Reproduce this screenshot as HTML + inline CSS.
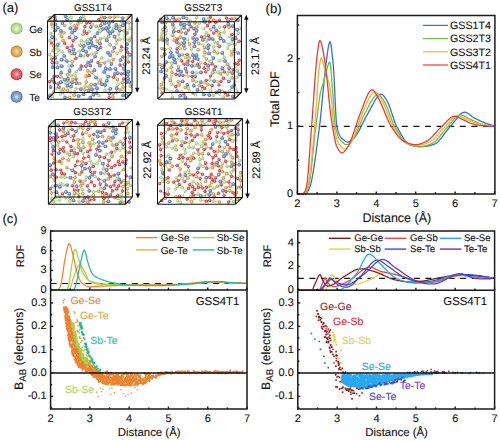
<!DOCTYPE html>
<html><head><meta charset="utf-8"><style>
html,body{margin:0;padding:0;background:#fff;width:500px;height:441px;overflow:hidden;}
svg{display:block;font-family:"Liberation Sans",sans-serif;text-rendering:geometricPrecision;}
text{stroke:currentColor;stroke-width:0.1px;}
</style></head><body><svg width="500" height="441" viewBox="0 0 500 441" font-family="Liberation Sans, sans-serif"><defs>
<radialGradient id="gge" cx="45%" cy="45%" r="55%"><stop offset="0" stop-color="#e0f4c8"/><stop offset="0.6" stop-color="#b0d888"/><stop offset="1" stop-color="#88b060"/></radialGradient>
<radialGradient id="gsb" cx="45%" cy="45%" r="55%"><stop offset="0" stop-color="#f8dca0"/><stop offset="0.6" stop-color="#dca450"/><stop offset="1" stop-color="#b07c30"/></radialGradient>
<radialGradient id="gse" cx="45%" cy="45%" r="55%"><stop offset="0" stop-color="#f8a0a0"/><stop offset="0.6" stop-color="#e04848"/><stop offset="1" stop-color="#b02828"/></radialGradient>
<radialGradient id="gte" cx="45%" cy="45%" r="55%"><stop offset="0" stop-color="#b8cce8"/><stop offset="0.6" stop-color="#6488c4"/><stop offset="1" stop-color="#4868a0"/></radialGradient>
<radialGradient id="Lge" cx="50%" cy="50%" r="50%"><stop offset="0" stop-color="#ffffff"/><stop offset="0.25" stop-color="#d8f0b8"/><stop offset="0.75" stop-color="#b0d888"/><stop offset="1" stop-color="#90b868"/></radialGradient>
<radialGradient id="Lsb" cx="50%" cy="50%" r="50%"><stop offset="0" stop-color="#fff8e0"/><stop offset="0.25" stop-color="#f0c878"/><stop offset="0.75" stop-color="#dca050"/><stop offset="1" stop-color="#b88038"/></radialGradient>
<radialGradient id="Lse" cx="50%" cy="50%" r="50%"><stop offset="0" stop-color="#ffffff"/><stop offset="0.25" stop-color="#f08890"/><stop offset="0.75" stop-color="#e05058"/><stop offset="1" stop-color="#b83840"/></radialGradient>
<radialGradient id="Lte" cx="50%" cy="50%" r="50%"><stop offset="0" stop-color="#ffffff"/><stop offset="0.25" stop-color="#a8c0e8"/><stop offset="0.75" stop-color="#7090c8"/><stop offset="1" stop-color="#5070a8"/></radialGradient>
</defs><rect width="500" height="441" fill="#fff"/><text x="2.50" y="12.30" font-size="13" text-anchor="start" fill="#111" color="#111" >(a)</text><circle cx="16.6" cy="28.6" r="6" fill="url(#Lge)"/><text x="29.20" y="32.70" font-size="10.2" text-anchor="start" fill="#111" color="#111" >Ge</text><circle cx="16.6" cy="51.5" r="6" fill="url(#Lsb)"/><text x="29.20" y="55.50" font-size="10.2" text-anchor="start" fill="#111" color="#111" >Sb</text><circle cx="16.6" cy="74.2" r="6" fill="url(#Lse)"/><text x="29.20" y="77.60" font-size="10.2" text-anchor="start" fill="#111" color="#111" >Se</text><circle cx="16.6" cy="96.8" r="6" fill="url(#Lte)"/><text x="29.20" y="100.50" font-size="10.2" text-anchor="start" fill="#111" color="#111" >Te</text><path d="M125.8 34.2L124.6 35.5M128.5 30.7L130.1 28.5M115.0 27.9L113.6 27.7M91.5 25.6L92.2 24.1M90.0 29.2L89.1 31.3M104.9 87.7L104.7 90.5M116.3 43.6L116.5 41.8M116.3 43.6L115.3 45.7M116.3 43.6L118.1 41.5M118.1 41.5L119.9 39.3M60.4 90.1L61.6 91.0M60.4 90.1L62.0 89.6M60.4 90.1L59.6 88.5M66.4 84.4L65.3 83.1M72.3 93.6L70.6 92.1M70.4 65.6L68.9 65.8M76.2 71.4L75.8 73.5M75.8 73.5L75.4 75.6M76.2 71.4L78.2 70.2M76.2 71.4L73.8 73.5M73.8 73.5L71.3 75.6M60.8 35.1L59.9 33.8M117.6 82.0L117.9 84.5M84.9 53.9L83.6 56.1M100.0 26.9L99.3 28.3M93.9 53.4L91.7 53.9M119.0 52.1L117.1 53.5M91.7 53.9L89.7 54.6M91.7 53.9L93.4 55.2M102.7 38.3L104.7 37.8M63.2 53.9L62.2 51.8M79.6 23.0L81.4 22.2M111.2 60.0L109.0 60.5M78.4 88.8L76.0 88.4M82.8 87.5L84.9 85.9M63.0 82.6L65.3 83.1M80.7 42.8L81.3 40.4M83.0 21.1L81.4 22.2M84.0 18.1L83.4 16.1M116.6 35.3L118.7 33.9M99.0 95.7L97.8 94.4M79.4 51.0L81.2 50.6M79.4 51.0L79.9 53.2M79.4 51.0L77.0 52.3M84.9 85.9L84.8 87.9M84.9 85.9L86.9 86.5M84.9 85.9L85.6 83.9M128.0 95.9L127.2 97.4M126.2 92.1L123.6 89.8M89.6 39.3L88.2 39.7M123.4 88.3L123.6 89.8M82.1 17.1L83.4 16.1M81.1 20.2L81.4 22.2M56.7 54.7L55.9 56.3M56.7 54.7L57.4 52.3M57.4 52.3L58.2 49.9M56.7 54.7L54.9 52.6M71.2 17.2L69.0 18.6M71.2 17.2L71.0 20.0M71.0 20.0L70.8 22.8M71.2 17.2L68.3 16.7M65.1 81.4L65.3 83.1M62.0 33.3L59.9 33.8M122.2 23.7L121.5 21.9M82.0 55.7L83.6 56.1M81.3 40.4L83.4 41.0M83.4 41.0L85.4 41.6M81.3 40.4L82.6 43.1M53.9 25.6L52.6 26.8M67.9 63.4L68.9 65.8M70.5 73.2L71.3 75.6M69.3 68.3L68.9 65.8M84.6 43.7L85.4 41.6M97.8 27.3L99.3 28.3M94.3 25.2L92.2 24.1M56.9 46.2L55.9 47.7M58.0 47.3L58.2 49.9M105.8 39.0L104.7 37.8M115.0 52.3L117.1 53.5M59.9 33.8L60.5 32.4M60.4 94.0L61.7 93.0M60.4 94.0L62.0 91.5M50.4 41.7L49.5 40.3M53.4 41.0L55.4 39.0M121.5 21.9L123.2 22.3M121.5 21.9L122.1 20.0M70.6 92.1L69.1 91.1M70.6 92.1L72.6 92.2M125.8 41.7L124.6 39.2M69.4 75.1L71.3 75.6M52.6 26.8L52.1 25.3M52.6 26.8L54.0 28.6M127.6 54.6L127.6 57.0M113.6 27.7L113.0 29.5M113.6 27.7L114.9 26.3M91.0 23.2L92.2 24.1M117.7 16.5L116.2 16.8M117.7 16.5L120.2 17.3M125.2 56.9L127.6 57.0M124.1 58.9L125.4 60.9M109.0 60.5L110.2 62.2M109.0 60.5L106.8 61.6M49.4 54.6L50.6 56.8M49.4 54.6L51.2 52.5M49.4 54.6L52.3 56.2M104.7 90.5L107.1 92.0M104.7 90.5L107.5 89.7M68.8 21.4L70.8 22.8M99.9 60.1L101.8 57.5M104.7 37.8L106.8 37.2M121.8 89.9L123.6 89.8M67.1 82.6L65.3 83.1M119.9 39.3L118.3 39.6M119.9 39.3L122.2 39.2M122.2 39.2L124.6 39.2M119.9 39.3L119.3 36.6M119.3 36.6L118.7 33.9M55.4 39.0L53.8 38.1M55.4 39.0L52.4 39.7M52.4 39.7L49.5 40.3M55.8 88.2L57.3 87.6M55.8 88.2L54.6 90.1M126.9 61.4L125.4 60.9M128.0 59.5L127.6 57.0M76.0 88.4L75.3 90.4M122.9 60.5L125.4 60.9M52.6 96.4L51.2 95.9M52.6 96.4L53.1 94.2M125.4 60.9L125.0 62.7M125.4 60.9L126.5 58.9M126.5 58.9L127.6 57.0M129.7 39.2L130.3 37.8M126.8 39.9L124.6 39.2M117.3 86.4L117.9 84.5M53.0 31.8L50.7 33.3M124.6 35.5L124.6 37.3M124.6 37.3L124.6 39.2M124.6 35.5L124.3 33.1M118.7 33.9L119.2 32.2M50.8 38.8L49.5 40.3M51.5 35.3L50.7 33.3M130.1 28.5L129.4 25.4M130.1 28.5L127.0 29.6M128.8 55.9L127.6 57.0M54.5 49.1L55.9 47.7M55.6 50.2L58.2 49.9M86.7 42.6L85.4 41.6M88.1 41.6L88.2 39.7M89.1 31.3L88.0 32.3M75.4 75.6L75.8 77.3M75.4 75.6L73.4 75.6M73.4 75.6L71.3 75.6M88.2 39.7L86.8 40.6M86.8 40.6L85.4 41.6M100.3 31.3L99.8 29.8M99.8 29.8L99.3 28.3M100.3 31.3L98.9 32.2M100.3 31.3L101.7 30.1M62.2 51.8L60.2 50.9M60.2 50.9L58.2 49.9M101.2 28.7L99.3 28.3M83.6 56.1L85.7 55.7M58.2 49.9L57.1 48.8M57.1 48.8L55.9 47.7M98.4 30.7L99.3 28.3M117.9 84.5L120.2 83.5M72.0 77.5L71.3 75.6M55.9 47.7L54.8 46.6M80.0 21.4L81.4 22.2M130.3 37.8L127.4 38.5M127.4 38.5L124.6 39.2M123.6 89.8L123.4 92.6M125.2 96.4L127.2 97.4" stroke="#b0d488" stroke-width="0.9" fill="none"/><path d="M125.4 31.9L124.0 30.8M118.1 27.2L119.7 26.2M84.2 92.0L84.7 89.8M116.5 41.8L116.7 40.0M98.3 78.8L100.6 80.0M97.6 80.2L99.3 82.8M94.0 75.0L92.0 72.5M116.4 92.3L114.8 92.7M114.8 92.7L113.1 93.2M116.4 92.3L116.6 90.3M116.4 92.3L118.2 91.2M118.2 91.2L119.9 90.0M60.8 76.9L59.1 76.6M60.8 76.9L61.0 74.8M60.8 76.9L62.8 78.3M61.6 91.0L62.9 92.0M62.0 89.6L63.5 89.1M68.2 83.9L68.9 82.1M74.0 95.2L74.3 93.8M74.3 93.8L74.6 92.3M74.0 95.2L72.3 93.6M74.0 95.2L76.3 95.6M72.1 63.6L72.2 61.8M61.6 36.4L60.8 35.1M61.6 36.4L62.8 34.6M62.8 34.6L64.0 32.8M61.6 36.4L62.3 38.4M62.3 38.4L63.1 40.5M72.4 27.0L74.4 25.8M117.3 79.4L115.4 78.3M117.3 79.4L117.6 82.0M117.3 79.4L116.0 76.8M75.5 27.0L74.4 25.8M77.2 26.0L77.8 23.9M101.3 23.3L101.9 21.3M68.4 80.4L68.9 82.1M67.7 76.7L67.4 74.7M129.9 84.2L130.3 86.3M86.2 76.3L87.7 76.0M86.2 76.3L86.3 79.1M86.3 79.1L86.3 81.9M86.2 76.3L87.0 73.6M87.0 73.6L87.7 70.8M96.1 52.8L95.6 54.7M96.1 52.8L97.1 51.1M96.1 52.8L93.9 53.4M69.3 88.4L67.5 90.2M120.9 50.6L121.1 48.6M120.9 50.6L119.0 52.1M120.9 50.6L123.8 49.6M63.9 41.8L63.1 40.5M71.6 53.4L73.1 53.4M71.6 53.4L70.5 52.1M71.6 53.4L72.5 51.4M63.1 40.5L60.4 42.6M101.9 21.3L103.3 22.2M101.9 21.3L100.3 20.4M100.6 38.8L98.9 39.9M98.9 39.9L97.1 40.9M100.6 38.8L102.7 38.3M100.6 38.8L100.3 41.2M77.8 23.9L78.2 22.2M77.8 23.9L76.1 24.8M76.1 24.8L74.4 25.8M77.8 23.9L79.6 23.0M54.7 64.8L56.7 62.4M113.4 59.4L111.2 60.0M113.4 59.4L112.4 61.6M113.4 59.4L111.7 57.3M50.1 17.6L52.4 17.0M50.1 17.6L52.7 18.7M50.1 17.6L50.9 20.8M50.9 20.8L51.6 23.9M82.7 89.5L84.7 89.8M80.1 45.2L82.0 45.5M80.1 45.2L80.7 42.8M80.1 45.2L81.6 47.7M84.6 20.1L85.6 21.5M84.6 20.1L83.0 21.1M84.6 20.1L84.0 18.1M115.6 38.3L116.7 40.0M84.8 87.9L84.7 89.8M86.9 86.5L88.9 87.1M85.6 83.9L86.3 81.9M83.8 32.6L83.2 34.3M113.1 93.2L111.3 93.3M113.1 93.2L113.0 95.2M113.0 95.2L112.9 97.1M123.1 86.8L123.4 88.3M123.1 86.8L122.7 84.6M122.7 84.6L122.4 82.4M123.1 86.8L121.5 88.4M121.5 88.4L119.9 90.0M88.9 87.1L90.1 85.8M90.1 85.8L91.3 84.5M88.9 87.1L88.7 88.9M88.9 87.1L90.4 88.2M54.9 52.6L53.1 50.5M66.9 80.8L68.9 82.1M64.0 32.8L62.5 31.9M64.0 32.8L62.0 33.3M121.3 25.8L119.7 26.2M103.1 17.3L101.6 16.9M107.3 17.4L110.0 17.2M53.5 24.1L51.6 23.9M76.7 94.1L74.6 92.3M69.5 61.4L72.2 61.8M68.5 72.8L67.4 74.7M96.4 26.2L97.8 27.3M96.4 26.2L94.3 25.2M55.7 45.1L53.6 45.4M107.8 38.4L108.8 36.6M108.5 42.5L110.2 44.8M112.8 51.2L113.6 49.5M112.8 51.2L115.0 52.3M112.8 51.2L111.4 53.1M74.0 60.0L72.2 61.8M59.2 61.0L56.7 62.4M57.1 64.9L56.7 62.4M61.7 93.0L62.9 92.0M62.0 91.5L63.5 89.1M52.5 44.2L53.6 45.4M69.1 91.1L67.5 90.2M72.6 92.2L74.6 92.3M128.1 42.4L129.1 40.6M67.4 74.7L69.4 75.1M59.3 64.3L56.7 62.4M52.1 25.3L51.6 23.9M63.6 24.3L64.7 25.5M116.2 16.8L114.6 17.0M105.2 65.5L104.7 62.7M100.2 18.2L101.6 16.9M106.8 61.6L104.7 62.7M54.4 62.4L56.7 62.4M95.9 38.7L97.1 40.9M56.7 62.4L55.9 60.2M124.4 82.3L122.4 82.4M51.2 52.5L53.1 50.5M83.2 34.3L85.0 33.9M87.7 70.8L89.9 71.6M89.9 71.6L92.0 72.5M87.7 70.8L88.5 73.3M87.7 70.8L86.8 68.4M114.6 17.0L112.3 17.1M112.3 17.1L110.0 17.2M114.6 17.0L113.6 19.3M93.2 84.6L91.3 84.5M97.2 83.7L99.3 82.8M101.3 62.7L104.7 62.7M100.6 80.0L100.0 81.4M100.0 81.4L99.3 82.8M100.6 80.0L101.4 82.2M106.8 37.2L108.8 36.6M91.3 84.5L91.7 86.9M119.9 90.0L121.8 89.9M119.9 90.0L118.3 89.1M118.0 25.6L119.7 26.2M68.9 82.1L70.5 82.3M68.9 82.1L67.1 82.6M129.2 16.5L129.0 19.5M129.0 19.5L128.7 22.4M129.2 16.5L125.9 17.3M118.3 39.6L116.7 40.0M54.6 90.1L53.5 91.9M75.3 90.4L74.6 92.3M53.1 94.2L53.5 91.9M129.1 40.6L129.7 39.2M129.1 40.6L126.8 39.9M79.6 83.6L78.0 83.4M84.7 89.8L86.6 90.2M124.3 33.1L124.0 30.8M129.4 25.4L128.7 22.4M127.0 29.6L124.0 30.8M53.1 50.5L54.5 49.1M53.1 50.5L55.6 50.2M53.1 50.5L53.4 48.0M53.4 48.0L53.6 45.4M100.7 83.6L99.3 82.8M93.2 71.4L92.0 72.5M92.0 72.5L90.6 74.1M97.1 40.9L98.6 42.2M112.3 46.3L110.2 44.8M112.9 97.1L111.0 97.3M53.5 91.9L51.6 93.7M126.8 22.6L128.7 22.4M53.4 21.8L51.6 23.9M108.8 36.6L109.4 34.9M69.6 97.5L67.4 97.5M124.0 30.8L121.9 30.6M123.0 80.7L122.4 82.4M67.5 90.2L65.5 89.6M65.5 89.6L63.5 89.1M120.2 83.5L122.4 82.4M72.8 79.4L72.4 80.9M72.8 79.4L74.4 79.2M72.8 79.4L72.0 77.5M64.0 94.8L62.9 92.0M54.8 46.6L53.6 45.4M62.9 92.0L63.2 90.6M63.2 90.6L63.5 89.1M104.7 62.7L102.2 64.2M74.5 28.1L74.4 25.8" stroke="#dcae68" stroke-width="0.9" fill="none"/><path d="M90.3 24.7L89.8 22.3M59.1 76.6L57.3 76.3M119.9 65.1L122.3 64.7M119.9 65.1L120.1 62.5M119.9 65.1L121.9 67.0M80.7 67.5L81.2 65.9M115.4 78.3L113.5 77.2M76.7 28.1L75.7 29.2M76.7 28.1L75.5 27.0M76.7 28.1L77.2 26.0M87.0 53.5L87.7 55.3M98.2 47.0L100.6 47.5M87.7 76.0L89.2 75.7M54.6 82.7L56.3 83.3M56.3 83.3L58.0 83.8M54.6 82.7L53.6 81.2M54.6 82.7L52.0 82.1M52.0 82.1L49.4 81.5M121.1 48.6L121.4 46.7M90.8 63.3L90.3 65.7M64.7 43.2L63.9 41.8M64.7 43.2L66.0 45.4M66.0 45.4L67.3 47.6M89.7 54.6L87.7 55.3M100.3 20.4L98.8 19.4M68.3 49.3L67.3 47.6M59.4 83.0L58.0 83.8M85.6 21.5L86.7 23.0M127.2 50.4L127.7 52.2M124.1 47.7L121.4 46.7M58.0 83.8L58.4 85.4M110.8 76.9L113.5 77.2M85.7 32.2L86.9 33.4M84.7 28.7L84.9 26.4M92.8 37.7L94.6 36.5M78.2 56.8L75.9 58.3M89.2 64.1L90.3 65.7M75.9 58.3L75.3 55.9M75.9 58.3L74.0 60.0M59.3 74.5L57.3 76.3M51.4 43.0L52.5 44.2M51.4 43.0L50.4 41.7M51.4 43.0L53.4 41.0M110.8 22.3L112.7 21.5M127.7 52.2L128.8 53.5M127.7 52.2L127.6 54.6M89.8 22.3L91.0 23.2M89.8 22.3L88.2 22.7M88.2 22.7L86.7 23.0M123.0 73.5L121.4 73.8M122.9 56.8L121.6 58.4M122.9 56.8L125.2 56.9M122.9 56.8L124.1 58.9M98.8 19.4L100.2 18.2M100.6 47.5L99.3 48.4M100.6 47.5L100.3 45.5M52.0 60.8L51.9 59.1M94.6 36.5L96.0 34.8M94.6 36.5L95.9 38.7M51.0 80.6L49.4 81.5M50.6 56.8L51.9 59.1M85.0 33.9L86.9 33.4M88.5 73.3L89.2 75.7M113.6 19.3L112.7 21.5M98.0 62.7L98.9 64.2M98.0 62.7L99.9 60.1M98.0 62.7L101.3 62.7M57.3 76.3L55.8 76.3M113.5 77.2L114.1 75.7M90.3 65.7L88.0 65.8M128.5 62.0L126.9 61.4M128.5 62.0L126.6 63.2M128.5 62.0L128.0 59.5M81.2 65.9L83.5 65.9M119.6 73.4L121.4 73.8M74.5 39.1L73.2 40.6M88.0 32.3L86.9 33.4M75.8 77.3L76.1 79.0M109.3 95.4L109.1 97.5M72.1 45.9L72.7 47.7M72.1 45.9L69.7 46.8M69.7 46.8L67.3 47.6M72.1 45.9L72.6 43.3M72.6 43.3L73.2 40.6M90.6 74.1L89.2 75.7M51.9 59.1L53.5 58.5M111.0 97.3L109.1 97.5M50.0 84.3L49.4 81.5M123.6 78.9L123.0 80.7M123.6 78.9L125.8 78.7M85.7 55.7L87.7 55.3M76.3 81.1L76.1 79.0M74.4 79.2L76.1 79.0M69.3 37.6L71.2 39.1M71.2 39.1L73.2 40.6M69.3 37.6L70.7 35.1M86.7 23.0L85.8 24.7M85.8 24.7L84.9 26.4" stroke="#e07a7a" stroke-width="0.9" fill="none"/><path d="M126.9 33.0L125.8 34.2M126.9 33.0L125.4 31.9M126.9 33.0L128.5 30.7M116.5 28.2L115.0 27.9M116.5 28.2L116.4 26.6M116.4 26.6L116.3 24.9M116.5 28.2L118.1 27.2M90.8 27.1L91.5 25.6M90.8 27.1L90.0 29.2M90.8 27.1L90.3 24.7M105.2 84.8L103.6 84.6M103.6 84.6L102.1 84.4M105.2 84.8L106.0 82.7M106.0 82.7L106.8 80.7M105.2 84.8L104.9 87.7M83.7 94.2L84.2 92.0M83.7 94.2L81.2 95.1M81.2 95.1L78.7 96.0M83.7 94.2L82.2 91.7M82.2 91.7L80.8 89.1M115.3 45.7L114.3 47.8M95.9 77.5L98.3 78.8M95.9 77.5L97.6 80.2M95.9 77.5L94.0 75.0M116.6 90.3L116.7 88.2M61.0 74.8L61.2 72.7M62.8 78.3L64.8 79.6M59.6 88.5L58.9 87.0M67.4 85.7L66.4 84.4M67.4 85.7L69.3 86.2M69.3 86.2L71.1 86.6M67.4 85.7L68.2 83.9M76.3 95.6L78.7 96.0M91.2 42.3L92.0 43.8M92.0 43.8L92.7 45.3M91.2 42.3L89.6 43.0M89.6 43.0L88.0 43.6M91.2 42.3L91.1 40.6M91.1 40.6L91.1 38.9M72.0 65.5L70.4 65.6M72.0 65.5L72.1 63.6M72.0 65.5L70.8 68.1M70.8 68.1L69.6 70.8M78.2 70.2L80.2 69.0M122.3 64.7L124.7 64.4M120.1 62.5L120.4 60.0M121.9 67.0L124.0 68.9M70.4 28.2L71.2 30.4M71.2 30.4L72.1 32.5M70.4 28.2L72.4 27.0M70.4 28.2L72.5 29.3M72.5 29.3L74.6 30.4M80.2 69.0L80.7 67.5M80.2 69.0L83.0 67.5M83.0 67.5L85.8 66.0M116.0 76.8L114.8 74.1M75.7 29.2L74.6 30.4M86.2 51.8L84.6 51.0M84.6 51.0L83.0 50.2M86.2 51.8L87.0 53.5M86.2 51.8L84.9 53.9M95.8 46.5L94.2 45.9M94.2 45.9L92.7 45.3M95.8 46.5L96.9 47.9M96.9 47.9L98.0 49.3M95.8 46.5L98.2 47.0M100.7 25.4L100.0 26.9M100.7 25.4L101.3 23.3M100.7 25.4L101.9 27.2M101.9 27.2L103.1 29.0M68.0 78.7L66.4 79.2M66.4 79.2L64.8 79.6M68.0 78.7L68.4 80.4M68.0 78.7L67.7 76.7M129.5 82.0L127.9 82.1M127.9 82.1L126.4 82.2M129.5 82.0L128.7 80.2M128.7 80.2L128.0 78.4M129.5 82.0L129.9 84.2M95.6 54.7L95.1 56.5M97.1 51.1L98.0 49.3M71.1 86.6L71.6 84.6M71.6 84.6L72.1 82.5M71.1 86.6L69.3 88.4M53.6 81.2L52.5 79.7M123.8 49.6L126.7 48.6M91.4 60.9L89.7 61.7M89.7 61.7L88.0 62.6M91.4 60.9L90.8 63.3M91.4 60.9L93.2 58.7M93.2 58.7L95.1 56.5M73.1 53.4L74.6 53.5M70.5 52.1L69.4 50.9M72.5 51.4L73.4 49.5M104.0 71.9L104.9 70.1M104.9 70.1L105.8 68.4M104.0 71.9L106.1 74.2M106.1 74.2L108.1 76.6M104.0 71.9L107.0 70.4M107.0 70.4L110.0 69.0M93.4 55.2L95.1 56.5M60.4 42.6L57.8 44.7M103.3 22.2L104.7 23.2M100.3 41.2L100.0 43.5M64.2 56.0L62.9 57.8M62.9 57.8L61.7 59.6M64.2 56.0L63.2 53.9M64.2 56.0L65.5 58.5M65.5 58.5L66.8 61.0M78.2 22.2L78.6 20.6M106.8 80.7L107.5 78.6M107.5 78.6L108.1 76.6M106.8 80.7L104.5 82.6M104.5 82.6L102.1 84.4M52.6 67.1L52.4 64.8M52.4 64.8L52.2 62.5M52.6 67.1L55.1 67.3M55.1 67.3L57.5 67.5M52.6 67.1L54.7 64.8M69.4 50.9L68.3 49.3M69.4 50.9L71.4 50.2M71.4 50.2L73.4 49.5M112.4 61.6L111.4 63.8M111.7 57.3L110.0 55.1M52.4 17.0L54.7 16.5M52.7 18.7L55.3 19.7M80.8 89.1L82.7 89.5M80.8 89.1L78.4 88.8M80.8 89.1L82.8 87.5M60.7 82.2L59.4 83.0M60.7 82.2L63.0 82.6M60.7 82.2L62.8 80.9M62.8 80.9L64.8 79.6M82.0 45.5L83.8 45.9M81.6 47.7L83.0 50.2M114.5 36.7L115.6 38.3M114.5 36.7L116.6 35.3M114.5 36.7L112.3 35.0M112.3 35.0L110.0 33.3M93.3 94.7L95.0 93.9M95.0 93.9L96.7 93.1M93.3 94.7L91.8 96.2M91.8 96.2L90.3 97.7M93.3 94.7L92.7 92.0M92.7 92.0L92.0 89.4M97.8 94.4L96.7 93.1M126.7 48.6L127.2 50.4M126.7 48.6L126.9 46.4M126.9 46.4L127.0 44.2M126.7 48.6L124.1 47.7M81.2 50.6L83.0 50.2M79.9 53.2L80.5 55.4M77.0 52.3L74.6 53.5M58.4 85.4L58.9 87.0M108.1 76.6L110.8 76.9M128.8 94.4L128.0 95.9M128.8 94.4L126.0 94.8M126.0 94.8L123.2 95.3M128.8 94.4L126.2 92.1M84.4 31.0L85.7 32.2M84.4 31.0L83.8 32.6M84.4 31.0L84.7 28.7M111.3 93.3L109.5 93.4M91.1 38.9L89.6 39.3M91.1 38.9L92.8 37.7M88.7 88.9L88.6 90.7M90.4 88.2L92.0 89.4M80.7 18.1L79.7 19.4M79.7 19.4L78.6 20.6M80.7 18.1L82.1 17.1M80.7 18.1L81.1 20.2M55.9 56.3L55.2 57.9M69.0 18.6L66.9 19.9M68.3 16.7L65.4 16.1M64.8 79.6L65.1 81.4M64.8 79.6L66.9 80.8M62.5 31.9L61.0 30.9M122.9 25.4L121.3 25.8M122.9 25.4L123.9 24.0M123.9 24.0L124.9 22.7M122.9 25.4L122.2 23.7M104.6 17.6L103.1 17.3M104.6 17.6L107.3 17.4M80.5 55.4L82.0 55.7M80.5 55.4L78.2 56.8M82.6 43.1L83.8 45.9M55.3 24.3L53.5 24.1M55.3 24.3L53.9 25.6M55.3 24.3L56.6 26.0M56.6 26.0L57.8 27.6M128.4 71.5L128.1 73.1M128.1 73.1L127.8 74.7M128.4 71.5L126.5 72.3M126.5 72.3L124.6 73.1M128.4 71.5L126.2 70.2M126.2 70.2L124.0 68.9M78.7 96.0L76.7 94.1M66.8 61.0L67.9 63.4M66.8 61.0L64.3 60.3M64.3 60.3L61.7 59.6M66.8 61.0L69.5 61.4M69.6 70.8L68.5 72.8M69.6 70.8L70.5 73.2M69.6 70.8L69.3 68.3M83.8 45.9L83.4 48.0M83.4 48.0L83.0 50.2M83.8 45.9L84.6 43.7M57.8 27.6L56.6 29.0M56.6 29.0L55.3 30.3M57.8 27.6L59.4 29.3M59.4 29.3L61.0 30.9M92.7 45.3L91.0 46.4M91.0 46.4L89.3 47.6M57.8 44.7L56.9 46.2M57.8 44.7L55.7 45.1M57.8 44.7L58.0 47.3M106.8 40.2L105.8 39.0M106.8 40.2L107.8 38.4M106.8 40.2L108.5 42.5M113.6 49.5L114.3 47.8M111.4 53.1L110.0 55.1M88.0 62.6L89.2 64.1M88.0 62.6L86.9 64.3M86.9 64.3L85.8 66.0M60.5 32.4L61.0 30.9M75.3 55.9L74.6 53.5M61.7 59.6L59.2 61.0M57.5 67.5L59.7 66.8M59.7 66.8L61.8 66.2M57.5 67.5L57.1 64.9M61.2 72.7L59.3 74.5M123.2 22.3L124.9 22.7M122.1 20.0L122.6 18.1M127.0 44.2L128.1 42.4M127.0 44.2L125.8 41.7M109.0 23.1L109.0 25.0M109.0 25.0L109.0 27.0M109.0 23.1L110.8 22.3M109.0 23.1L106.8 23.1M106.8 23.1L104.7 23.2M110.0 69.0L107.9 68.7M107.9 68.7L105.8 68.4M110.0 69.0L110.7 66.4M110.7 66.4L111.4 63.8M110.0 69.0L112.8 68.9M112.8 68.9L115.6 68.8M61.8 66.2L59.3 64.3M54.0 28.6L55.3 30.3M128.8 53.5L129.9 54.9M62.4 23.0L63.6 24.3M62.4 23.0L64.6 21.5M64.6 21.5L66.9 19.9M113.0 29.5L112.5 31.3M114.9 26.3L116.3 24.9M120.2 17.3L122.6 18.1M124.6 73.1L123.0 73.5M124.6 73.1L126.2 73.9M126.2 73.9L127.8 74.7M105.8 68.4L105.2 65.5M74.6 53.5L74.0 51.5M74.0 51.5L73.4 49.5M115.6 68.8L116.7 71.0M116.7 71.0L117.7 73.1M115.6 68.8L115.2 71.5M115.2 71.5L114.8 74.1M121.6 58.4L120.4 60.0M110.2 62.2L111.4 63.8M99.3 48.4L98.0 49.3M100.3 45.5L100.0 43.5M52.2 62.5L52.0 60.8M52.2 62.5L54.4 62.4M96.0 34.8L97.4 33.1M52.5 79.7L51.0 80.6M52.5 79.7L53.4 78.0M53.4 78.0L54.2 76.3M55.9 60.2L55.2 57.9M126.4 82.2L124.4 82.3M126.4 82.2L127.2 80.3M127.2 80.3L128.0 78.4M52.3 56.2L55.2 57.9M107.1 92.0L109.5 93.4M107.5 89.7L110.3 88.8M86.8 68.4L85.8 66.0M95.1 84.7L93.2 84.6M95.1 84.7L96.1 86.6M96.1 86.6L97.0 88.4M95.1 84.7L97.2 83.7M66.9 19.9L66.1 18.0M66.1 18.0L65.4 16.1M66.9 19.9L68.8 21.4M98.9 64.2L99.8 65.6M101.4 82.2L102.1 84.4M55.8 76.3L54.2 76.3M91.7 86.9L92.0 89.4M118.3 89.1L116.7 88.2M110.0 55.1L109.0 53.9M109.0 53.9L108.0 52.7M116.3 24.9L118.0 25.6M114.1 75.7L114.8 74.1M70.5 82.3L72.1 82.5M88.0 65.8L85.8 66.0M125.9 17.3L122.6 18.1M53.8 38.1L52.2 37.2M57.3 87.6L58.9 87.0M126.6 63.2L124.7 64.4M120.4 60.0L122.9 60.5M108.0 30.9L109.0 32.1M109.0 32.1L110.0 33.3M108.0 30.9L107.1 29.6M107.1 29.6L106.2 28.2M108.0 30.9L108.5 29.0M108.5 29.0L109.0 27.0M51.2 95.9L49.8 95.4M125.0 62.7L124.7 64.4M109.0 27.0L107.6 27.6M107.6 27.6L106.2 28.2M78.0 83.4L76.4 83.1M116.7 88.2L117.3 86.4M86.6 90.2L88.6 90.7M55.3 30.3L53.0 31.8M119.2 32.2L119.8 30.4M83.5 65.9L85.8 66.0M52.2 37.2L50.8 38.8M52.2 37.2L51.5 35.3M129.9 54.9L128.8 55.9M117.7 73.1L116.2 73.6M116.2 73.6L114.8 74.1M117.7 73.1L119.6 73.4M97.0 88.4L96.9 90.7M96.9 90.7L96.7 93.1M97.0 88.4L94.5 88.9M94.5 88.9L92.0 89.4M75.9 37.7L74.5 39.1M75.9 37.7L74.0 35.1M74.0 35.1L72.1 32.5M88.6 90.7L90.3 90.0M90.3 90.0L92.0 89.4M88.0 43.6L86.7 42.6M88.0 43.6L88.1 41.6M124.7 64.4L124.4 66.7M124.4 66.7L124.0 68.9M109.5 93.4L109.3 95.4M109.5 93.4L109.9 91.1M109.9 91.1L110.3 88.8M102.1 84.4L100.7 83.6M94.4 70.2L93.2 71.4M72.7 47.7L73.4 49.5M98.9 32.2L97.4 33.1M101.7 30.1L103.1 29.0M122.6 18.1L123.8 20.4M123.8 20.4L124.9 22.7M98.6 42.2L100.0 43.5M53.5 58.5L55.2 57.9M114.3 47.8L112.3 46.3M54.7 16.5L55.0 18.1M55.0 18.1L55.3 19.7M51.6 93.7L49.8 95.4M124.9 22.7L126.8 22.6M50.6 87.1L50.0 84.3M55.3 19.7L53.4 21.8M109.4 34.9L110.0 33.3M67.4 97.5L65.1 97.5M103.1 29.0L104.7 28.6M104.7 28.6L106.2 28.2M103.1 29.0L101.2 28.7M121.9 30.6L119.8 30.4M125.8 78.7L128.0 78.4M76.4 83.1L76.3 81.1M76.4 83.1L74.2 82.8M74.2 82.8L72.1 82.5M97.4 33.1L98.4 30.7M72.4 80.9L72.1 82.5M65.1 97.5L64.0 94.8M78.6 20.6L80.0 21.4M102.2 64.2L99.8 65.6M112.5 31.3L111.2 32.3M111.2 32.3L110.0 33.3M74.6 30.4L73.3 31.5M73.3 31.5L72.1 32.5M74.6 30.4L74.5 28.1M123.4 92.6L123.2 95.3M70.7 35.1L72.1 32.5M123.2 95.3L125.2 96.4M127.8 74.7L127.9 76.5M127.9 76.5L128.0 78.4" stroke="#8ca4d0" stroke-width="0.9" fill="none"/><circle cx="88.2" cy="39.7" r="1.6" fill="url(#gge)"/><circle cx="85.4" cy="41.6" r="1.6" fill="url(#gge)"/><circle cx="51.4" cy="43.0" r="1.6" fill="url(#gse)"/><circle cx="99.3" cy="82.8" r="1.75" fill="url(#gsb)"/><circle cx="96.1" cy="52.8" r="1.75" fill="url(#gsb)"/><circle cx="119.7" cy="26.2" r="1.75" fill="url(#gsb)"/><circle cx="118.7" cy="33.9" r="1.6" fill="url(#gge)"/><circle cx="100.6" cy="38.8" r="1.75" fill="url(#gsb)"/><circle cx="65.3" cy="83.1" r="1.6" fill="url(#gge)"/><circle cx="123.6" cy="78.9" r="1.6" fill="url(#gse)"/><circle cx="54.7" cy="16.5" r="1.85" fill="url(#gte)"/><circle cx="75.9" cy="37.7" r="1.85" fill="url(#gte)"/><circle cx="67.4" cy="85.7" r="1.85" fill="url(#gte)"/><circle cx="69.4" cy="50.9" r="1.85" fill="url(#gte)"/><circle cx="97.1" cy="40.9" r="1.75" fill="url(#gsb)"/><circle cx="62.4" cy="23.0" r="1.85" fill="url(#gte)"/><circle cx="122.6" cy="18.1" r="1.85" fill="url(#gte)"/><circle cx="129.9" cy="54.9" r="1.85" fill="url(#gte)"/><circle cx="108.0" cy="52.7" r="1.85" fill="url(#gte)"/><circle cx="74.6" cy="30.4" r="1.85" fill="url(#gte)"/><circle cx="56.7" cy="62.4" r="1.75" fill="url(#gsb)"/><circle cx="80.8" cy="89.1" r="1.85" fill="url(#gte)"/><circle cx="70.8" cy="22.8" r="1.6" fill="url(#gge)"/><circle cx="49.5" cy="40.3" r="1.6" fill="url(#gge)"/><circle cx="50.6" cy="87.1" r="1.85" fill="url(#gte)"/><circle cx="69.6" cy="70.8" r="1.85" fill="url(#gte)"/><circle cx="106.8" cy="40.2" r="1.85" fill="url(#gte)"/><circle cx="113.6" cy="27.7" r="1.6" fill="url(#gge)"/><circle cx="114.6" cy="17.0" r="1.75" fill="url(#gsb)"/><circle cx="88.6" cy="90.7" r="1.85" fill="url(#gte)"/><circle cx="52.6" cy="67.1" r="1.85" fill="url(#gte)"/><circle cx="58.0" cy="83.8" r="1.6" fill="url(#gse)"/><circle cx="104.6" cy="17.6" r="1.85" fill="url(#gte)"/><circle cx="84.7" cy="89.8" r="1.75" fill="url(#gsb)"/><circle cx="126.9" cy="33.0" r="1.85" fill="url(#gte)"/><circle cx="76.2" cy="71.4" r="1.6" fill="url(#gge)"/><circle cx="61.2" cy="72.7" r="1.85" fill="url(#gte)"/><circle cx="117.1" cy="53.5" r="1.6" fill="url(#gge)"/><circle cx="84.9" cy="85.9" r="1.6" fill="url(#gge)"/><circle cx="49.4" cy="81.5" r="1.6" fill="url(#gse)"/><circle cx="106.8" cy="80.7" r="1.85" fill="url(#gte)"/><circle cx="66.8" cy="61.0" r="1.85" fill="url(#gte)"/><circle cx="53.5" cy="91.9" r="1.75" fill="url(#gsb)"/><circle cx="71.6" cy="53.4" r="1.75" fill="url(#gsb)"/><circle cx="91.2" cy="42.3" r="1.85" fill="url(#gte)"/><circle cx="114.8" cy="74.1" r="1.85" fill="url(#gte)"/><circle cx="96.7" cy="93.1" r="1.85" fill="url(#gte)"/><circle cx="130.3" cy="86.3" r="1.75" fill="url(#gsb)"/><circle cx="122.9" cy="56.8" r="1.6" fill="url(#gse)"/><circle cx="100.3" cy="31.3" r="1.6" fill="url(#gge)"/><circle cx="77.8" cy="23.9" r="1.75" fill="url(#gsb)"/><circle cx="59.9" cy="33.8" r="1.6" fill="url(#gge)"/><circle cx="84.6" cy="20.1" r="1.75" fill="url(#gsb)"/><circle cx="64.7" cy="25.5" r="1.75" fill="url(#gsb)"/><circle cx="87.7" cy="70.8" r="1.75" fill="url(#gsb)"/><circle cx="124.0" cy="68.9" r="1.85" fill="url(#gte)"/><circle cx="89.8" cy="22.3" r="1.6" fill="url(#gse)"/><circle cx="58.9" cy="87.0" r="1.85" fill="url(#gte)"/><circle cx="62.2" cy="51.8" r="1.6" fill="url(#gge)"/><circle cx="100.6" cy="80.0" r="1.75" fill="url(#gsb)"/><circle cx="71.3" cy="75.6" r="1.6" fill="url(#gge)"/><circle cx="60.4" cy="94.0" r="1.6" fill="url(#gge)"/><circle cx="83.2" cy="34.3" r="1.75" fill="url(#gsb)"/><circle cx="110.0" cy="55.1" r="1.85" fill="url(#gte)"/><circle cx="69.3" cy="37.6" r="1.6" fill="url(#gse)"/><circle cx="91.3" cy="84.5" r="1.75" fill="url(#gsb)"/><circle cx="91.4" cy="60.9" r="1.85" fill="url(#gte)"/><circle cx="67.4" cy="74.7" r="1.75" fill="url(#gsb)"/><circle cx="129.5" cy="82.0" r="1.85" fill="url(#gte)"/><circle cx="99.3" cy="28.3" r="1.6" fill="url(#gge)"/><circle cx="128.0" cy="78.4" r="1.85" fill="url(#gte)"/><circle cx="75.4" cy="75.6" r="1.6" fill="url(#gge)"/><circle cx="92.7" cy="45.3" r="1.85" fill="url(#gte)"/><circle cx="72.1" cy="45.9" r="1.6" fill="url(#gse)"/><circle cx="78.6" cy="20.6" r="1.85" fill="url(#gte)"/><circle cx="49.8" cy="95.4" r="1.85" fill="url(#gte)"/><circle cx="57.5" cy="67.5" r="1.85" fill="url(#gte)"/><circle cx="52.6" cy="26.8" r="1.6" fill="url(#gge)"/><circle cx="50.7" cy="33.3" r="1.6" fill="url(#gge)"/><circle cx="86.7" cy="23.0" r="1.6" fill="url(#gse)"/><circle cx="98.0" cy="62.7" r="1.6" fill="url(#gse)"/><circle cx="70.4" cy="28.2" r="1.85" fill="url(#gte)"/><circle cx="64.0" cy="32.8" r="1.75" fill="url(#gsb)"/><circle cx="112.9" cy="97.1" r="1.75" fill="url(#gsb)"/><circle cx="57.8" cy="44.7" r="1.85" fill="url(#gte)"/><circle cx="53.6" cy="45.4" r="1.75" fill="url(#gsb)"/><circle cx="92.0" cy="89.4" r="1.85" fill="url(#gte)"/><circle cx="78.7" cy="96.0" r="1.85" fill="url(#gte)"/><circle cx="91.1" cy="38.9" r="1.85" fill="url(#gte)"/><circle cx="55.3" cy="19.7" r="1.85" fill="url(#gte)"/><circle cx="115.6" cy="68.8" r="1.85" fill="url(#gte)"/><circle cx="89.1" cy="31.3" r="1.6" fill="url(#gge)"/><circle cx="102.1" cy="84.4" r="1.85" fill="url(#gte)"/><circle cx="88.0" cy="62.6" r="1.85" fill="url(#gte)"/><circle cx="83.6" cy="56.1" r="1.6" fill="url(#gge)"/><circle cx="51.6" cy="23.9" r="1.75" fill="url(#gsb)"/><circle cx="83.7" cy="94.2" r="1.85" fill="url(#gte)"/><circle cx="68.9" cy="82.1" r="1.75" fill="url(#gsb)"/><circle cx="76.0" cy="88.4" r="1.6" fill="url(#gge)"/><circle cx="127.2" cy="97.4" r="1.6" fill="url(#gge)"/><circle cx="91.7" cy="53.9" r="1.6" fill="url(#gge)"/><circle cx="75.9" cy="58.3" r="1.6" fill="url(#gse)"/><circle cx="93.3" cy="94.7" r="1.85" fill="url(#gte)"/><circle cx="55.3" cy="30.3" r="1.85" fill="url(#gte)"/><circle cx="104.7" cy="37.8" r="1.6" fill="url(#gge)"/><circle cx="122.9" cy="25.4" r="1.85" fill="url(#gte)"/><circle cx="52.6" cy="96.4" r="1.6" fill="url(#gge)"/><circle cx="60.8" cy="76.9" r="1.75" fill="url(#gsb)"/><circle cx="60.7" cy="82.2" r="1.85" fill="url(#gte)"/><circle cx="53.1" cy="50.5" r="1.75" fill="url(#gsb)"/><circle cx="112.5" cy="31.3" r="1.85" fill="url(#gte)"/><circle cx="113.4" cy="59.4" r="1.75" fill="url(#gsb)"/><circle cx="55.8" cy="88.2" r="1.6" fill="url(#gge)"/><circle cx="67.5" cy="90.2" r="1.75" fill="url(#gsb)"/><circle cx="55.3" cy="24.3" r="1.85" fill="url(#gte)"/><circle cx="63.5" cy="89.1" r="1.75" fill="url(#gsb)"/><circle cx="71.1" cy="86.6" r="1.85" fill="url(#gte)"/><circle cx="109.5" cy="93.4" r="1.85" fill="url(#gte)"/><circle cx="116.7" cy="40.0" r="1.75" fill="url(#gsb)"/><circle cx="112.8" cy="51.2" r="1.75" fill="url(#gsb)"/><circle cx="119.9" cy="90.0" r="1.75" fill="url(#gsb)"/><circle cx="120.4" cy="60.0" r="1.85" fill="url(#gte)"/><circle cx="105.8" cy="68.4" r="1.85" fill="url(#gte)"/><circle cx="61.8" cy="66.2" r="1.85" fill="url(#gte)"/><circle cx="116.7" cy="88.2" r="1.85" fill="url(#gte)"/><circle cx="72.1" cy="82.5" r="1.85" fill="url(#gte)"/><circle cx="110.0" cy="33.3" r="1.85" fill="url(#gte)"/><circle cx="109.0" cy="27.0" r="1.85" fill="url(#gte)"/><circle cx="83.8" cy="45.9" r="1.85" fill="url(#gte)"/><circle cx="62.9" cy="92.0" r="1.75" fill="url(#gsb)"/><circle cx="126.7" cy="48.6" r="1.85" fill="url(#gte)"/><circle cx="81.4" cy="22.2" r="1.6" fill="url(#gge)"/><circle cx="98.0" cy="49.3" r="1.85" fill="url(#gte)"/><circle cx="80.7" cy="18.1" r="1.85" fill="url(#gte)"/><circle cx="124.6" cy="35.5" r="1.6" fill="url(#gge)"/><circle cx="86.2" cy="76.3" r="1.75" fill="url(#gsb)"/><circle cx="69.6" cy="97.5" r="1.75" fill="url(#gsb)"/><circle cx="124.9" cy="22.7" r="1.85" fill="url(#gte)"/><circle cx="54.2" cy="76.3" r="1.85" fill="url(#gte)"/><circle cx="97.0" cy="88.4" r="1.85" fill="url(#gte)"/><circle cx="129.1" cy="40.6" r="1.75" fill="url(#gsb)"/><circle cx="90.8" cy="27.1" r="1.85" fill="url(#gte)"/><circle cx="64.7" cy="43.2" r="1.6" fill="url(#gse)"/><circle cx="72.2" cy="61.8" r="1.75" fill="url(#gsb)"/><circle cx="128.7" cy="22.4" r="1.75" fill="url(#gsb)"/><circle cx="106.2" cy="28.2" r="1.85" fill="url(#gte)"/><circle cx="130.3" cy="37.8" r="1.6" fill="url(#gge)"/><circle cx="95.1" cy="56.5" r="1.85" fill="url(#gte)"/><circle cx="57.8" cy="27.6" r="1.85" fill="url(#gte)"/><circle cx="123.2" cy="95.3" r="1.85" fill="url(#gte)"/><circle cx="55.9" cy="47.7" r="1.6" fill="url(#gge)"/><circle cx="121.4" cy="73.8" r="1.6" fill="url(#gse)"/><circle cx="117.7" cy="73.1" r="1.85" fill="url(#gte)"/><circle cx="55.4" cy="39.0" r="1.6" fill="url(#gge)"/><circle cx="70.6" cy="92.1" r="1.6" fill="url(#gge)"/><circle cx="121.5" cy="21.9" r="1.6" fill="url(#gge)"/><circle cx="90.3" cy="65.7" r="1.6" fill="url(#gse)"/><circle cx="76.1" cy="79.0" r="1.6" fill="url(#gse)"/><circle cx="73.4" cy="49.5" r="1.85" fill="url(#gte)"/><circle cx="98.8" cy="19.4" r="1.6" fill="url(#gse)"/><circle cx="110.2" cy="44.8" r="1.75" fill="url(#gsb)"/><circle cx="49.4" cy="54.6" r="1.6" fill="url(#gge)"/><circle cx="100.6" cy="47.5" r="1.6" fill="url(#gse)"/><circle cx="94.6" cy="36.5" r="1.6" fill="url(#gse)"/><circle cx="68.0" cy="78.7" r="1.85" fill="url(#gte)"/><circle cx="120.9" cy="50.6" r="1.75" fill="url(#gsb)"/><circle cx="128.4" cy="71.5" r="1.85" fill="url(#gte)"/><circle cx="109.1" cy="97.5" r="1.6" fill="url(#gse)"/><circle cx="90.3" cy="97.7" r="1.85" fill="url(#gte)"/><circle cx="119.9" cy="65.1" r="1.6" fill="url(#gse)"/><circle cx="86.3" cy="81.9" r="1.75" fill="url(#gsb)"/><circle cx="86.9" cy="33.4" r="1.6" fill="url(#gse)"/><circle cx="123.6" cy="89.8" r="1.6" fill="url(#gge)"/><circle cx="111.4" cy="63.8" r="1.85" fill="url(#gte)"/><circle cx="64.8" cy="79.6" r="1.85" fill="url(#gte)"/><circle cx="101.8" cy="57.5" r="1.6" fill="url(#gge)"/><circle cx="60.4" cy="90.1" r="1.6" fill="url(#gge)"/><circle cx="50.1" cy="17.6" r="1.75" fill="url(#gsb)"/><circle cx="127.6" cy="57.0" r="1.6" fill="url(#gge)"/><circle cx="114.5" cy="36.7" r="1.85" fill="url(#gte)"/><circle cx="119.9" cy="39.3" r="1.6" fill="url(#gge)"/><circle cx="80.2" cy="69.0" r="1.85" fill="url(#gte)"/><circle cx="52.5" cy="79.7" r="1.85" fill="url(#gte)"/><circle cx="125.4" cy="60.9" r="1.6" fill="url(#gge)"/><circle cx="68.9" cy="65.8" r="1.6" fill="url(#gge)"/><circle cx="101.6" cy="16.9" r="1.75" fill="url(#gsb)"/><circle cx="72.1" cy="32.5" r="1.85" fill="url(#gte)"/><circle cx="89.2" cy="75.7" r="1.6" fill="url(#gse)"/><circle cx="83.4" cy="16.1" r="1.6" fill="url(#gge)"/><circle cx="101.9" cy="21.3" r="1.75" fill="url(#gsb)"/><circle cx="52.2" cy="37.2" r="1.85" fill="url(#gte)"/><circle cx="108.8" cy="36.6" r="1.75" fill="url(#gsb)"/><circle cx="95.1" cy="84.7" r="1.85" fill="url(#gte)"/><circle cx="84.9" cy="26.4" r="1.6" fill="url(#gse)"/><circle cx="113.1" cy="93.2" r="1.75" fill="url(#gsb)"/><circle cx="57.3" cy="76.3" r="1.6" fill="url(#gse)"/><circle cx="72.8" cy="79.4" r="1.75" fill="url(#gsb)"/><circle cx="124.6" cy="73.1" r="1.85" fill="url(#gte)"/><circle cx="74.4" cy="25.8" r="1.75" fill="url(#gsb)"/><circle cx="116.4" cy="92.3" r="1.75" fill="url(#gsb)"/><circle cx="89.3" cy="47.6" r="1.85" fill="url(#gte)"/><circle cx="124.6" cy="39.2" r="1.6" fill="url(#gge)"/><circle cx="65.1" cy="97.5" r="1.85" fill="url(#gte)"/><circle cx="110.3" cy="88.8" r="1.85" fill="url(#gte)"/><circle cx="76.7" cy="28.1" r="1.6" fill="url(#gse)"/><circle cx="72.0" cy="65.5" r="1.85" fill="url(#gte)"/><circle cx="116.3" cy="43.6" r="1.6" fill="url(#gge)"/><circle cx="92.2" cy="24.1" r="1.6" fill="url(#gge)"/><circle cx="127.0" cy="44.2" r="1.85" fill="url(#gte)"/><circle cx="88.9" cy="87.1" r="1.75" fill="url(#gsb)"/><circle cx="126.4" cy="82.2" r="1.85" fill="url(#gte)"/><circle cx="65.4" cy="16.1" r="1.85" fill="url(#gte)"/><circle cx="113.5" cy="77.2" r="1.6" fill="url(#gse)"/><circle cx="104.7" cy="23.2" r="1.85" fill="url(#gte)"/><circle cx="61.7" cy="59.6" r="1.85" fill="url(#gte)"/><circle cx="124.0" cy="30.8" r="1.75" fill="url(#gsb)"/><circle cx="81.2" cy="65.9" r="1.6" fill="url(#gse)"/><circle cx="56.7" cy="54.7" r="1.6" fill="url(#gge)"/><circle cx="109.0" cy="23.1" r="1.85" fill="url(#gte)"/><circle cx="74.0" cy="95.2" r="1.75" fill="url(#gsb)"/><circle cx="129.2" cy="16.5" r="1.75" fill="url(#gsb)"/><circle cx="110.0" cy="69.0" r="1.85" fill="url(#gte)"/><circle cx="80.5" cy="55.4" r="1.85" fill="url(#gte)"/><circle cx="104.0" cy="71.9" r="1.85" fill="url(#gte)"/><circle cx="87.7" cy="55.3" r="1.6" fill="url(#gse)"/><circle cx="117.7" cy="16.5" r="1.6" fill="url(#gge)"/><circle cx="117.9" cy="84.5" r="1.6" fill="url(#gge)"/><circle cx="100.7" cy="25.4" r="1.85" fill="url(#gte)"/><circle cx="112.7" cy="21.5" r="1.6" fill="url(#gse)"/><circle cx="100.0" cy="43.5" r="1.85" fill="url(#gte)"/><circle cx="116.3" cy="24.9" r="1.85" fill="url(#gte)"/><circle cx="92.0" cy="72.5" r="1.75" fill="url(#gsb)"/><circle cx="58.2" cy="49.9" r="1.6" fill="url(#gge)"/><circle cx="84.4" cy="31.0" r="1.85" fill="url(#gte)"/><circle cx="83.0" cy="50.2" r="1.85" fill="url(#gte)"/><circle cx="79.4" cy="51.0" r="1.6" fill="url(#gge)"/><circle cx="79.6" cy="83.6" r="1.75" fill="url(#gsb)"/><circle cx="55.2" cy="57.9" r="1.85" fill="url(#gte)"/><circle cx="66.9" cy="19.9" r="1.85" fill="url(#gte)"/><circle cx="109.0" cy="60.5" r="1.6" fill="url(#gge)"/><circle cx="104.7" cy="62.7" r="1.75" fill="url(#gsb)"/><circle cx="105.2" cy="84.8" r="1.85" fill="url(#gte)"/><circle cx="108.0" cy="30.9" r="1.85" fill="url(#gte)"/><circle cx="80.1" cy="45.2" r="1.75" fill="url(#gsb)"/><circle cx="54.6" cy="82.7" r="1.6" fill="url(#gse)"/><circle cx="119.8" cy="30.4" r="1.85" fill="url(#gte)"/><circle cx="110.0" cy="17.2" r="1.75" fill="url(#gsb)"/><circle cx="61.6" cy="36.4" r="1.75" fill="url(#gsb)"/><circle cx="81.3" cy="40.4" r="1.6" fill="url(#gge)"/><circle cx="108.1" cy="76.6" r="1.85" fill="url(#gte)"/><circle cx="85.8" cy="66.0" r="1.85" fill="url(#gte)"/><circle cx="71.2" cy="17.2" r="1.6" fill="url(#gge)"/><circle cx="88.0" cy="43.6" r="1.85" fill="url(#gte)"/><circle cx="95.9" cy="77.5" r="1.85" fill="url(#gte)"/><circle cx="86.2" cy="51.8" r="1.85" fill="url(#gte)"/><circle cx="94.4" cy="70.2" r="1.85" fill="url(#gte)"/><circle cx="74.6" cy="92.3" r="1.75" fill="url(#gsb)"/><circle cx="51.9" cy="59.1" r="1.6" fill="url(#gse)"/><circle cx="124.7" cy="64.4" r="1.85" fill="url(#gte)"/><circle cx="99.0" cy="95.7" r="1.6" fill="url(#gge)"/><circle cx="73.2" cy="40.6" r="1.6" fill="url(#gse)"/><circle cx="103.1" cy="29.0" r="1.85" fill="url(#gte)"/><circle cx="64.2" cy="56.0" r="1.85" fill="url(#gte)"/><circle cx="117.3" cy="79.4" r="1.75" fill="url(#gsb)"/><circle cx="128.8" cy="94.4" r="1.85" fill="url(#gte)"/><circle cx="123.1" cy="86.8" r="1.75" fill="url(#gsb)"/><circle cx="130.1" cy="28.5" r="1.6" fill="url(#gge)"/><circle cx="76.4" cy="83.1" r="1.85" fill="url(#gte)"/><circle cx="95.8" cy="46.5" r="1.85" fill="url(#gte)"/><circle cx="127.7" cy="52.2" r="1.6" fill="url(#gse)"/><circle cx="121.4" cy="46.7" r="1.6" fill="url(#gse)"/><circle cx="67.3" cy="47.6" r="1.6" fill="url(#gse)"/><circle cx="114.3" cy="47.8" r="1.85" fill="url(#gte)"/><circle cx="127.8" cy="74.7" r="1.85" fill="url(#gte)"/><circle cx="122.4" cy="82.4" r="1.75" fill="url(#gsb)"/><circle cx="116.5" cy="28.2" r="1.85" fill="url(#gte)"/><circle cx="104.7" cy="90.5" r="1.6" fill="url(#gge)"/><circle cx="61.0" cy="30.9" r="1.85" fill="url(#gte)"/><circle cx="74.6" cy="53.5" r="1.85" fill="url(#gte)"/><circle cx="128.5" cy="62.0" r="1.6" fill="url(#gse)"/><circle cx="97.4" cy="33.1" r="1.85" fill="url(#gte)"/><circle cx="63.1" cy="40.5" r="1.75" fill="url(#gsb)"/><circle cx="52.2" cy="62.5" r="1.85" fill="url(#gte)"/><circle cx="96.4" cy="26.2" r="1.75" fill="url(#gsb)"/><circle cx="99.8" cy="65.6" r="1.85" fill="url(#gte)"/><line x1="47.5" y1="21.1" x2="125.6" y2="21.1" stroke="#111" stroke-width="1.05"/><line x1="125.6" y1="21.1" x2="125.6" y2="99.2" stroke="#111" stroke-width="1.05"/><line x1="125.6" y1="99.2" x2="47.5" y2="99.2" stroke="#111" stroke-width="1.05"/><line x1="47.5" y1="99.2" x2="47.5" y2="21.1" stroke="#111" stroke-width="1.05"/><line x1="54.4" y1="14.5" x2="132" y2="14.5" stroke="#111" stroke-width="1.05"/><line x1="132" y1="14.5" x2="132" y2="92.4" stroke="#111" stroke-width="1.05"/><line x1="132" y1="92.4" x2="54.4" y2="92.4" stroke="#111" stroke-width="1.05"/><line x1="54.4" y1="92.4" x2="54.4" y2="14.5" stroke="#111" stroke-width="1.05"/><line x1="47.5" y1="21.1" x2="54.4" y2="14.5" stroke="#111" stroke-width="1.05"/><line x1="125.6" y1="21.1" x2="132" y2="14.5" stroke="#111" stroke-width="1.05"/><line x1="125.6" y1="99.2" x2="132" y2="92.4" stroke="#111" stroke-width="1.05"/><line x1="47.5" y1="99.2" x2="54.4" y2="92.4" stroke="#111" stroke-width="1.05"/><text x="93.00" y="10.80" font-size="9.9" text-anchor="middle" fill="#111" color="#111" >GSS1T4</text><line x1="137.2" y1="19.7" x2="137.2" y2="89.8" stroke="#111" stroke-width="1"/><path d="M134.89999999999998,21.7 L137.2,16.7 L139.5,21.7 Z" fill="#111"/><path d="M134.89999999999998,87.8 L137.2,92.8 L139.5,87.8 Z" fill="#111"/><text x="0" y="0" font-size="11" text-anchor="middle" fill="#111" color="#111" transform="translate(150.20,55.80) rotate(-90)">23.24 Å</text><path d="M207.8 19.1L208.7 20.5M207.8 19.1L209.0 18.0M207.8 19.1L206.3 20.5M171.2 91.7L171.7 94.5M171.7 94.5L172.2 97.2M171.2 91.7L174.0 91.4M171.2 91.7L168.6 90.4M168.6 90.4L166.0 89.1M165.7 29.0L166.5 30.7M235.7 67.0L235.4 65.3M235.7 67.0L236.9 65.6M235.7 67.0L234.5 68.3M187.3 57.8L185.5 57.5M213.7 40.4L214.6 41.8M171.0 82.2L171.5 84.1M170.9 78.1L171.3 75.9M211.6 59.7L209.9 61.2M224.8 59.2L224.4 57.3M222.1 61.0L219.1 60.8M238.4 33.3L237.7 31.5M238.4 33.3L239.1 30.9M239.1 30.9L239.8 28.4M238.4 33.3L236.9 35.8M203.9 55.8L204.2 54.2M203.9 55.8L205.1 57.2M203.9 55.8L206.6 54.7M166.0 89.1L164.5 88.8M166.0 89.1L164.0 91.2M230.8 35.4L229.7 36.5M162.0 33.0L162.4 31.4M162.0 33.0L163.7 33.4M163.7 33.4L165.4 33.7M162.0 33.0L161.7 35.0M186.3 56.1L185.5 57.5M188.6 19.5L190.5 20.9M196.4 72.6L194.4 72.4M196.4 72.6L195.8 74.6M196.4 72.6L198.7 72.5M163.7 19.5L162.2 19.3M163.7 19.5L162.9 20.9M163.7 19.5L164.7 20.9M166.5 30.7L166.0 32.2M166.0 32.2L165.4 33.7M166.5 30.7L164.7 30.2M160.6 86.2L159.9 87.8M162.3 83.0L163.3 81.5M198.2 25.1L199.5 23.1M221.5 32.4L224.2 32.1M224.2 32.1L224.4 29.4M224.2 32.1L221.6 33.9M185.5 75.8L188.1 76.1M180.9 93.7L181.7 91.6M235.1 44.3L233.6 43.9M233.6 43.9L232.0 43.6M235.1 44.3L237.1 42.8M235.1 44.3L234.7 47.0M167.6 48.9L170.4 48.3M219.1 60.8L221.8 59.1M221.8 59.1L224.4 57.3M215.2 72.4L217.9 72.2M221.0 92.9L219.7 94.1M171.5 65.3L171.7 63.2M170.6 50.4L170.4 48.3M239.8 28.4L238.4 29.0M179.6 47.1L180.2 48.6M199.5 23.1L197.1 23.0M199.5 23.1L202.2 22.5M207.4 34.1L206.2 32.7M182.4 48.7L180.2 48.6M169.0 62.7L171.7 63.2M236.9 90.0L237.6 91.6M236.9 90.0L234.5 88.5M236.9 90.0L235.6 87.4M225.9 73.1L227.5 74.2M163.3 81.5L163.8 79.8M163.3 81.5L164.6 78.6M217.2 81.7L215.7 81.4M217.2 81.7L218.1 83.4M217.2 81.7L219.1 81.5M170.4 48.3L168.7 45.7M188.1 76.1L190.0 76.2M188.1 76.1L187.4 74.0M220.2 70.2L217.9 72.2M233.4 79.6L234.8 81.3M234.3 77.6L236.6 77.5M223.4 55.1L224.4 57.3M204.0 82.5L205.1 81.4M204.0 82.5L202.5 82.3M204.0 82.5L205.9 83.5M189.9 22.5L190.5 20.9M195.0 83.6L196.2 81.6M204.6 40.6L206.2 41.1M229.8 90.6L230.9 88.8M229.8 90.6L227.5 91.7M229.8 90.6L228.7 92.9M188.7 88.4L189.0 90.0M189.0 90.0L189.3 91.6M188.7 88.4L186.9 88.0M188.7 88.4L188.0 86.6M216.5 46.6L213.6 46.9M217.0 44.0L214.6 41.8M171.7 63.2L173.4 62.8M171.7 63.2L173.0 61.2M213.6 46.9L213.8 49.1M213.6 46.9L214.1 44.4M214.1 44.4L214.6 41.8M213.6 46.9L211.1 46.0M216.0 42.4L214.6 41.8M195.5 94.9L194.2 93.9M195.5 94.9L196.5 92.4M195.5 94.9L192.4 93.2M192.4 93.2L189.3 91.6M200.8 44.2L203.0 44.8M208.1 60.0L209.9 61.2M234.8 81.3L234.5 83.1M234.8 81.3L235.7 79.4M235.7 79.4L236.6 77.5M199.1 61.0L200.4 62.9M191.3 49.0L192.9 47.6M191.3 49.0L190.4 46.5M191.3 49.0L192.1 52.1M201.7 88.7L201.3 90.8M194.5 80.9L196.2 81.6M188.6 41.8L187.7 39.6M203.0 89.6L201.3 90.8M190.5 20.9L192.6 21.9M219.7 94.1L219.6 92.3M219.7 94.1L218.1 93.2M222.1 26.9L219.6 27.1M231.2 38.0L229.7 36.5M232.3 41.5L232.0 43.6M219.1 73.0L217.9 72.2M214.9 93.9L213.3 95.5M227.6 48.1L228.4 46.3M228.4 46.3L229.1 44.4M227.6 48.1L229.7 50.0M227.6 48.1L229.8 45.8M229.8 45.8L232.0 43.6M189.3 91.6L191.1 92.3M189.3 91.6L187.2 89.6M198.6 81.9L196.2 81.6M171.5 84.1L173.6 85.4M202.6 92.6L201.3 90.8M176.6 58.9L178.9 58.7M185.5 57.5L184.0 56.2M199.4 90.4L201.3 90.8M166.3 36.8L165.4 33.7M179.3 91.3L181.7 91.6M178.9 58.7L179.1 57.0M178.9 58.7L180.3 59.8M211.8 80.6L209.5 80.1M161.2 40.0L159.3 40.0M207.8 80.2L209.5 80.1M232.0 43.6L230.6 44.0M230.6 44.0L229.1 44.4M210.8 91.2L210.0 93.2M210.8 91.2L212.1 93.3M212.1 93.3L213.3 95.5M210.8 91.2L211.5 88.4M213.3 95.5L211.3 95.3M227.5 74.2L228.3 72.8M207.7 40.0L206.2 41.1M181.7 91.6L182.8 92.7M161.4 88.1L159.9 87.8M179.6 30.2L180.7 29.0M236.6 77.5L238.1 75.9M203.9 28.5L205.6 27.1M203.9 28.5L205.0 30.6M205.0 30.6L206.2 32.7M224.3 95.0L223.3 97.2M210.0 78.1L209.5 80.1M196.7 17.4L195.7 20.1M195.0 65.8L196.3 64.9M195.0 65.8L193.5 65.8M195.0 65.8L197.2 66.4M165.4 33.7L164.2 31.7M203.0 44.8L203.8 46.2M225.4 96.2L223.3 97.2M178.7 50.3L180.2 48.6M202.8 63.2L200.4 62.9M209.9 61.2L211.0 62.6M160.9 90.5L159.9 87.8M199.0 63.5L200.4 62.9M180.8 26.6L180.7 29.0M185.9 39.1L187.7 39.6M171.3 75.9L171.6 74.1M217.9 72.2L216.0 70.8M206.2 32.7L205.5 34.9M229.7 36.5L232.6 37.4M180.7 29.0L181.1 30.5M180.7 29.0L182.3 28.4M180.2 48.6L178.6 48.6M159.3 40.0L160.4 38.5M226.4 42.7L229.1 44.4M206.2 41.1L205.5 39.1M199.8 65.0L200.4 62.9" stroke="#b0d488" stroke-width="0.9" fill="none"/><path d="M163.9 28.5L162.9 29.7M165.3 24.7L165.7 22.2M189.0 58.1L188.5 59.6M189.0 58.1L187.3 57.8M189.0 58.1L188.1 56.4M170.4 80.4L171.0 82.2M170.4 80.4L170.9 78.1M170.4 80.4L168.2 78.0M226.3 62.7L227.5 64.2M204.2 54.2L204.6 52.6M205.1 57.2L206.3 58.7M178.3 81.5L178.7 83.3M178.7 83.3L179.1 85.0M178.3 81.5L180.5 81.4M178.3 81.5L177.0 84.1M229.2 27.2L228.7 25.8M229.2 27.2L231.0 26.7M229.2 27.2L226.9 26.9M197.8 41.4L198.7 43.6M164.5 88.8L163.0 88.5M195.4 27.9L196.9 27.1M212.1 31.4L210.6 29.7M216.2 32.9L218.9 32.6M162.4 31.4L162.9 29.7M161.7 35.0L161.4 37.0M184.8 54.7L182.4 54.8M230.7 72.3L229.1 71.5M232.2 75.4L232.0 77.8M186.6 18.2L185.1 17.8M186.6 18.2L188.6 19.5M186.6 18.2L187.9 21.2M164.7 20.9L165.7 22.2M227.5 64.2L228.3 66.1M227.5 64.2L225.0 66.2M182.6 42.9L181.0 43.3M164.7 30.2L162.9 29.7M161.3 84.5L160.6 86.2M161.3 84.5L162.3 83.0M161.3 84.5L162.1 86.5M162.1 86.5L163.0 88.5M196.9 27.1L196.8 28.9M196.9 27.1L198.2 25.1M218.9 32.6L219.0 34.1M219.0 34.1L219.1 35.6M218.9 32.6L217.6 31.4M218.9 32.6L221.5 32.4M162.3 64.8L160.2 64.6M233.2 18.7L234.9 18.3M221.6 33.9L219.1 35.6M168.0 19.4L169.1 20.5M166.2 20.2L165.7 22.2M199.1 85.6L200.6 86.2M199.1 85.6L200.0 83.9M199.1 85.6L198.3 87.8M175.4 41.3L174.1 40.3M177.9 43.9L179.0 45.6M234.7 47.0L234.2 49.6M216.4 20.1L213.4 20.1M164.7 49.4L163.3 48.9M163.3 48.9L161.9 48.4M164.7 49.4L164.7 51.7M164.7 49.4L167.6 48.9M179.1 85.0L177.4 85.8M179.1 85.0L180.9 83.1M212.6 72.7L213.4 71.1M212.6 72.7L211.6 74.3M212.6 72.7L215.2 72.4M222.3 91.6L220.8 91.1M222.3 91.6L223.7 92.2M222.3 91.6L221.0 92.9M171.4 67.3L171.5 65.3M171.4 67.3L171.6 69.8M171.6 69.8L171.8 72.3M171.4 67.3L168.8 68.8M168.8 68.8L166.3 70.3M179.0 45.6L180.0 44.5M180.0 44.5L181.0 43.3M179.0 45.6L179.6 47.1M179.0 45.6L178.1 47.1M210.6 29.7L212.1 28.3M210.6 29.7L209.0 27.7M197.1 23.0L194.8 22.9M206.6 36.3L204.7 37.1M206.2 68.8L208.4 69.3M184.7 48.7L184.3 47.2M184.7 48.7L182.4 48.7M237.6 91.6L238.3 93.2M214.6 21.2L213.4 20.1M222.3 72.9L220.4 73.8M219.8 37.0L219.1 35.6M219.0 40.7L217.4 43.0M168.7 45.7L167.0 43.0M208.2 67.4L208.4 69.3M178.6 67.0L178.3 68.6M178.6 67.0L179.9 69.3M178.6 67.0L176.8 64.7M167.0 43.0L167.1 41.4M167.0 43.0L165.0 41.5M221.4 71.0L220.4 73.8M232.0 77.8L233.4 79.6M232.0 77.8L230.5 79.5M232.0 77.8L234.3 77.6M220.0 53.0L217.5 53.0M205.9 83.5L207.8 84.5M206.9 53.0L204.6 52.6M211.7 52.4L214.1 51.3M193.3 82.9L192.8 80.2M171.1 19.1L169.1 20.5M176.1 18.4L179.1 19.2M163.3 55.0L161.8 56.2M236.4 19.4L234.9 18.3M173.9 73.4L171.8 72.3M203.8 38.6L204.7 37.1M192.4 78.3L192.8 80.2M186.9 88.0L185.2 87.6M234.2 49.6L233.0 50.8M233.0 50.8L231.9 51.9M234.2 49.6L236.3 51.3M218.4 44.7L217.4 43.0M166.3 70.3L164.1 69.0M166.3 70.3L163.6 70.9M166.3 70.3L166.1 73.0M213.8 49.1L214.1 51.3M174.1 40.3L175.7 39.7M174.1 40.3L173.3 37.8M173.3 37.8L172.6 35.2M217.4 43.0L216.0 42.4M198.7 43.6L200.8 44.2M206.3 58.7L208.1 60.0M206.3 58.7L205.8 61.1M190.4 46.5L189.5 44.0M179.1 19.2L177.2 19.8M179.1 19.2L181.3 18.3M179.1 19.2L180.0 21.7M160.2 64.6L161.1 66.1M192.8 80.2L194.5 80.9M192.8 80.2L194.0 78.4M163.2 20.6L165.7 22.2M189.5 44.0L188.6 41.8M206.3 86.5L207.8 84.5M192.6 21.9L194.8 22.9M173.8 29.7L173.9 28.1M173.2 33.3L172.6 35.2M220.4 73.8L219.1 73.0M220.4 73.8L221.9 76.0M207.1 70.6L208.4 69.3M229.7 50.0L231.9 51.9M187.2 89.6L185.2 87.6M184.0 56.2L182.4 54.8M180.1 37.3L178.7 38.2M180.1 37.3L182.1 37.9M180.1 37.3L180.8 34.6M180.8 34.6L181.5 31.9M217.5 53.0L215.8 52.2M215.8 52.2L214.1 51.3M172.6 35.2L175.0 37.2M229.1 69.7L229.1 71.5M180.9 55.1L182.4 54.8M162.2 38.5L161.4 37.0M207.0 82.4L207.8 84.5M235.1 52.5L231.9 51.9M213.4 20.1L211.5 21.0M213.4 20.1L211.8 18.5M228.3 72.8L229.1 71.5M186.3 86.2L185.2 87.6M163.0 88.5L161.4 88.1M180.0 31.7L181.5 31.9M235.6 94.8L238.3 93.2M195.7 20.1L194.8 22.9M204.6 52.6L204.5 50.1M204.5 50.1L204.5 47.7M164.2 31.7L162.9 29.7M173.4 26.3L173.9 28.1M171.0 22.4L169.1 20.5M163.9 22.2L165.7 22.2M182.5 44.5L181.0 43.3M207.8 84.5L210.0 85.1M203.8 46.2L204.5 47.7M206.3 48.0L204.5 47.7M169.1 20.5L167.4 21.3M167.4 21.3L165.7 22.2M203.0 37.0L204.7 37.1M171.6 74.1L171.8 72.3M237.3 70.9L238.5 72.6M237.3 70.9L235.3 70.3M205.5 34.9L204.7 37.1M183.7 32.6L181.5 31.9M231.9 51.9L231.7 53.5M231.7 53.5L231.5 55.0M204.5 47.7L206.5 46.4M181.1 30.5L181.5 31.9M160.4 38.5L161.4 37.0M205.5 39.1L204.7 37.1" stroke="#dcae68" stroke-width="0.9" fill="none"/><path d="M208.7 20.5L209.5 21.9M209.0 18.0L210.3 16.9M235.4 65.3L235.0 63.6M236.9 65.6L238.1 64.2M234.5 68.3L233.2 69.6M188.5 59.6L187.9 61.1M188.1 56.4L187.2 54.6M210.6 37.3L208.5 35.5M212.7 61.0L212.1 63.9M187.9 62.8L187.9 61.1M185.9 64.3L184.0 64.0M177.0 84.1L175.7 86.6M226.9 26.9L224.6 26.7M164.0 91.2L162.0 93.2M192.5 27.8L191.0 26.8M213.6 33.1L214.9 31.7M213.6 33.1L212.1 31.4M213.6 33.1L216.2 32.9M232.0 34.3L230.8 35.4M232.0 34.3L232.3 36.9M232.0 34.3L233.7 36.3M187.2 54.6L186.3 56.1M187.2 54.6L184.8 54.7M232.8 71.4L233.2 69.6M162.2 19.3L160.7 19.0M164.3 65.1L163.1 66.3M164.3 65.1L165.3 63.6M164.3 65.1L162.3 64.8M231.5 19.0L233.2 18.7M231.5 19.0L229.9 20.0M231.5 19.0L228.9 18.4M228.9 18.4L226.3 17.8M224.4 29.4L224.6 26.7M182.9 75.5L181.1 75.3M182.9 75.5L182.0 73.5M182.9 75.5L185.5 75.8M200.6 86.2L202.1 86.7M177.1 40.7L177.3 39.1M182.0 94.8L184.0 93.9M237.1 42.8L239.1 41.2M219.5 20.0L217.6 21.1M217.6 21.1L215.7 22.2M219.5 20.0L216.4 20.1M177.4 85.8L175.7 86.6M211.6 74.3L210.6 76.0M223.7 92.2L225.2 92.7M188.3 30.0L187.1 31.6M188.3 30.0L189.7 28.4M189.7 28.4L191.0 26.8M188.3 30.0L186.1 28.8M178.1 47.1L177.1 48.6M209.0 27.7L207.4 25.7M208.5 35.5L208.9 37.2M208.5 35.5L207.4 34.1M208.5 35.5L206.6 36.3M204.1 68.2L204.9 70.0M204.9 70.0L205.8 71.8M204.1 68.2L206.2 68.8M204.1 68.2L204.6 65.8M204.6 65.8L205.2 63.5M186.1 70.3L186.8 71.9M184.7 66.4L184.0 64.0M215.7 22.2L214.6 21.2M215.7 22.2L214.7 24.6M224.3 71.9L225.9 73.1M224.3 71.9L223.4 70.1M224.3 71.9L222.3 72.9M163.8 79.8L164.3 78.1M218.1 83.4L219.0 85.0M219.1 81.5L221.0 81.3M206.7 64.4L205.2 63.5M210.1 64.7L212.1 63.9M190.0 76.2L192.0 76.3M187.4 74.0L186.8 71.9M192.8 61.4L193.7 59.8M192.8 61.4L192.3 63.6M192.8 61.4L190.4 61.3M190.4 61.3L187.9 61.1M206.1 23.8L207.4 25.7M205.1 81.4L206.2 80.3M190.1 25.5L191.0 26.8M174.2 19.1L175.2 20.5M239.2 60.1L238.6 62.1M238.6 62.1L238.1 64.2M239.2 60.1L237.1 61.8M237.1 61.8L235.0 63.6M176.0 74.4L177.7 74.8M176.0 74.4L177.0 72.3M176.0 74.4L173.9 73.4M202.1 38.4L201.3 36.8M192.0 76.3L193.6 76.4M192.0 76.3L192.4 78.3M227.5 91.7L225.2 92.7M228.7 92.9L227.6 95.2M175.7 39.7L177.3 39.1M194.2 93.9L192.9 93.0M205.8 61.1L205.2 63.5M177.2 19.8L175.2 20.5M202.1 86.7L203.4 87.6M203.4 87.6L204.7 88.4M202.1 86.7L201.7 88.7M160.7 19.0L161.5 20.6M160.7 19.0L163.2 20.6M204.7 88.4L203.0 89.6M204.7 88.4L206.3 86.5M194.9 34.2L195.8 32.5M194.9 34.2L194.0 36.1M224.6 26.7L226.4 25.5M224.6 26.7L222.1 26.9M184.0 64.0L182.8 62.5M182.8 62.5L181.7 60.9M184.0 64.0L186.0 62.6M186.0 62.6L187.9 61.1M176.1 31.4L178.4 31.4M221.9 76.0L223.5 78.2M205.8 71.8L207.1 70.6M205.8 71.8L203.4 72.1M191.1 92.3L192.9 93.0M173.6 85.4L175.7 86.6M178.7 38.2L177.3 39.1M175.0 37.2L177.3 39.1M226.3 17.8L227.3 19.4M226.3 17.8L227.3 21.1M231.1 68.8L233.2 69.6M176.3 88.8L175.7 86.6M180.3 59.8L181.7 60.9M213.2 83.4L212.1 85.6M206.2 80.3L207.8 80.2M206.2 80.3L207.0 82.4M211.5 21.0L209.5 21.9M211.8 18.5L210.3 16.9M211.5 88.4L212.1 85.6M182.8 92.7L184.0 93.9M178.4 31.4L180.0 31.7M178.4 31.4L179.6 30.2M230.3 95.8L227.6 95.2M205.6 27.1L207.4 25.7M225.2 92.7L226.4 94.0M226.4 94.0L227.6 95.2M225.2 92.7L224.3 95.0M210.6 76.0L210.0 78.1M164.3 78.1L165.2 76.9M196.3 64.9L197.5 64.1M174.0 22.5L175.2 20.5M238.1 64.2L236.5 63.9M236.5 63.9L235.0 63.6M210.0 85.1L212.1 85.6M227.6 95.2L225.4 96.2M184.0 93.9L184.7 95.6M221.0 81.3L222.2 79.8M222.2 79.8L223.5 78.2M221.0 81.3L220.0 83.2M220.0 83.2L219.0 85.0M177.1 50.3L177.1 48.6M205.2 63.5L202.8 63.2M211.0 62.6L212.1 63.9M162.0 93.2L160.9 90.5M197.5 64.1L199.0 63.5M197.5 64.1L198.4 65.6M207.4 25.7L208.5 23.8M208.5 23.8L209.5 21.9M226.2 79.7L223.5 78.2M201.3 36.8L203.0 37.0M235.3 70.3L233.2 69.6M239.1 41.2L237.3 39.7M210.3 16.9L209.9 19.4M209.9 19.4L209.5 21.9M178.6 48.6L177.1 48.6M212.1 63.9L213.7 65.2M213.7 65.2L215.4 66.5M214.7 68.0L215.4 66.5" stroke="#e07a7a" stroke-width="0.9" fill="none"/><path d="M169.7 57.1L171.2 56.6M171.2 56.6L172.7 56.1M169.7 57.1L170.3 54.8M170.3 54.8L170.9 52.6M169.7 57.1L172.0 58.1M172.0 58.1L174.3 59.2M206.3 20.5L204.9 21.8M174.0 91.4L176.9 91.0M165.0 27.3L163.9 28.5M165.0 27.3L165.7 29.0M165.0 27.3L165.3 24.7M212.7 39.0L213.7 40.4M212.7 39.0L211.0 38.9M211.0 38.9L209.2 38.8M212.7 39.0L210.6 37.3M168.2 78.0L166.0 75.7M213.3 58.1L211.6 59.7M213.3 58.1L212.7 61.0M213.3 58.1L211.3 55.8M211.3 55.8L209.2 53.5M225.1 61.1L224.8 59.2M225.1 61.1L226.3 62.7M225.1 61.1L222.1 61.0M237.7 31.5L237.0 29.6M236.9 35.8L235.5 38.2M206.6 54.7L209.2 53.5M187.8 64.5L187.9 62.8M187.8 64.5L185.9 64.3M187.8 64.5L189.8 65.2M189.8 65.2L191.9 65.8M180.5 81.4L182.7 81.3M228.7 25.8L228.2 24.3M231.0 26.7L232.9 26.1M196.9 39.2L195.7 40.7M195.7 40.7L194.4 42.2M196.9 39.2L195.0 38.6M195.0 38.6L193.1 38.0M196.9 39.2L197.8 41.4M194.0 28.7L195.4 27.9M194.0 28.7L195.3 29.8M195.3 29.8L196.6 30.8M194.0 28.7L192.5 27.8M214.9 31.7L216.3 30.3M232.3 36.9L232.6 39.5M233.7 36.3L235.5 38.2M232.3 73.1L232.8 71.4M232.3 73.1L230.7 72.3M232.3 73.1L232.2 75.4M185.1 17.8L183.5 17.5M187.9 21.2L189.2 24.1M194.4 72.4L192.5 72.3M195.8 74.6L195.2 76.6M198.7 72.5L201.0 72.4M162.9 20.9L162.2 22.3M228.3 66.1L229.1 67.9M225.0 66.2L222.5 68.2M184.2 42.4L182.6 42.9M184.2 42.4L184.1 44.1M184.1 44.1L183.9 45.8M184.2 42.4L184.1 40.5M184.1 40.5L184.0 38.5M196.8 28.9L196.6 30.8M217.6 31.4L216.3 30.3M163.1 66.3L162.0 67.6M165.3 63.6L166.2 62.1M229.9 20.0L228.3 21.0M166.8 18.2L168.0 19.4M166.8 18.2L166.2 20.2M181.1 75.3L179.3 75.1M182.0 73.5L181.1 71.6M200.0 83.9L200.9 82.1M198.3 87.8L197.5 89.9M176.8 42.2L177.1 40.7M176.8 42.2L175.4 41.3M176.8 42.2L177.9 43.9M180.1 95.7L182.0 94.8M180.1 95.7L180.9 93.7M180.1 95.7L182.8 96.6M182.8 96.6L185.5 97.4M194.4 42.2L194.4 44.2M194.4 44.2L194.4 46.2M194.4 42.2L193.8 40.1M193.8 40.1L193.1 38.0M164.7 51.7L164.7 53.9M180.9 83.1L182.7 81.3M213.4 71.1L214.1 69.5M220.8 91.1L219.4 90.6M170.9 52.6L171.8 54.3M171.8 54.3L172.7 56.1M170.9 52.6L170.6 50.4M187.1 31.6L185.9 33.2M186.1 28.8L183.9 27.7M238.4 29.0L237.0 29.6M212.1 28.3L213.7 26.9M202.2 22.5L204.9 21.8M208.9 37.2L209.2 38.8M185.5 68.7L186.1 70.3M185.5 68.7L184.7 66.4M184.3 47.2L183.9 45.8M232.9 26.1L230.5 25.2M230.5 25.2L228.2 24.3M232.9 26.1L234.9 27.9M234.9 27.9L237.0 29.6M166.2 62.1L169.0 62.7M234.5 88.5L232.0 87.0M235.6 87.4L234.3 84.8M214.7 24.6L213.7 26.9M223.4 70.1L222.5 68.2M164.6 78.6L166.0 75.7M215.7 81.4L214.2 81.1M220.6 38.4L219.8 37.0M220.6 38.4L222.1 39.6M222.1 39.6L223.7 40.9M220.6 38.4L219.0 40.7M208.1 65.4L206.7 64.4M208.1 65.4L208.2 67.4M208.1 65.4L210.1 64.7M178.3 68.6L178.0 70.2M179.9 69.3L181.1 71.6M176.8 64.7L175.1 62.4M193.7 59.8L194.6 58.2M192.3 63.6L191.9 65.8M167.1 41.4L167.2 39.8M165.0 41.5L163.0 40.0M203.6 19.1L204.2 20.5M204.2 20.5L204.9 21.8M222.5 68.2L221.4 71.0M222.5 68.2L220.2 70.2M230.5 79.5L228.9 81.3M222.4 52.9L223.4 55.1M222.4 52.9L220.0 53.0M204.9 21.8L206.1 23.8M202.5 82.3L200.9 82.1M189.2 24.1L190.1 25.5M189.2 24.1L189.9 22.5M189.2 24.1L186.8 24.4M186.8 24.4L184.4 24.7M209.2 53.5L206.9 53.0M209.2 53.5L208.7 50.9M208.7 50.9L208.1 48.3M209.2 53.5L211.7 52.4M193.8 85.6L195.0 83.6M193.8 85.6L193.3 82.9M173.1 17.7L174.2 19.1M173.1 17.7L171.1 19.1M173.1 17.7L176.1 18.4M164.7 53.9L163.3 55.0M237.8 20.4L236.4 19.4M177.7 74.8L179.3 75.1M177.0 72.3L178.0 70.2M202.9 40.0L203.8 38.6M202.9 40.0L204.6 40.6M202.9 40.0L202.1 38.4M193.6 76.4L195.2 76.6M230.9 88.8L232.0 87.0M188.0 86.6L187.4 84.8M236.3 51.3L238.3 53.0M219.4 46.3L218.4 44.7M219.4 46.3L216.5 46.6M219.4 46.3L217.0 44.0M173.4 62.8L175.1 62.4M173.0 61.2L174.3 59.2M164.1 69.0L162.0 67.6M163.6 70.9L161.0 71.4M166.1 73.0L166.0 75.7M232.0 87.0L233.2 85.9M233.2 85.9L234.3 84.8M211.1 46.0L208.5 45.1M196.5 92.4L197.5 89.9M172.7 56.1L173.5 57.6M173.5 57.6L174.3 59.2M234.5 83.1L234.3 84.8M197.8 59.1L196.2 58.6M196.2 58.6L194.6 58.2M197.8 59.1L197.1 57.1M197.1 57.1L196.5 55.2M197.8 59.1L199.1 61.0M192.9 47.6L194.4 46.2M192.1 52.1L192.9 55.2M181.3 18.3L183.5 17.5M180.0 21.7L180.9 24.2M161.1 66.1L162.0 67.6M194.0 78.4L195.2 76.6M161.5 20.6L162.2 22.3M219.6 92.3L219.4 90.6M218.1 93.2L216.4 92.3M195.8 32.5L196.6 30.8M194.0 36.1L193.1 38.0M192.5 72.3L193.8 74.4M193.8 74.4L195.2 76.6M194.6 58.2L193.8 56.7M193.8 56.7L192.9 55.2M194.6 58.2L195.6 56.7M195.6 56.7L196.5 55.2M179.3 75.1L180.2 73.4M180.2 73.4L181.1 71.6M226.4 25.5L228.2 24.3M232.6 39.5L234.0 38.8M234.0 38.8L235.5 38.2M232.6 39.5L231.2 38.0M232.6 39.5L232.3 41.5M181.1 71.6L179.6 70.9M179.6 70.9L178.0 70.2M173.7 31.4L173.8 29.7M173.7 31.4L173.2 33.3M173.7 31.4L176.1 31.4M203.4 72.1L201.0 72.4M216.4 92.3L217.9 91.5M217.9 91.5L219.4 90.6M216.4 92.3L214.9 93.9M200.9 82.1L198.6 81.9M203.9 94.4L202.6 92.6M203.9 94.4L206.6 94.8M206.6 94.8L209.3 95.1M174.3 59.2L174.7 60.8M174.7 60.8L175.1 62.4M174.3 59.2L176.6 58.9M196.5 55.2L194.7 55.2M194.7 55.2L192.9 55.2M182.1 37.9L184.0 38.5M161.0 71.4L161.5 69.5M161.5 69.5L162.0 67.6M161.0 71.4L163.5 73.5M163.5 73.5L166.0 75.7M197.5 89.9L199.4 90.4M167.2 39.8L165.1 39.9M165.1 39.9L163.0 40.0M167.2 39.8L166.3 36.8M227.3 19.4L228.3 21.0M227.3 21.1L228.2 24.3M229.1 67.9L229.1 69.7M229.1 67.9L231.1 68.8M176.9 91.0L176.3 88.8M176.9 91.0L179.3 91.3M179.1 57.0L179.3 55.3M214.2 81.1L211.8 80.6M214.2 81.1L213.2 83.4M179.3 55.3L180.9 55.1M179.3 55.3L178.2 53.7M178.2 53.7L177.1 52.0M163.0 40.0L162.2 38.5M163.0 40.0L161.2 40.0M238.3 53.0L235.1 52.5M210.0 93.2L209.3 95.1M211.3 95.3L209.3 95.1M209.2 38.8L207.7 40.0M187.4 84.8L186.3 86.2M238.1 75.9L239.6 74.4M233.0 96.5L230.3 95.8M233.0 96.5L235.6 94.8M165.2 76.9L166.0 75.7M216.3 30.3L215.0 28.6M215.0 28.6L213.7 26.9M193.5 65.8L191.9 65.8M197.2 66.4L199.3 67.1M172.9 24.4L173.4 26.3M172.9 24.4L174.0 22.5M172.9 24.4L171.0 22.4M162.2 22.3L163.9 22.2M183.9 45.8L182.5 44.5M184.7 95.6L185.5 97.4M208.1 48.3L208.3 46.7M208.3 46.7L208.5 45.1M208.1 48.3L206.3 48.0M177.1 52.0L177.1 50.3M177.1 52.0L178.7 50.3M198.4 65.6L199.3 67.1M180.9 24.2L182.7 24.5M182.7 24.5L184.4 24.7M180.9 24.2L182.4 26.0M182.4 26.0L183.9 27.7M180.9 24.2L180.8 26.6M184.4 24.7L184.1 26.2M184.1 26.2L183.9 27.7M228.9 81.3L226.2 79.7M184.0 38.5L185.9 39.1M238.5 72.6L239.6 74.4M216.0 70.8L214.1 69.5M185.9 33.2L183.7 32.6M232.6 37.4L235.5 38.2M237.3 39.7L235.5 38.2M206.5 46.4L208.5 45.1M182.3 28.4L183.9 27.7M214.1 69.5L214.7 68.0M223.7 40.9L226.4 42.7M228.2 24.3L228.3 22.7M228.3 22.7L228.3 21.0M199.3 67.1L199.8 65.0" stroke="#8ca4d0" stroke-width="0.9" fill="none"/><circle cx="216.4" cy="92.3" r="1.85" fill="url(#gte)"/><circle cx="236.6" cy="77.5" r="1.6" fill="url(#gge)"/><circle cx="234.2" cy="49.6" r="1.75" fill="url(#gsb)"/><circle cx="180.7" cy="29.0" r="1.6" fill="url(#gge)"/><circle cx="205.2" cy="63.5" r="1.6" fill="url(#gse)"/><circle cx="197.5" cy="89.9" r="1.85" fill="url(#gte)"/><circle cx="214.2" cy="81.1" r="1.85" fill="url(#gte)"/><circle cx="181.5" cy="31.9" r="1.75" fill="url(#gsb)"/><circle cx="210.8" cy="91.2" r="1.6" fill="url(#gge)"/><circle cx="201.0" cy="72.4" r="1.85" fill="url(#gte)"/><circle cx="220.4" cy="73.8" r="1.75" fill="url(#gsb)"/><circle cx="181.7" cy="91.6" r="1.6" fill="url(#gge)"/><circle cx="202.9" cy="40.0" r="1.85" fill="url(#gte)"/><circle cx="196.9" cy="27.1" r="1.75" fill="url(#gsb)"/><circle cx="182.7" cy="81.3" r="1.85" fill="url(#gte)"/><circle cx="189.2" cy="24.1" r="1.85" fill="url(#gte)"/><circle cx="181.0" cy="43.3" r="1.75" fill="url(#gsb)"/><circle cx="188.3" cy="30.0" r="1.6" fill="url(#gse)"/><circle cx="177.1" cy="48.6" r="1.6" fill="url(#gse)"/><circle cx="212.6" cy="72.7" r="1.75" fill="url(#gsb)"/><circle cx="170.9" cy="52.6" r="1.85" fill="url(#gte)"/><circle cx="209.5" cy="80.1" r="1.6" fill="url(#gge)"/><circle cx="203.9" cy="28.5" r="1.6" fill="url(#gge)"/><circle cx="203.9" cy="94.4" r="1.85" fill="url(#gte)"/><circle cx="192.8" cy="80.2" r="1.75" fill="url(#gsb)"/><circle cx="234.3" cy="84.8" r="1.85" fill="url(#gte)"/><circle cx="162.0" cy="93.2" r="1.6" fill="url(#gse)"/><circle cx="194.8" cy="22.9" r="1.75" fill="url(#gsb)"/><circle cx="235.0" cy="63.6" r="1.6" fill="url(#gse)"/><circle cx="224.3" cy="71.9" r="1.6" fill="url(#gse)"/><circle cx="162.0" cy="67.6" r="1.85" fill="url(#gte)"/><circle cx="200.9" cy="82.1" r="1.85" fill="url(#gte)"/><circle cx="199.3" cy="67.1" r="1.85" fill="url(#gte)"/><circle cx="212.1" cy="85.6" r="1.6" fill="url(#gse)"/><circle cx="185.5" cy="97.4" r="1.85" fill="url(#gte)"/><circle cx="163.7" cy="19.5" r="1.6" fill="url(#gge)"/><circle cx="219.4" cy="46.3" r="1.85" fill="url(#gte)"/><circle cx="178.9" cy="58.7" r="1.6" fill="url(#gge)"/><circle cx="209.2" cy="38.8" r="1.85" fill="url(#gte)"/><circle cx="199.1" cy="85.6" r="1.75" fill="url(#gsb)"/><circle cx="197.8" cy="59.1" r="1.85" fill="url(#gte)"/><circle cx="217.4" cy="43.0" r="1.75" fill="url(#gsb)"/><circle cx="223.3" cy="97.2" r="1.6" fill="url(#gge)"/><circle cx="160.7" cy="19.0" r="1.6" fill="url(#gse)"/><circle cx="184.2" cy="42.4" r="1.85" fill="url(#gte)"/><circle cx="166.3" cy="70.3" r="1.75" fill="url(#gsb)"/><circle cx="209.2" cy="53.5" r="1.85" fill="url(#gte)"/><circle cx="232.0" cy="43.6" r="1.6" fill="url(#gge)"/><circle cx="172.2" cy="97.2" r="1.6" fill="url(#gge)"/><circle cx="173.9" cy="28.1" r="1.75" fill="url(#gsb)"/><circle cx="204.5" cy="47.7" r="1.75" fill="url(#gsb)"/><circle cx="162.2" cy="22.3" r="1.85" fill="url(#gte)"/><circle cx="209.5" cy="21.9" r="1.6" fill="url(#gse)"/><circle cx="217.2" cy="81.7" r="1.6" fill="url(#gge)"/><circle cx="212.7" cy="39.0" r="1.85" fill="url(#gte)"/><circle cx="163.0" cy="40.0" r="1.85" fill="url(#gte)"/><circle cx="213.6" cy="46.9" r="1.6" fill="url(#gge)"/><circle cx="239.8" cy="28.4" r="1.6" fill="url(#gge)"/><circle cx="217.5" cy="53.0" r="1.75" fill="url(#gsb)"/><circle cx="183.9" cy="45.8" r="1.85" fill="url(#gte)"/><circle cx="166.0" cy="75.7" r="1.85" fill="url(#gte)"/><circle cx="201.3" cy="36.8" r="1.6" fill="url(#gse)"/><circle cx="213.3" cy="95.5" r="1.6" fill="url(#gge)"/><circle cx="195.0" cy="65.8" r="1.6" fill="url(#gge)"/><circle cx="171.2" cy="91.7" r="1.6" fill="url(#gge)"/><circle cx="163.3" cy="81.5" r="1.6" fill="url(#gge)"/><circle cx="181.1" cy="71.6" r="1.85" fill="url(#gte)"/><circle cx="165.4" cy="33.7" r="1.6" fill="url(#gge)"/><circle cx="178.6" cy="67.0" r="1.75" fill="url(#gsb)"/><circle cx="187.8" cy="64.5" r="1.85" fill="url(#gte)"/><circle cx="175.2" cy="20.5" r="1.6" fill="url(#gse)"/><circle cx="229.1" cy="67.9" r="1.85" fill="url(#gte)"/><circle cx="223.5" cy="78.2" r="1.6" fill="url(#gse)"/><circle cx="160.2" cy="64.6" r="1.75" fill="url(#gsb)"/><circle cx="216.3" cy="30.3" r="1.85" fill="url(#gte)"/><circle cx="202.1" cy="86.7" r="1.6" fill="url(#gse)"/><circle cx="191.9" cy="65.8" r="1.85" fill="url(#gte)"/><circle cx="232.0" cy="87.0" r="1.85" fill="url(#gte)"/><circle cx="231.9" cy="51.9" r="1.75" fill="url(#gsb)"/><circle cx="178.3" cy="81.5" r="1.75" fill="url(#gsb)"/><circle cx="183.9" cy="27.7" r="1.85" fill="url(#gte)"/><circle cx="179.0" cy="45.6" r="1.75" fill="url(#gsb)"/><circle cx="191.0" cy="26.8" r="1.6" fill="url(#gse)"/><circle cx="169.1" cy="20.5" r="1.75" fill="url(#gsb)"/><circle cx="223.7" cy="40.9" r="1.85" fill="url(#gte)"/><circle cx="162.0" cy="33.0" r="1.6" fill="url(#gge)"/><circle cx="237.3" cy="70.9" r="1.75" fill="url(#gsb)"/><circle cx="164.7" cy="53.9" r="1.85" fill="url(#gte)"/><circle cx="213.6" cy="33.1" r="1.6" fill="url(#gse)"/><circle cx="195.2" cy="76.6" r="1.85" fill="url(#gte)"/><circle cx="173.1" cy="17.7" r="1.85" fill="url(#gte)"/><circle cx="185.5" cy="57.5" r="1.6" fill="url(#gge)"/><circle cx="224.4" cy="57.3" r="1.6" fill="url(#gge)"/><circle cx="161.4" cy="37.0" r="1.75" fill="url(#gsb)"/><circle cx="198.7" cy="43.6" r="1.75" fill="url(#gsb)"/><circle cx="232.0" cy="77.8" r="1.75" fill="url(#gsb)"/><circle cx="166.5" cy="30.7" r="1.6" fill="url(#gge)"/><circle cx="204.6" cy="52.6" r="1.75" fill="url(#gsb)"/><circle cx="159.9" cy="87.8" r="1.6" fill="url(#gge)"/><circle cx="171.5" cy="84.1" r="1.6" fill="url(#gge)"/><circle cx="228.9" cy="81.3" r="1.85" fill="url(#gte)"/><circle cx="173.7" cy="31.4" r="1.85" fill="url(#gte)"/><circle cx="171.3" cy="75.9" r="1.6" fill="url(#gge)"/><circle cx="184.0" cy="64.0" r="1.6" fill="url(#gse)"/><circle cx="180.9" cy="24.2" r="1.85" fill="url(#gte)"/><circle cx="224.6" cy="26.7" r="1.6" fill="url(#gse)"/><circle cx="229.1" cy="71.5" r="1.75" fill="url(#gsb)"/><circle cx="186.8" cy="71.9" r="1.6" fill="url(#gse)"/><circle cx="209.9" cy="61.2" r="1.6" fill="url(#gge)"/><circle cx="196.6" cy="30.8" r="1.85" fill="url(#gte)"/><circle cx="215.4" cy="66.5" r="1.6" fill="url(#gse)"/><circle cx="221.0" cy="81.3" r="1.6" fill="url(#gse)"/><circle cx="238.3" cy="53.0" r="1.85" fill="url(#gte)"/><circle cx="232.6" cy="39.5" r="1.85" fill="url(#gte)"/><circle cx="208.5" cy="35.5" r="1.6" fill="url(#gse)"/><circle cx="194.0" cy="28.7" r="1.85" fill="url(#gte)"/><circle cx="209.3" cy="95.1" r="1.85" fill="url(#gte)"/><circle cx="178.4" cy="31.4" r="1.6" fill="url(#gse)"/><circle cx="234.9" cy="18.3" r="1.75" fill="url(#gsb)"/><circle cx="235.7" cy="67.0" r="1.6" fill="url(#gge)"/><circle cx="184.7" cy="48.7" r="1.75" fill="url(#gsb)"/><circle cx="213.7" cy="26.9" r="1.85" fill="url(#gte)"/><circle cx="196.2" cy="81.6" r="1.6" fill="url(#gge)"/><circle cx="184.0" cy="93.9" r="1.6" fill="url(#gse)"/><circle cx="210.3" cy="16.9" r="1.6" fill="url(#gse)"/><circle cx="214.6" cy="41.8" r="1.6" fill="url(#gge)"/><circle cx="172.6" cy="35.2" r="1.75" fill="url(#gsb)"/><circle cx="180.2" cy="48.6" r="1.6" fill="url(#gge)"/><circle cx="204.1" cy="68.2" r="1.6" fill="url(#gse)"/><circle cx="163.0" cy="88.5" r="1.75" fill="url(#gsb)"/><circle cx="188.1" cy="76.1" r="1.6" fill="url(#gge)"/><circle cx="204.7" cy="37.1" r="1.75" fill="url(#gsb)"/><circle cx="232.0" cy="34.3" r="1.6" fill="url(#gse)"/><circle cx="178.0" cy="70.2" r="1.85" fill="url(#gte)"/><circle cx="225.1" cy="61.1" r="1.85" fill="url(#gte)"/><circle cx="193.1" cy="38.0" r="1.85" fill="url(#gte)"/><circle cx="235.5" cy="38.2" r="1.85" fill="url(#gte)"/><circle cx="199.5" cy="23.1" r="1.6" fill="url(#gge)"/><circle cx="213.4" cy="20.1" r="1.75" fill="url(#gsb)"/><circle cx="222.5" cy="68.2" r="1.85" fill="url(#gte)"/><circle cx="191.3" cy="49.0" r="1.6" fill="url(#gge)"/><circle cx="192.5" cy="72.3" r="1.85" fill="url(#gte)"/><circle cx="182.4" cy="54.8" r="1.75" fill="url(#gsb)"/><circle cx="210.6" cy="29.7" r="1.75" fill="url(#gsb)"/><circle cx="206.2" cy="41.1" r="1.6" fill="url(#gge)"/><circle cx="195.5" cy="94.9" r="1.6" fill="url(#gge)"/><circle cx="228.2" cy="24.3" r="1.85" fill="url(#gte)"/><circle cx="219.1" cy="35.6" r="1.75" fill="url(#gsb)"/><circle cx="229.1" cy="44.4" r="1.6" fill="url(#gge)"/><circle cx="179.3" cy="75.1" r="1.85" fill="url(#gte)"/><circle cx="194.9" cy="34.2" r="1.6" fill="url(#gse)"/><circle cx="189.3" cy="91.6" r="1.6" fill="url(#gge)"/><circle cx="204.0" cy="82.5" r="1.6" fill="url(#gge)"/><circle cx="180.1" cy="95.7" r="1.85" fill="url(#gte)"/><circle cx="208.1" cy="48.3" r="1.85" fill="url(#gte)"/><circle cx="233.2" cy="69.6" r="1.6" fill="url(#gse)"/><circle cx="164.3" cy="65.1" r="1.6" fill="url(#gse)"/><circle cx="219.5" cy="20.0" r="1.6" fill="url(#gse)"/><circle cx="222.4" cy="52.9" r="1.85" fill="url(#gte)"/><circle cx="219.4" cy="90.6" r="1.85" fill="url(#gte)"/><circle cx="210.6" cy="76.0" r="1.6" fill="url(#gse)"/><circle cx="176.8" cy="42.2" r="1.85" fill="url(#gte)"/><circle cx="187.9" cy="61.1" r="1.6" fill="url(#gse)"/><circle cx="197.5" cy="64.1" r="1.6" fill="url(#gse)"/><circle cx="239.6" cy="74.4" r="1.85" fill="url(#gte)"/><circle cx="188.7" cy="88.4" r="1.6" fill="url(#gge)"/><circle cx="177.1" cy="52.0" r="1.85" fill="url(#gte)"/><circle cx="184.0" cy="38.5" r="1.85" fill="url(#gte)"/><circle cx="206.2" cy="32.7" r="1.6" fill="url(#gge)"/><circle cx="189.0" cy="58.1" r="1.75" fill="url(#gsb)"/><circle cx="214.1" cy="69.5" r="1.85" fill="url(#gte)"/><circle cx="233.0" cy="96.5" r="1.85" fill="url(#gte)"/><circle cx="198.1" cy="49.7" r="1.75" fill="url(#gsb)"/><circle cx="192.9" cy="55.2" r="1.85" fill="url(#gte)"/><circle cx="176.0" cy="74.4" r="1.6" fill="url(#gse)"/><circle cx="181.7" cy="60.9" r="1.6" fill="url(#gse)"/><circle cx="192.8" cy="61.4" r="1.6" fill="url(#gse)"/><circle cx="179.1" cy="85.0" r="1.75" fill="url(#gsb)"/><circle cx="161.0" cy="71.4" r="1.85" fill="url(#gte)"/><circle cx="203.6" cy="19.1" r="1.85" fill="url(#gte)"/><circle cx="196.7" cy="17.4" r="1.6" fill="url(#gge)"/><circle cx="213.3" cy="58.1" r="1.85" fill="url(#gte)"/><circle cx="164.3" cy="78.1" r="1.6" fill="url(#gse)"/><circle cx="227.6" cy="95.2" r="1.6" fill="url(#gse)"/><circle cx="174.1" cy="40.3" r="1.75" fill="url(#gsb)"/><circle cx="170.4" cy="48.3" r="1.6" fill="url(#gge)"/><circle cx="203.9" cy="55.8" r="1.6" fill="url(#gge)"/><circle cx="218.9" cy="32.6" r="1.75" fill="url(#gsb)"/><circle cx="167.2" cy="39.8" r="1.85" fill="url(#gte)"/><circle cx="177.3" cy="39.1" r="1.6" fill="url(#gse)"/><circle cx="228.3" cy="21.0" r="1.85" fill="url(#gte)"/><circle cx="182.9" cy="75.5" r="1.6" fill="url(#gse)"/><circle cx="176.9" cy="91.0" r="1.85" fill="url(#gte)"/><circle cx="170.4" cy="80.4" r="1.75" fill="url(#gsb)"/><circle cx="190.5" cy="20.9" r="1.6" fill="url(#gge)"/><circle cx="207.4" cy="25.7" r="1.6" fill="url(#gse)"/><circle cx="208.4" cy="69.3" r="1.75" fill="url(#gsb)"/><circle cx="189.5" cy="44.0" r="1.75" fill="url(#gsb)"/><circle cx="208.5" cy="45.1" r="1.85" fill="url(#gte)"/><circle cx="206.2" cy="80.3" r="1.6" fill="url(#gse)"/><circle cx="172.7" cy="56.1" r="1.85" fill="url(#gte)"/><circle cx="180.1" cy="37.3" r="1.75" fill="url(#gsb)"/><circle cx="207.8" cy="84.5" r="1.75" fill="url(#gsb)"/><circle cx="159.3" cy="40.0" r="1.6" fill="url(#gge)"/><circle cx="205.8" cy="71.8" r="1.6" fill="url(#gse)"/><circle cx="204.7" cy="88.4" r="1.6" fill="url(#gse)"/><circle cx="194.6" cy="58.2" r="1.85" fill="url(#gte)"/><circle cx="196.4" cy="72.6" r="1.6" fill="url(#gge)"/><circle cx="238.3" cy="93.2" r="1.75" fill="url(#gsb)"/><circle cx="204.9" cy="21.8" r="1.85" fill="url(#gte)"/><circle cx="184.4" cy="24.7" r="1.85" fill="url(#gte)"/><circle cx="208.1" cy="65.4" r="1.85" fill="url(#gte)"/><circle cx="239.2" cy="60.1" r="1.6" fill="url(#gse)"/><circle cx="187.2" cy="54.6" r="1.6" fill="url(#gse)"/><circle cx="229.8" cy="90.6" r="1.6" fill="url(#gge)"/><circle cx="220.6" cy="38.4" r="1.85" fill="url(#gte)"/><circle cx="187.4" cy="84.8" r="1.85" fill="url(#gte)"/><circle cx="196.9" cy="39.2" r="1.85" fill="url(#gte)"/><circle cx="206.3" cy="58.7" r="1.75" fill="url(#gsb)"/><circle cx="236.9" cy="90.0" r="1.6" fill="url(#gge)"/><circle cx="166.8" cy="18.2" r="1.85" fill="url(#gte)"/><circle cx="231.5" cy="19.0" r="1.6" fill="url(#gse)"/><circle cx="219.7" cy="94.1" r="1.6" fill="url(#gge)"/><circle cx="194.4" cy="42.2" r="1.85" fill="url(#gte)"/><circle cx="217.9" cy="72.2" r="1.6" fill="url(#gge)"/><circle cx="174.3" cy="59.2" r="1.85" fill="url(#gte)"/><circle cx="192.9" cy="93.0" r="1.6" fill="url(#gse)"/><circle cx="229.7" cy="36.5" r="1.6" fill="url(#gge)"/><circle cx="226.3" cy="17.8" r="1.6" fill="url(#gse)"/><circle cx="239.1" cy="41.2" r="1.6" fill="url(#gse)"/><circle cx="166.0" cy="89.1" r="1.6" fill="url(#gge)"/><circle cx="185.2" cy="87.6" r="1.75" fill="url(#gsb)"/><circle cx="224.2" cy="32.1" r="1.6" fill="url(#gge)"/><circle cx="227.5" cy="64.2" r="1.75" fill="url(#gsb)"/><circle cx="229.2" cy="27.2" r="1.75" fill="url(#gsb)"/><circle cx="219.1" cy="60.8" r="1.6" fill="url(#gge)"/><circle cx="219.6" cy="27.1" r="1.6" fill="url(#gge)"/><circle cx="214.1" cy="51.3" r="1.75" fill="url(#gsb)"/><circle cx="238.4" cy="33.3" r="1.6" fill="url(#gge)"/><circle cx="212.1" cy="63.9" r="1.6" fill="url(#gse)"/><circle cx="172.9" cy="24.4" r="1.85" fill="url(#gte)"/><circle cx="237.8" cy="20.4" r="1.85" fill="url(#gte)"/><circle cx="234.8" cy="81.3" r="1.6" fill="url(#gge)"/><circle cx="231.5" cy="55.0" r="1.75" fill="url(#gsb)"/><circle cx="171.4" cy="67.3" r="1.75" fill="url(#gsb)"/><circle cx="169.7" cy="57.1" r="1.85" fill="url(#gte)"/><circle cx="192.0" cy="76.3" r="1.6" fill="url(#gse)"/><circle cx="161.9" cy="48.4" r="1.75" fill="url(#gsb)"/><circle cx="187.7" cy="39.6" r="1.6" fill="url(#gge)"/><circle cx="238.1" cy="64.2" r="1.6" fill="url(#gse)"/><circle cx="232.3" cy="73.1" r="1.85" fill="url(#gte)"/><circle cx="161.8" cy="56.2" r="1.75" fill="url(#gsb)"/><circle cx="194.4" cy="46.2" r="1.85" fill="url(#gte)"/><circle cx="179.3" cy="55.3" r="1.85" fill="url(#gte)"/><circle cx="161.3" cy="84.5" r="1.75" fill="url(#gsb)"/><circle cx="215.7" cy="22.2" r="1.6" fill="url(#gse)"/><circle cx="196.5" cy="55.2" r="1.85" fill="url(#gte)"/><circle cx="227.5" cy="74.2" r="1.6" fill="url(#gge)"/><circle cx="186.6" cy="18.2" r="1.75" fill="url(#gsb)"/><circle cx="162.9" cy="29.7" r="1.75" fill="url(#gsb)"/><circle cx="203.0" cy="44.8" r="1.6" fill="url(#gge)"/><circle cx="235.1" cy="44.3" r="1.6" fill="url(#gge)"/><circle cx="193.8" cy="85.6" r="1.85" fill="url(#gte)"/><circle cx="185.5" cy="68.7" r="1.85" fill="url(#gte)"/><circle cx="175.7" cy="86.6" r="1.6" fill="url(#gse)"/><circle cx="232.9" cy="26.1" r="1.85" fill="url(#gte)"/><circle cx="164.7" cy="49.4" r="1.75" fill="url(#gsb)"/><circle cx="237.0" cy="29.6" r="1.85" fill="url(#gte)"/><circle cx="165.0" cy="27.3" r="1.85" fill="url(#gte)"/><circle cx="222.3" cy="91.6" r="1.75" fill="url(#gsb)"/><circle cx="167.0" cy="43.0" r="1.75" fill="url(#gsb)"/><circle cx="183.5" cy="17.5" r="1.85" fill="url(#gte)"/><circle cx="207.8" cy="19.1" r="1.6" fill="url(#gge)"/><circle cx="185.9" cy="33.2" r="1.85" fill="url(#gte)"/><circle cx="175.1" cy="62.4" r="1.85" fill="url(#gte)"/><circle cx="227.6" cy="48.1" r="1.6" fill="url(#gge)"/><circle cx="166.2" cy="62.1" r="1.85" fill="url(#gte)"/><circle cx="171.8" cy="72.3" r="1.75" fill="url(#gsb)"/><circle cx="200.4" cy="62.9" r="1.6" fill="url(#gge)"/><circle cx="165.7" cy="22.2" r="1.75" fill="url(#gsb)"/><circle cx="201.3" cy="90.8" r="1.6" fill="url(#gge)"/><circle cx="171.7" cy="63.2" r="1.6" fill="url(#gge)"/><circle cx="225.2" cy="92.7" r="1.6" fill="url(#gse)"/><circle cx="179.1" cy="19.2" r="1.75" fill="url(#gsb)"/><circle cx="219.0" cy="85.0" r="1.6" fill="url(#gse)"/><line x1="157.8" y1="21.8" x2="234.4" y2="21.8" stroke="#111" stroke-width="1.05"/><line x1="234.4" y1="21.8" x2="234.4" y2="99" stroke="#111" stroke-width="1.05"/><line x1="234.4" y1="99" x2="157.8" y2="99" stroke="#111" stroke-width="1.05"/><line x1="157.8" y1="99" x2="157.8" y2="21.8" stroke="#111" stroke-width="1.05"/><line x1="164.4" y1="15.3" x2="241.4" y2="15.3" stroke="#111" stroke-width="1.05"/><line x1="241.4" y1="15.3" x2="241.4" y2="92.4" stroke="#111" stroke-width="1.05"/><line x1="241.4" y1="92.4" x2="164.4" y2="92.4" stroke="#111" stroke-width="1.05"/><line x1="164.4" y1="92.4" x2="164.4" y2="15.3" stroke="#111" stroke-width="1.05"/><line x1="157.8" y1="21.8" x2="164.4" y2="15.3" stroke="#111" stroke-width="1.05"/><line x1="234.4" y1="21.8" x2="241.4" y2="15.3" stroke="#111" stroke-width="1.05"/><line x1="234.4" y1="99" x2="241.4" y2="92.4" stroke="#111" stroke-width="1.05"/><line x1="157.8" y1="99" x2="164.4" y2="92.4" stroke="#111" stroke-width="1.05"/><text x="203.20" y="10.80" font-size="9.9" text-anchor="middle" fill="#111" color="#111" >GSS2T3</text><line x1="246.3" y1="17.7" x2="246.3" y2="90.2" stroke="#111" stroke-width="1"/><path d="M244.0,19.7 L246.3,14.7 L248.60000000000002,19.7 Z" fill="#111"/><path d="M244.0,88.2 L246.3,93.2 L248.60000000000002,88.2 Z" fill="#111"/><text x="0" y="0" font-size="11" text-anchor="middle" fill="#111" color="#111" transform="translate(259.30,56.00) rotate(-90)">23.17 Å</text><path d="M70.0 200.0L69.7 201.6M71.8 197.2L73.5 196.1M80.6 139.4L83.0 138.9M121.9 192.9L121.4 194.6M125.0 189.9L127.5 188.7M58.2 143.6L57.9 145.1M60.8 141.2L62.9 140.4M83.3 155.6L83.0 153.1M70.9 136.4L72.3 136.0M70.9 136.4L69.4 134.8M70.9 136.4L72.1 138.4M55.1 197.5L53.3 197.9M53.3 197.9L51.5 198.3M55.1 197.5L54.4 199.7M54.4 199.7L53.7 201.9M55.1 197.5L57.5 196.9M57.5 196.9L59.9 196.3M83.0 138.9L83.0 140.6M83.0 138.9L82.7 136.4M115.8 175.9L117.5 176.8M60.8 183.4L62.2 184.1M62.2 184.1L63.7 184.8M60.8 183.4L60.3 185.1M60.8 183.4L58.3 184.5M51.5 198.3L52.6 200.1M52.6 200.1L53.7 201.9M51.5 198.3L51.5 195.6M63.7 184.8L65.5 184.9M63.7 184.8L61.7 185.8M96.8 177.9L95.1 176.6M92.5 165.1L91.7 163.6M95.1 164.9L96.9 163.2M125.5 158.4L124.8 156.9M116.1 179.3L117.5 176.8M127.5 129.9L128.3 132.0M126.0 130.2L125.3 132.7M127.3 124.6L127.8 121.6M86.3 177.1L87.9 177.3M86.3 177.1L85.7 178.8M85.7 178.8L85.0 180.4M86.3 177.1L89.3 175.9M99.6 158.4L99.3 160.1M73.5 196.1L74.0 194.6M73.5 196.1L73.6 198.3M83.8 181.9L85.0 180.4M121.1 199.6L120.7 201.1M121.1 199.6L119.4 199.2M119.4 199.2L117.6 198.7M121.1 199.6L122.7 201.0M58.6 177.1L61.0 176.9M58.2 194.2L59.9 196.3M65.5 198.0L64.0 195.9M65.5 198.0L67.6 199.8M67.6 199.8L69.7 201.6M61.7 163.6L60.7 162.4M61.7 163.6L62.2 160.9M61.7 163.6L59.1 162.5M59.1 162.5L56.5 161.5M62.5 138.4L62.9 140.4M52.0 126.0L53.5 125.1M52.5 124.3L54.4 121.8M90.3 160.7L91.0 162.2M91.0 162.2L91.7 163.6M90.3 160.7L89.5 158.6M90.3 160.7L88.2 162.1M54.4 121.8L54.0 123.5M54.0 123.5L53.5 125.1M54.4 121.8L56.3 123.6M59.9 196.3L61.2 195.0M59.9 196.3L59.9 198.2M59.9 198.2L59.8 200.0M106.2 154.1L105.3 155.9M106.2 154.1L108.8 153.2M106.2 154.1L109.2 155.2M51.5 187.4L52.5 186.2M91.3 191.2L93.5 191.6M90.7 127.4L89.4 128.3M90.7 127.4L89.8 126.0M90.7 127.4L93.2 126.0M54.2 185.9L52.5 186.2M68.3 131.6L68.7 129.9M57.9 145.1L59.0 147.2M57.9 145.1L55.4 146.0M123.0 156.8L124.8 156.9M113.6 153.7L115.0 151.0M82.6 191.6L82.4 189.7M80.3 193.4L77.8 193.4M82.4 189.7L81.5 187.9M82.4 189.7L80.1 189.9M69.7 201.6L71.7 201.0M99.3 160.1L98.1 161.7M98.1 161.7L96.9 163.2M99.3 160.1L101.2 161.9M127.1 154.7L124.8 156.9M96.4 142.7L94.1 143.3M117.6 198.7L116.2 198.2M117.6 198.7L117.6 197.0M125.2 122.2L127.8 121.6M121.4 194.6L119.5 195.0M100.4 186.0L100.7 187.9M55.8 125.3L53.5 125.1M128.3 132.0L126.8 132.4M126.8 132.4L125.3 132.7M128.3 132.0L129.0 134.9M95.1 176.6L93.8 175.7M95.1 176.6L95.0 174.3M117.5 176.8L118.4 178.2M117.5 176.8L118.0 175.1M130.5 185.6L129.4 184.0M130.5 185.6L129.0 187.2M129.0 187.2L127.5 188.7M130.5 185.6L128.1 185.0M53.7 201.9L56.7 200.9M56.7 200.9L59.8 200.0M92.2 144.5L94.1 143.3M96.9 163.2L94.3 163.4M94.3 163.4L91.7 163.6M121.5 148.7L119.8 150.0M78.3 195.0L77.8 193.4M78.9 199.0L79.0 201.6M81.0 201.3L79.0 201.6M77.8 193.4L76.2 193.3M77.8 193.4L77.8 191.8M74.0 154.8L73.5 156.7M119.8 150.0L118.3 149.2M119.8 150.0L117.4 150.5M117.4 150.5L115.0 151.0M106.7 173.6L104.6 173.2M70.4 129.7L68.7 129.9M125.2 135.6L125.3 132.7M58.1 161.4L56.5 161.5M61.3 175.1L61.0 176.9M67.8 177.5L65.0 177.2M83.0 153.1L81.9 151.6M83.0 153.1L85.3 152.3M91.5 143.2L94.1 143.3M77.2 129.9L78.4 128.2M116.0 149.7L115.0 151.0M76.3 148.1L74.0 148.9M56.5 161.5L55.0 162.2M56.5 161.5L55.4 159.9M105.7 171.5L104.6 173.2M71.0 158.5L73.5 156.7M93.4 193.4L93.5 191.6M65.3 152.2L66.8 153.1M64.8 175.6L65.0 177.2M62.8 175.4L61.0 176.9M93.5 191.6L96.0 191.4M64.9 141.1L62.9 140.4M84.2 133.2L86.0 132.6M78.4 128.2L79.4 126.5M78.4 128.2L80.6 128.1M125.5 154.5L124.8 156.9M82.5 180.7L85.0 180.4M115.0 151.0L113.2 151.6M104.6 173.2L102.7 173.1M99.6 189.5L100.7 187.9M66.8 153.1L68.1 154.0M66.8 153.1L69.0 151.8M87.6 134.1L86.0 132.6M71.5 155.8L73.5 156.7M127.6 191.1L127.5 188.7M72.6 149.7L74.0 148.9M74.0 148.9L72.5 147.6M100.7 187.9L102.5 188.1M73.5 156.7L75.5 155.2M87.0 130.9L86.0 132.6M61.0 176.9L63.0 177.1M63.0 177.1L65.0 177.2M94.1 143.3L93.5 141.3" stroke="#b0d488" stroke-width="0.9" fill="none"/><path d="M70.2 198.3L70.0 200.0M70.2 198.3L71.8 197.2M70.2 198.3L71.9 199.4M64.4 133.5L63.6 131.4M78.2 139.8L78.2 142.0M78.2 142.0L78.3 144.1M78.2 139.8L80.6 139.4M78.2 139.8L75.8 140.1M105.2 128.5L106.2 126.6M122.8 188.9L123.0 186.6M58.6 142.1L58.2 143.6M58.6 142.1L57.0 141.2M58.6 142.1L60.8 141.2M82.8 159.9L82.0 161.7M87.9 199.6L87.9 202.4M103.4 197.0L102.6 195.6M103.8 200.2L103.5 202.1M106.2 197.6L108.3 196.8M102.5 193.9L102.6 195.6M100.5 191.7L98.6 191.2M83.0 140.6L83.0 142.4M112.0 138.7L111.0 139.9M110.9 137.4L108.9 137.3M51.5 195.6L51.4 192.9M83.8 147.5L82.3 148.8M83.8 147.5L83.4 144.9M83.4 144.9L83.0 142.4M83.8 147.5L81.2 147.4M81.2 147.4L78.6 147.3M124.0 180.5L122.6 181.3M124.0 180.5L124.9 182.4M124.9 182.4L125.7 184.3M124.0 180.5L126.1 181.5M126.1 181.5L128.3 182.4M123.2 145.8L123.2 147.5M121.7 142.9L120.1 141.8M126.8 127.7L127.5 129.9M126.8 127.7L126.0 130.2M126.8 127.7L127.3 124.6M74.0 194.6L74.6 193.2M82.7 183.4L81.6 184.7M81.6 184.7L80.6 186.1M82.7 183.4L81.4 182.2M82.7 183.4L83.8 181.9M122.7 201.0L124.3 202.3M106.2 126.6L104.9 125.7M106.2 126.6L108.0 126.9M108.0 126.9L109.9 127.3M55.4 178.5L54.5 179.9M75.0 177.5L74.7 179.7M74.7 179.7L74.4 181.9M75.0 177.5L72.8 177.6M75.0 177.5L75.2 174.9M54.0 192.5L51.4 192.9M62.2 160.9L62.8 158.2M61.7 130.6L63.6 131.4M107.3 195.2L108.3 196.8M104.5 194.6L102.6 195.6M112.7 144.9L114.7 144.6M112.7 144.9L111.9 142.4M111.9 142.4L111.0 139.9M112.7 144.9L114.8 146.7M50.5 126.8L52.0 126.0M50.5 126.8L50.3 129.7M50.5 126.8L52.5 124.3M109.5 195.8L108.3 196.8M54.5 179.9L52.3 178.4M52.3 178.4L50.1 176.8M54.5 179.9L53.8 177.1M107.5 139.2L108.9 137.3M108.6 140.4L111.0 139.9M109.2 155.2L112.2 156.4M50.9 190.8L51.4 192.9M83.0 142.4L80.7 143.3M80.7 143.3L78.3 144.1M73.3 183.8L74.4 181.9M87.9 202.4L88.9 201.1M87.9 202.4L85.4 201.6M87.9 202.4L86.4 200.1M121.3 156.6L123.0 156.8M121.3 156.6L119.8 159.0M112.2 156.4L111.8 154.3M112.2 156.4L110.6 158.5M112.2 156.4L113.6 153.7M82.8 193.4L82.6 191.6M82.8 193.4L83.8 195.6M82.8 193.4L80.3 193.4M95.2 123.0L94.9 121.5M93.1 123.0L90.6 121.5M50.1 176.8L51.5 175.6M82.2 124.6L80.5 124.8M83.3 126.2L82.8 128.1M81.5 187.9L80.6 186.1M127.8 152.3L126.2 152.1M116.2 198.2L114.7 197.6M103.5 202.1L105.9 201.7M103.5 202.1L103.0 198.9M103.0 198.9L102.6 195.6M129.4 179.7L128.3 182.4M123.0 186.6L124.4 185.5M124.4 185.5L125.7 184.3M123.0 186.6L120.8 186.2M78.3 144.1L78.4 145.7M78.4 145.7L78.6 147.3M109.9 127.3L111.5 127.0M109.9 127.3L109.3 125.1M70.9 123.4L70.1 124.8M69.4 121.8L67.0 121.6M109.4 177.8L108.3 178.9M118.4 143.1L120.1 141.8M129.4 184.0L128.3 182.4M128.1 185.0L125.7 184.3M108.3 178.9L106.4 179.9M108.3 178.9L108.5 176.4M90.3 145.7L89.6 144.4M89.6 144.4L89.0 143.0M90.3 145.7L90.3 147.8M90.3 145.7L92.2 144.5M91.4 135.0L89.3 135.7M80.7 173.2L79.5 174.5M123.6 169.4L124.5 166.4M123.6 169.4L121.0 171.5M70.1 124.8L68.5 123.2M68.5 123.2L67.0 121.6M70.1 124.8L71.1 127.1M128.3 182.4L127.0 183.4M127.0 183.4L125.7 184.3M123.2 147.5L121.5 148.7M123.2 147.5L124.7 149.8M124.7 149.8L126.2 152.1M76.2 193.3L74.6 193.2M101.6 134.4L102.6 136.5M100.2 136.5L102.6 136.5M61.2 159.7L62.8 158.2M62.8 158.2L65.6 159.3M65.6 159.3L68.4 160.3M78.5 186.0L80.6 186.1M103.5 166.2L103.9 168.7M126.5 202.0L124.3 202.3M72.4 179.8L74.4 181.9M89.0 143.0L91.5 143.2M89.0 143.0L90.9 141.1M90.9 141.1L92.8 139.3M77.8 123.8L80.5 124.8M78.6 147.3L79.7 148.7M78.6 147.3L76.3 148.1M55.4 159.9L54.2 158.4M84.0 162.6L82.0 161.7M105.3 169.3L103.9 168.7M68.4 160.3L68.9 157.5M68.9 157.5L69.4 154.8M68.4 160.3L71.0 158.5M114.7 197.6L116.2 196.5M90.6 121.5L89.8 123.1M90.6 121.5L92.7 121.5M92.7 121.5L94.9 121.5M90.6 121.5L88.2 121.6M93.4 195.3L93.4 193.4M93.4 195.3L93.7 197.4M63.6 131.4L63.6 129.7M96.0 191.4L98.6 191.2M82.6 131.0L82.8 128.1M79.4 126.5L80.5 124.8M80.6 128.1L82.8 128.1M126.2 152.1L125.5 154.5M108.3 199.1L108.3 196.8M80.3 183.5L80.6 186.1M53.9 160.6L54.2 158.4M124.3 202.3L122.3 202.4M111.0 139.9L110.0 138.6M110.0 138.6L108.9 137.3M98.6 191.2L99.6 189.5M79.5 174.5L77.5 173.4M53.1 156.2L54.2 158.4M68.1 154.0L69.4 154.8M66.7 167.8L69.7 169.0M89.3 135.7L87.6 134.1M89.3 135.7L91.1 137.5M91.1 137.5L92.8 139.3M69.4 154.8L71.5 155.8M69.4 154.8L70.3 152.7M127.8 193.5L127.6 191.1M74.4 191.6L74.6 193.2M80.5 124.8L81.7 126.4M81.7 126.4L82.8 128.1M67.0 121.6L65.4 122.3M79.6 161.3L82.0 161.7M93.5 141.3L92.8 139.3M81.8 163.6L82.0 161.7" stroke="#dcae68" stroke-width="0.9" fill="none"/><path d="M65.2 135.6L63.6 136.0M63.6 136.0L62.1 136.4M65.2 135.6L66.6 134.5M65.2 135.6L64.4 133.5M75.8 140.1L73.4 140.4M104.2 130.4L102.4 131.3M104.2 130.4L105.2 128.5M104.2 130.4L103.9 127.6M103.9 127.6L103.6 124.8M122.5 191.1L121.9 192.9M122.5 191.1L122.8 188.9M122.5 191.1L125.0 189.9M51.9 164.1L53.6 162.9M50.6 167.7L51.1 170.2M57.0 141.2L55.5 140.3M83.7 158.1L82.8 159.9M83.7 158.1L83.3 155.6M83.7 158.1L86.2 157.3M86.2 157.3L88.7 156.5M86.3 197.3L84.8 197.8M88.9 198.3L89.9 199.8M72.3 136.0L73.8 135.7M72.1 138.4L73.4 140.4M104.2 198.3L103.4 197.0M104.2 198.3L103.8 200.2M104.2 198.3L106.2 197.6M102.5 192.2L102.5 193.9M102.5 192.2L100.5 191.7M102.5 192.2L104.4 192.9M104.4 192.9L106.3 193.6M82.7 136.4L82.4 133.9M114.1 175.1L115.8 175.9M114.1 175.1L112.3 175.8M112.3 175.8L110.5 176.6M114.1 175.1L116.3 174.3M60.8 170.0L61.2 171.6M61.2 171.6L61.6 173.3M60.8 170.0L58.5 169.9M58.5 169.9L56.1 169.7M60.8 170.0L62.7 172.0M62.7 172.0L64.6 174.0M122.6 181.3L121.1 182.1M98.5 179.1L96.8 177.9M98.5 179.1L99.3 181.6M99.3 181.6L100.1 184.1M98.5 179.1L101.5 180.0M93.3 166.6L92.5 165.1M93.3 166.6L91.4 167.3M93.3 166.6L95.1 164.9M124.2 141.3L125.0 138.4M126.3 159.9L125.5 158.4M126.3 159.9L125.8 161.7M126.3 159.9L124.5 160.9M124.5 160.9L122.7 161.9M114.8 181.7L114.3 183.4M114.3 183.4L113.9 185.0M114.8 181.7L117.0 180.6M114.8 181.7L116.1 179.3M122.7 161.9L124.0 162.7M122.7 161.9L121.1 163.3M121.1 163.3L119.5 164.7M99.8 156.7L99.6 158.4M99.8 156.7L97.8 155.7M99.8 156.7L102.1 157.1M102.1 157.1L104.4 157.6M114.7 128.1L113.1 126.8M81.4 182.2L80.0 181.0M104.9 125.7L103.6 124.8M56.2 177.2L55.4 178.5M56.2 177.2L54.6 175.8M56.2 177.2L58.6 177.1M75.2 174.9L75.4 172.4M106.2 184.9L105.3 186.6M106.2 184.9L105.4 182.9M106.2 184.9L108.3 185.8M108.3 185.8L110.4 186.7M64.0 195.9L62.4 193.8M60.7 162.4L59.7 161.2M59.7 129.9L61.7 130.6M59.7 129.9L61.7 128.9M59.7 129.9L58.9 127.6M106.3 193.6L107.3 195.2M106.3 193.6L104.5 194.6M87.3 185.9L88.2 188.3M87.3 185.9L89.3 183.9M89.3 183.9L91.4 181.9M119.5 164.7L118.9 163.1M118.9 163.1L118.3 161.4M119.5 164.7L117.2 165.0M117.2 165.0L114.8 165.3M114.8 146.7L116.9 148.4M62.1 136.4L62.5 138.4M62.1 136.4L59.6 136.8M59.6 136.8L57.2 137.1M110.7 194.8L109.5 195.8M110.7 194.8L111.6 192.8M111.6 192.8L112.4 190.9M89.5 158.6L88.7 156.5M88.2 162.1L86.0 163.6M106.2 141.0L104.4 142.0M106.2 141.0L107.5 139.2M106.2 141.0L108.6 140.4M57.2 137.1L56.7 135.6M57.2 137.1L56.4 138.7M56.4 138.7L55.5 140.3M57.2 137.1L55.4 137.5M61.2 195.0L62.4 193.8M105.3 155.9L104.4 157.6M108.8 153.2L111.4 152.2M50.4 188.7L51.5 187.4M50.4 188.7L50.9 190.8M50.4 188.7L53.2 187.1M89.4 128.3L88.0 129.2M93.2 126.0L95.6 124.5M72.3 185.8L74.4 185.9M72.3 185.8L73.3 183.8M72.3 185.8L73.2 187.9M73.2 187.9L74.2 190.0M88.9 201.1L89.9 199.8M86.4 200.1L84.8 197.8M59.0 147.2L60.1 149.3M119.8 159.0L118.3 161.4M111.8 154.3L111.4 152.2M110.6 158.5L109.0 160.6M83.8 195.6L84.8 197.8M75.3 165.6L76.3 163.3M76.3 163.3L77.3 161.0M75.3 165.6L74.0 168.0M75.3 165.6L78.5 165.6M95.6 124.5L95.2 123.0M95.6 124.5L93.1 123.0M96.8 148.9L97.8 147.5M97.8 147.5L98.8 146.1M96.8 148.9L98.4 149.8M96.8 148.9L96.3 151.9M83.8 124.3L84.8 123.0M84.8 123.0L85.7 121.7M83.8 124.3L82.2 124.6M83.8 124.3L83.3 126.2M80.1 189.9L77.9 190.1M52.0 172.3L51.1 170.2M73.8 135.7L74.9 133.6M73.8 135.7L73.6 138.0M73.6 138.0L73.4 140.4M90.0 169.8L90.4 171.5M129.4 152.4L127.8 152.3M129.4 152.4L129.8 149.8M129.8 149.8L130.3 147.2M129.4 152.4L127.1 154.7M50.5 137.5L52.0 137.7M50.5 137.5L50.4 139.1M50.4 139.1L50.2 140.7M50.5 137.5L50.3 135.1M98.8 144.1L98.8 146.1M117.6 197.0L117.7 195.3M88.7 156.5L88.1 154.0M88.1 154.0L87.6 151.5M122.5 122.8L121.1 123.7M121.1 123.7L119.6 124.5M122.5 122.8L125.2 122.2M128.4 176.4L126.2 175.8M120.8 186.2L118.6 185.9M119.5 195.0L117.7 195.3M100.1 184.1L100.4 186.0M100.1 184.1L102.3 182.4M60.1 149.3L61.7 148.4M61.7 148.4L63.4 147.5M60.1 149.3L61.9 150.2M61.9 150.2L63.8 151.2M60.1 149.3L59.4 151.3M111.5 127.0L113.1 126.8M71.8 122.0L70.9 123.4M71.8 122.0L73.4 122.4M73.4 122.4L75.1 122.8M71.8 122.0L69.4 121.8M95.0 174.3L94.8 172.0M110.5 176.6L109.4 177.8M110.5 176.6L109.6 175.3M109.6 175.3L108.8 174.0M116.8 146.4L116.9 148.4M110.4 186.7L112.1 185.9M112.1 185.9L113.9 185.0M110.4 186.7L111.4 188.8M111.4 188.8L112.4 190.9M116.9 188.9L117.8 187.4M117.8 187.4L118.6 185.9M116.9 188.9L114.7 189.9M114.7 189.9L112.4 190.9M116.9 188.9L115.4 186.9M115.4 186.9L113.9 185.0M108.5 176.4L108.8 174.0M90.3 147.8L90.3 150.0M93.6 134.3L91.4 135.0M93.6 134.3L95.5 132.9M93.6 134.3L95.7 135.4M81.8 171.9L80.7 173.2M81.8 171.9L83.3 170.3M81.8 171.9L81.7 168.8M107.8 165.4L109.7 166.5M109.7 166.5L111.6 167.5M107.8 165.4L107.3 167.6M107.8 165.4L108.4 163.0M108.4 163.0L109.0 160.6M71.1 127.1L72.1 129.5M78.9 196.5L78.3 195.0M78.9 196.5L78.9 199.0M83.9 199.4L84.8 197.8M77.8 191.8L77.9 190.1M76.0 153.3L77.5 153.7M72.9 151.7L71.3 150.5M118.3 149.2L116.9 148.4M109.0 160.6L106.7 159.1M106.7 159.1L104.4 157.6M108.8 174.0L106.7 173.6M108.8 174.0L107.7 171.9M89.9 199.8L92.0 199.6M92.0 199.6L94.0 199.4M72.1 129.5L70.4 129.7M72.1 129.5L74.0 130.5M125.0 138.4L127.4 138.1M125.0 138.4L125.2 135.6M59.7 161.2L58.1 161.4M59.7 161.2L61.2 159.7M102.2 146.3L98.8 146.1M61.6 173.3L63.1 173.6M63.1 173.6L64.6 174.0M61.6 173.3L61.3 175.1M77.2 188.0L77.9 190.1M114.8 165.3L113.2 166.4M113.2 166.4L111.6 167.5M114.8 165.3L116.6 163.4M116.6 163.4L118.3 161.4M51.1 170.2L53.6 169.9M53.6 169.9L56.1 169.7M111.6 167.5L109.1 168.7M61.3 152.2L63.8 151.2M56.0 151.8L53.3 150.4M85.3 152.3L87.6 151.5M90.4 179.7L91.4 181.9M75.1 122.8L77.8 123.8M116.9 148.4L116.0 149.7M113.1 126.8L113.0 128.9M55.0 162.2L53.6 162.9M86.0 163.6L84.0 162.6M86.0 163.6L83.8 164.6M129.7 139.9L129.7 142.1M116.2 196.5L117.7 195.3M88.2 121.6L85.7 121.7M93.7 197.4L94.0 199.4M63.8 151.2L65.3 152.2M63.8 151.2L63.6 149.3M63.6 149.3L63.4 147.5M64.6 174.0L64.8 175.6M64.6 174.0L62.8 175.4M53.3 150.4L53.1 148.7M53.3 150.4L52.6 152.2M52.6 152.2L52.0 154.0M66.8 141.9L64.9 141.1M66.8 141.9L68.9 144.1M68.9 144.1L70.9 146.3M82.4 133.9L84.2 133.2M82.4 133.9L82.6 131.0M93.6 173.4L94.8 172.0M91.4 173.1L90.4 171.5M129.7 142.1L130.0 144.6M130.0 144.6L130.3 147.2M54.5 139.1L55.5 140.3M77.9 190.1L76.0 190.1M76.0 190.1L74.2 190.0M51.6 143.8L50.2 140.7M118.6 185.9L119.9 184.0M119.9 184.0L121.1 182.1M80.0 181.0L82.5 180.7M80.0 181.0L80.3 183.5M106.1 123.9L103.6 124.8M53.6 162.9L53.9 160.6M62.4 193.8L64.2 192.8M113.2 151.6L111.4 152.2M77.5 173.4L75.4 172.4M98.8 146.1L99.4 148.3M91.4 181.9L92.9 183.8M92.9 183.8L94.5 185.7M52.0 154.0L53.1 156.2M69.0 151.8L71.3 150.5M87.3 123.2L85.7 121.7M50.2 140.7L52.9 140.5M52.9 140.5L55.5 140.3M87.6 151.5L88.9 150.7M88.9 150.7L90.3 150.0M70.3 152.7L71.3 150.5M90.4 171.5L92.6 171.7M92.6 171.7L94.8 172.0M74.2 190.0L74.4 191.6M71.3 150.5L72.6 149.7M71.3 150.5L71.1 148.4M71.1 148.4L70.9 146.3M72.5 147.6L70.9 146.3M75.5 155.2L77.5 153.7M65.4 122.3L63.7 123.0M88.0 129.2L87.0 130.9M74.0 171.3L75.4 172.4M77.5 153.7L79.2 151.9M120.2 180.8L121.1 182.1M77.3 161.0L79.6 161.3M63.7 125.4L63.7 123.0" stroke="#e07a7a" stroke-width="0.9" fill="none"/><path d="M71.9 199.4L73.6 200.5M66.6 134.5L67.9 133.3M102.4 131.3L100.6 132.2M50.1 165.2L51.9 164.1M50.1 165.2L50.6 167.7M87.8 196.8L86.3 197.3M87.8 196.8L88.9 198.3M87.8 196.8L87.9 199.6M69.4 134.8L67.9 133.3M116.3 174.3L118.4 173.5M113.0 137.4L112.0 138.7M113.0 137.4L110.9 137.4M113.0 137.4L114.4 135.4M114.4 135.4L115.8 133.4M60.3 185.1L59.8 186.9M58.3 184.5L55.9 185.5M82.3 148.8L80.8 150.1M65.5 184.9L67.2 185.0M61.7 185.8L59.8 186.9M101.5 180.0L104.5 180.8M91.4 167.3L89.5 168.1M123.3 144.1L123.2 145.8M123.3 144.1L121.7 142.9M123.3 144.1L124.2 141.3M125.8 161.7L125.4 163.5M117.0 180.6L119.3 179.5M124.0 162.7L125.4 163.5M87.9 177.3L89.5 177.6M89.3 175.9L92.4 174.7M97.8 155.7L95.8 154.8M73.6 198.3L73.6 200.5M116.2 129.4L114.6 130.2M114.6 130.2L112.9 131.0M116.2 129.4L116.0 131.4M116.0 131.4L115.8 133.4M116.2 129.4L114.7 128.1M120.7 201.1L120.3 202.6M69.4 193.9L67.7 192.9M67.7 192.9L66.0 191.9M54.6 175.8L53.0 174.4M72.8 177.6L70.5 177.7M56.5 192.2L54.0 192.5M56.5 192.2L58.2 194.2M105.3 186.6L104.3 188.3M105.4 182.9L104.5 180.8M61.7 128.9L63.6 127.9M58.9 127.6L58.2 125.4M88.2 188.3L89.2 190.8M114.7 144.6L116.7 144.3M50.3 129.7L50.0 132.6M53.8 177.1L53.0 174.4M104.4 142.0L102.7 143.0M56.7 135.6L56.1 134.1M55.4 137.5L53.5 137.9M56.3 123.6L58.2 125.4M53.2 187.1L55.9 185.5M89.2 190.8L91.3 191.2M89.8 126.0L88.9 124.6M55.9 185.5L54.2 185.9M55.9 185.5L57.8 186.2M57.8 186.2L59.8 186.9M67.9 133.3L68.3 131.6M74.4 185.9L76.5 186.0M85.4 201.6L82.9 200.9M55.4 146.0L53.0 146.9M74.0 168.0L72.6 170.3M78.5 165.6L81.6 165.6M51.5 175.6L53.0 174.4M98.4 149.8L99.9 150.6M96.3 151.9L95.8 154.8M53.0 174.4L52.0 172.3M74.9 133.6L76.0 131.6M71.7 201.0L73.6 200.5M101.2 161.9L103.0 163.7M89.5 168.1L90.0 169.8M89.5 168.1L87.2 168.4M87.2 168.4L84.9 168.7M52.0 137.7L53.5 137.9M50.3 135.1L50.0 132.6M98.7 142.0L100.7 142.5M100.7 142.5L102.7 143.0M98.7 142.0L98.8 144.1M98.7 142.0L96.4 142.7M105.9 201.7L108.3 201.3M130.5 177.1L128.4 176.4M130.5 177.1L129.4 179.7M102.3 182.4L104.5 180.8M59.4 151.3L58.8 153.2M109.3 125.1L108.7 123.0M58.2 125.4L55.8 125.3M129.0 134.9L129.8 137.7M93.8 175.7L92.4 174.7M116.7 144.3L116.8 146.4M116.7 144.3L118.4 143.1M118.4 178.2L119.3 179.5M118.0 175.1L118.4 173.5M106.4 179.9L104.5 180.8M95.5 132.9L97.5 131.5M95.7 135.4L97.8 136.6M83.3 170.3L84.9 168.7M81.7 168.8L81.6 165.6M107.3 167.6L106.7 169.9M124.5 166.4L125.4 163.5M121.0 171.5L118.4 173.5M50.0 132.6L53.1 133.4M53.1 133.4L56.1 134.1M84.9 168.7L83.3 167.2M83.3 167.2L81.6 165.6M82.9 200.9L83.9 199.4M82.9 200.9L81.0 201.3M74.5 152.9L76.0 153.3M74.5 152.9L74.0 154.8M74.5 152.9L72.9 151.7M107.7 171.9L106.7 169.9M100.6 132.2L99.0 131.9M99.0 131.9L97.5 131.5M100.6 132.2L101.6 134.4M74.0 130.5L76.0 131.6M127.4 138.1L129.8 137.7M97.8 136.6L100.2 136.5M97.8 136.6L97.6 134.1M97.6 134.1L97.5 131.5M105.5 146.5L104.1 144.8M104.1 144.8L102.7 143.0M105.5 146.5L102.2 146.3M76.5 186.0L78.5 186.0M76.5 186.0L77.2 188.0M103.0 163.7L103.5 166.2M128.8 201.8L126.5 202.0M70.5 177.7L67.8 177.5M70.5 177.7L72.4 179.8M109.1 168.7L106.7 169.9M58.8 153.2L61.3 152.2M58.8 153.2L56.0 151.8M81.9 151.6L80.8 150.1M89.5 177.6L91.0 176.2M91.0 176.2L92.4 174.7M89.5 177.6L90.4 179.7M76.0 131.6L77.2 129.9M113.0 128.9L112.9 131.0M79.7 148.7L80.8 150.1M83.8 164.6L81.6 165.6M106.7 169.9L105.3 169.3M106.7 169.9L105.7 171.5M129.8 137.7L129.7 139.9M89.8 123.1L88.9 124.6M118.4 173.5L118.9 176.5M118.9 176.5L119.3 179.5M63.6 129.7L63.6 127.9M53.1 148.7L53.0 146.9M92.4 174.7L93.6 173.4M92.4 174.7L91.4 173.1M115.8 133.4L114.3 132.2M114.3 132.2L112.9 131.0M53.5 137.9L54.5 139.1M53.0 146.9L51.6 143.8M108.3 201.3L108.3 199.1M108.7 123.0L106.1 123.9M122.3 202.4L120.3 202.6M64.2 192.8L66.0 191.9M102.7 173.1L100.8 173.1M99.4 148.3L99.9 150.6M88.9 124.6L87.3 123.2M69.7 169.0L72.6 170.3M102.5 188.1L104.3 188.3M99.9 150.6L97.9 152.7M97.9 152.7L95.8 154.8M72.6 170.3L74.0 171.3M79.2 151.9L80.8 150.1M119.3 179.5L120.2 180.8M81.6 165.6L81.8 163.6M63.6 127.9L63.7 125.4" stroke="#8ca4d0" stroke-width="0.9" fill="none"/><circle cx="112.9" cy="131.0" r="1.85" fill="url(#gte)"/><circle cx="117.5" cy="176.8" r="1.6" fill="url(#gge)"/><circle cx="73.5" cy="196.1" r="1.6" fill="url(#gge)"/><circle cx="51.4" cy="192.9" r="1.75" fill="url(#gsb)"/><circle cx="73.6" cy="200.5" r="1.85" fill="url(#gte)"/><circle cx="80.6" cy="186.1" r="1.75" fill="url(#gsb)"/><circle cx="98.5" cy="179.1" r="1.6" fill="url(#gse)"/><circle cx="66.8" cy="141.9" r="1.6" fill="url(#gse)"/><circle cx="61.0" cy="176.9" r="1.6" fill="url(#gge)"/><circle cx="92.4" cy="174.7" r="1.85" fill="url(#gte)"/><circle cx="59.9" cy="196.3" r="1.6" fill="url(#gge)"/><circle cx="103.6" cy="124.8" r="1.6" fill="url(#gse)"/><circle cx="75.1" cy="122.8" r="1.6" fill="url(#gse)"/><circle cx="106.2" cy="184.9" r="1.6" fill="url(#gse)"/><circle cx="94.1" cy="143.3" r="1.6" fill="url(#gge)"/><circle cx="53.6" cy="162.9" r="1.6" fill="url(#gse)"/><circle cx="104.2" cy="130.4" r="1.6" fill="url(#gse)"/><circle cx="104.3" cy="188.3" r="1.85" fill="url(#gte)"/><circle cx="70.1" cy="124.8" r="1.75" fill="url(#gsb)"/><circle cx="109.9" cy="127.3" r="1.75" fill="url(#gsb)"/><circle cx="99.9" cy="150.6" r="1.85" fill="url(#gte)"/><circle cx="52.0" cy="154.0" r="1.6" fill="url(#gse)"/><circle cx="56.5" cy="192.2" r="1.85" fill="url(#gte)"/><circle cx="104.5" cy="180.8" r="1.85" fill="url(#gte)"/><circle cx="61.7" cy="163.6" r="1.6" fill="url(#gge)"/><circle cx="87.6" cy="151.5" r="1.6" fill="url(#gse)"/><circle cx="114.1" cy="175.1" r="1.6" fill="url(#gse)"/><circle cx="97.8" cy="136.6" r="1.85" fill="url(#gte)"/><circle cx="106.2" cy="126.6" r="1.75" fill="url(#gsb)"/><circle cx="82.0" cy="161.7" r="1.75" fill="url(#gsb)"/><circle cx="74.2" cy="190.0" r="1.6" fill="url(#gse)"/><circle cx="108.8" cy="174.0" r="1.6" fill="url(#gse)"/><circle cx="104.6" cy="173.2" r="1.6" fill="url(#gge)"/><circle cx="84.8" cy="197.8" r="1.6" fill="url(#gse)"/><circle cx="62.4" cy="193.8" r="1.6" fill="url(#gse)"/><circle cx="79.5" cy="174.5" r="1.75" fill="url(#gsb)"/><circle cx="106.2" cy="141.0" r="1.6" fill="url(#gse)"/><circle cx="71.8" cy="122.0" r="1.6" fill="url(#gse)"/><circle cx="130.5" cy="177.1" r="1.85" fill="url(#gte)"/><circle cx="113.9" cy="185.0" r="1.6" fill="url(#gse)"/><circle cx="94.5" cy="185.7" r="1.6" fill="url(#gse)"/><circle cx="100.7" cy="187.9" r="1.6" fill="url(#gge)"/><circle cx="94.0" cy="199.4" r="1.6" fill="url(#gse)"/><circle cx="102.6" cy="195.6" r="1.75" fill="url(#gsb)"/><circle cx="111.6" cy="167.5" r="1.6" fill="url(#gse)"/><circle cx="82.4" cy="189.7" r="1.6" fill="url(#gge)"/><circle cx="119.5" cy="164.7" r="1.6" fill="url(#gse)"/><circle cx="90.3" cy="160.7" r="1.6" fill="url(#gge)"/><circle cx="90.7" cy="127.4" r="1.6" fill="url(#gge)"/><circle cx="67.2" cy="185.0" r="1.85" fill="url(#gte)"/><circle cx="106.2" cy="154.1" r="1.6" fill="url(#gge)"/><circle cx="82.8" cy="193.4" r="1.75" fill="url(#gsb)"/><circle cx="126.2" cy="175.8" r="1.6" fill="url(#gse)"/><circle cx="70.9" cy="146.3" r="1.6" fill="url(#gse)"/><circle cx="125.4" cy="163.5" r="1.85" fill="url(#gte)"/><circle cx="102.5" cy="192.2" r="1.6" fill="url(#gse)"/><circle cx="53.0" cy="174.4" r="1.85" fill="url(#gte)"/><circle cx="85.0" cy="180.4" r="1.6" fill="url(#gge)"/><circle cx="122.5" cy="191.1" r="1.6" fill="url(#gse)"/><circle cx="126.8" cy="127.7" r="1.75" fill="url(#gsb)"/><circle cx="66.0" cy="191.9" r="1.85" fill="url(#gte)"/><circle cx="78.4" cy="128.2" r="1.6" fill="url(#gge)"/><circle cx="79.0" cy="201.6" r="1.6" fill="url(#gge)"/><circle cx="63.6" cy="127.9" r="1.85" fill="url(#gte)"/><circle cx="109.0" cy="160.6" r="1.6" fill="url(#gse)"/><circle cx="112.7" cy="144.9" r="1.75" fill="url(#gsb)"/><circle cx="127.5" cy="188.7" r="1.6" fill="url(#gge)"/><circle cx="80.5" cy="124.8" r="1.75" fill="url(#gsb)"/><circle cx="128.8" cy="201.8" r="1.85" fill="url(#gte)"/><circle cx="89.3" cy="135.7" r="1.75" fill="url(#gsb)"/><circle cx="56.1" cy="169.7" r="1.6" fill="url(#gse)"/><circle cx="98.6" cy="191.2" r="1.75" fill="url(#gsb)"/><circle cx="116.9" cy="148.4" r="1.6" fill="url(#gse)"/><circle cx="58.2" cy="125.4" r="1.85" fill="url(#gte)"/><circle cx="55.1" cy="197.5" r="1.6" fill="url(#gge)"/><circle cx="51.5" cy="198.3" r="1.6" fill="url(#gge)"/><circle cx="112.2" cy="156.4" r="1.75" fill="url(#gsb)"/><circle cx="70.5" cy="177.7" r="1.85" fill="url(#gte)"/><circle cx="94.8" cy="172.0" r="1.6" fill="url(#gse)"/><circle cx="73.4" cy="140.4" r="1.6" fill="url(#gse)"/><circle cx="82.8" cy="128.1" r="1.75" fill="url(#gsb)"/><circle cx="60.1" cy="149.3" r="1.6" fill="url(#gse)"/><circle cx="86.3" cy="177.1" r="1.6" fill="url(#gge)"/><circle cx="110.5" cy="176.6" r="1.6" fill="url(#gse)"/><circle cx="96.9" cy="163.2" r="1.6" fill="url(#gge)"/><circle cx="90.4" cy="171.5" r="1.6" fill="url(#gse)"/><circle cx="74.0" cy="148.9" r="1.6" fill="url(#gge)"/><circle cx="62.9" cy="140.4" r="1.6" fill="url(#gge)"/><circle cx="73.5" cy="156.7" r="1.6" fill="url(#gge)"/><circle cx="53.7" cy="201.9" r="1.6" fill="url(#gge)"/><circle cx="64.6" cy="174.0" r="1.6" fill="url(#gse)"/><circle cx="118.6" cy="185.9" r="1.6" fill="url(#gse)"/><circle cx="75.0" cy="177.5" r="1.75" fill="url(#gsb)"/><circle cx="93.3" cy="166.6" r="1.6" fill="url(#gse)"/><circle cx="122.5" cy="122.8" r="1.6" fill="url(#gse)"/><circle cx="95.1" cy="176.6" r="1.6" fill="url(#gge)"/><circle cx="81.6" cy="165.6" r="1.85" fill="url(#gte)"/><circle cx="82.9" cy="200.9" r="1.85" fill="url(#gte)"/><circle cx="118.4" cy="173.5" r="1.85" fill="url(#gte)"/><circle cx="130.3" cy="147.2" r="1.6" fill="url(#gse)"/><circle cx="113.1" cy="126.8" r="1.6" fill="url(#gse)"/><circle cx="50.4" cy="188.7" r="1.6" fill="url(#gse)"/><circle cx="50.1" cy="176.8" r="1.75" fill="url(#gsb)"/><circle cx="88.0" cy="129.2" r="1.6" fill="url(#gse)"/><circle cx="123.3" cy="144.1" r="1.85" fill="url(#gte)"/><circle cx="62.8" cy="158.2" r="1.75" fill="url(#gsb)"/><circle cx="53.0" cy="146.9" r="1.85" fill="url(#gte)"/><circle cx="128.3" cy="132.0" r="1.6" fill="url(#gge)"/><circle cx="83.8" cy="124.3" r="1.6" fill="url(#gse)"/><circle cx="97.5" cy="131.5" r="1.85" fill="url(#gte)"/><circle cx="92.8" cy="139.3" r="1.75" fill="url(#gsb)"/><circle cx="122.7" cy="161.9" r="1.6" fill="url(#gse)"/><circle cx="124.8" cy="156.9" r="1.6" fill="url(#gge)"/><circle cx="75.3" cy="165.6" r="1.6" fill="url(#gse)"/><circle cx="59.7" cy="161.2" r="1.6" fill="url(#gse)"/><circle cx="53.5" cy="125.1" r="1.6" fill="url(#gge)"/><circle cx="76.0" cy="131.6" r="1.85" fill="url(#gte)"/><circle cx="82.7" cy="183.4" r="1.75" fill="url(#gsb)"/><circle cx="66.7" cy="167.8" r="1.75" fill="url(#gsb)"/><circle cx="89.2" cy="190.8" r="1.85" fill="url(#gte)"/><circle cx="99.3" cy="160.1" r="1.6" fill="url(#gge)"/><circle cx="74.5" cy="152.9" r="1.85" fill="url(#gte)"/><circle cx="83.0" cy="153.1" r="1.6" fill="url(#gge)"/><circle cx="65.2" cy="135.6" r="1.6" fill="url(#gse)"/><circle cx="63.6" cy="131.4" r="1.75" fill="url(#gsb)"/><circle cx="83.7" cy="158.1" r="1.6" fill="url(#gse)"/><circle cx="53.3" cy="150.4" r="1.6" fill="url(#gse)"/><circle cx="124.0" cy="180.5" r="1.75" fill="url(#gsb)"/><circle cx="121.1" cy="199.6" r="1.6" fill="url(#gge)"/><circle cx="75.4" cy="172.4" r="1.6" fill="url(#gse)"/><circle cx="100.1" cy="184.1" r="1.6" fill="url(#gse)"/><circle cx="116.7" cy="144.3" r="1.85" fill="url(#gte)"/><circle cx="98.8" cy="146.1" r="1.6" fill="url(#gse)"/><circle cx="114.8" cy="165.3" r="1.6" fill="url(#gse)"/><circle cx="57.9" cy="145.1" r="1.6" fill="url(#gge)"/><circle cx="107.8" cy="165.4" r="1.6" fill="url(#gse)"/><circle cx="63.7" cy="123.0" r="1.6" fill="url(#gse)"/><circle cx="89.5" cy="177.6" r="1.85" fill="url(#gte)"/><circle cx="54.5" cy="179.9" r="1.75" fill="url(#gsb)"/><circle cx="58.6" cy="142.1" r="1.75" fill="url(#gsb)"/><circle cx="118.3" cy="161.4" r="1.6" fill="url(#gse)"/><circle cx="93.4" cy="195.3" r="1.75" fill="url(#gsb)"/><circle cx="120.3" cy="202.6" r="1.85" fill="url(#gte)"/><circle cx="125.3" cy="132.7" r="1.6" fill="url(#gge)"/><circle cx="90.3" cy="145.7" r="1.75" fill="url(#gsb)"/><circle cx="127.8" cy="121.6" r="1.6" fill="url(#gge)"/><circle cx="119.3" cy="179.5" r="1.85" fill="url(#gte)"/><circle cx="78.2" cy="139.8" r="1.75" fill="url(#gsb)"/><circle cx="110.7" cy="194.8" r="1.6" fill="url(#gse)"/><circle cx="74.6" cy="193.2" r="1.75" fill="url(#gsb)"/><circle cx="126.3" cy="159.9" r="1.6" fill="url(#gse)"/><circle cx="117.6" cy="198.7" r="1.6" fill="url(#gge)"/><circle cx="50.5" cy="126.8" r="1.75" fill="url(#gsb)"/><circle cx="104.4" cy="157.6" r="1.6" fill="url(#gse)"/><circle cx="130.5" cy="185.6" r="1.6" fill="url(#gge)"/><circle cx="115.0" cy="151.0" r="1.6" fill="url(#gge)"/><circle cx="100.8" cy="173.1" r="1.85" fill="url(#gte)"/><circle cx="61.6" cy="173.3" r="1.6" fill="url(#gse)"/><circle cx="55.9" cy="185.5" r="1.85" fill="url(#gte)"/><circle cx="69.4" cy="193.9" r="1.85" fill="url(#gte)"/><circle cx="50.5" cy="137.5" r="1.6" fill="url(#gse)"/><circle cx="50.2" cy="140.7" r="1.6" fill="url(#gse)"/><circle cx="89.9" cy="199.8" r="1.6" fill="url(#gse)"/><circle cx="113.0" cy="137.4" r="1.85" fill="url(#gte)"/><circle cx="63.8" cy="151.2" r="1.6" fill="url(#gse)"/><circle cx="100.6" cy="132.2" r="1.85" fill="url(#gte)"/><circle cx="56.2" cy="177.2" r="1.6" fill="url(#gse)"/><circle cx="117.7" cy="195.3" r="1.6" fill="url(#gse)"/><circle cx="91.4" cy="181.9" r="1.6" fill="url(#gse)"/><circle cx="90.6" cy="121.5" r="1.75" fill="url(#gsb)"/><circle cx="80.8" cy="150.1" r="1.85" fill="url(#gte)"/><circle cx="55.5" cy="140.3" r="1.6" fill="url(#gse)"/><circle cx="71.3" cy="150.5" r="1.6" fill="url(#gse)"/><circle cx="88.7" cy="156.5" r="1.6" fill="url(#gse)"/><circle cx="67.9" cy="133.3" r="1.85" fill="url(#gte)"/><circle cx="68.7" cy="129.9" r="1.6" fill="url(#gge)"/><circle cx="77.5" cy="153.7" r="1.6" fill="url(#gse)"/><circle cx="111.0" cy="139.9" r="1.75" fill="url(#gsb)"/><circle cx="68.4" cy="160.3" r="1.75" fill="url(#gsb)"/><circle cx="76.5" cy="186.0" r="1.85" fill="url(#gte)"/><circle cx="59.8" cy="186.9" r="1.85" fill="url(#gte)"/><circle cx="77.3" cy="161.0" r="1.6" fill="url(#gse)"/><circle cx="129.8" cy="137.7" r="1.85" fill="url(#gte)"/><circle cx="114.7" cy="197.6" r="1.75" fill="url(#gsb)"/><circle cx="115.8" cy="133.4" r="1.85" fill="url(#gte)"/><circle cx="126.2" cy="152.1" r="1.75" fill="url(#gsb)"/><circle cx="74.4" cy="181.9" r="1.75" fill="url(#gsb)"/><circle cx="56.5" cy="161.5" r="1.6" fill="url(#gge)"/><circle cx="99.8" cy="156.7" r="1.6" fill="url(#gse)"/><circle cx="111.4" cy="152.2" r="1.6" fill="url(#gse)"/><circle cx="72.6" cy="170.3" r="1.85" fill="url(#gte)"/><circle cx="80.0" cy="181.0" r="1.6" fill="url(#gse)"/><circle cx="56.1" cy="134.1" r="1.85" fill="url(#gte)"/><circle cx="104.2" cy="198.3" r="1.6" fill="url(#gse)"/><circle cx="66.8" cy="153.1" r="1.6" fill="url(#gge)"/><circle cx="82.4" cy="133.9" r="1.6" fill="url(#gse)"/><circle cx="106.3" cy="193.6" r="1.6" fill="url(#gse)"/><circle cx="108.9" cy="137.3" r="1.75" fill="url(#gsb)"/><circle cx="98.7" cy="142.0" r="1.85" fill="url(#gte)"/><circle cx="103.9" cy="168.7" r="1.75" fill="url(#gsb)"/><circle cx="123.6" cy="169.4" r="1.75" fill="url(#gsb)"/><circle cx="65.5" cy="198.0" r="1.6" fill="url(#gge)"/><circle cx="50.1" cy="165.2" r="1.85" fill="url(#gte)"/><circle cx="69.4" cy="154.8" r="1.75" fill="url(#gsb)"/><circle cx="59.7" cy="129.9" r="1.6" fill="url(#gse)"/><circle cx="127.8" cy="193.5" r="1.75" fill="url(#gsb)"/><circle cx="96.8" cy="148.9" r="1.6" fill="url(#gse)"/><circle cx="87.3" cy="185.9" r="1.6" fill="url(#gse)"/><circle cx="63.7" cy="184.8" r="1.6" fill="url(#gge)"/><circle cx="78.3" cy="144.1" r="1.75" fill="url(#gsb)"/><circle cx="70.9" cy="136.4" r="1.6" fill="url(#gge)"/><circle cx="105.5" cy="146.5" r="1.85" fill="url(#gte)"/><circle cx="93.6" cy="134.3" r="1.6" fill="url(#gse)"/><circle cx="119.6" cy="124.5" r="1.6" fill="url(#gse)"/><circle cx="77.8" cy="193.4" r="1.6" fill="url(#gge)"/><circle cx="72.1" cy="129.5" r="1.6" fill="url(#gse)"/><circle cx="62.1" cy="136.4" r="1.6" fill="url(#gse)"/><circle cx="121.4" cy="194.6" r="1.6" fill="url(#gge)"/><circle cx="50.0" cy="132.6" r="1.85" fill="url(#gte)"/><circle cx="87.8" cy="196.8" r="1.85" fill="url(#gte)"/><circle cx="83.0" cy="142.4" r="1.75" fill="url(#gsb)"/><circle cx="121.3" cy="156.6" r="1.75" fill="url(#gsb)"/><circle cx="59.8" cy="200.0" r="1.6" fill="url(#gge)"/><circle cx="102.6" cy="136.5" r="1.75" fill="url(#gsb)"/><circle cx="123.2" cy="147.5" r="1.75" fill="url(#gsb)"/><circle cx="69.7" cy="201.6" r="1.6" fill="url(#gge)"/><circle cx="110.4" cy="186.7" r="1.6" fill="url(#gse)"/><circle cx="125.7" cy="184.3" r="1.75" fill="url(#gsb)"/><circle cx="106.7" cy="169.9" r="1.85" fill="url(#gte)"/><circle cx="57.2" cy="137.1" r="1.6" fill="url(#gse)"/><circle cx="70.2" cy="198.3" r="1.75" fill="url(#gsb)"/><circle cx="83.0" cy="138.9" r="1.6" fill="url(#gge)"/><circle cx="60.8" cy="183.4" r="1.6" fill="url(#gge)"/><circle cx="58.8" cy="153.2" r="1.85" fill="url(#gte)"/><circle cx="130.9" cy="167.8" r="1.6" fill="url(#gge)"/><circle cx="125.0" cy="138.4" r="1.6" fill="url(#gse)"/><circle cx="121.1" cy="182.1" r="1.6" fill="url(#gse)"/><circle cx="84.9" cy="168.7" r="1.85" fill="url(#gte)"/><circle cx="65.0" cy="177.2" r="1.6" fill="url(#gge)"/><circle cx="123.0" cy="186.6" r="1.75" fill="url(#gsb)"/><circle cx="114.8" cy="181.7" r="1.6" fill="url(#gse)"/><circle cx="81.8" cy="171.9" r="1.6" fill="url(#gse)"/><circle cx="108.3" cy="196.8" r="1.75" fill="url(#gsb)"/><circle cx="119.8" cy="150.0" r="1.6" fill="url(#gge)"/><circle cx="108.3" cy="201.3" r="1.85" fill="url(#gte)"/><circle cx="52.5" cy="186.2" r="1.6" fill="url(#gge)"/><circle cx="72.3" cy="185.8" r="1.6" fill="url(#gse)"/><circle cx="95.8" cy="154.8" r="1.85" fill="url(#gte)"/><circle cx="87.9" cy="202.4" r="1.75" fill="url(#gsb)"/><circle cx="116.9" cy="188.9" r="1.6" fill="url(#gse)"/><circle cx="112.4" cy="190.9" r="1.6" fill="url(#gse)"/><circle cx="129.4" cy="152.4" r="1.6" fill="url(#gse)"/><circle cx="108.3" cy="178.9" r="1.75" fill="url(#gsb)"/><circle cx="124.3" cy="202.3" r="1.75" fill="url(#gsb)"/><circle cx="60.8" cy="170.0" r="1.6" fill="url(#gse)"/><circle cx="129.7" cy="142.1" r="1.6" fill="url(#gse)"/><circle cx="89.0" cy="143.0" r="1.75" fill="url(#gsb)"/><circle cx="103.0" cy="163.7" r="1.85" fill="url(#gte)"/><circle cx="77.9" cy="190.1" r="1.6" fill="url(#gse)"/><circle cx="90.3" cy="150.0" r="1.6" fill="url(#gse)"/><circle cx="86.0" cy="132.6" r="1.6" fill="url(#gge)"/><circle cx="120.1" cy="141.8" r="1.75" fill="url(#gsb)"/><circle cx="102.7" cy="143.0" r="1.85" fill="url(#gte)"/><circle cx="89.5" cy="168.1" r="1.85" fill="url(#gte)"/><circle cx="116.2" cy="129.4" r="1.85" fill="url(#gte)"/><circle cx="83.8" cy="147.5" r="1.75" fill="url(#gsb)"/><circle cx="86.0" cy="163.6" r="1.6" fill="url(#gse)"/><circle cx="63.4" cy="147.5" r="1.6" fill="url(#gse)"/><circle cx="53.5" cy="137.9" r="1.85" fill="url(#gte)"/><circle cx="54.2" cy="158.4" r="1.75" fill="url(#gsb)"/><circle cx="51.1" cy="170.2" r="1.6" fill="url(#gse)"/><circle cx="85.7" cy="121.7" r="1.6" fill="url(#gse)"/><circle cx="73.8" cy="135.7" r="1.6" fill="url(#gse)"/><circle cx="128.3" cy="182.4" r="1.75" fill="url(#gsb)"/><circle cx="108.7" cy="123.0" r="1.85" fill="url(#gte)"/><circle cx="78.9" cy="196.5" r="1.6" fill="url(#gse)"/><circle cx="88.9" cy="124.6" r="1.85" fill="url(#gte)"/><circle cx="95.6" cy="124.5" r="1.6" fill="url(#gse)"/><circle cx="54.4" cy="121.8" r="1.6" fill="url(#gge)"/><circle cx="103.5" cy="202.1" r="1.75" fill="url(#gsb)"/><circle cx="78.6" cy="147.3" r="1.75" fill="url(#gsb)"/><circle cx="93.5" cy="191.6" r="1.6" fill="url(#gge)"/><circle cx="91.7" cy="163.6" r="1.6" fill="url(#gge)"/><circle cx="94.9" cy="121.5" r="1.75" fill="url(#gsb)"/><circle cx="67.0" cy="121.6" r="1.75" fill="url(#gsb)"/><line x1="48.4" y1="126.4" x2="125.6" y2="126.4" stroke="#111" stroke-width="1.05"/><line x1="125.6" y1="126.4" x2="125.6" y2="204.2" stroke="#111" stroke-width="1.05"/><line x1="125.6" y1="204.2" x2="48.4" y2="204.2" stroke="#111" stroke-width="1.05"/><line x1="48.4" y1="204.2" x2="48.4" y2="126.4" stroke="#111" stroke-width="1.05"/><line x1="55.3" y1="119.5" x2="132.4" y2="119.5" stroke="#111" stroke-width="1.05"/><line x1="132.4" y1="119.5" x2="132.4" y2="197" stroke="#111" stroke-width="1.05"/><line x1="132.4" y1="197" x2="55.3" y2="197" stroke="#111" stroke-width="1.05"/><line x1="55.3" y1="197" x2="55.3" y2="119.5" stroke="#111" stroke-width="1.05"/><line x1="48.4" y1="126.4" x2="55.3" y2="119.5" stroke="#111" stroke-width="1.05"/><line x1="125.6" y1="126.4" x2="132.4" y2="119.5" stroke="#111" stroke-width="1.05"/><line x1="125.6" y1="204.2" x2="132.4" y2="197" stroke="#111" stroke-width="1.05"/><line x1="48.4" y1="204.2" x2="55.3" y2="197" stroke="#111" stroke-width="1.05"/><text x="92.20" y="115.30" font-size="9.9" text-anchor="middle" fill="#111" color="#111" >GSS3T2</text><line x1="137.9" y1="123.2" x2="137.9" y2="195.5" stroke="#111" stroke-width="1"/><path d="M135.6,125.2 L137.9,120.2 L140.20000000000002,125.2 Z" fill="#111"/><path d="M135.6,193.5 L137.9,198.5 L140.20000000000002,193.5 Z" fill="#111"/><text x="0" y="0" font-size="11" text-anchor="middle" fill="#111" color="#111" transform="translate(151.20,159.90) rotate(-90)">22.92 Å</text><path d="M206.6 122.3L203.9 124.4M233.6 201.4L235.3 200.5M233.6 201.4L232.1 199.8M232.1 199.8L230.7 198.1M233.6 201.4L231.0 201.8M182.4 187.3L180.9 185.8M182.4 187.3L183.7 189.2M183.7 189.2L185.1 191.0M182.4 187.3L179.8 186.9M179.8 186.9L177.1 186.4M165.7 156.3L167.2 155.5M167.2 155.5L168.7 154.8M165.7 156.3L163.4 155.9M165.7 156.3L168.1 157.4M202.6 127.1L203.9 124.4M224.0 162.5L222.3 163.8M226.4 163.7L227.1 166.3M178.2 185.3L177.1 186.4M239.4 162.5L239.6 160.4M216.2 201.6L213.1 201.1M161.5 169.6L162.1 171.3M161.5 169.6L161.2 166.9M161.5 169.6L163.2 167.2M163.2 167.2L165.0 164.9M179.8 163.3L182.3 161.1M203.9 124.4L202.4 125.2M203.9 124.4L203.0 122.4M219.7 144.4L219.8 142.1M222.1 147.0L224.7 147.4M220.6 161.7L222.3 163.8M167.1 167.5L165.0 164.9M222.6 181.7L225.0 181.9M205.3 195.4L206.4 194.0M202.4 198.3L200.7 199.9M189.4 142.2L190.8 141.3M189.4 142.2L187.3 142.4M189.4 142.2L189.3 144.7M189.3 144.7L189.1 147.2M193.3 153.1L192.1 155.1M193.3 153.1L193.6 155.7M193.3 153.1L196.1 153.6M222.2 132.7L220.5 132.0M185.1 173.6L185.0 172.1M183.8 176.9L182.2 178.7M183.8 123.2L182.7 122.0M183.8 123.2L185.5 123.7M183.8 123.2L182.2 124.2M186.8 189.7L185.1 191.0M227.5 125.0L228.0 123.2M205.4 148.2L206.6 147.2M203.1 147.8L201.8 146.2M193.2 199.9L194.8 198.1M199.4 194.9L198.2 193.9M200.6 197.9L200.7 199.9M191.5 183.1L193.2 181.6M226.2 146.0L224.7 147.4M202.8 158.5L201.3 159.0M201.3 159.0L199.8 159.4M202.8 158.5L202.6 156.2M202.8 158.5L204.2 160.8M203.6 200.6L200.7 199.9M182.2 178.7L183.6 180.1M182.2 178.7L181.1 176.9M182.2 178.7L180.2 179.6M239.0 177.0L240.3 175.5M184.7 149.6L185.1 151.2M185.1 151.2L185.5 152.8M184.7 149.6L186.9 148.4M186.9 148.4L189.1 147.2M184.7 149.6L183.0 147.5M198.2 193.9L195.8 194.5M198.2 193.9L196.5 196.0M196.5 196.0L194.8 198.1M202.7 141.5L204.0 142.7M202.7 141.5L204.2 140.5M202.7 141.5L202.2 143.9M202.2 143.9L201.8 146.2M208.8 147.6L206.6 147.2M238.3 158.3L239.6 160.4M204.9 167.4L203.1 166.3M162.5 181.5L161.1 182.5M162.5 181.5L164.0 180.3M162.5 181.5L161.7 179.6M161.7 179.6L160.8 177.6M179.0 124.9L177.4 124.7M175.0 179.8L176.3 177.5M175.4 184.3L177.1 186.4M182.3 161.1L182.6 159.4M182.3 161.1L180.6 159.8M182.3 161.1L183.9 162.6M168.7 154.8L169.5 156.6M182.8 196.8L181.3 196.4M182.8 196.8L184.9 198.0M182.8 196.8L183.9 193.9M183.9 193.9L185.1 191.0M168.5 191.4L168.7 188.5M164.2 123.2L161.9 123.2M169.1 121.7L171.7 120.2M185.0 172.1L186.8 171.2M186.8 171.2L188.6 170.2M185.0 172.1L187.6 173.2M230.4 154.9L231.4 156.3M230.4 154.9L229.1 153.1M188.6 170.2L188.4 168.4M188.6 170.2L189.4 172.3M229.0 136.2L229.3 137.9M229.0 136.2L230.6 135.5M229.0 136.2L228.5 134.2M199.9 148.0L201.8 146.2M195.5 148.6L193.0 147.4M171.7 120.2L172.9 121.5M171.7 120.2L171.1 122.8M182.8 153.9L185.5 152.8M172.3 148.0L173.9 146.8M173.9 146.8L175.6 145.6M172.3 148.0L174.3 148.9M172.3 148.0L169.3 147.3M169.3 147.3L166.3 146.6M168.7 188.5L166.9 191.1M161.8 175.3L160.8 177.6M199.9 164.7L201.5 165.5M201.5 165.5L203.1 166.3M199.9 164.7L199.0 166.5M199.9 164.7L199.8 162.1M199.8 162.1L199.8 159.4M204.4 164.7L203.1 166.3M173.8 138.3L173.0 139.6M173.8 138.3L175.4 139.1M173.8 138.3L172.6 136.8M180.8 202.7L179.2 201.8M179.2 201.8L177.6 201.0M180.8 202.7L180.2 199.3M200.3 181.5L200.6 184.4M179.5 140.6L182.1 141.2M205.7 192.6L206.4 194.0M160.8 177.6L163.1 178.4M220.6 126.8L219.3 126.0M221.2 129.8L220.5 132.0M199.3 156.7L199.8 159.4M215.8 187.2L214.0 188.2M236.9 137.2L235.9 140.1M167.1 130.8L165.4 132.6M165.8 163.5L165.0 164.9M175.9 147.7L175.6 145.6M205.9 145.5L206.6 147.2M203.5 145.1L201.8 146.2M231.2 171.9L232.6 170.8M231.2 171.9L231.4 174.1M231.2 171.9L228.9 172.7M198.9 184.3L200.6 184.4M195.2 182.9L193.2 181.6M176.3 177.5L177.3 179.1M176.3 177.5L178.2 176.3M216.0 141.1L217.9 141.6M217.9 141.6L219.8 142.1M216.0 141.1L214.3 142.6M216.0 141.1L216.4 138.8M196.8 143.1L194.5 141.7M196.8 143.1L194.9 145.3M194.9 145.3L193.0 147.4M196.8 143.1L199.3 144.7M199.3 144.7L201.8 146.2M227.3 121.8L228.0 123.2M225.0 121.4L223.3 122.2M224.1 180.0L225.0 181.9M162.2 141.9L163.4 142.9M163.4 142.9L164.7 143.9M162.2 141.9L160.9 143.4M162.2 141.9L162.2 139.8M239.6 160.4L237.0 162.6M222.3 163.8L221.7 165.5M162.1 144.4L164.7 143.9M232.4 141.3L231.0 140.4M232.4 141.3L234.1 140.7M234.1 140.7L235.9 140.1M166.7 143.4L164.7 143.9M167.6 144.8L166.3 146.6M240.5 174.0L240.3 175.5M165.4 132.6L163.4 133.0M165.4 132.6L163.8 135.2M221.0 140.1L219.8 142.1M211.4 200.7L213.1 201.1M194.1 196.6L194.8 198.1M228.0 123.2L229.7 121.7M189.1 147.2L191.1 147.3M191.1 147.3L193.0 147.4M175.7 123.7L177.4 124.7M212.2 189.5L214.0 188.2M183.6 141.9L182.1 141.2M240.5 178.0L240.3 175.5M227.1 166.3L229.3 166.2M182.1 141.2L181.7 143.3M163.4 148.1L166.3 146.6M230.7 198.1L229.6 200.1M219.3 126.0L219.6 124.2M219.3 126.0L217.4 126.4M175.4 189.1L176.3 187.8M176.3 187.8L177.1 186.4M166.3 146.6L165.5 145.3M165.5 145.3L164.7 143.9M211.8 187.1L214.0 188.2M224.7 147.4L223.5 149.5M224.7 147.4L226.3 149.4M193.2 181.6L193.0 184.3M200.6 167.3L203.1 166.3M185.5 152.8L184.2 155.2M178.6 198.5L177.6 201.0M163.0 164.6L165.0 164.9M162.3 162.9L165.0 164.9M235.9 140.1L232.7 139.8M226.9 181.9L225.0 181.9M201.4 186.1L200.6 184.4M223.3 122.2L221.6 122.3M177.4 124.7L177.1 126.5M199.4 185.9L200.6 184.4M213.7 199.0L213.1 201.1M192.8 197.4L194.8 198.1M220.5 132.0L219.1 132.2M223.1 183.4L225.0 181.9M177.6 201.0L176.7 198.7M207.8 194.4L206.4 194.0" stroke="#b0d488" stroke-width="0.9" fill="none"/><path d="M229.8 190.7L231.4 191.7M229.8 190.7L227.9 191.2M229.8 190.7L230.1 188.5M230.1 188.5L230.3 186.2M165.3 198.3L163.4 199.5M165.3 198.3L165.2 196.0M165.3 198.3L166.8 196.3M235.3 200.5L236.9 199.6M226.9 152.6L227.8 151.4M224.1 152.7L222.2 151.6M201.6 132.4L201.7 135.1M219.4 202.1L216.2 201.6M178.7 167.2L180.2 168.9M174.7 165.9L172.2 166.3M219.7 166.4L221.2 167.1M216.4 165.4L214.7 165.0M203.0 122.4L202.1 120.4M218.8 148.9L218.1 151.3M170.7 168.2L172.2 166.3M221.7 179.8L223.2 178.1M204.2 196.8L205.3 195.4M204.2 196.8L202.4 196.3M204.2 196.8L202.4 198.3M236.5 192.4L235.8 193.7M236.5 192.4L234.7 192.5M236.5 192.4L236.6 189.9M236.6 189.9L236.7 187.5M172.2 166.3L170.9 164.5M170.9 164.5L169.7 162.7M196.2 121.5L197.4 122.9M192.1 155.1L191.0 157.1M196.1 153.6L198.8 154.1M236.0 197.4L236.9 199.6M206.9 137.6L205.7 139.5M186.6 176.6L187.9 178.0M192.4 157.6L191.0 157.1M192.3 159.5L190.7 160.8M227.0 126.8L227.5 125.0M227.0 126.8L224.4 127.2M227.0 126.8L227.5 129.5M203.4 151.6L202.5 153.8M191.7 201.7L193.2 199.9M191.7 201.7L191.2 199.2M191.2 199.2L190.7 196.7M191.7 201.7L189.3 200.4M196.3 176.7L194.9 175.8M196.3 176.7L198.2 177.6M196.3 176.7L196.9 174.5M202.6 156.2L202.5 153.8M191.0 132.9L191.0 130.8M213.4 164.2L214.7 165.0M212.3 165.6L212.6 167.7M239.2 179.6L240.7 180.6M199.5 134.9L201.7 135.1M204.2 140.5L205.7 139.5M234.7 156.9L232.5 157.7M209.6 168.1L212.6 167.7M164.0 180.3L165.4 179.1M231.9 185.2L230.3 186.2M235.0 185.8L236.7 187.5M168.2 182.3L166.8 180.7M166.8 180.7L165.4 179.1M168.2 182.3L168.1 179.9M202.1 120.4L199.8 121.6M199.8 121.6L197.4 122.9M202.1 120.4L201.5 123.2M216.9 153.4L218.1 151.3M211.1 129.7L210.4 131.2M211.1 129.7L213.3 128.3M187.6 173.2L190.2 174.4M231.4 156.3L232.5 157.7M229.1 153.1L227.8 151.4M189.4 172.3L190.2 174.4M230.6 135.5L232.2 134.8M198.4 151.9L198.8 154.1M236.7 187.5L238.4 187.2M174.3 148.9L176.3 149.8M213.2 181.9L211.6 182.6M226.0 187.4L226.0 189.5M226.0 187.4L228.2 186.8M228.2 186.8L230.3 186.2M226.0 187.4L224.5 189.0M220.9 171.1L222.4 171.5M220.3 168.9L221.2 167.1M208.1 186.5L209.7 185.9M181.1 130.0L179.0 129.1M181.1 130.0L178.9 131.9M186.4 179.7L187.9 178.0M164.1 176.0L165.4 179.1M195.1 127.4L193.1 126.1M195.1 127.4L196.2 125.1M196.2 125.1L197.4 122.9M195.1 127.4L193.0 129.1M193.0 129.1L191.0 130.8M190.7 160.8L190.9 159.0M190.9 159.0L191.0 157.1M190.7 160.8L189.1 159.7M175.4 139.1L177.0 140.0M172.6 136.8L171.4 135.3M177.0 140.0L174.6 140.5M177.0 140.0L179.5 140.6M228.9 149.6L227.8 151.4M163.1 178.4L165.4 179.1M169.7 162.7L168.1 162.5M169.7 162.7L170.1 160.6M198.8 154.1L200.7 153.9M200.7 153.9L202.5 153.8M198.8 154.1L199.3 156.7M213.6 194.0L214.0 195.5M213.6 194.0L211.4 194.4M213.6 194.0L211.9 192.4M191.0 130.8L189.0 129.6M189.0 129.6L187.0 128.4M217.5 186.3L219.4 185.6M217.5 186.3L215.8 187.2M235.1 134.5L232.2 134.8M170.8 129.0L172.9 129.0M176.3 149.8L175.9 147.7M232.6 170.8L233.9 169.7M228.9 172.7L226.6 173.6M180.2 168.9L180.1 172.0M197.1 184.1L197.7 185.8M197.1 184.1L198.9 184.3M197.1 184.1L195.2 182.9M191.9 174.6L190.2 174.4M229.0 120.3L231.3 120.2M236.9 199.6L238.5 199.1M238.5 199.1L240.0 198.5M188.9 197.9L190.7 196.7M223.2 178.1L224.1 180.0M223.2 178.1L224.9 175.8M224.9 175.8L226.6 173.6M162.2 139.8L162.3 137.8M197.4 122.9L199.2 124.4M221.7 165.5L221.2 167.1M160.3 158.3L159.6 161.0M168.8 142.9L170.5 142.0M168.8 142.9L166.7 143.4M168.8 142.9L167.6 144.8M240.7 172.5L240.5 174.0M163.8 135.2L162.3 137.8M211.6 182.6L211.9 181.0M211.6 182.6L210.6 184.3M210.6 184.3L209.7 185.9M220.6 173.1L222.4 171.5M192.0 195.9L190.7 196.7M229.7 121.7L231.3 120.2M229.1 174.9L226.6 173.6M230.3 186.2L229.6 184.0M201.7 135.1L203.7 137.3M203.7 137.3L205.7 139.5M187.0 128.4L187.1 126.3M187.0 128.4L186.5 130.9M240.7 180.6L240.5 178.0M240.7 180.6L240.5 183.8M171.4 135.3L174.1 134.6M171.4 135.3L171.8 138.2M222.4 171.5L221.8 169.3M221.8 169.3L221.2 167.1M222.4 171.5L224.5 172.5M224.5 172.5L226.6 173.6M219.6 124.2L219.9 122.3M171.7 127.2L172.9 129.0M208.1 138.9L205.7 139.5M209.7 185.9L211.8 187.1M223.5 149.5L222.2 151.6M226.3 149.4L227.8 151.4M187.9 178.0L189.1 176.2M189.1 176.2L190.2 174.4M191.4 194.5L190.7 196.7M186.9 120.5L187.1 122.3M186.9 120.5L184.3 120.7M214.7 165.0L215.9 163.8M214.7 165.0L213.6 166.4M213.6 166.4L212.6 167.7M217.8 121.5L219.9 122.3M233.0 163.6L231.7 162.5M216.2 151.3L218.1 151.3M177.7 196.2L175.8 196.4M232.2 134.8L231.8 132.6M160.3 162.6L159.6 161.0M159.6 161.0L162.3 162.9M191.0 157.1L189.3 157.8M172.9 129.0L174.9 128.6M205.9 179.6L205.6 181.6M233.9 169.7L232.7 167.9M166.7 178.3L165.4 179.1M221.6 122.3L219.9 122.3M222.2 151.6L220.2 151.4M220.2 151.4L218.1 151.3M222.2 151.6L223.0 153.9M162.3 137.8L161.8 135.6M231.6 164.4L231.7 162.5M190.7 196.7L192.8 197.4M176.7 198.7L175.8 196.4M232.5 157.7L232.1 160.1M232.1 160.1L231.7 162.5" stroke="#dcae68" stroke-width="0.9" fill="none"/><path d="M231.4 191.7L233.0 192.6M227.9 191.2L226.0 191.6M226.5 143.1L227.6 144.5M227.5 140.6L229.6 139.5M163.4 199.5L161.6 200.6M165.2 196.0L165.1 193.7M166.8 196.3L168.3 194.3M209.3 120.3L211.7 121.9M211.7 121.9L214.1 123.4M209.3 120.3L212.5 120.5M212.5 120.5L215.8 120.7M209.3 120.3L206.6 122.3M231.0 201.8L228.4 202.1M180.9 185.8L179.3 184.3M163.4 155.9L161.1 155.6M201.4 129.8L201.2 127.9M201.2 127.9L201.0 126.0M201.4 129.8L201.6 132.4M201.4 129.8L202.6 127.1M225.7 161.2L224.0 162.5M225.7 161.2L226.4 163.7M225.7 161.2L224.7 158.7M179.3 184.3L178.2 185.3M179.3 184.3L178.8 182.4M178.8 182.4L178.2 180.6M236.7 164.7L234.3 164.7M161.2 166.9L160.9 164.2M238.2 129.8L236.9 128.9M238.2 129.8L238.1 132.0M238.2 129.8L238.1 127.2M238.1 127.2L237.9 124.6M177.3 165.5L178.7 167.2M177.3 165.5L174.7 165.9M177.3 165.5L179.8 163.3M218.2 165.8L219.7 166.4M218.2 165.8L217.7 164.2M218.2 165.8L216.4 165.4M202.4 125.2L201.0 126.0M219.5 146.6L219.7 144.4M219.5 146.6L218.8 148.9M219.5 146.6L222.1 147.0M213.0 157.7L214.4 156.7M214.4 156.7L215.7 155.6M213.0 157.7L212.5 160.6M212.5 160.6L212.0 163.4M213.0 157.7L210.8 155.8M210.8 155.8L208.5 153.9M219.0 159.6L218.1 161.1M219.0 159.6L217.4 157.6M217.4 157.6L215.7 155.6M219.0 159.6L220.6 161.7M169.2 170.0L170.7 168.2M169.2 170.0L167.1 167.5M220.7 183.2L221.2 184.9M235.8 193.7L235.0 195.1M234.7 192.5L233.0 192.6M190.8 141.3L192.2 140.4M187.3 142.4L185.2 142.5M202.4 174.1L201.2 176.3M201.2 176.3L200.1 178.5M202.4 174.1L200.0 173.2M200.0 173.2L197.6 172.3M202.4 174.1L204.4 175.8M194.9 120.2L196.2 121.5M194.9 120.2L193.1 122.5M193.1 122.5L191.2 124.8M193.6 155.7L193.8 158.2M237.9 124.6L236.7 126.3M235.0 195.1L234.0 193.9M234.0 193.9L233.0 192.6M235.0 195.1L236.0 197.4M208.1 135.6L208.9 134.1M208.9 134.1L209.8 132.7M208.1 135.6L209.3 136.9M209.3 136.9L210.5 138.2M208.1 135.6L206.9 137.6M223.8 133.4L222.2 132.7M223.8 133.4L225.9 132.8M225.9 132.8L228.0 132.2M223.8 133.4L223.0 135.7M193.8 158.2L192.4 157.6M193.8 158.2L192.3 159.5M182.7 122.0L181.7 120.8M185.5 123.7L187.2 124.2M188.5 188.4L189.1 186.5M189.1 186.5L189.7 184.7M188.5 188.4L186.8 189.7M188.5 188.4L190.7 187.7M190.7 187.7L192.8 186.9M224.4 127.2L221.9 127.6M227.5 129.5L228.0 132.2M204.3 149.3L205.4 148.2M204.3 149.3L203.1 147.8M204.3 149.3L203.4 151.6M189.3 200.4L187.0 199.1M189.7 184.7L191.2 185.8M191.2 185.8L192.8 186.9M189.7 184.7L191.5 183.1M194.9 175.8L193.5 174.9M198.2 177.6L200.1 178.5M196.9 174.5L197.6 172.3M227.6 144.5L226.2 146.0M227.6 144.5L228.8 146.2M228.8 146.2L230.0 147.9M204.2 160.8L205.6 163.2M191.1 135.1L193.0 135.9M193.0 135.9L194.8 136.8M191.1 135.1L191.0 132.9M191.1 135.1L188.6 134.3M188.6 134.3L186.0 133.5M206.4 201.2L208.1 200.8M208.1 200.8L209.7 200.4M206.4 201.2L203.6 200.6M212.0 163.4L213.4 164.2M212.0 163.4L212.3 165.6M212.0 163.4L214.6 163.0M183.6 180.1L184.9 181.5M181.1 176.9L180.0 175.1M180.2 179.6L178.2 180.6M237.7 178.6L239.2 179.6M237.7 178.6L239.0 177.0M237.7 178.6L234.7 177.5M234.7 177.5L231.7 176.3M183.0 147.5L181.3 145.3M195.8 194.5L193.4 195.0M197.2 134.7L196.0 135.7M196.0 135.7L194.8 136.8M197.2 134.7L199.5 134.9M204.0 142.7L205.2 143.9M211.1 148.1L211.8 146.1M211.1 148.1L212.7 149.7M212.7 149.7L214.3 151.3M211.1 148.1L208.8 147.6M236.9 156.2L236.7 154.2M236.7 154.2L236.4 152.1M236.9 156.2L234.7 156.9M236.9 156.2L238.3 158.3M206.7 168.4L204.9 167.4M206.7 168.4L206.2 165.8M206.2 165.8L205.6 163.2M206.7 168.4L209.6 168.1M161.1 182.5L159.7 183.6M181.2 123.0L181.7 120.8M173.7 182.1L176.0 181.4M176.0 181.4L178.2 180.6M173.7 182.1L175.0 179.8M173.7 182.1L175.4 184.3M231.1 183.0L228.8 181.9M182.6 159.4L183.0 157.6M180.6 159.8L178.9 158.5M183.9 162.6L185.4 164.1M181.3 196.4L179.7 196.0M184.9 198.0L187.0 199.1M168.3 194.3L166.7 194.0M166.7 194.0L165.1 193.7M168.3 194.3L168.5 191.4M166.5 123.3L168.5 124.4M168.5 124.4L170.5 125.5M166.5 123.3L164.2 123.2M166.5 123.3L169.1 121.7M168.1 179.9L168.1 177.6M233.4 129.3L231.3 130.5M211.2 174.0L210.4 175.6M210.4 175.6L209.6 177.2M211.2 174.0L211.7 176.7M211.7 176.7L212.2 179.4M211.2 174.0L213.5 175.9M213.5 175.9L215.7 177.9M201.5 123.2L201.0 126.0M215.7 155.6L215.0 153.5M215.0 153.5L214.3 151.3M215.7 155.6L216.9 153.4M210.4 131.2L209.8 132.7M188.4 168.4L188.3 166.5M229.3 137.9L229.6 139.5M228.5 134.2L228.0 132.2M197.9 149.8L198.4 151.9M197.9 149.8L199.9 148.0M197.9 149.8L195.5 148.6M238.4 187.2L240.2 187.0M172.9 121.5L174.1 122.8M171.1 122.8L170.5 125.5M180.1 155.0L179.5 156.8M179.5 156.8L178.9 158.5M180.1 155.0L181.5 156.3M181.5 156.3L183.0 157.6M180.1 155.0L182.8 153.9M214.7 181.2L213.5 180.3M213.5 180.3L212.2 179.4M214.7 181.2L215.2 179.5M215.2 179.5L215.7 177.9M214.7 181.2L213.2 181.9M226.0 189.5L226.0 191.6M185.4 164.1L186.9 165.3M186.9 165.3L188.3 166.5M185.4 164.1L186.5 161.3M186.5 161.3L187.5 158.6M219.4 170.7L220.9 171.1M219.4 170.7L220.3 168.9M219.4 170.7L219.1 172.7M206.5 187.2L208.1 186.5M206.5 187.2L205.7 189.2M205.7 189.2L204.9 191.2M206.5 187.2L204.4 187.5M204.4 187.5L202.2 187.8M179.0 129.1L176.9 128.3M178.9 131.9L176.7 133.9M184.9 181.5L186.4 179.7M166.9 191.1L165.1 193.7M193.1 126.1L191.2 124.8M189.1 159.7L187.5 158.6M205.6 163.2L204.4 164.7M173.0 139.6L172.2 141.0M180.2 199.3L179.7 196.0M200.1 178.5L200.3 181.5M194.8 136.8L193.5 138.6M193.5 138.6L192.2 140.4M174.6 140.5L172.2 141.0M230.0 147.9L231.7 148.7M231.7 148.7L233.4 149.4M230.0 147.9L228.9 149.6M204.9 191.2L205.7 192.6M204.9 191.2L203.6 189.5M203.6 189.5L202.2 187.8M221.9 127.6L220.6 126.8M221.9 127.6L221.2 129.8M214.0 195.5L214.3 197.0M219.4 185.6L221.2 184.9M194.6 189.4L193.7 188.2M193.7 188.2L192.8 186.9M194.6 189.4L193.4 190.8M193.4 190.8L192.2 192.2M194.6 189.4L196.4 188.4M196.4 188.4L198.3 187.4M168.8 129.1L169.6 127.3M169.6 127.3L170.5 125.5M168.8 129.1L170.8 129.0M168.8 129.1L167.1 130.8M226.0 191.6L224.5 191.2M205.2 143.9L205.9 145.5M205.2 143.9L203.5 145.1M231.4 174.1L231.7 176.3M180.1 172.0L180.0 175.1M197.7 185.8L198.3 187.4M177.3 179.1L178.2 180.6M178.2 176.3L180.0 175.1M193.5 174.9L191.9 174.6M193.5 174.9L195.5 173.6M195.5 173.6L197.6 172.3M216.4 138.8L216.8 136.5M194.5 141.7L192.2 140.4M226.6 120.5L227.3 121.8M226.6 120.5L225.0 121.4M226.6 120.5L229.0 120.3M187.0 199.1L188.9 197.9M160.9 143.4L159.6 144.9M199.2 124.4L201.0 126.0M237.0 162.6L234.3 164.7M159.6 144.9L160.0 147.2M160.0 147.2L160.5 149.5M159.6 144.9L162.1 144.4M161.1 155.6L160.3 158.3M161.1 155.6L160.8 152.5M160.8 152.5L160.5 149.5M231.0 140.4L229.6 139.5M170.5 142.0L172.2 141.0M178.9 158.5L180.9 158.1M180.9 158.1L183.0 157.6M163.4 133.0L161.3 133.5M211.9 181.0L212.2 179.4M209.7 200.4L211.4 200.7M209.7 200.4L209.5 197.6M236.4 152.1L234.9 150.8M234.9 150.8L233.4 149.4M236.4 152.1L236.3 149.9M236.3 149.9L236.2 147.7M217.2 176.3L215.7 177.9M193.4 195.0L192.8 193.6M192.8 193.6L192.2 192.2M193.4 195.0L192.0 195.9M193.4 195.0L194.1 196.6M231.7 176.3L229.1 174.9M231.7 176.3L230.3 179.1M230.3 179.1L228.8 181.9M214.1 123.4L214.9 122.1M214.9 122.1L215.8 120.7M214.1 123.4L214.8 125.1M229.6 184.0L228.8 181.9M174.1 122.8L175.7 123.7M174.1 122.8L172.3 124.1M172.3 124.1L170.5 125.5M212.2 179.4L210.9 178.3M210.9 178.3L209.6 177.2M187.1 126.3L187.2 124.2M186.5 130.9L186.0 133.5M185.2 142.5L183.6 141.9M185.2 142.5L183.2 143.9M183.2 143.9L181.3 145.3M240.5 183.8L240.2 187.0M209.6 177.2L208.0 177.4M181.7 143.3L181.3 145.3M174.1 134.6L176.7 133.9M171.8 138.2L172.2 141.0M160.5 149.5L163.4 148.1M233.4 149.4L234.8 148.5M234.8 148.5L236.2 147.7M229.6 200.1L228.4 202.1M186.2 135.7L186.0 133.5M228.0 132.2L229.6 131.3M229.6 131.3L231.3 130.5M223.5 193.1L224.1 195.5M170.5 125.5L171.7 127.2M210.5 138.2L208.1 138.9M210.5 138.2L210.1 135.5M210.1 135.5L209.8 132.7M165.1 193.7L162.9 192.3M162.9 192.3L160.6 191.0M193.0 184.3L192.8 186.9M197.8 170.3L197.6 172.3M192.2 192.2L191.4 194.5M187.1 122.3L187.2 124.2M184.3 120.7L181.7 120.8M215.8 120.7L217.8 121.5M215.8 120.7L215.6 123.8M234.3 164.7L232.9 165.5M234.3 164.7L233.0 163.6M184.2 155.2L183.0 157.6M214.3 151.3L216.2 151.3M179.7 196.0L177.7 196.2M179.7 196.0L178.6 198.5M231.8 132.6L231.3 130.5M160.9 164.2L160.3 162.6M160.9 164.2L163.0 164.6M176.7 133.9L176.8 131.1M176.8 131.1L176.9 128.3M189.3 157.8L187.5 158.6M174.9 128.6L176.9 128.3M232.7 139.8L229.6 139.5M168.1 177.6L166.7 178.3M218.5 193.2L216.4 195.1M216.4 195.1L214.3 197.0M228.8 181.9L226.9 181.9M202.2 187.8L201.4 186.1M202.2 187.8L200.3 187.6M200.3 187.6L198.3 187.4M187.2 124.2L189.2 124.5M189.2 124.5L191.2 124.8M177.1 126.5L176.9 128.3M216.8 136.5L217.2 134.5M217.2 134.5L217.6 132.5M161.8 135.6L161.3 133.5M198.3 187.4L199.4 185.9M214.3 197.0L213.7 199.0M214.3 197.0L211.8 195.9M219.1 132.2L217.6 132.5M221.2 184.9L223.1 183.4" stroke="#e07a7a" stroke-width="0.9" fill="none"/><path d="M225.4 141.7L226.5 143.1M225.4 141.7L227.5 140.6M225.4 141.7L223.8 139.8M223.8 139.8L222.1 138.0M168.1 157.4L170.4 158.4M226.0 153.9L226.9 152.6M226.0 153.9L224.9 155.1M224.9 155.1L223.8 156.2M226.0 153.9L224.1 152.7M224.7 158.7L223.8 156.2M239.2 164.6L239.4 162.5M239.2 164.6L236.7 164.7M162.1 171.3L162.8 172.9M236.9 128.9L235.5 128.0M238.1 132.0L237.9 134.2M217.7 164.2L217.1 162.6M218.1 161.1L217.1 162.6M220.2 181.6L220.7 183.2M220.2 181.6L221.7 179.8M220.2 181.6L222.6 181.7M202.4 196.3L200.6 195.8M204.4 175.8L206.3 177.6M236.7 126.3L235.5 128.0M223.0 135.7L222.1 138.0M185.3 175.1L185.1 173.6M185.3 175.1L186.6 176.6M185.3 175.1L183.8 176.9M182.2 124.2L180.6 125.1M200.6 195.8L199.4 194.9M200.6 195.8L200.6 197.9M214.6 163.0L217.1 162.6M211.8 146.1L212.6 144.1M180.6 125.1L179.0 124.9M180.6 125.1L181.2 123.0M233.4 184.1L231.9 185.2M233.4 184.1L235.0 185.8M233.4 184.1L231.1 183.0M169.5 156.6L170.4 158.4M235.5 128.0L233.4 129.3M213.3 128.3L215.5 126.8M224.5 189.0L223.0 190.7M219.1 172.7L218.7 174.7M162.8 172.9L161.8 175.3M162.8 172.9L164.1 176.0M199.0 166.5L198.0 168.3M168.1 162.5L166.5 162.2M170.1 160.6L170.4 158.4M211.4 194.4L209.3 194.8M211.9 192.4L210.3 190.9M237.9 134.2L235.1 134.5M237.9 134.2L236.9 137.2M166.5 162.2L165.8 163.5M166.5 162.2L168.4 160.3M168.4 160.3L170.4 158.4M224.5 191.2L223.0 190.7M214.3 142.6L212.6 144.1M222.1 138.0L221.0 140.1M209.5 197.6L209.3 194.8M218.7 174.7L217.2 176.3M218.7 174.7L220.6 173.1M214.8 125.1L215.5 126.8M210.3 190.9L209.8 192.8M209.8 192.8L209.3 194.8M210.3 190.9L212.2 189.5M229.3 166.2L231.4 166.2M208.0 177.4L206.3 177.6M186.4 138.0L186.2 135.7M217.4 126.4L215.5 126.8M223.0 190.7L223.5 193.1M198.0 168.3L197.8 170.3M198.0 168.3L200.6 167.3M215.9 163.8L217.1 162.6M215.6 123.8L215.5 126.8M232.9 165.5L231.4 166.2M206.3 177.6L205.9 179.6M232.7 167.9L231.4 166.2M223.0 153.9L223.8 156.2M231.4 166.2L231.6 164.4M211.8 195.9L209.3 194.8M209.3 194.8L207.8 194.4" stroke="#8ca4d0" stroke-width="0.9" fill="none"/><circle cx="225.0" cy="181.9" r="1.6" fill="url(#gge)"/><circle cx="168.8" cy="142.9" r="1.75" fill="url(#gsb)"/><circle cx="205.2" cy="143.9" r="1.6" fill="url(#gse)"/><circle cx="225.7" cy="161.2" r="1.6" fill="url(#gse)"/><circle cx="227.0" cy="126.8" r="1.75" fill="url(#gsb)"/><circle cx="215.5" cy="126.8" r="1.85" fill="url(#gte)"/><circle cx="183.0" cy="157.6" r="1.6" fill="url(#gse)"/><circle cx="187.9" cy="178.0" r="1.75" fill="url(#gsb)"/><circle cx="187.5" cy="158.6" r="1.6" fill="url(#gse)"/><circle cx="199.9" cy="164.7" r="1.6" fill="url(#gge)"/><circle cx="206.5" cy="187.2" r="1.6" fill="url(#gse)"/><circle cx="210.3" cy="190.9" r="1.85" fill="url(#gte)"/><circle cx="184.7" cy="149.6" r="1.6" fill="url(#gge)"/><circle cx="223.8" cy="133.4" r="1.6" fill="url(#gse)"/><circle cx="198.0" cy="168.3" r="1.85" fill="url(#gte)"/><circle cx="161.5" cy="169.6" r="1.6" fill="url(#gge)"/><circle cx="172.3" cy="148.0" r="1.6" fill="url(#gge)"/><circle cx="194.6" cy="189.4" r="1.6" fill="url(#gse)"/><circle cx="222.3" cy="163.8" r="1.6" fill="url(#gge)"/><circle cx="160.6" cy="191.0" r="1.6" fill="url(#gse)"/><circle cx="164.7" cy="143.9" r="1.6" fill="url(#gge)"/><circle cx="220.2" cy="181.6" r="1.85" fill="url(#gte)"/><circle cx="220.5" cy="132.0" r="1.6" fill="url(#gge)"/><circle cx="223.2" cy="178.1" r="1.75" fill="url(#gsb)"/><circle cx="160.9" cy="164.2" r="1.6" fill="url(#gse)"/><circle cx="193.5" cy="174.9" r="1.6" fill="url(#gse)"/><circle cx="201.0" cy="126.0" r="1.6" fill="url(#gse)"/><circle cx="211.2" cy="174.0" r="1.6" fill="url(#gse)"/><circle cx="240.2" cy="187.0" r="1.6" fill="url(#gse)"/><circle cx="165.0" cy="164.9" r="1.6" fill="url(#gge)"/><circle cx="191.1" cy="135.1" r="1.6" fill="url(#gse)"/><circle cx="240.3" cy="175.5" r="1.6" fill="url(#gge)"/><circle cx="189.1" cy="147.2" r="1.6" fill="url(#gge)"/><circle cx="192.2" cy="140.4" r="1.6" fill="url(#gse)"/><circle cx="198.2" cy="193.9" r="1.6" fill="url(#gge)"/><circle cx="214.3" cy="151.3" r="1.6" fill="url(#gse)"/><circle cx="229.6" cy="139.5" r="1.6" fill="url(#gse)"/><circle cx="204.3" cy="149.3" r="1.6" fill="url(#gse)"/><circle cx="209.8" cy="132.7" r="1.6" fill="url(#gse)"/><circle cx="179.3" cy="184.3" r="1.6" fill="url(#gse)"/><circle cx="168.7" cy="188.5" r="1.6" fill="url(#gge)"/><circle cx="191.2" cy="124.8" r="1.6" fill="url(#gse)"/><circle cx="236.7" cy="187.5" r="1.75" fill="url(#gsb)"/><circle cx="211.1" cy="148.1" r="1.6" fill="url(#gse)"/><circle cx="228.8" cy="181.9" r="1.6" fill="url(#gse)"/><circle cx="200.7" cy="199.9" r="1.6" fill="url(#gge)"/><circle cx="185.4" cy="164.1" r="1.6" fill="url(#gse)"/><circle cx="226.0" cy="153.9" r="1.85" fill="url(#gte)"/><circle cx="219.3" cy="126.0" r="1.6" fill="url(#gge)"/><circle cx="212.2" cy="179.4" r="1.6" fill="url(#gse)"/><circle cx="192.8" cy="186.9" r="1.6" fill="url(#gse)"/><circle cx="197.4" cy="122.9" r="1.75" fill="url(#gsb)"/><circle cx="169.2" cy="170.0" r="1.6" fill="url(#gse)"/><circle cx="213.0" cy="157.7" r="1.6" fill="url(#gse)"/><circle cx="205.6" cy="181.6" r="1.75" fill="url(#gsb)"/><circle cx="231.2" cy="171.9" r="1.6" fill="url(#gge)"/><circle cx="202.8" cy="158.5" r="1.6" fill="url(#gge)"/><circle cx="202.2" cy="187.8" r="1.6" fill="url(#gse)"/><circle cx="223.3" cy="122.2" r="1.6" fill="url(#gge)"/><circle cx="193.0" cy="147.4" r="1.6" fill="url(#gge)"/><circle cx="172.2" cy="166.3" r="1.75" fill="url(#gsb)"/><circle cx="169.7" cy="162.7" r="1.75" fill="url(#gsb)"/><circle cx="185.2" cy="142.5" r="1.6" fill="url(#gse)"/><circle cx="230.3" cy="186.2" r="1.75" fill="url(#gsb)"/><circle cx="177.3" cy="165.5" r="1.6" fill="url(#gse)"/><circle cx="226.0" cy="191.6" r="1.6" fill="url(#gse)"/><circle cx="206.3" cy="177.6" r="1.85" fill="url(#gte)"/><circle cx="161.6" cy="200.6" r="1.6" fill="url(#gse)"/><circle cx="215.8" cy="120.7" r="1.6" fill="url(#gse)"/><circle cx="231.3" cy="120.2" r="1.75" fill="url(#gsb)"/><circle cx="168.8" cy="129.1" r="1.6" fill="url(#gse)"/><circle cx="218.2" cy="165.8" r="1.6" fill="url(#gse)"/><circle cx="232.4" cy="141.3" r="1.6" fill="url(#gge)"/><circle cx="168.2" cy="182.3" r="1.75" fill="url(#gsb)"/><circle cx="165.3" cy="198.3" r="1.75" fill="url(#gsb)"/><circle cx="219.8" cy="142.1" r="1.6" fill="url(#gge)"/><circle cx="209.6" cy="177.2" r="1.6" fill="url(#gse)"/><circle cx="181.3" cy="145.3" r="1.6" fill="url(#gse)"/><circle cx="240.7" cy="180.6" r="1.75" fill="url(#gsb)"/><circle cx="211.1" cy="129.7" r="1.75" fill="url(#gsb)"/><circle cx="231.3" cy="130.5" r="1.6" fill="url(#gse)"/><circle cx="182.1" cy="141.2" r="1.6" fill="url(#gge)"/><circle cx="201.8" cy="146.2" r="1.6" fill="url(#gge)"/><circle cx="229.8" cy="190.7" r="1.75" fill="url(#gsb)"/><circle cx="197.2" cy="134.7" r="1.6" fill="url(#gse)"/><circle cx="173.8" cy="138.3" r="1.6" fill="url(#gge)"/><circle cx="235.5" cy="128.0" r="1.85" fill="url(#gte)"/><circle cx="181.1" cy="130.0" r="1.75" fill="url(#gsb)"/><circle cx="226.6" cy="120.5" r="1.6" fill="url(#gse)"/><circle cx="203.9" cy="124.4" r="1.6" fill="url(#gge)"/><circle cx="182.8" cy="196.8" r="1.6" fill="url(#gge)"/><circle cx="236.9" cy="156.2" r="1.6" fill="url(#gse)"/><circle cx="190.7" cy="160.8" r="1.75" fill="url(#gsb)"/><circle cx="216.8" cy="136.5" r="1.6" fill="url(#gse)"/><circle cx="240.0" cy="198.5" r="1.75" fill="url(#gsb)"/><circle cx="231.7" cy="176.3" r="1.6" fill="url(#gse)"/><circle cx="203.1" cy="166.3" r="1.6" fill="url(#gge)"/><circle cx="202.4" cy="174.1" r="1.6" fill="url(#gse)"/><circle cx="180.1" cy="155.0" r="1.6" fill="url(#gse)"/><circle cx="178.2" cy="180.6" r="1.6" fill="url(#gse)"/><circle cx="172.9" cy="129.0" r="1.75" fill="url(#gsb)"/><circle cx="190.2" cy="174.4" r="1.75" fill="url(#gsb)"/><circle cx="161.3" cy="133.5" r="1.6" fill="url(#gse)"/><circle cx="235.0" cy="195.1" r="1.6" fill="url(#gse)"/><circle cx="161.9" cy="123.2" r="1.6" fill="url(#gge)"/><circle cx="177.0" cy="140.0" r="1.75" fill="url(#gsb)"/><circle cx="214.7" cy="165.0" r="1.75" fill="url(#gsb)"/><circle cx="171.4" cy="135.3" r="1.75" fill="url(#gsb)"/><circle cx="208.1" cy="135.6" r="1.6" fill="url(#gse)"/><circle cx="193.3" cy="153.1" r="1.6" fill="url(#gge)"/><circle cx="217.6" cy="132.5" r="1.6" fill="url(#gse)"/><circle cx="219.5" cy="146.6" r="1.6" fill="url(#gse)"/><circle cx="239.2" cy="164.6" r="1.85" fill="url(#gte)"/><circle cx="176.3" cy="177.5" r="1.6" fill="url(#gge)"/><circle cx="200.6" cy="184.4" r="1.6" fill="url(#gge)"/><circle cx="174.1" cy="122.8" r="1.6" fill="url(#gse)"/><circle cx="170.4" cy="158.4" r="1.85" fill="url(#gte)"/><circle cx="194.8" cy="136.8" r="1.6" fill="url(#gse)"/><circle cx="165.4" cy="132.6" r="1.6" fill="url(#gge)"/><circle cx="200.1" cy="178.5" r="1.6" fill="url(#gse)"/><circle cx="209.3" cy="120.3" r="1.6" fill="url(#gse)"/><circle cx="239.6" cy="160.4" r="1.6" fill="url(#gge)"/><circle cx="236.5" cy="192.4" r="1.75" fill="url(#gsb)"/><circle cx="228.4" cy="202.1" r="1.6" fill="url(#gse)"/><circle cx="224.7" cy="147.4" r="1.6" fill="url(#gge)"/><circle cx="238.2" cy="129.8" r="1.6" fill="url(#gse)"/><circle cx="219.4" cy="202.1" r="1.75" fill="url(#gsb)"/><circle cx="215.7" cy="155.6" r="1.6" fill="url(#gse)"/><circle cx="231.7" cy="162.5" r="1.75" fill="url(#gsb)"/><circle cx="219.0" cy="159.6" r="1.6" fill="url(#gse)"/><circle cx="159.7" cy="183.6" r="1.6" fill="url(#gse)"/><circle cx="218.5" cy="193.2" r="1.6" fill="url(#gse)"/><circle cx="195.1" cy="127.4" r="1.75" fill="url(#gsb)"/><circle cx="185.0" cy="172.1" r="1.6" fill="url(#gge)"/><circle cx="193.2" cy="181.6" r="1.6" fill="url(#gge)"/><circle cx="166.3" cy="146.6" r="1.6" fill="url(#gge)"/><circle cx="189.7" cy="184.7" r="1.6" fill="url(#gse)"/><circle cx="197.6" cy="172.3" r="1.6" fill="url(#gse)"/><circle cx="183.8" cy="123.2" r="1.6" fill="url(#gge)"/><circle cx="223.8" cy="156.2" r="1.85" fill="url(#gte)"/><circle cx="173.7" cy="182.1" r="1.6" fill="url(#gse)"/><circle cx="226.6" cy="173.6" r="1.75" fill="url(#gsb)"/><circle cx="168.3" cy="194.3" r="1.6" fill="url(#gse)"/><circle cx="225.4" cy="141.7" r="1.85" fill="url(#gte)"/><circle cx="235.9" cy="140.1" r="1.6" fill="url(#gge)"/><circle cx="206.6" cy="147.2" r="1.6" fill="url(#gge)"/><circle cx="209.3" cy="194.8" r="1.85" fill="url(#gte)"/><circle cx="197.1" cy="184.1" r="1.75" fill="url(#gsb)"/><circle cx="230.0" cy="147.9" r="1.6" fill="url(#gse)"/><circle cx="232.5" cy="157.7" r="1.75" fill="url(#gsb)"/><circle cx="177.4" cy="124.7" r="1.6" fill="url(#gge)"/><circle cx="234.3" cy="164.7" r="1.6" fill="url(#gse)"/><circle cx="201.4" cy="129.8" r="1.6" fill="url(#gse)"/><circle cx="168.1" cy="177.6" r="1.6" fill="url(#gse)"/><circle cx="205.7" cy="139.5" r="1.75" fill="url(#gsb)"/><circle cx="182.4" cy="187.3" r="1.6" fill="url(#gge)"/><circle cx="185.3" cy="175.1" r="1.85" fill="url(#gte)"/><circle cx="219.4" cy="170.7" r="1.6" fill="url(#gse)"/><circle cx="189.4" cy="142.2" r="1.6" fill="url(#gge)"/><circle cx="165.4" cy="179.1" r="1.75" fill="url(#gsb)"/><circle cx="166.5" cy="162.2" r="1.85" fill="url(#gte)"/><circle cx="209.7" cy="185.9" r="1.75" fill="url(#gsb)"/><circle cx="226.0" cy="187.4" r="1.75" fill="url(#gsb)"/><circle cx="180.8" cy="202.7" r="1.6" fill="url(#gge)"/><circle cx="217.5" cy="186.3" r="1.75" fill="url(#gsb)"/><circle cx="197.9" cy="149.8" r="1.6" fill="url(#gse)"/><circle cx="202.1" cy="120.4" r="1.75" fill="url(#gsb)"/><circle cx="221.2" cy="167.1" r="1.75" fill="url(#gsb)"/><circle cx="227.6" cy="144.5" r="1.6" fill="url(#gse)"/><circle cx="212.6" cy="144.1" r="1.85" fill="url(#gte)"/><circle cx="236.9" cy="199.6" r="1.75" fill="url(#gsb)"/><circle cx="168.7" cy="154.8" r="1.6" fill="url(#gge)"/><circle cx="176.9" cy="128.3" r="1.6" fill="url(#gse)"/><circle cx="219.9" cy="122.3" r="1.75" fill="url(#gsb)"/><circle cx="177.6" cy="201.0" r="1.6" fill="url(#gge)"/><circle cx="216.0" cy="141.1" r="1.6" fill="url(#gge)"/><circle cx="198.8" cy="154.1" r="1.75" fill="url(#gsb)"/><circle cx="186.0" cy="133.5" r="1.6" fill="url(#gse)"/><circle cx="233.0" cy="192.6" r="1.6" fill="url(#gse)"/><circle cx="233.9" cy="169.7" r="1.75" fill="url(#gsb)"/><circle cx="233.4" cy="184.1" r="1.85" fill="url(#gte)"/><circle cx="198.3" cy="187.4" r="1.6" fill="url(#gse)"/><circle cx="229.0" cy="136.2" r="1.6" fill="url(#gge)"/><circle cx="221.2" cy="184.9" r="1.6" fill="url(#gse)"/><circle cx="175.6" cy="145.6" r="1.6" fill="url(#gge)"/><circle cx="162.2" cy="141.9" r="1.6" fill="url(#gge)"/><circle cx="227.8" cy="151.4" r="1.75" fill="url(#gsb)"/><circle cx="159.6" cy="144.9" r="1.6" fill="url(#gse)"/><circle cx="214.0" cy="188.2" r="1.6" fill="url(#gge)"/><circle cx="206.4" cy="194.0" r="1.6" fill="url(#gge)"/><circle cx="186.9" cy="120.5" r="1.75" fill="url(#gsb)"/><circle cx="188.5" cy="188.4" r="1.6" fill="url(#gse)"/><circle cx="171.7" cy="120.2" r="1.6" fill="url(#gge)"/><circle cx="187.0" cy="199.1" r="1.6" fill="url(#gse)"/><circle cx="180.0" cy="175.1" r="1.6" fill="url(#gse)"/><circle cx="185.1" cy="191.0" r="1.6" fill="url(#gge)"/><circle cx="194.9" cy="120.2" r="1.6" fill="url(#gse)"/><circle cx="176.7" cy="133.9" r="1.6" fill="url(#gse)"/><circle cx="213.1" cy="201.1" r="1.6" fill="url(#gge)"/><circle cx="230.4" cy="154.9" r="1.6" fill="url(#gge)"/><circle cx="181.7" cy="120.8" r="1.6" fill="url(#gse)"/><circle cx="204.2" cy="196.8" r="1.75" fill="url(#gsb)"/><circle cx="218.1" cy="151.3" r="1.75" fill="url(#gsb)"/><circle cx="232.2" cy="134.8" r="1.75" fill="url(#gsb)"/><circle cx="162.3" cy="137.8" r="1.75" fill="url(#gsb)"/><circle cx="179.7" cy="196.0" r="1.6" fill="url(#gse)"/><circle cx="199.8" cy="159.4" r="1.6" fill="url(#gge)"/><circle cx="169.7" cy="201.3" r="1.85" fill="url(#gte)"/><circle cx="175.8" cy="196.4" r="1.75" fill="url(#gsb)"/><circle cx="182.2" cy="178.7" r="1.6" fill="url(#gge)"/><circle cx="196.3" cy="176.7" r="1.75" fill="url(#gsb)"/><circle cx="162.8" cy="172.9" r="1.85" fill="url(#gte)"/><circle cx="184.9" cy="181.5" r="1.6" fill="url(#gse)"/><circle cx="237.7" cy="178.6" r="1.6" fill="url(#gse)"/><circle cx="202.7" cy="141.5" r="1.6" fill="url(#gge)"/><circle cx="206.7" cy="168.4" r="1.6" fill="url(#gse)"/><circle cx="237.9" cy="134.2" r="1.85" fill="url(#gte)"/><circle cx="160.5" cy="149.5" r="1.6" fill="url(#gse)"/><circle cx="212.0" cy="163.4" r="1.6" fill="url(#gse)"/><circle cx="193.8" cy="158.2" r="1.6" fill="url(#gse)"/><circle cx="187.0" cy="128.4" r="1.75" fill="url(#gsb)"/><circle cx="191.0" cy="130.8" r="1.75" fill="url(#gsb)"/><circle cx="204.9" cy="191.2" r="1.6" fill="url(#gse)"/><circle cx="236.2" cy="147.7" r="1.6" fill="url(#gse)"/><circle cx="210.5" cy="138.2" r="1.6" fill="url(#gse)"/><circle cx="224.1" cy="195.5" r="1.6" fill="url(#gse)"/><circle cx="218.7" cy="174.7" r="1.85" fill="url(#gte)"/><circle cx="194.8" cy="198.1" r="1.6" fill="url(#gge)"/><circle cx="240.7" cy="172.5" r="1.75" fill="url(#gsb)"/><circle cx="228.0" cy="123.2" r="1.6" fill="url(#gge)"/><circle cx="185.5" cy="152.8" r="1.6" fill="url(#gge)"/><circle cx="215.7" cy="177.9" r="1.6" fill="url(#gse)"/><circle cx="214.1" cy="123.4" r="1.6" fill="url(#gse)"/><circle cx="188.3" cy="166.5" r="1.6" fill="url(#gse)"/><circle cx="200.6" cy="195.8" r="1.85" fill="url(#gte)"/><circle cx="236.4" cy="152.1" r="1.6" fill="url(#gse)"/><circle cx="175.4" cy="189.1" r="1.6" fill="url(#gge)"/><circle cx="159.6" cy="161.0" r="1.75" fill="url(#gsb)"/><circle cx="177.1" cy="186.4" r="1.6" fill="url(#gge)"/><circle cx="165.1" cy="193.7" r="1.6" fill="url(#gse)"/><circle cx="196.8" cy="143.1" r="1.6" fill="url(#gge)"/><circle cx="217.1" cy="162.6" r="1.85" fill="url(#gte)"/><circle cx="193.4" cy="195.0" r="1.6" fill="url(#gse)"/><circle cx="213.6" cy="194.0" r="1.75" fill="url(#gsb)"/><circle cx="191.0" cy="157.1" r="1.75" fill="url(#gsb)"/><circle cx="162.5" cy="181.5" r="1.6" fill="url(#gge)"/><circle cx="214.3" cy="197.0" r="1.6" fill="url(#gse)"/><circle cx="202.5" cy="153.8" r="1.75" fill="url(#gsb)"/><circle cx="187.2" cy="124.2" r="1.6" fill="url(#gse)"/><circle cx="180.6" cy="125.1" r="1.85" fill="url(#gte)"/><circle cx="170.5" cy="125.5" r="1.6" fill="url(#gse)"/><circle cx="211.6" cy="182.6" r="1.75" fill="url(#gsb)"/><circle cx="208.5" cy="153.9" r="1.6" fill="url(#gse)"/><circle cx="209.7" cy="200.4" r="1.6" fill="url(#gse)"/><circle cx="161.1" cy="155.6" r="1.6" fill="url(#gse)"/><circle cx="205.6" cy="163.2" r="1.6" fill="url(#gse)"/><circle cx="178.9" cy="158.5" r="1.6" fill="url(#gse)"/><circle cx="228.0" cy="132.2" r="1.6" fill="url(#gse)"/><circle cx="192.2" cy="192.2" r="1.6" fill="url(#gse)"/><circle cx="182.3" cy="161.1" r="1.6" fill="url(#gge)"/><circle cx="172.2" cy="141.0" r="1.6" fill="url(#gse)"/><circle cx="222.4" cy="171.5" r="1.75" fill="url(#gsb)"/><circle cx="214.7" cy="181.2" r="1.6" fill="url(#gse)"/><circle cx="186.4" cy="138.0" r="1.85" fill="url(#gte)"/><circle cx="160.8" cy="177.6" r="1.6" fill="url(#gge)"/><circle cx="176.3" cy="149.8" r="1.75" fill="url(#gsb)"/><circle cx="221.9" cy="127.6" r="1.6" fill="url(#gse)"/><circle cx="222.2" cy="151.6" r="1.75" fill="url(#gsb)"/><circle cx="230.7" cy="198.1" r="1.6" fill="url(#gge)"/><circle cx="233.4" cy="149.4" r="1.6" fill="url(#gse)"/><circle cx="165.7" cy="156.3" r="1.6" fill="url(#gge)"/><circle cx="190.7" cy="196.7" r="1.75" fill="url(#gsb)"/><circle cx="201.7" cy="135.1" r="1.75" fill="url(#gsb)"/><circle cx="206.4" cy="201.2" r="1.6" fill="url(#gse)"/><circle cx="191.7" cy="201.7" r="1.75" fill="url(#gsb)"/><circle cx="188.6" cy="170.2" r="1.6" fill="url(#gge)"/><circle cx="212.6" cy="167.7" r="1.75" fill="url(#gsb)"/><circle cx="222.1" cy="138.0" r="1.85" fill="url(#gte)"/><circle cx="223.0" cy="190.7" r="1.85" fill="url(#gte)"/><circle cx="233.6" cy="201.4" r="1.6" fill="url(#gge)"/><circle cx="227.1" cy="166.3" r="1.6" fill="url(#gge)"/><circle cx="180.2" cy="168.9" r="1.75" fill="url(#gsb)"/><circle cx="231.4" cy="166.2" r="1.85" fill="url(#gte)"/><circle cx="237.9" cy="124.6" r="1.6" fill="url(#gse)"/><circle cx="166.5" cy="123.3" r="1.6" fill="url(#gse)"/><line x1="157.5" y1="125.2" x2="235.6" y2="125.2" stroke="#111" stroke-width="1.05"/><line x1="235.6" y1="125.2" x2="235.6" y2="204.2" stroke="#111" stroke-width="1.05"/><line x1="235.6" y1="204.2" x2="157.5" y2="204.2" stroke="#111" stroke-width="1.05"/><line x1="157.5" y1="204.2" x2="157.5" y2="125.2" stroke="#111" stroke-width="1.05"/><line x1="164.4" y1="118.6" x2="242.4" y2="118.6" stroke="#111" stroke-width="1.05"/><line x1="242.4" y1="118.6" x2="242.4" y2="197.4" stroke="#111" stroke-width="1.05"/><line x1="242.4" y1="197.4" x2="164.4" y2="197.4" stroke="#111" stroke-width="1.05"/><line x1="164.4" y1="197.4" x2="164.4" y2="118.6" stroke="#111" stroke-width="1.05"/><line x1="157.5" y1="125.2" x2="164.4" y2="118.6" stroke="#111" stroke-width="1.05"/><line x1="235.6" y1="125.2" x2="242.4" y2="118.6" stroke="#111" stroke-width="1.05"/><line x1="235.6" y1="204.2" x2="242.4" y2="197.4" stroke="#111" stroke-width="1.05"/><line x1="157.5" y1="204.2" x2="164.4" y2="197.4" stroke="#111" stroke-width="1.05"/><text x="203.60" y="115.30" font-size="9.9" text-anchor="middle" fill="#111" color="#111" >GSS4T1</text><line x1="247.5" y1="121.6" x2="247.5" y2="195.6" stroke="#111" stroke-width="1"/><path d="M245.2,123.6 L247.5,118.6 L249.8,123.6 Z" fill="#111"/><path d="M245.2,193.6 L247.5,198.6 L249.8,193.6 Z" fill="#111"/><text x="0" y="0" font-size="11" text-anchor="middle" fill="#111" color="#111" transform="translate(259.80,159.90) rotate(-90)">22.89 Å</text><text x="265.50" y="12.80" font-size="13.2" text-anchor="start" fill="#111" color="#111" >(b)</text><line x1="297.4" y1="126.40" x2="494.9" y2="126.40" stroke="#111" stroke-width="1.2" stroke-dasharray="6,5.6"/><path d="M297.40,194.00 L297.80,194.00 L298.19,194.00 L298.59,194.00 L298.98,194.00 L299.38,194.00 L299.77,194.00 L300.17,194.00 L300.56,194.00 L300.96,194.00 L301.35,194.00 L301.75,194.00 L302.14,194.00 L302.54,194.00 L302.93,194.00 L303.33,194.00 L303.72,194.00 L304.12,194.00 L304.51,194.00 L304.91,194.00 L305.30,194.00 L305.70,193.83 L306.09,193.55 L306.49,193.17 L306.88,192.71 L307.28,192.16 L307.67,191.55 L308.07,190.87 L308.47,190.13 L308.86,189.35 L309.26,188.54 L309.65,187.61 L310.05,186.49 L310.44,185.19 L310.84,183.72 L311.23,182.09 L311.63,180.31 L312.02,178.39 L312.42,176.33 L312.81,174.14 L313.21,171.84 L313.60,169.43 L314.00,166.91 L314.39,164.31 L314.79,161.62 L315.18,158.86 L315.58,156.03 L315.97,153.15 L316.37,150.22 L316.76,147.24 L317.16,144.24 L317.55,141.22 L317.95,138.18 L318.35,135.14 L318.74,132.10 L319.14,129.07 L319.53,126.06 L319.93,122.90 L320.32,119.49 L320.72,115.86 L321.11,112.05 L321.51,108.10 L321.90,104.04 L322.30,99.90 L322.69,95.73 L323.09,91.55 L323.48,87.40 L323.88,83.32 L324.27,79.33 L324.67,75.49 L325.06,71.81 L325.46,68.34 L325.85,65.11 L326.25,61.96 L326.64,58.85 L327.04,55.83 L327.43,52.94 L327.83,50.26 L328.22,47.83 L328.62,45.72 L329.02,43.97 L329.41,42.64 L329.81,41.80 L330.20,41.86 L330.60,42.91 L330.99,44.81 L331.39,47.42 L331.78,50.61 L332.18,54.23 L332.57,58.14 L332.97,62.21 L333.36,66.34 L333.76,71.84 L334.15,79.00 L334.55,87.22 L334.94,95.95 L335.34,104.58 L335.73,112.55 L336.13,119.28 L336.52,124.18 L336.92,126.74 L337.31,128.34 L337.71,129.82 L338.10,131.18 L338.50,132.42 L338.89,133.55 L339.29,134.56 L339.69,135.46 L340.08,136.25 L340.48,136.93 L340.87,137.51 L341.27,137.98 L341.66,138.35 L342.06,138.62 L342.45,138.88 L342.85,139.16 L343.24,139.46 L343.64,139.76 L344.03,140.07 L344.43,140.37 L344.82,140.67 L345.22,140.95 L345.61,141.21 L346.01,141.45 L346.40,141.65 L346.80,141.82 L347.19,141.95 L347.59,142.03 L347.98,142.05 L348.38,142.02 L348.77,141.92 L349.17,141.78 L349.57,141.61 L349.96,141.41 L350.36,141.19 L350.75,140.94 L351.15,140.66 L351.54,140.36 L351.94,140.04 L352.33,139.69 L352.73,139.32 L353.12,138.93 L353.52,138.53 L353.91,138.10 L354.31,137.65 L354.70,137.19 L355.10,136.71 L355.49,136.22 L355.89,135.71 L356.28,135.17 L356.68,134.60 L357.07,134.00 L357.47,133.38 L357.86,132.72 L358.26,132.04 L358.65,131.34 L359.05,130.62 L359.44,129.88 L359.84,129.13 L360.24,128.36 L360.63,127.59 L361.03,126.80 L361.42,126.00 L361.82,125.21 L362.21,124.40 L362.61,123.60 L363.00,122.80 L363.40,122.01 L363.79,121.21 L364.19,120.43 L364.58,119.66 L364.98,118.90 L365.37,118.15 L365.77,117.42 L366.16,116.71 L366.56,116.02 L366.95,115.32 L367.35,114.61 L367.74,113.89 L368.14,113.15 L368.53,112.41 L368.93,111.66 L369.32,110.91 L369.72,110.16 L370.12,109.40 L370.51,108.64 L370.91,107.89 L371.30,107.14 L371.70,106.39 L372.09,105.65 L372.49,104.91 L372.88,104.19 L373.28,103.47 L373.67,102.77 L374.07,102.08 L374.46,101.41 L374.86,100.75 L375.25,100.12 L375.65,99.50 L376.04,98.91 L376.44,98.34 L376.83,97.79 L377.23,97.27 L377.62,96.78 L378.02,96.32 L378.41,95.89 L378.81,95.49 L379.20,95.13 L379.60,94.80 L379.99,94.52 L380.39,94.32 L380.79,94.22 L381.18,94.21 L381.58,94.29 L381.97,94.44 L382.37,94.67 L382.76,94.96 L383.16,95.31 L383.55,95.72 L383.95,96.18 L384.34,96.69 L384.74,97.23 L385.13,97.81 L385.53,98.42 L385.92,99.05 L386.32,99.69 L386.71,100.35 L387.11,101.02 L387.50,101.76 L387.90,102.57 L388.29,103.45 L388.69,104.39 L389.08,105.39 L389.48,106.43 L389.87,107.51 L390.27,108.63 L390.66,109.78 L391.06,110.95 L391.46,112.13 L391.85,113.33 L392.25,114.52 L392.64,115.72 L393.04,116.90 L393.43,118.07 L393.83,119.21 L394.22,120.32 L394.62,121.40 L395.01,122.44 L395.41,123.42 L395.80,124.36 L396.20,125.23 L396.59,126.03 L396.99,126.77 L397.38,127.50 L397.78,128.24 L398.17,128.98 L398.57,129.71 L398.96,130.45 L399.36,131.18 L399.75,131.91 L400.15,132.64 L400.54,133.35 L400.94,134.06 L401.34,134.76 L401.73,135.45 L402.13,136.12 L402.52,136.78 L402.92,137.43 L403.31,138.05 L403.71,138.66 L404.10,139.25 L404.50,139.82 L404.89,140.36 L405.29,140.88 L405.68,141.38 L406.08,141.85 L406.47,142.29 L406.87,142.69 L407.26,143.07 L407.66,143.42 L408.05,143.73 L408.45,144.00 L408.84,144.24 L409.24,144.44 L409.63,144.60 L410.03,144.72 L410.42,144.84 L410.82,144.96 L411.21,145.07 L411.61,145.18 L412.01,145.29 L412.40,145.40 L412.80,145.50 L413.19,145.60 L413.59,145.70 L413.98,145.80 L414.38,145.89 L414.77,145.98 L415.17,146.06 L415.56,146.14 L415.96,146.21 L416.35,146.28 L416.75,146.35 L417.14,146.41 L417.54,146.46 L417.93,146.51 L418.33,146.56 L418.72,146.60 L419.12,146.63 L419.51,146.66 L419.91,146.68 L420.30,146.70 L420.70,146.70 L421.09,146.70 L421.49,146.70 L421.88,146.69 L422.28,146.67 L422.68,146.65 L423.07,146.62 L423.47,146.59 L423.86,146.56 L424.26,146.53 L424.65,146.49 L425.05,146.45 L425.44,146.41 L425.84,146.36 L426.23,146.31 L426.63,146.25 L427.02,146.19 L427.42,146.12 L427.81,146.05 L428.21,145.98 L428.60,145.90 L429.00,145.82 L429.39,145.73 L429.79,145.63 L430.18,145.53 L430.58,145.43 L430.97,145.32 L431.37,145.20 L431.76,145.08 L432.16,144.95 L432.56,144.81 L432.95,144.67 L433.35,144.52 L433.74,144.36 L434.14,144.20 L434.53,144.03 L434.93,143.85 L435.32,143.64 L435.72,143.41 L436.11,143.15 L436.51,142.86 L436.90,142.56 L437.30,142.23 L437.69,141.89 L438.09,141.52 L438.48,141.14 L438.88,140.74 L439.27,140.32 L439.67,139.89 L440.06,139.44 L440.46,138.98 L440.85,138.51 L441.25,138.03 L441.64,137.54 L442.04,137.04 L442.43,136.54 L442.83,136.02 L443.23,135.51 L443.62,134.98 L444.02,134.46 L444.41,133.93 L444.81,133.40 L445.20,132.87 L445.60,132.34 L445.99,131.82 L446.39,131.30 L446.78,130.78 L447.18,130.27 L447.57,129.76 L447.97,129.26 L448.36,128.77 L448.76,128.29 L449.15,127.83 L449.55,127.37 L449.94,126.92 L450.34,126.49 L450.73,126.07 L451.13,125.63 L451.52,125.17 L451.92,124.69 L452.31,124.21 L452.71,123.71 L453.11,123.20 L453.50,122.68 L453.90,122.16 L454.29,121.64 L454.69,121.11 L455.08,120.58 L455.48,120.05 L455.87,119.53 L456.27,119.00 L456.66,118.49 L457.06,117.98 L457.45,117.49 L457.85,117.00 L458.24,116.53 L458.64,116.07 L459.03,115.63 L459.43,115.21 L459.82,114.81 L460.22,114.43 L460.61,114.07 L461.01,113.74 L461.40,113.44 L461.80,113.16 L462.19,112.92 L462.59,112.71 L462.98,112.53 L463.38,112.39 L463.78,112.29 L464.17,112.23 L464.57,112.20 L464.96,112.22 L465.36,112.28 L465.75,112.37 L466.15,112.49 L466.54,112.64 L466.94,112.82 L467.33,113.02 L467.73,113.25 L468.12,113.49 L468.52,113.75 L468.91,114.03 L469.31,114.32 L469.70,114.62 L470.10,114.92 L470.49,115.23 L470.89,115.54 L471.28,115.86 L471.68,116.17 L472.07,116.47 L472.47,116.77 L472.86,117.06 L473.26,117.34 L473.65,117.60 L474.05,117.84 L474.45,118.07 L474.84,118.27 L475.24,118.46 L475.63,118.65 L476.03,118.84 L476.42,119.03 L476.82,119.22 L477.21,119.41 L477.61,119.60 L478.00,119.79 L478.40,119.99 L478.79,120.18 L479.19,120.37 L479.58,120.55 L479.98,120.74 L480.37,120.93 L480.77,121.11 L481.16,121.29 L481.56,121.47 L481.95,121.65 L482.35,121.83 L482.74,122.00 L483.14,122.17 L483.53,122.34 L483.93,122.51 L484.33,122.67 L484.72,122.83 L485.12,122.98 L485.51,123.13 L485.91,123.28 L486.30,123.42 L486.70,123.56 L487.09,123.69 L487.49,123.82 L487.88,123.95 L488.28,124.08 L488.67,124.21 L489.07,124.34 L489.46,124.46 L489.86,124.59 L490.25,124.71 L490.65,124.83 L491.04,124.94 L491.44,125.05 L491.83,125.15 L492.23,125.25 L492.62,125.35 L493.02,125.44 L493.41,125.52 L493.81,125.59 L494.20,125.66 L494.60,125.72" fill="none" stroke="#3c6ec8" stroke-width="1.3" stroke-linejoin="round" /><path d="M297.40,194.00 L297.80,194.00 L298.19,194.00 L298.59,194.00 L298.98,194.00 L299.38,194.00 L299.77,194.00 L300.17,194.00 L300.56,194.00 L300.96,194.00 L301.35,194.00 L301.75,194.00 L302.14,194.00 L302.54,194.00 L302.93,194.00 L303.33,194.00 L303.72,194.00 L304.12,193.89 L304.51,193.72 L304.91,193.48 L305.30,193.16 L305.70,192.76 L306.09,192.28 L306.49,191.72 L306.88,191.06 L307.28,190.32 L307.67,189.48 L308.07,188.54 L308.47,187.32 L308.86,185.70 L309.26,183.71 L309.65,181.39 L310.05,178.77 L310.44,175.88 L310.84,172.76 L311.23,169.43 L311.63,165.94 L312.02,162.32 L312.42,158.60 L312.81,154.81 L313.21,150.99 L313.60,147.17 L314.00,143.38 L314.39,139.66 L314.79,136.04 L315.18,132.55 L315.58,129.23 L315.97,126.11 L316.37,123.00 L316.76,119.78 L317.16,116.50 L317.55,113.20 L317.95,109.94 L318.35,106.76 L318.74,103.71 L319.14,100.83 L319.53,98.18 L319.93,95.80 L320.32,93.73 L320.72,91.94 L321.11,90.36 L321.51,88.93 L321.90,87.60 L322.30,86.32 L322.69,85.03 L323.09,83.70 L323.48,82.26 L323.88,80.76 L324.27,79.24 L324.67,77.70 L325.06,76.16 L325.46,74.62 L325.85,73.10 L326.25,71.61 L326.64,70.15 L327.04,68.73 L327.43,67.31 L327.83,65.91 L328.22,64.63 L328.62,63.53 L329.02,62.71 L329.41,62.24 L329.81,62.23 L330.20,63.55 L330.60,66.39 L330.99,70.36 L331.39,75.09 L331.78,80.19 L332.18,85.29 L332.57,90.05 L332.97,95.43 L333.36,101.63 L333.76,108.15 L334.15,114.44 L334.55,119.98 L334.94,124.25 L335.34,126.75 L335.73,128.48 L336.13,130.09 L336.52,131.57 L336.92,132.93 L337.31,134.18 L337.71,135.31 L338.10,136.33 L338.50,137.24 L338.89,138.05 L339.29,138.76 L339.69,139.37 L340.08,139.89 L340.48,140.32 L340.87,140.67 L341.27,141.00 L341.66,141.36 L342.06,141.73 L342.45,142.11 L342.85,142.48 L343.24,142.85 L343.64,143.20 L344.03,143.53 L344.43,143.84 L344.82,144.11 L345.22,144.34 L345.61,144.52 L346.01,144.64 L346.40,144.71 L346.80,144.70 L347.19,144.63 L347.59,144.49 L347.98,144.32 L348.38,144.10 L348.77,143.84 L349.17,143.55 L349.57,143.22 L349.96,142.86 L350.36,142.47 L350.75,142.04 L351.15,141.59 L351.54,141.11 L351.94,140.61 L352.33,140.09 L352.73,139.54 L353.12,138.98 L353.52,138.40 L353.91,137.78 L354.31,137.11 L354.70,136.40 L355.10,135.65 L355.49,134.86 L355.89,134.04 L356.28,133.19 L356.68,132.31 L357.07,131.41 L357.47,130.49 L357.86,129.55 L358.26,128.59 L358.65,127.63 L359.05,126.65 L359.44,125.67 L359.84,124.69 L360.24,123.72 L360.63,122.74 L361.03,121.78 L361.42,120.82 L361.82,119.88 L362.21,118.96 L362.61,118.06 L363.00,117.18 L363.40,116.33 L363.79,115.52 L364.19,114.73 L364.58,113.98 L364.98,113.23 L365.37,112.47 L365.77,111.70 L366.16,110.92 L366.56,110.15 L366.95,109.37 L367.35,108.59 L367.74,107.81 L368.14,107.03 L368.53,106.26 L368.93,105.50 L369.32,104.75 L369.72,104.01 L370.12,103.28 L370.51,102.57 L370.91,101.87 L371.30,101.19 L371.70,100.53 L372.09,99.90 L372.49,99.29 L372.88,98.71 L373.28,98.15 L373.67,97.63 L374.07,97.13 L374.46,96.67 L374.86,96.25 L375.25,95.86 L375.65,95.52 L376.04,95.21 L376.44,94.95 L376.83,94.73 L377.23,94.57 L377.62,94.48 L378.02,94.48 L378.41,94.56 L378.81,94.70 L379.20,94.92 L379.60,95.20 L379.99,95.54 L380.39,95.93 L380.79,96.37 L381.18,96.85 L381.58,97.37 L381.97,97.93 L382.37,98.51 L382.76,99.12 L383.16,99.74 L383.55,100.38 L383.95,101.02 L384.34,101.68 L384.74,102.38 L385.13,103.14 L385.53,103.95 L385.92,104.80 L386.32,105.69 L386.71,106.61 L387.11,107.57 L387.50,108.56 L387.90,109.56 L388.29,110.59 L388.69,111.63 L389.08,112.68 L389.48,113.74 L389.87,114.80 L390.27,115.85 L390.66,116.90 L391.06,117.94 L391.46,118.96 L391.85,119.96 L392.25,120.94 L392.64,121.88 L393.04,122.80 L393.43,123.68 L393.83,124.51 L394.22,125.31 L394.62,126.05 L395.01,126.74 L395.41,127.43 L395.80,128.12 L396.20,128.82 L396.59,129.51 L396.99,130.20 L397.38,130.89 L397.78,131.58 L398.17,132.26 L398.57,132.94 L398.96,133.60 L399.36,134.26 L399.75,134.91 L400.15,135.55 L400.54,136.18 L400.94,136.79 L401.34,137.39 L401.73,137.97 L402.13,138.53 L402.52,139.08 L402.92,139.60 L403.31,140.11 L403.71,140.59 L404.10,141.05 L404.50,141.48 L404.89,141.89 L405.29,142.27 L405.68,142.62 L406.08,142.94 L406.47,143.23 L406.87,143.49 L407.26,143.71 L407.66,143.90 L408.05,144.06 L408.45,144.22 L408.84,144.37 L409.24,144.52 L409.63,144.66 L410.03,144.81 L410.42,144.95 L410.82,145.08 L411.21,145.21 L411.61,145.34 L412.01,145.47 L412.40,145.59 L412.80,145.70 L413.19,145.81 L413.59,145.92 L413.98,146.02 L414.38,146.11 L414.77,146.20 L415.17,146.29 L415.56,146.36 L415.96,146.43 L416.35,146.49 L416.75,146.55 L417.14,146.60 L417.54,146.64 L417.93,146.67 L418.33,146.69 L418.72,146.71 L419.12,146.72 L419.51,146.72 L419.91,146.71 L420.30,146.69 L420.70,146.66 L421.09,146.63 L421.49,146.59 L421.88,146.55 L422.28,146.50 L422.68,146.45 L423.07,146.39 L423.47,146.33 L423.86,146.26 L424.26,146.18 L424.65,146.10 L425.05,146.02 L425.44,145.92 L425.84,145.83 L426.23,145.72 L426.63,145.61 L427.02,145.50 L427.42,145.37 L427.81,145.24 L428.21,145.11 L428.60,144.97 L429.00,144.82 L429.39,144.66 L429.79,144.50 L430.18,144.33 L430.58,144.15 L430.97,143.97 L431.37,143.77 L431.76,143.57 L432.16,143.37 L432.56,143.15 L432.95,142.91 L433.35,142.65 L433.74,142.37 L434.14,142.07 L434.53,141.76 L434.93,141.43 L435.32,141.08 L435.72,140.71 L436.11,140.33 L436.51,139.94 L436.90,139.54 L437.30,139.12 L437.69,138.69 L438.09,138.25 L438.48,137.81 L438.88,137.35 L439.27,136.89 L439.67,136.42 L440.06,135.94 L440.46,135.46 L440.85,134.97 L441.25,134.48 L441.64,133.99 L442.04,133.50 L442.43,133.00 L442.83,132.51 L443.23,132.02 L443.62,131.53 L444.02,131.04 L444.41,130.55 L444.81,130.07 L445.20,129.60 L445.60,129.13 L445.99,128.67 L446.39,128.22 L446.78,127.77 L447.18,127.33 L447.57,126.91 L447.97,126.50 L448.36,126.08 L448.76,125.65 L449.15,125.20 L449.55,124.73 L449.94,124.25 L450.34,123.75 L450.73,123.25 L451.13,122.74 L451.52,122.22 L451.92,121.71 L452.31,121.19 L452.71,120.68 L453.11,120.17 L453.50,119.68 L453.90,119.19 L454.29,118.72 L454.69,118.26 L455.08,117.82 L455.48,117.40 L455.87,117.01 L456.27,116.64 L456.66,116.30 L457.06,115.99 L457.45,115.71 L457.85,115.47 L458.24,115.27 L458.64,115.11 L459.03,115.00 L459.43,114.93 L459.82,114.91 L460.22,114.93 L460.61,114.97 L461.01,115.03 L461.40,115.11 L461.80,115.21 L462.19,115.33 L462.59,115.46 L462.98,115.61 L463.38,115.77 L463.78,115.94 L464.17,116.13 L464.57,116.32 L464.96,116.52 L465.36,116.73 L465.75,116.94 L466.15,117.15 L466.54,117.37 L466.94,117.60 L467.33,117.82 L467.73,118.04 L468.12,118.26 L468.52,118.47 L468.91,118.68 L469.31,118.89 L469.70,119.08 L470.10,119.27 L470.49,119.45 L470.89,119.62 L471.28,119.78 L471.68,119.95 L472.07,120.12 L472.47,120.29 L472.86,120.46 L473.26,120.63 L473.65,120.81 L474.05,120.98 L474.45,121.16 L474.84,121.33 L475.24,121.51 L475.63,121.69 L476.03,121.86 L476.42,122.03 L476.82,122.21 L477.21,122.38 L477.61,122.54 L478.00,122.71 L478.40,122.87 L478.79,123.03 L479.19,123.19 L479.58,123.34 L479.98,123.49 L480.37,123.63 L480.77,123.77 L481.16,123.90 L481.56,124.02 L481.95,124.14 L482.35,124.26 L482.74,124.37 L483.14,124.47 L483.53,124.57 L483.93,124.67 L484.33,124.77 L484.72,124.86 L485.12,124.96 L485.51,125.05 L485.91,125.14 L486.30,125.23 L486.70,125.31 L487.09,125.40 L487.49,125.48 L487.88,125.56 L488.28,125.63 L488.67,125.71 L489.07,125.78 L489.46,125.84 L489.86,125.91 L490.25,125.97 L490.65,126.03 L491.04,126.08 L491.44,126.13 L491.83,126.18 L492.23,126.22 L492.62,126.26 L493.02,126.30 L493.41,126.33 L493.81,126.36 L494.20,126.38 L494.60,126.40" fill="none" stroke="#6cc23a" stroke-width="1.3" stroke-linejoin="round" /><path d="M297.40,194.00 L297.80,194.00 L298.19,194.00 L298.59,194.00 L298.98,194.00 L299.38,194.00 L299.77,194.00 L300.17,194.00 L300.56,194.00 L300.96,194.00 L301.35,194.00 L301.75,194.00 L302.14,194.00 L302.54,194.00 L302.93,194.00 L303.33,193.88 L303.72,193.66 L304.12,193.36 L304.51,192.98 L304.91,192.52 L305.30,191.99 L305.70,191.40 L306.09,190.76 L306.49,190.06 L306.88,189.33 L307.28,188.55 L307.67,187.53 L308.07,186.09 L308.47,184.26 L308.86,182.08 L309.26,179.58 L309.65,176.77 L310.05,173.69 L310.44,170.38 L310.84,166.84 L311.23,163.13 L311.63,159.25 L312.02,155.25 L312.42,151.15 L312.81,146.98 L313.21,142.76 L313.60,138.53 L314.00,134.32 L314.39,130.14 L314.79,126.04 L315.18,121.52 L315.58,116.36 L315.97,110.72 L316.37,104.77 L316.76,98.67 L317.16,92.61 L317.55,86.74 L317.95,81.24 L318.35,76.27 L318.74,72.01 L319.14,68.61 L319.53,65.60 L319.93,62.79 L320.32,60.41 L320.72,58.70 L321.11,57.89 L321.51,58.23 L321.90,59.20 L322.30,60.39 L322.69,61.73 L323.09,63.18 L323.48,64.70 L323.88,66.23 L324.27,67.72 L324.67,69.13 L325.06,70.45 L325.46,71.72 L325.85,72.96 L326.25,74.17 L326.64,75.38 L327.04,76.61 L327.43,77.86 L327.83,79.15 L328.22,80.51 L328.62,81.94 L329.02,83.47 L329.41,85.10 L329.81,86.87 L330.20,88.87 L330.60,91.67 L330.99,95.21 L331.39,99.31 L331.78,103.75 L332.18,108.34 L332.57,112.90 L332.97,117.21 L333.36,121.10 L333.76,124.35 L334.15,126.80 L334.55,128.89 L334.94,130.92 L335.34,132.85 L335.73,134.69 L336.13,136.41 L336.52,138.00 L336.92,139.45 L337.31,140.74 L337.71,141.87 L338.10,142.80 L338.50,143.54 L338.89,144.07 L339.29,144.54 L339.69,145.02 L340.08,145.49 L340.48,145.96 L340.87,146.42 L341.27,146.85 L341.66,147.26 L342.06,147.64 L342.45,147.97 L342.85,148.26 L343.24,148.50 L343.64,148.68 L344.03,148.79 L344.43,148.83 L344.82,148.79 L345.22,148.67 L345.61,148.50 L346.01,148.28 L346.40,148.03 L346.80,147.74 L347.19,147.41 L347.59,147.05 L347.98,146.66 L348.38,146.23 L348.77,145.77 L349.17,145.28 L349.57,144.76 L349.96,144.22 L350.36,143.64 L350.75,143.04 L351.15,142.41 L351.54,141.76 L351.94,141.08 L352.33,140.35 L352.73,139.55 L353.12,138.69 L353.52,137.78 L353.91,136.82 L354.31,135.82 L354.70,134.77 L355.10,133.69 L355.49,132.57 L355.89,131.43 L356.28,130.27 L356.68,129.09 L357.07,127.90 L357.47,126.71 L357.86,125.51 L358.26,124.31 L358.65,123.12 L359.05,121.93 L359.44,120.77 L359.84,119.63 L360.24,118.51 L360.63,117.42 L361.03,116.37 L361.42,115.35 L361.82,114.39 L362.21,113.47 L362.61,112.60 L363.00,111.73 L363.40,110.85 L363.79,109.96 L364.19,109.07 L364.58,108.17 L364.98,107.28 L365.37,106.38 L365.77,105.49 L366.16,104.60 L366.56,103.72 L366.95,102.86 L367.35,102.01 L367.74,101.17 L368.14,100.36 L368.53,99.56 L368.93,98.80 L369.32,98.05 L369.72,97.34 L370.12,96.66 L370.51,96.01 L370.91,95.40 L371.30,94.83 L371.70,94.30 L372.09,93.82 L372.49,93.38 L372.88,93.00 L373.28,92.66 L373.67,92.38 L374.07,92.16 L374.46,91.99 L374.86,91.89 L375.25,91.88 L375.65,91.96 L376.04,92.12 L376.44,92.36 L376.83,92.66 L377.23,93.03 L377.62,93.46 L378.02,93.94 L378.41,94.47 L378.81,95.04 L379.20,95.64 L379.60,96.28 L379.99,96.93 L380.39,97.60 L380.79,98.28 L381.18,98.97 L381.58,99.66 L381.97,100.38 L382.37,101.15 L382.76,101.95 L383.16,102.79 L383.55,103.66 L383.95,104.56 L384.34,105.48 L384.74,106.43 L385.13,107.40 L385.53,108.38 L385.92,109.37 L386.32,110.38 L386.71,111.39 L387.11,112.41 L387.50,113.43 L387.90,114.45 L388.29,115.46 L388.69,116.46 L389.08,117.45 L389.48,118.43 L389.87,119.38 L390.27,120.32 L390.66,121.24 L391.06,122.13 L391.46,122.98 L391.85,123.81 L392.25,124.60 L392.64,125.35 L393.04,126.05 L393.43,126.72 L393.83,127.39 L394.22,128.05 L394.62,128.71 L395.01,129.38 L395.41,130.04 L395.80,130.69 L396.20,131.34 L396.59,131.99 L396.99,132.63 L397.38,133.26 L397.78,133.88 L398.17,134.49 L398.57,135.09 L398.96,135.67 L399.36,136.25 L399.75,136.80 L400.15,137.34 L400.54,137.87 L400.94,138.37 L401.34,138.85 L401.73,139.32 L402.13,139.76 L402.52,140.18 L402.92,140.57 L403.31,140.94 L403.71,141.28 L404.10,141.59 L404.50,141.88 L404.89,142.13 L405.29,142.36 L405.68,142.55 L406.08,142.71 L406.47,142.87 L406.87,143.02 L407.26,143.18 L407.66,143.33 L408.05,143.47 L408.45,143.62 L408.84,143.76 L409.24,143.89 L409.63,144.03 L410.03,144.15 L410.42,144.28 L410.82,144.40 L411.21,144.51 L411.61,144.62 L412.01,144.72 L412.40,144.82 L412.80,144.91 L413.19,144.99 L413.59,145.07 L413.98,145.14 L414.38,145.20 L414.77,145.26 L415.17,145.30 L415.56,145.34 L415.96,145.38 L416.35,145.40 L416.75,145.41 L417.14,145.42 L417.54,145.41 L417.93,145.40 L418.33,145.38 L418.72,145.34 L419.12,145.30 L419.51,145.25 L419.91,145.20 L420.30,145.13 L420.70,145.07 L421.09,144.99 L421.49,144.91 L421.88,144.83 L422.28,144.74 L422.68,144.64 L423.07,144.53 L423.47,144.42 L423.86,144.31 L424.26,144.18 L424.65,144.05 L425.05,143.92 L425.44,143.78 L425.84,143.63 L426.23,143.47 L426.63,143.31 L427.02,143.15 L427.42,142.97 L427.81,142.79 L428.21,142.60 L428.60,142.41 L429.00,142.21 L429.39,142.01 L429.79,141.79 L430.18,141.57 L430.58,141.35 L430.97,141.11 L431.37,140.86 L431.76,140.58 L432.16,140.29 L432.56,139.98 L432.95,139.66 L433.35,139.32 L433.74,138.97 L434.14,138.60 L434.53,138.22 L434.93,137.83 L435.32,137.43 L435.72,137.02 L436.11,136.60 L436.51,136.17 L436.90,135.73 L437.30,135.29 L437.69,134.84 L438.09,134.39 L438.48,133.93 L438.88,133.48 L439.27,133.02 L439.67,132.55 L440.06,132.09 L440.46,131.63 L440.85,131.17 L441.25,130.72 L441.64,130.27 L442.04,129.82 L442.43,129.37 L442.83,128.94 L443.23,128.51 L443.62,128.08 L444.02,127.67 L444.41,127.27 L444.81,126.88 L445.20,126.49 L445.60,126.12 L445.99,125.72 L446.39,125.31 L446.78,124.89 L447.18,124.46 L447.57,124.02 L447.97,123.57 L448.36,123.12 L448.76,122.66 L449.15,122.21 L449.55,121.75 L449.94,121.29 L450.34,120.84 L450.73,120.40 L451.13,119.96 L451.52,119.53 L451.92,119.12 L452.31,118.72 L452.71,118.33 L453.11,117.96 L453.50,117.61 L453.90,117.28 L454.29,116.98 L454.69,116.70 L455.08,116.45 L455.48,116.22 L455.87,116.03 L456.27,115.87 L456.66,115.74 L457.06,115.65 L457.45,115.59 L457.85,115.58 L458.24,115.61 L458.64,115.66 L459.03,115.74 L459.43,115.85 L459.82,115.98 L460.22,116.13 L460.61,116.29 L461.01,116.47 L461.40,116.67 L461.80,116.88 L462.19,117.09 L462.59,117.32 L462.98,117.55 L463.38,117.78 L463.78,118.01 L464.17,118.24 L464.57,118.47 L464.96,118.69 L465.36,118.90 L465.75,119.10 L466.15,119.29 L466.54,119.46 L466.94,119.62 L467.33,119.76 L467.73,119.91 L468.12,120.06 L468.52,120.21 L468.91,120.36 L469.31,120.51 L469.70,120.66 L470.10,120.81 L470.49,120.96 L470.89,121.11 L471.28,121.26 L471.68,121.41 L472.07,121.56 L472.47,121.71 L472.86,121.85 L473.26,122.00 L473.65,122.14 L474.05,122.28 L474.45,122.42 L474.84,122.55 L475.24,122.68 L475.63,122.81 L476.03,122.93 L476.42,123.05 L476.82,123.17 L477.21,123.28 L477.61,123.39 L478.00,123.50 L478.40,123.59 L478.79,123.69 L479.19,123.78 L479.58,123.87 L479.98,123.96 L480.37,124.05 L480.77,124.14 L481.16,124.23 L481.56,124.32 L481.95,124.40 L482.35,124.49 L482.74,124.58 L483.14,124.66 L483.53,124.74 L483.93,124.83 L484.33,124.91 L484.72,124.99 L485.12,125.07 L485.51,125.15 L485.91,125.22 L486.30,125.30 L486.70,125.37 L487.09,125.44 L487.49,125.51 L487.88,125.58 L488.28,125.65 L488.67,125.71 L489.07,125.77 L489.46,125.84 L489.86,125.89 L490.25,125.95 L490.65,126.00 L491.04,126.06 L491.44,126.10 L491.83,126.15 L492.23,126.19 L492.62,126.24 L493.02,126.27 L493.41,126.31 L493.81,126.34 L494.20,126.37 L494.60,126.40" fill="none" stroke="#f2b232" stroke-width="1.3" stroke-linejoin="round" /><path d="M297.40,194.00 L297.80,194.00 L298.19,194.00 L298.59,194.00 L298.98,194.00 L299.38,194.00 L299.77,194.00 L300.17,194.00 L300.56,194.00 L300.96,194.00 L301.35,194.00 L301.75,194.00 L302.14,194.00 L302.54,193.89 L302.93,193.69 L303.33,193.39 L303.72,193.00 L304.12,192.52 L304.51,191.93 L304.91,191.24 L305.30,190.45 L305.70,189.55 L306.09,188.54 L306.49,187.00 L306.88,184.63 L307.28,181.53 L307.67,177.79 L308.07,173.50 L308.47,168.76 L308.86,163.67 L309.26,158.31 L309.65,152.80 L310.05,147.21 L310.44,141.65 L310.84,136.20 L311.23,130.98 L311.63,126.06 L312.02,121.11 L312.42,115.87 L312.81,110.42 L313.21,104.82 L313.60,99.13 L314.00,93.42 L314.39,87.77 L314.79,82.22 L315.18,76.86 L315.58,71.75 L315.97,66.95 L316.37,62.53 L316.76,58.56 L317.16,55.10 L317.55,51.93 L317.95,48.96 L318.35,46.29 L318.74,44.00 L319.14,42.22 L319.53,41.03 L319.93,40.53 L320.32,40.75 L320.72,41.41 L321.11,42.42 L321.51,43.74 L321.90,45.30 L322.30,47.06 L322.69,48.96 L323.09,50.95 L323.48,53.11 L323.88,55.48 L324.27,58.05 L324.67,60.78 L325.06,63.66 L325.46,66.67 L325.85,69.77 L326.25,72.95 L326.64,76.18 L327.04,79.66 L327.43,83.43 L327.83,87.40 L328.22,91.48 L328.62,95.58 L329.02,99.59 L329.41,103.45 L329.81,107.04 L330.20,110.32 L330.60,113.45 L330.99,116.47 L331.39,119.33 L331.78,122.02 L332.18,124.51 L332.57,126.79 L332.97,129.03 L333.36,131.30 L333.76,133.56 L334.15,135.77 L334.55,137.90 L334.94,139.90 L335.34,141.75 L335.73,143.41 L336.13,144.83 L336.52,145.98 L336.92,146.83 L337.31,147.57 L337.71,148.29 L338.10,148.99 L338.50,149.66 L338.89,150.29 L339.29,150.86 L339.69,151.39 L340.08,151.84 L340.48,152.22 L340.87,152.52 L341.27,152.73 L341.66,152.84 L342.06,152.84 L342.45,152.73 L342.85,152.55 L343.24,152.32 L343.64,152.05 L344.03,151.74 L344.43,151.39 L344.82,150.99 L345.22,150.56 L345.61,150.09 L346.01,149.59 L346.40,149.05 L346.80,148.47 L347.19,147.87 L347.59,147.23 L347.98,146.56 L348.38,145.86 L348.77,145.14 L349.17,144.36 L349.57,143.54 L349.96,142.67 L350.36,141.75 L350.75,140.79 L351.15,139.79 L351.54,138.76 L351.94,137.69 L352.33,136.60 L352.73,135.48 L353.12,134.33 L353.52,133.17 L353.91,131.99 L354.31,130.80 L354.70,129.60 L355.10,128.39 L355.49,127.18 L355.89,125.97 L356.28,124.76 L356.68,123.55 L357.07,122.36 L357.47,121.18 L357.86,120.02 L358.26,118.87 L358.65,117.75 L359.05,116.65 L359.44,115.58 L359.84,114.54 L360.24,113.54 L360.63,112.57 L361.03,111.59 L361.42,110.59 L361.82,109.56 L362.21,108.52 L362.61,107.47 L363.00,106.40 L363.40,105.34 L363.79,104.27 L364.19,103.22 L364.58,102.17 L364.98,101.13 L365.37,100.12 L365.77,99.12 L366.16,98.15 L366.56,97.22 L366.95,96.32 L367.35,95.46 L367.74,94.64 L368.14,93.87 L368.53,93.16 L368.93,92.50 L369.32,91.90 L369.72,91.37 L370.12,90.91 L370.51,90.52 L370.91,90.22 L371.30,89.99 L371.70,89.86 L372.09,89.83 L372.49,89.91 L372.88,90.08 L373.28,90.34 L373.67,90.69 L374.07,91.11 L374.46,91.59 L374.86,92.14 L375.25,92.73 L375.65,93.36 L376.04,94.03 L376.44,94.72 L376.83,95.43 L377.23,96.15 L377.62,96.87 L378.02,97.59 L378.41,98.30 L378.81,99.03 L379.20,99.79 L379.60,100.59 L379.99,101.40 L380.39,102.25 L380.79,103.11 L381.18,104.00 L381.58,104.90 L381.97,105.82 L382.37,106.75 L382.76,107.70 L383.16,108.65 L383.55,109.61 L383.95,110.57 L384.34,111.53 L384.74,112.50 L385.13,113.46 L385.53,114.42 L385.92,115.37 L386.32,116.31 L386.71,117.24 L387.11,118.16 L387.50,119.06 L387.90,119.94 L388.29,120.80 L388.69,121.64 L389.08,122.45 L389.48,123.24 L389.87,124.00 L390.27,124.72 L390.66,125.42 L391.06,126.07 L391.46,126.69 L391.85,127.31 L392.25,127.92 L392.64,128.53 L393.04,129.14 L393.43,129.74 L393.83,130.34 L394.22,130.93 L394.62,131.51 L395.01,132.09 L395.41,132.65 L395.80,133.21 L396.20,133.76 L396.59,134.30 L396.99,134.82 L397.38,135.33 L397.78,135.83 L398.17,136.32 L398.57,136.79 L398.96,137.24 L399.36,137.68 L399.75,138.10 L400.15,138.51 L400.54,138.89 L400.94,139.26 L401.34,139.60 L401.73,139.92 L402.13,140.22 L402.52,140.50 L402.92,140.75 L403.31,140.98 L403.71,141.19 L404.10,141.37 L404.50,141.55 L404.89,141.72 L405.29,141.90 L405.68,142.07 L406.08,142.25 L406.47,142.41 L406.87,142.58 L407.26,142.74 L407.66,142.90 L408.05,143.06 L408.45,143.21 L408.84,143.35 L409.24,143.49 L409.63,143.63 L410.03,143.76 L410.42,143.88 L410.82,143.99 L411.21,144.10 L411.61,144.20 L412.01,144.29 L412.40,144.38 L412.80,144.45 L413.19,144.52 L413.59,144.57 L413.98,144.62 L414.38,144.65 L414.77,144.68 L415.17,144.69 L415.56,144.70 L415.96,144.69 L416.35,144.66 L416.75,144.63 L417.14,144.59 L417.54,144.53 L417.93,144.47 L418.33,144.40 L418.72,144.33 L419.12,144.24 L419.51,144.14 L419.91,144.04 L420.30,143.93 L420.70,143.81 L421.09,143.68 L421.49,143.55 L421.88,143.40 L422.28,143.25 L422.68,143.09 L423.07,142.93 L423.47,142.76 L423.86,142.58 L424.26,142.39 L424.65,142.20 L425.05,142.00 L425.44,141.80 L425.84,141.59 L426.23,141.37 L426.63,141.14 L427.02,140.91 L427.42,140.68 L427.81,140.43 L428.21,140.17 L428.60,139.89 L429.00,139.59 L429.39,139.28 L429.79,138.95 L430.18,138.60 L430.58,138.25 L430.97,137.88 L431.37,137.50 L431.76,137.10 L432.16,136.70 L432.56,136.29 L432.95,135.87 L433.35,135.45 L433.74,135.01 L434.14,134.58 L434.53,134.14 L434.93,133.69 L435.32,133.24 L435.72,132.79 L436.11,132.34 L436.51,131.89 L436.90,131.45 L437.30,131.00 L437.69,130.56 L438.09,130.12 L438.48,129.68 L438.88,129.26 L439.27,128.83 L439.67,128.42 L440.06,128.01 L440.46,127.62 L440.85,127.23 L441.25,126.86 L441.64,126.49 L442.04,126.14 L442.43,125.77 L442.83,125.39 L443.23,125.00 L443.62,124.60 L444.02,124.19 L444.41,123.78 L444.81,123.36 L445.20,122.94 L445.60,122.52 L445.99,122.10 L446.39,121.68 L446.78,121.27 L447.18,120.86 L447.57,120.46 L447.97,120.07 L448.36,119.69 L448.76,119.32 L449.15,118.96 L449.55,118.62 L449.94,118.29 L450.34,117.99 L450.73,117.70 L451.13,117.43 L451.52,117.19 L451.92,116.97 L452.31,116.78 L452.71,116.61 L453.11,116.48 L453.50,116.37 L453.90,116.30 L454.29,116.26 L454.69,116.26 L455.08,116.29 L455.48,116.34 L455.87,116.42 L456.27,116.51 L456.66,116.63 L457.06,116.76 L457.45,116.91 L457.85,117.07 L458.24,117.24 L458.64,117.43 L459.03,117.62 L459.43,117.82 L459.82,118.02 L460.22,118.23 L460.61,118.44 L461.01,118.64 L461.40,118.85 L461.80,119.05 L462.19,119.25 L462.59,119.43 L462.98,119.61 L463.38,119.79 L463.78,119.97 L464.17,120.15 L464.57,120.34 L464.96,120.53 L465.36,120.73 L465.75,120.93 L466.15,121.13 L466.54,121.32 L466.94,121.52 L467.33,121.72 L467.73,121.91 L468.12,122.10 L468.52,122.29 L468.91,122.48 L469.31,122.65 L469.70,122.83 L470.10,122.99 L470.49,123.15 L470.89,123.30 L471.28,123.44 L471.68,123.56 L472.07,123.68 L472.47,123.79 L472.86,123.90 L473.26,124.01 L473.65,124.11 L474.05,124.21 L474.45,124.31 L474.84,124.41 L475.24,124.50 L475.63,124.59 L476.03,124.68 L476.42,124.77 L476.82,124.85 L477.21,124.93 L477.61,125.01 L478.00,125.08 L478.40,125.15 L478.79,125.22 L479.19,125.28 L479.58,125.35 L479.98,125.40 L480.37,125.46 L480.77,125.51 L481.16,125.56 L481.56,125.61 L481.95,125.65 L482.35,125.69 L482.74,125.72 L483.14,125.76 L483.53,125.79 L483.93,125.82 L484.33,125.86 L484.72,125.89 L485.12,125.92 L485.51,125.95 L485.91,125.99 L486.30,126.02 L486.70,126.05 L487.09,126.08 L487.49,126.11 L487.88,126.14 L488.28,126.17 L488.67,126.20 L489.07,126.22 L489.46,126.25 L489.86,126.27 L490.25,126.29 L490.65,126.31 L491.04,126.33 L491.44,126.34 L491.83,126.36 L492.23,126.37 L492.62,126.38 L493.02,126.39 L493.41,126.40 L493.81,126.40 L494.20,126.40 L494.60,126.40" fill="none" stroke="#e83c3c" stroke-width="1.3" stroke-linejoin="round" /><path d="M297.4,15.4 L494.9,15.4 L494.9,194.0 L297.4,194.0 Z" fill="none" stroke="#1a1a1a" stroke-width="1.5"/><line x1="297.40" y1="194.0" x2="297.40" y2="191.4" stroke="#1a1a1a" stroke-width="1.4"/><line x1="317.12" y1="194.0" x2="317.12" y2="192.1" stroke="#1a1a1a" stroke-width="1.4"/><line x1="336.84" y1="194.0" x2="336.84" y2="191.4" stroke="#1a1a1a" stroke-width="1.4"/><line x1="356.56" y1="194.0" x2="356.56" y2="192.1" stroke="#1a1a1a" stroke-width="1.4"/><line x1="376.28" y1="194.0" x2="376.28" y2="191.4" stroke="#1a1a1a" stroke-width="1.4"/><line x1="396.00" y1="194.0" x2="396.00" y2="192.1" stroke="#1a1a1a" stroke-width="1.4"/><line x1="415.72" y1="194.0" x2="415.72" y2="191.4" stroke="#1a1a1a" stroke-width="1.4"/><line x1="435.44" y1="194.0" x2="435.44" y2="192.1" stroke="#1a1a1a" stroke-width="1.4"/><line x1="455.16" y1="194.0" x2="455.16" y2="191.4" stroke="#1a1a1a" stroke-width="1.4"/><line x1="474.88" y1="194.0" x2="474.88" y2="192.1" stroke="#1a1a1a" stroke-width="1.4"/><line x1="494.60" y1="194.0" x2="494.60" y2="191.4" stroke="#1a1a1a" stroke-width="1.4"/><line x1="297.4" y1="194.00" x2="300.0" y2="194.00" stroke="#1a1a1a" stroke-width="1.4"/><line x1="297.4" y1="160.20" x2="299.29999999999995" y2="160.20" stroke="#1a1a1a" stroke-width="1.4"/><line x1="297.4" y1="126.40" x2="300.0" y2="126.40" stroke="#1a1a1a" stroke-width="1.4"/><line x1="297.4" y1="92.60" x2="299.29999999999995" y2="92.60" stroke="#1a1a1a" stroke-width="1.4"/><line x1="297.4" y1="58.80" x2="300.0" y2="58.80" stroke="#1a1a1a" stroke-width="1.4"/><line x1="297.4" y1="25.00" x2="299.29999999999995" y2="25.00" stroke="#1a1a1a" stroke-width="1.4"/><text x="297.40" y="206.70" font-size="11" text-anchor="middle" fill="#111" color="#111" >2</text><text x="336.84" y="206.70" font-size="11" text-anchor="middle" fill="#111" color="#111" >3</text><text x="376.28" y="206.70" font-size="11" text-anchor="middle" fill="#111" color="#111" >4</text><text x="415.72" y="206.70" font-size="11" text-anchor="middle" fill="#111" color="#111" >5</text><text x="455.16" y="206.70" font-size="11" text-anchor="middle" fill="#111" color="#111" >6</text><text x="494.60" y="206.70" font-size="11" text-anchor="middle" fill="#111" color="#111" >7</text><text x="293.00" y="197.00" font-size="11" text-anchor="end" fill="#111" color="#111" >0</text><text x="293.00" y="129.40" font-size="11" text-anchor="end" fill="#111" color="#111" >1</text><text x="293.00" y="61.80" font-size="11" text-anchor="end" fill="#111" color="#111" >2</text><text x="396.80" y="222.10" font-size="12.5" text-anchor="middle" fill="#111" color="#111" >Distance (Å)</text><text x="0" y="0" font-size="12.5" text-anchor="middle" fill="#111" color="#111" transform="translate(278.80,99.20) rotate(-90)">Total RDF</text><line x1="423" y1="25.4" x2="448" y2="25.4" stroke="#3c6ec8" stroke-width="1.2"/><text x="450.00" y="29.20" font-size="10.7" text-anchor="start" fill="#111" color="#111" >GSS1T4</text><line x1="423" y1="38.599999999999994" x2="448" y2="38.599999999999994" stroke="#6cc23a" stroke-width="1.2"/><text x="450.00" y="42.40" font-size="10.7" text-anchor="start" fill="#111" color="#111" >GSS2T3</text><line x1="423" y1="51.8" x2="448" y2="51.8" stroke="#f2b232" stroke-width="1.2"/><text x="450.00" y="55.60" font-size="10.7" text-anchor="start" fill="#111" color="#111" >GSS3T2</text><line x1="423" y1="65.0" x2="448" y2="65.0" stroke="#e83c3c" stroke-width="1.2"/><text x="450.00" y="68.80" font-size="10.7" text-anchor="start" fill="#111" color="#111" >GSS4T1</text><text x="2.50" y="222.50" font-size="13" text-anchor="start" fill="#111" color="#111" >(c)</text><line x1="50.6" y1="283.52" x2="247.0" y2="283.52" stroke="#111" stroke-width="1.2" stroke-dasharray="6,5.6"/><path d="M50.60,290.10 L51.09,290.10 L51.58,290.10 L52.08,290.10 L52.57,290.10 L53.06,290.10 L53.55,290.10 L54.05,290.10 L54.54,290.10 L55.03,290.10 L55.52,290.10 L56.01,290.10 L56.51,290.10 L57.00,290.10 L57.49,290.10 L57.98,290.10 L58.48,290.10 L58.97,290.10 L59.46,290.10 L59.95,290.10 L60.44,290.10 L60.94,290.10 L61.43,290.10 L61.92,290.10 L62.41,290.10 L62.91,290.10 L63.40,290.10 L63.89,290.10 L64.38,290.10 L64.87,290.09 L65.37,290.07 L65.86,290.04 L66.35,289.99 L66.84,289.93 L67.34,289.85 L67.83,289.76 L68.32,289.65 L68.81,289.52 L69.30,289.31 L69.80,288.72 L70.29,287.76 L70.78,286.51 L71.27,285.03 L71.77,283.40 L72.26,281.68 L72.75,279.96 L73.24,278.31 L73.73,276.79 L74.23,275.48 L74.72,274.19 L75.21,272.82 L75.70,271.42 L76.20,270.04 L76.69,268.73 L77.18,267.54 L77.67,266.53 L78.16,265.74 L78.66,265.22 L79.15,265.02 L79.64,265.04 L80.13,265.24 L80.63,265.60 L81.12,266.10 L81.61,266.71 L82.10,267.40 L82.59,268.15 L83.09,268.93 L83.58,269.72 L84.07,270.49 L84.56,271.36 L85.06,272.36 L85.55,273.45 L86.04,274.61 L86.53,275.78 L87.03,276.95 L87.52,278.06 L88.01,279.09 L88.50,279.99 L88.99,280.73 L89.49,281.28 L89.98,281.59 L90.47,281.82 L90.96,282.04 L91.46,282.25 L91.95,282.45 L92.44,282.65 L92.93,282.83 L93.42,283.01 L93.92,283.17 L94.41,283.33 L94.90,283.47 L95.39,283.61 L95.89,283.74 L96.38,283.86 L96.87,283.96 L97.36,284.06 L97.85,284.15 L98.35,284.23 L98.84,284.30 L99.33,284.36 L99.82,284.41 L100.32,284.45 L100.81,284.48 L101.30,284.50 L101.79,284.51 L102.28,284.52 L102.78,284.52 L103.27,284.53 L103.76,284.54 L104.25,284.54 L104.75,284.55 L105.24,284.56 L105.73,284.57 L106.22,284.57 L106.71,284.58 L107.21,284.59 L107.70,284.60 L108.19,284.60 L108.68,284.61 L109.18,284.62 L109.67,284.63 L110.16,284.63 L110.65,284.64 L111.14,284.65 L111.64,284.66 L112.13,284.66 L112.62,284.67 L113.11,284.68 L113.61,284.68 L114.10,284.69 L114.59,284.70 L115.08,284.71 L115.57,284.71 L116.07,284.72 L116.56,284.73 L117.05,284.73 L117.54,284.74 L118.04,284.75 L118.53,284.75 L119.02,284.76 L119.51,284.76 L120.00,284.77 L120.50,284.77 L120.99,284.78 L121.48,284.79 L121.97,284.79 L122.47,284.80 L122.96,284.80 L123.45,284.80 L123.94,284.81 L124.43,284.81 L124.93,284.82 L125.42,284.82 L125.91,284.82 L126.40,284.83 L126.90,284.83 L127.39,284.83 L127.88,284.83 L128.37,284.83 L128.86,284.84 L129.36,284.84 L129.85,284.84 L130.34,284.84 L130.83,284.84 L131.33,284.84 L131.82,284.84 L132.31,284.84 L132.80,284.85 L133.29,284.85 L133.79,284.85 L134.28,284.85 L134.77,284.85 L135.26,284.85 L135.76,284.85 L136.25,284.86 L136.74,284.86 L137.23,284.86 L137.72,284.86 L138.22,284.86 L138.71,284.86 L139.20,284.86 L139.69,284.87 L140.19,284.87 L140.68,284.87 L141.17,284.87 L141.66,284.87 L142.15,284.87 L142.65,284.88 L143.14,284.88 L143.63,284.88 L144.12,284.88 L144.62,284.88 L145.11,284.88 L145.60,284.88 L146.09,284.88 L146.58,284.89 L147.08,284.89 L147.57,284.89 L148.06,284.89 L148.55,284.89 L149.05,284.89 L149.54,284.89 L150.03,284.89 L150.52,284.89 L151.02,284.89 L151.51,284.89 L152.00,284.89 L152.49,284.89 L152.98,284.89 L153.48,284.89 L153.97,284.89 L154.46,284.89 L154.95,284.89 L155.45,284.89 L155.94,284.89 L156.43,284.89 L156.92,284.89 L157.41,284.89 L157.91,284.89 L158.40,284.89 L158.89,284.89 L159.38,284.89 L159.88,284.88 L160.37,284.88 L160.86,284.88 L161.35,284.88 L161.84,284.88 L162.34,284.88 L162.83,284.87 L163.32,284.87 L163.81,284.87 L164.31,284.87 L164.80,284.86 L165.29,284.86 L165.78,284.86 L166.27,284.85 L166.77,284.85 L167.26,284.85 L167.75,284.84 L168.24,284.84 L168.74,284.83 L169.23,284.83 L169.72,284.82 L170.21,284.81 L170.70,284.80 L171.20,284.79 L171.69,284.77 L172.18,284.76 L172.67,284.74 L173.17,284.72 L173.66,284.70 L174.15,284.68 L174.64,284.66 L175.13,284.64 L175.63,284.61 L176.12,284.59 L176.61,284.56 L177.10,284.54 L177.60,284.51 L178.09,284.48 L178.58,284.45 L179.07,284.42 L179.56,284.39 L180.06,284.36 L180.55,284.33 L181.04,284.29 L181.53,284.26 L182.03,284.23 L182.52,284.19 L183.01,284.16 L183.50,284.12 L183.99,284.09 L184.49,284.05 L184.98,284.02 L185.47,283.98 L185.96,283.95 L186.46,283.91 L186.95,283.87 L187.44,283.84 L187.93,283.80 L188.42,283.77 L188.92,283.73 L189.41,283.70 L189.90,283.66 L190.39,283.63 L190.89,283.60 L191.38,283.56 L191.87,283.53 L192.36,283.50 L192.85,283.46 L193.35,283.42 L193.84,283.38 L194.33,283.34 L194.82,283.29 L195.32,283.24 L195.81,283.20 L196.30,283.14 L196.79,283.09 L197.28,283.04 L197.78,282.99 L198.27,282.93 L198.76,282.88 L199.25,282.82 L199.75,282.76 L200.24,282.71 L200.73,282.65 L201.22,282.60 L201.71,282.54 L202.21,282.49 L202.70,282.44 L203.19,282.38 L203.68,282.33 L204.18,282.29 L204.67,282.24 L205.16,282.19 L205.65,282.15 L206.14,282.11 L206.64,282.07 L207.13,282.04 L207.62,282.01 L208.11,281.98 L208.61,281.95 L209.10,281.93 L209.59,281.91 L210.08,281.89 L210.57,281.88 L211.07,281.88 L211.56,281.87 L212.05,281.88 L212.54,281.88 L213.04,281.89 L213.53,281.90 L214.02,281.91 L214.51,281.92 L215.01,281.94 L215.50,281.95 L215.99,281.97 L216.48,281.99 L216.97,282.01 L217.47,282.04 L217.96,282.06 L218.45,282.09 L218.94,282.11 L219.44,282.14 L219.93,282.17 L220.42,282.20 L220.91,282.23 L221.40,282.26 L221.90,282.29 L222.39,282.33 L222.88,282.36 L223.37,282.39 L223.87,282.42 L224.36,282.46 L224.85,282.49 L225.34,282.52 L225.83,282.55 L226.33,282.59 L226.82,282.62 L227.31,282.65 L227.80,282.68 L228.30,282.71 L228.79,282.74 L229.28,282.76 L229.77,282.79 L230.26,282.81 L230.76,282.84 L231.25,282.86 L231.74,282.88 L232.23,282.90 L232.73,282.93 L233.22,282.95 L233.71,282.97 L234.20,282.99 L234.69,283.01 L235.19,283.03 L235.68,283.05 L236.17,283.08 L236.66,283.10 L237.16,283.12 L237.65,283.14 L238.14,283.16 L238.63,283.18 L239.12,283.20 L239.62,283.22 L240.11,283.25 L240.60,283.27 L241.09,283.29 L241.59,283.31 L242.08,283.33 L242.57,283.35 L243.06,283.37 L243.55,283.39 L244.05,283.41 L244.54,283.43 L245.03,283.45 L245.52,283.46 L246.02,283.48 L246.51,283.50 L247.00,283.52" fill="none" stroke="#e8b040" stroke-width="1.25" stroke-linejoin="round" /><path d="M50.60,290.10 L51.09,290.10 L51.58,290.10 L52.08,290.10 L52.57,290.10 L53.06,290.10 L53.55,290.10 L54.05,290.10 L54.54,290.10 L55.03,290.10 L55.52,290.10 L56.01,290.10 L56.51,290.10 L57.00,290.10 L57.49,290.10 L57.98,290.10 L58.48,290.10 L58.97,290.10 L59.46,290.10 L59.95,290.10 L60.44,290.10 L60.94,290.10 L61.43,290.10 L61.92,290.10 L62.41,290.10 L62.91,290.10 L63.40,290.10 L63.89,290.10 L64.38,290.10 L64.87,290.10 L65.37,290.10 L65.86,290.03 L66.35,289.82 L66.84,289.46 L67.34,288.93 L67.83,288.22 L68.32,286.99 L68.81,284.88 L69.30,282.08 L69.80,278.82 L70.29,275.30 L70.78,271.74 L71.27,268.35 L71.77,265.35 L72.26,262.46 L72.75,259.27 L73.24,256.09 L73.73,253.21 L74.23,250.93 L74.72,249.55 L75.21,249.30 L75.70,249.82 L76.20,250.89 L76.69,252.36 L77.18,254.04 L77.67,255.78 L78.16,257.42 L78.66,259.14 L79.15,261.03 L79.64,263.02 L80.13,265.01 L80.63,266.90 L81.12,268.62 L81.61,270.07 L82.10,271.17 L82.59,272.11 L83.09,273.02 L83.58,273.89 L84.07,274.73 L84.56,275.53 L85.06,276.28 L85.55,277.00 L86.04,277.66 L86.53,278.27 L87.03,278.84 L87.52,279.34 L88.01,279.78 L88.50,280.17 L88.99,280.49 L89.49,280.74 L89.98,280.92 L90.47,281.08 L90.96,281.24 L91.46,281.41 L91.95,281.57 L92.44,281.74 L92.93,281.90 L93.42,282.06 L93.92,282.22 L94.41,282.37 L94.90,282.53 L95.39,282.67 L95.89,282.81 L96.38,282.95 L96.87,283.08 L97.36,283.20 L97.85,283.32 L98.35,283.42 L98.84,283.52 L99.33,283.60 L99.82,283.68 L100.32,283.74 L100.81,283.79 L101.30,283.83 L101.79,283.85 L102.28,283.88 L102.78,283.90 L103.27,283.92 L103.76,283.94 L104.25,283.96 L104.75,283.98 L105.24,284.00 L105.73,284.03 L106.22,284.05 L106.71,284.07 L107.21,284.09 L107.70,284.12 L108.19,284.14 L108.68,284.16 L109.18,284.18 L109.67,284.21 L110.16,284.23 L110.65,284.25 L111.14,284.27 L111.64,284.29 L112.13,284.32 L112.62,284.34 L113.11,284.36 L113.61,284.38 L114.10,284.40 L114.59,284.42 L115.08,284.44 L115.57,284.46 L116.07,284.48 L116.56,284.50 L117.05,284.52 L117.54,284.54 L118.04,284.56 L118.53,284.58 L119.02,284.60 L119.51,284.61 L120.00,284.63 L120.50,284.65 L120.99,284.66 L121.48,284.68 L121.97,284.69 L122.47,284.71 L122.96,284.72 L123.45,284.73 L123.94,284.75 L124.43,284.76 L124.93,284.77 L125.42,284.78 L125.91,284.79 L126.40,284.80 L126.90,284.81 L127.39,284.82 L127.88,284.82 L128.37,284.83 L128.86,284.83 L129.36,284.84 L129.85,284.84 L130.34,284.85 L130.83,284.85 L131.33,284.86 L131.82,284.86 L132.31,284.87 L132.80,284.87 L133.29,284.88 L133.79,284.88 L134.28,284.89 L134.77,284.89 L135.26,284.90 L135.76,284.90 L136.25,284.91 L136.74,284.91 L137.23,284.92 L137.72,284.92 L138.22,284.93 L138.71,284.93 L139.20,284.94 L139.69,284.94 L140.19,284.95 L140.68,284.95 L141.17,284.96 L141.66,284.96 L142.15,284.97 L142.65,284.97 L143.14,284.97 L143.63,284.98 L144.12,284.98 L144.62,284.99 L145.11,284.99 L145.60,285.00 L146.09,285.00 L146.58,285.00 L147.08,285.01 L147.57,285.01 L148.06,285.02 L148.55,285.02 L149.05,285.02 L149.54,285.03 L150.03,285.03 L150.52,285.03 L151.02,285.03 L151.51,285.04 L152.00,285.04 L152.49,285.04 L152.98,285.04 L153.48,285.04 L153.97,285.05 L154.46,285.05 L154.95,285.05 L155.45,285.05 L155.94,285.05 L156.43,285.05 L156.92,285.05 L157.41,285.05 L157.91,285.05 L158.40,285.05 L158.89,285.05 L159.38,285.05 L159.88,285.05 L160.37,285.04 L160.86,285.04 L161.35,285.04 L161.84,285.04 L162.34,285.03 L162.83,285.03 L163.32,285.03 L163.81,285.02 L164.31,285.02 L164.80,285.01 L165.29,285.01 L165.78,285.00 L166.27,285.00 L166.77,284.99 L167.26,284.98 L167.75,284.98 L168.24,284.97 L168.74,284.96 L169.23,284.95 L169.72,284.94 L170.21,284.93 L170.70,284.92 L171.20,284.91 L171.69,284.89 L172.18,284.88 L172.67,284.86 L173.17,284.85 L173.66,284.83 L174.15,284.81 L174.64,284.79 L175.13,284.77 L175.63,284.75 L176.12,284.73 L176.61,284.71 L177.10,284.69 L177.60,284.66 L178.09,284.64 L178.58,284.62 L179.07,284.59 L179.56,284.57 L180.06,284.54 L180.55,284.51 L181.04,284.49 L181.53,284.46 L182.03,284.43 L182.52,284.41 L183.01,284.38 L183.50,284.35 L183.99,284.32 L184.49,284.29 L184.98,284.26 L185.47,284.23 L185.96,284.21 L186.46,284.18 L186.95,284.15 L187.44,284.12 L187.93,284.09 L188.42,284.06 L188.92,284.03 L189.41,284.00 L189.90,283.97 L190.39,283.94 L190.89,283.91 L191.38,283.89 L191.87,283.86 L192.36,283.83 L192.85,283.80 L193.35,283.76 L193.84,283.73 L194.33,283.69 L194.82,283.65 L195.32,283.61 L195.81,283.57 L196.30,283.53 L196.79,283.48 L197.28,283.44 L197.78,283.39 L198.27,283.34 L198.76,283.29 L199.25,283.25 L199.75,283.20 L200.24,283.15 L200.73,283.10 L201.22,283.05 L201.71,283.00 L202.21,282.94 L202.70,282.89 L203.19,282.84 L203.68,282.80 L204.18,282.75 L204.67,282.70 L205.16,282.65 L205.65,282.61 L206.14,282.56 L206.64,282.52 L207.13,282.47 L207.62,282.43 L208.11,282.39 L208.61,282.35 L209.10,282.32 L209.59,282.28 L210.08,282.25 L210.57,282.22 L211.07,282.19 L211.56,282.17 L212.05,282.15 L212.54,282.13 L213.04,282.11 L213.53,282.10 L214.02,282.09 L214.51,282.08 L215.01,282.07 L215.50,282.07 L215.99,282.07 L216.48,282.08 L216.97,282.09 L217.47,282.10 L217.96,282.11 L218.45,282.13 L218.94,282.15 L219.44,282.17 L219.93,282.19 L220.42,282.21 L220.91,282.24 L221.40,282.26 L221.90,282.29 L222.39,282.32 L222.88,282.35 L223.37,282.38 L223.87,282.41 L224.36,282.45 L224.85,282.48 L225.34,282.51 L225.83,282.54 L226.33,282.58 L226.82,282.61 L227.31,282.64 L227.80,282.67 L228.30,282.70 L228.79,282.73 L229.28,282.76 L229.77,282.79 L230.26,282.81 L230.76,282.84 L231.25,282.86 L231.74,282.88 L232.23,282.90 L232.73,282.93 L233.22,282.95 L233.71,282.97 L234.20,282.99 L234.69,283.01 L235.19,283.03 L235.68,283.06 L236.17,283.08 L236.66,283.10 L237.16,283.12 L237.65,283.14 L238.14,283.16 L238.63,283.18 L239.12,283.20 L239.62,283.22 L240.11,283.25 L240.60,283.27 L241.09,283.29 L241.59,283.31 L242.08,283.33 L242.57,283.35 L243.06,283.37 L243.55,283.39 L244.05,283.41 L244.54,283.43 L245.03,283.45 L245.52,283.46 L246.02,283.48 L246.51,283.50 L247.00,283.52" fill="none" stroke="#9ad848" stroke-width="1.25" stroke-linejoin="round" /><path d="M50.60,290.10 L51.09,290.10 L51.58,290.10 L52.08,290.10 L52.57,290.10 L53.06,290.10 L53.55,290.10 L54.05,290.10 L54.54,290.10 L55.03,290.10 L55.52,290.10 L56.01,290.10 L56.51,290.10 L57.00,290.10 L57.49,290.03 L57.98,289.77 L58.48,289.34 L58.97,288.76 L59.46,288.02 L59.95,287.13 L60.44,286.10 L60.94,284.55 L61.43,282.30 L61.92,279.51 L62.41,276.32 L62.91,272.89 L63.40,269.37 L63.89,265.92 L64.38,262.69 L64.87,259.82 L65.37,257.39 L65.86,254.92 L66.35,252.42 L66.84,250.01 L67.34,247.83 L67.83,245.99 L68.32,244.62 L68.81,243.84 L69.30,243.76 L69.80,244.27 L70.29,245.27 L70.78,246.65 L71.27,248.29 L71.77,250.11 L72.26,251.98 L72.75,253.84 L73.24,255.92 L73.73,258.24 L74.23,260.68 L74.72,263.12 L75.21,265.43 L75.70,267.51 L76.20,269.25 L76.69,270.83 L77.18,272.39 L77.67,273.92 L78.16,275.41 L78.66,276.83 L79.15,278.16 L79.64,279.38 L80.13,280.48 L80.63,281.43 L81.12,282.22 L81.61,282.83 L82.10,283.24 L82.59,283.58 L83.09,283.92 L83.58,284.26 L84.07,284.59 L84.56,284.90 L85.06,285.21 L85.55,285.50 L86.04,285.76 L86.53,286.01 L87.03,286.23 L87.52,286.42 L88.01,286.57 L88.50,286.69 L88.99,286.78 L89.49,286.81 L89.98,286.81 L90.47,286.78 L90.96,286.76 L91.46,286.73 L91.95,286.70 L92.44,286.67 L92.93,286.65 L93.42,286.62 L93.92,286.58 L94.41,286.55 L94.90,286.52 L95.39,286.49 L95.89,286.46 L96.38,286.43 L96.87,286.40 L97.36,286.37 L97.85,286.34 L98.35,286.31 L98.84,286.28 L99.33,286.26 L99.82,286.23 L100.32,286.21 L100.81,286.19 L101.30,286.17 L101.79,286.15 L102.28,286.13 L102.78,286.11 L103.27,286.09 L103.76,286.07 L104.25,286.05 L104.75,286.03 L105.24,286.02 L105.73,286.00 L106.22,285.98 L106.71,285.96 L107.21,285.94 L107.70,285.92 L108.19,285.90 L108.68,285.88 L109.18,285.86 L109.67,285.84 L110.16,285.82 L110.65,285.80 L111.14,285.78 L111.64,285.76 L112.13,285.74 L112.62,285.72 L113.11,285.70 L113.61,285.69 L114.10,285.67 L114.59,285.65 L115.08,285.63 L115.57,285.61 L116.07,285.59 L116.56,285.57 L117.05,285.55 L117.54,285.54 L118.04,285.52 L118.53,285.50 L119.02,285.48 L119.51,285.46 L120.00,285.45 L120.50,285.43 L120.99,285.41 L121.48,285.39 L121.97,285.38 L122.47,285.36 L122.96,285.34 L123.45,285.33 L123.94,285.31 L124.43,285.30 L124.93,285.28 L125.42,285.27 L125.91,285.25 L126.40,285.24 L126.90,285.22 L127.39,285.21 L127.88,285.20 L128.37,285.18 L128.86,285.17 L129.36,285.16 L129.85,285.15 L130.34,285.14 L130.83,285.13 L131.33,285.12 L131.82,285.11 L132.31,285.10 L132.80,285.09 L133.29,285.08 L133.79,285.08 L134.28,285.07 L134.77,285.06 L135.26,285.06 L135.76,285.05 L136.25,285.05 L136.74,285.04 L137.23,285.04 L137.72,285.03 L138.22,285.03 L138.71,285.03 L139.20,285.03 L139.69,285.02 L140.19,285.02 L140.68,285.02 L141.17,285.02 L141.66,285.02 L142.15,285.01 L142.65,285.01 L143.14,285.01 L143.63,285.01 L144.12,285.01 L144.62,285.01 L145.11,285.01 L145.60,285.01 L146.09,285.01 L146.58,285.01 L147.08,285.01 L147.57,285.01 L148.06,285.01 L148.55,285.01 L149.05,285.01 L149.54,285.01 L150.03,285.01 L150.52,285.01 L151.02,285.01 L151.51,285.01 L152.00,285.01 L152.49,285.01 L152.98,285.01 L153.48,285.01 L153.97,285.01 L154.46,285.01 L154.95,285.01 L155.45,285.01 L155.94,285.00 L156.43,285.00 L156.92,285.00 L157.41,285.00 L157.91,285.00 L158.40,284.99 L158.89,284.99 L159.38,284.99 L159.88,284.98 L160.37,284.98 L160.86,284.97 L161.35,284.97 L161.84,284.96 L162.34,284.95 L162.83,284.95 L163.32,284.94 L163.81,284.93 L164.31,284.93 L164.80,284.92 L165.29,284.91 L165.78,284.90 L166.27,284.89 L166.77,284.88 L167.26,284.87 L167.75,284.85 L168.24,284.84 L168.74,284.83 L169.23,284.81 L169.72,284.80 L170.21,284.78 L170.70,284.76 L171.20,284.74 L171.69,284.71 L172.18,284.69 L172.67,284.66 L173.17,284.64 L173.66,284.61 L174.15,284.58 L174.64,284.55 L175.13,284.52 L175.63,284.49 L176.12,284.45 L176.61,284.42 L177.10,284.39 L177.60,284.35 L178.09,284.31 L178.58,284.28 L179.07,284.24 L179.56,284.20 L180.06,284.16 L180.55,284.12 L181.04,284.09 L181.53,284.05 L182.03,284.01 L182.52,283.97 L183.01,283.93 L183.50,283.89 L183.99,283.85 L184.49,283.81 L184.98,283.77 L185.47,283.73 L185.96,283.69 L186.46,283.65 L186.95,283.61 L187.44,283.57 L187.93,283.53 L188.42,283.49 L188.92,283.45 L189.41,283.41 L189.90,283.36 L190.39,283.31 L190.89,283.26 L191.38,283.21 L191.87,283.15 L192.36,283.09 L192.85,283.04 L193.35,282.98 L193.84,282.92 L194.33,282.85 L194.82,282.79 L195.32,282.73 L195.81,282.67 L196.30,282.61 L196.79,282.54 L197.28,282.48 L197.78,282.42 L198.27,282.36 L198.76,282.30 L199.25,282.25 L199.75,282.19 L200.24,282.14 L200.73,282.09 L201.22,282.04 L201.71,281.99 L202.21,281.94 L202.70,281.90 L203.19,281.86 L203.68,281.83 L204.18,281.79 L204.67,281.76 L205.16,281.74 L205.65,281.72 L206.14,281.70 L206.64,281.69 L207.13,281.68 L207.62,281.68 L208.11,281.68 L208.61,281.68 L209.10,281.69 L209.59,281.69 L210.08,281.70 L210.57,281.72 L211.07,281.73 L211.56,281.74 L212.05,281.76 L212.54,281.78 L213.04,281.80 L213.53,281.82 L214.02,281.84 L214.51,281.86 L215.01,281.89 L215.50,281.91 L215.99,281.94 L216.48,281.96 L216.97,281.99 L217.47,282.02 L217.96,282.04 L218.45,282.07 L218.94,282.10 L219.44,282.13 L219.93,282.16 L220.42,282.19 L220.91,282.21 L221.40,282.24 L221.90,282.27 L222.39,282.30 L222.88,282.33 L223.37,282.35 L223.87,282.38 L224.36,282.40 L224.85,282.43 L225.34,282.45 L225.83,282.47 L226.33,282.49 L226.82,282.51 L227.31,282.53 L227.80,282.55 L228.30,282.57 L228.79,282.58 L229.28,282.60 L229.77,282.62 L230.26,282.64 L230.76,282.65 L231.25,282.67 L231.74,282.69 L232.23,282.71 L232.73,282.72 L233.22,282.74 L233.71,282.76 L234.20,282.78 L234.69,282.80 L235.19,282.81 L235.68,282.83 L236.17,282.85 L236.66,282.86 L237.16,282.88 L237.65,282.90 L238.14,282.92 L238.63,282.93 L239.12,282.95 L239.62,282.97 L240.11,282.98 L240.60,283.00 L241.09,283.01 L241.59,283.03 L242.08,283.05 L242.57,283.06 L243.06,283.08 L243.55,283.09 L244.05,283.11 L244.54,283.12 L245.03,283.14 L245.52,283.15 L246.02,283.16 L246.51,283.18 L247.00,283.19" fill="none" stroke="#f08030" stroke-width="1.25" stroke-linejoin="round" /><path d="M50.60,290.10 L51.09,290.10 L51.58,290.10 L52.08,290.10 L52.57,290.10 L53.06,290.10 L53.55,290.10 L54.05,290.10 L54.54,290.10 L55.03,290.10 L55.52,290.10 L56.01,290.10 L56.51,290.10 L57.00,290.10 L57.49,290.10 L57.98,290.10 L58.48,290.10 L58.97,290.10 L59.46,290.10 L59.95,290.10 L60.44,290.10 L60.94,290.10 L61.43,290.10 L61.92,290.10 L62.41,290.10 L62.91,290.10 L63.40,290.10 L63.89,290.10 L64.38,290.10 L64.87,290.10 L65.37,290.10 L65.86,290.10 L66.35,290.10 L66.84,290.10 L67.34,290.10 L67.83,290.10 L68.32,290.10 L68.81,290.10 L69.30,290.10 L69.80,290.10 L70.29,290.10 L70.78,290.10 L71.27,290.10 L71.77,290.10 L72.26,290.09 L72.75,289.92 L73.24,289.61 L73.73,289.16 L74.23,288.58 L74.72,287.86 L75.21,286.95 L75.70,285.58 L76.20,283.80 L76.69,281.70 L77.18,279.35 L77.67,276.83 L78.16,274.24 L78.66,271.66 L79.15,269.17 L79.64,266.86 L80.13,264.80 L80.63,262.68 L81.12,260.39 L81.61,258.05 L82.10,255.79 L82.59,253.75 L83.09,252.05 L83.58,250.82 L84.07,250.19 L84.56,250.29 L85.06,251.20 L85.55,252.74 L86.04,254.71 L86.53,256.90 L87.03,259.11 L87.52,261.12 L88.01,262.74 L88.50,264.25 L88.99,265.79 L89.49,267.32 L89.98,268.80 L90.47,270.16 L90.96,271.37 L91.46,272.38 L91.95,273.13 L92.44,273.78 L92.93,274.38 L93.42,274.94 L93.92,275.45 L94.41,275.90 L94.90,276.31 L95.39,276.65 L95.89,276.94 L96.38,277.16 L96.87,277.38 L97.36,277.60 L97.85,277.82 L98.35,278.03 L98.84,278.25 L99.33,278.47 L99.82,278.69 L100.32,278.90 L100.81,279.11 L101.30,279.32 L101.79,279.53 L102.28,279.73 L102.78,279.93 L103.27,280.13 L103.76,280.32 L104.25,280.51 L104.75,280.69 L105.24,280.86 L105.73,281.03 L106.22,281.19 L106.71,281.34 L107.21,281.49 L107.70,281.63 L108.19,281.76 L108.68,281.88 L109.18,281.99 L109.67,282.09 L110.16,282.18 L110.65,282.28 L111.14,282.37 L111.64,282.46 L112.13,282.56 L112.62,282.65 L113.11,282.75 L113.61,282.85 L114.10,282.94 L114.59,283.04 L115.08,283.13 L115.57,283.23 L116.07,283.33 L116.56,283.42 L117.05,283.51 L117.54,283.61 L118.04,283.70 L118.53,283.79 L119.02,283.88 L119.51,283.97 L120.00,284.05 L120.50,284.14 L120.99,284.22 L121.48,284.30 L121.97,284.37 L122.47,284.45 L122.96,284.52 L123.45,284.59 L123.94,284.66 L124.43,284.72 L124.93,284.78 L125.42,284.84 L125.91,284.89 L126.40,284.94 L126.90,284.98 L127.39,285.02 L127.88,285.06 L128.37,285.09 L128.86,285.12 L129.36,285.14 L129.85,285.16 L130.34,285.18 L130.83,285.19 L131.33,285.21 L131.82,285.22 L132.31,285.24 L132.80,285.25 L133.29,285.26 L133.79,285.28 L134.28,285.29 L134.77,285.31 L135.26,285.32 L135.76,285.34 L136.25,285.35 L136.74,285.36 L137.23,285.38 L137.72,285.39 L138.22,285.40 L138.71,285.41 L139.20,285.43 L139.69,285.44 L140.19,285.45 L140.68,285.46 L141.17,285.47 L141.66,285.48 L142.15,285.50 L142.65,285.51 L143.14,285.52 L143.63,285.53 L144.12,285.54 L144.62,285.55 L145.11,285.55 L145.60,285.56 L146.09,285.57 L146.58,285.58 L147.08,285.59 L147.57,285.59 L148.06,285.60 L148.55,285.61 L149.05,285.61 L149.54,285.62 L150.03,285.62 L150.52,285.63 L151.02,285.63 L151.51,285.63 L152.00,285.64 L152.49,285.64 L152.98,285.64 L153.48,285.64 L153.97,285.64 L154.46,285.64 L154.95,285.64 L155.45,285.64 L155.94,285.64 L156.43,285.64 L156.92,285.63 L157.41,285.63 L157.91,285.62 L158.40,285.62 L158.89,285.61 L159.38,285.61 L159.88,285.60 L160.37,285.59 L160.86,285.59 L161.35,285.58 L161.84,285.57 L162.34,285.56 L162.83,285.55 L163.32,285.53 L163.81,285.52 L164.31,285.51 L164.80,285.49 L165.29,285.48 L165.78,285.46 L166.27,285.45 L166.77,285.43 L167.26,285.41 L167.75,285.39 L168.24,285.37 L168.74,285.35 L169.23,285.33 L169.72,285.31 L170.21,285.28 L170.70,285.26 L171.20,285.24 L171.69,285.21 L172.18,285.18 L172.67,285.16 L173.17,285.13 L173.66,285.11 L174.15,285.08 L174.64,285.05 L175.13,285.02 L175.63,284.99 L176.12,284.96 L176.61,284.93 L177.10,284.90 L177.60,284.87 L178.09,284.84 L178.58,284.81 L179.07,284.77 L179.56,284.74 L180.06,284.71 L180.55,284.68 L181.04,284.64 L181.53,284.61 L182.03,284.57 L182.52,284.54 L183.01,284.51 L183.50,284.47 L183.99,284.44 L184.49,284.40 L184.98,284.37 L185.47,284.33 L185.96,284.29 L186.46,284.26 L186.95,284.22 L187.44,284.19 L187.93,284.15 L188.42,284.11 L188.92,284.08 L189.41,284.04 L189.90,284.00 L190.39,283.97 L190.89,283.93 L191.38,283.90 L191.87,283.86 L192.36,283.82 L192.85,283.78 L193.35,283.74 L193.84,283.70 L194.33,283.65 L194.82,283.61 L195.32,283.56 L195.81,283.51 L196.30,283.46 L196.79,283.40 L197.28,283.35 L197.78,283.29 L198.27,283.24 L198.76,283.18 L199.25,283.12 L199.75,283.06 L200.24,283.01 L200.73,282.95 L201.22,282.89 L201.71,282.83 L202.21,282.77 L202.70,282.71 L203.19,282.65 L203.68,282.59 L204.18,282.53 L204.67,282.47 L205.16,282.42 L205.65,282.36 L206.14,282.30 L206.64,282.25 L207.13,282.19 L207.62,282.14 L208.11,282.09 L208.61,282.04 L209.10,281.99 L209.59,281.95 L210.08,281.90 L210.57,281.86 L211.07,281.82 L211.56,281.78 L212.05,281.75 L212.54,281.72 L213.04,281.69 L213.53,281.66 L214.02,281.63 L214.51,281.61 L215.01,281.59 L215.50,281.58 L215.99,281.56 L216.48,281.55 L216.97,281.55 L217.47,281.55 L217.96,281.55 L218.45,281.55 L218.94,281.56 L219.44,281.58 L219.93,281.60 L220.42,281.62 L220.91,281.64 L221.40,281.67 L221.90,281.70 L222.39,281.73 L222.88,281.77 L223.37,281.80 L223.87,281.84 L224.36,281.89 L224.85,281.93 L225.34,281.97 L225.83,282.02 L226.33,282.07 L226.82,282.11 L227.31,282.16 L227.80,282.21 L228.30,282.26 L228.79,282.31 L229.28,282.36 L229.77,282.41 L230.26,282.45 L230.76,282.50 L231.25,282.55 L231.74,282.59 L232.23,282.64 L232.73,282.68 L233.22,282.72 L233.71,282.76 L234.20,282.79 L234.69,282.83 L235.19,282.86 L235.68,282.89 L236.17,282.92 L236.66,282.95 L237.16,282.98 L237.65,283.01 L238.14,283.04 L238.63,283.07 L239.12,283.10 L239.62,283.13 L240.11,283.16 L240.60,283.19 L241.09,283.22 L241.59,283.24 L242.08,283.27 L242.57,283.30 L243.06,283.33 L243.55,283.35 L244.05,283.38 L244.54,283.40 L245.03,283.43 L245.52,283.45 L246.02,283.48 L246.51,283.50 L247.00,283.52" fill="none" stroke="#20c090" stroke-width="1.25" stroke-linejoin="round" /><path d="M110.3 374.8h1.7v1.7h-1.7zM139.8 377.9h1.7v1.7h-1.7zM89.8 366.8h1.7v1.7h-1.7zM90.8 369.1h1.7v1.7h-1.7zM87.9 366.8h1.7v1.7h-1.7zM92.0 370.6h1.7v1.7h-1.7zM91.0 369.7h1.7v1.7h-1.7zM90.8 368.9h1.7v1.7h-1.7zM88.5 362.7h1.7v1.7h-1.7zM142.0 381.6h1.7v1.7h-1.7zM121.0 375.1h1.7v1.7h-1.7zM108.0 380.1h1.7v1.7h-1.7zM137.8 376.4h1.7v1.7h-1.7zM146.4 379.9h1.7v1.7h-1.7zM94.7 374.5h1.7v1.7h-1.7zM126.3 377.7h1.7v1.7h-1.7zM100.2 376.5h1.7v1.7h-1.7zM95.6 376.9h1.7v1.7h-1.7zM122.6 375.5h1.7v1.7h-1.7zM93.9 370.5h1.7v1.7h-1.7zM89.5 365.1h1.7v1.7h-1.7zM91.3 370.0h1.7v1.7h-1.7zM100.7 376.1h1.7v1.7h-1.7zM144.5 382.2h1.7v1.7h-1.7zM129.8 376.1h1.7v1.7h-1.7zM129.1 376.4h1.7v1.7h-1.7zM113.0 379.5h1.7v1.7h-1.7zM88.3 364.2h1.7v1.7h-1.7zM90.7 366.6h1.7v1.7h-1.7zM138.7 377.3h1.7v1.7h-1.7zM126.2 372.7h1.7v1.7h-1.7zM96.4 374.1h1.7v1.7h-1.7zM90.5 367.2h1.7v1.7h-1.7zM131.8 382.7h1.7v1.7h-1.7zM141.4 381.1h1.7v1.7h-1.7zM91.4 368.4h1.7v1.7h-1.7zM107.1 383.8h1.7v1.7h-1.7zM117.5 376.4h1.7v1.7h-1.7zM101.0 378.7h1.7v1.7h-1.7zM101.8 374.5h1.7v1.7h-1.7zM107.6 383.6h1.7v1.7h-1.7zM88.6 367.1h1.7v1.7h-1.7zM88.7 366.0h1.7v1.7h-1.7zM140.0 380.6h1.7v1.7h-1.7zM135.7 381.6h1.7v1.7h-1.7zM96.0 375.0h1.7v1.7h-1.7zM88.3 363.7h1.7v1.7h-1.7zM93.8 372.6h1.7v1.7h-1.7zM116.8 384.0h1.7v1.7h-1.7zM88.4 367.5h1.7v1.7h-1.7zM144.5 376.9h1.7v1.7h-1.7zM91.9 370.3h1.7v1.7h-1.7zM88.0 363.9h1.7v1.7h-1.7zM108.2 381.9h1.7v1.7h-1.7zM110.4 381.2h1.7v1.7h-1.7zM88.1 363.2h1.7v1.7h-1.7zM92.8 370.6h1.7v1.7h-1.7zM103.1 380.4h1.7v1.7h-1.7zM90.5 366.5h1.7v1.7h-1.7zM103.5 382.9h1.7v1.7h-1.7zM93.1 370.2h1.7v1.7h-1.7zM116.3 383.0h1.7v1.7h-1.7zM93.6 372.1h1.7v1.7h-1.7zM145.5 377.3h1.7v1.7h-1.7zM88.1 365.0h1.7v1.7h-1.7zM94.6 374.5h1.7v1.7h-1.7zM99.7 373.9h1.7v1.7h-1.7zM92.2 368.0h1.7v1.7h-1.7zM145.5 376.2h1.7v1.7h-1.7zM139.3 379.1h1.7v1.7h-1.7zM93.9 368.4h1.7v1.7h-1.7zM110.4 384.1h1.7v1.7h-1.7zM90.0 368.7h1.7v1.7h-1.7zM129.3 374.7h1.7v1.7h-1.7zM144.9 377.0h1.7v1.7h-1.7zM137.3 382.4h1.7v1.7h-1.7zM89.8 366.1h1.7v1.7h-1.7zM92.3 368.3h1.7v1.7h-1.7zM103.6 380.0h1.7v1.7h-1.7zM88.8 365.1h1.7v1.7h-1.7zM118.7 379.0h1.7v1.7h-1.7zM121.6 379.6h1.7v1.7h-1.7zM88.8 366.8h1.7v1.7h-1.7zM135.1 381.4h1.7v1.7h-1.7zM106.9 380.1h1.7v1.7h-1.7zM126.2 381.1h1.7v1.7h-1.7zM88.6 363.8h1.7v1.7h-1.7zM104.6 383.5h1.7v1.7h-1.7zM105.2 375.3h1.7v1.7h-1.7zM126.0 374.0h1.7v1.7h-1.7zM131.3 380.2h1.7v1.7h-1.7zM134.6 377.9h1.7v1.7h-1.7zM125.3 381.6h1.7v1.7h-1.7zM87.9 364.2h1.7v1.7h-1.7zM87.5 362.4h1.7v1.7h-1.7zM92.5 367.4h1.7v1.7h-1.7zM130.7 384.1h1.7v1.7h-1.7zM116.1 378.7h1.7v1.7h-1.7zM129.8 375.5h1.7v1.7h-1.7zM99.2 375.6h1.7v1.7h-1.7zM136.0 382.5h1.7v1.7h-1.7zM126.9 373.8h1.7v1.7h-1.7zM94.3 372.4h1.7v1.7h-1.7zM118.3 377.3h1.7v1.7h-1.7zM88.4 363.4h1.7v1.7h-1.7zM87.1 362.8h1.7v1.7h-1.7zM87.5 362.0h1.7v1.7h-1.7zM91.7 368.8h1.7v1.7h-1.7zM88.7 366.8h1.7v1.7h-1.7zM114.9 382.2h1.7v1.7h-1.7zM93.6 369.2h1.7v1.7h-1.7zM89.0 365.4h1.7v1.7h-1.7zM110.6 384.2h1.7v1.7h-1.7zM88.3 365.1h1.7v1.7h-1.7zM87.8 364.7h1.7v1.7h-1.7zM88.7 366.0h1.7v1.7h-1.7zM88.0 364.5h1.7v1.7h-1.7zM87.1 364.6h1.7v1.7h-1.7zM91.3 367.3h1.7v1.7h-1.7zM115.2 381.0h1.7v1.7h-1.7zM92.2 368.7h1.7v1.7h-1.7zM128.3 383.6h1.7v1.7h-1.7zM108.3 378.0h1.7v1.7h-1.7zM89.2 367.6h1.7v1.7h-1.7zM146.6 373.9h1.7v1.7h-1.7zM89.3 369.9h1.7v1.7h-1.7zM122.9 372.3h1.7v1.7h-1.7zM94.5 372.3h1.7v1.7h-1.7zM89.0 365.9h1.7v1.7h-1.7zM130.1 378.7h1.7v1.7h-1.7zM126.7 375.7h1.7v1.7h-1.7zM88.4 365.2h1.7v1.7h-1.7zM87.2 364.7h1.7v1.7h-1.7zM93.7 368.9h1.7v1.7h-1.7zM87.9 363.7h1.7v1.7h-1.7zM114.5 375.8h1.7v1.7h-1.7z" fill="#9ad848"/><path d="M145.0 373.7h1.7v1.7h-1.7zM149.1 373.4h1.7v1.7h-1.7zM98.1 371.5h1.7v1.7h-1.7zM91.7 358.9h1.7v1.7h-1.7zM97.1 367.9h1.7v1.7h-1.7zM96.0 369.2h1.7v1.7h-1.7zM90.8 360.7h1.7v1.7h-1.7zM99.4 375.9h1.7v1.7h-1.7zM107.4 376.3h1.7v1.7h-1.7zM90.0 356.9h1.7v1.7h-1.7zM117.7 374.8h1.7v1.7h-1.7zM88.1 355.0h1.7v1.7h-1.7zM99.6 368.7h1.7v1.7h-1.7zM112.6 379.6h1.7v1.7h-1.7zM97.3 371.4h1.7v1.7h-1.7zM101.2 372.4h1.7v1.7h-1.7zM104.2 379.3h1.7v1.7h-1.7zM97.1 370.8h1.7v1.7h-1.7zM87.3 352.3h1.7v1.7h-1.7zM143.2 379.9h1.7v1.7h-1.7zM91.7 361.4h1.7v1.7h-1.7zM98.9 371.8h1.7v1.7h-1.7zM151.5 375.7h1.7v1.7h-1.7zM117.0 380.9h1.7v1.7h-1.7zM123.8 378.8h1.7v1.7h-1.7zM123.4 381.3h1.7v1.7h-1.7zM91.4 361.0h1.7v1.7h-1.7zM98.1 372.5h1.7v1.7h-1.7zM122.7 382.5h1.7v1.7h-1.7zM135.1 374.8h1.7v1.7h-1.7zM111.4 379.5h1.7v1.7h-1.7zM151.8 376.8h1.7v1.7h-1.7zM120.9 377.5h1.7v1.7h-1.7zM100.2 375.5h1.7v1.7h-1.7zM108.0 375.4h1.7v1.7h-1.7zM149.9 376.2h1.7v1.7h-1.7zM98.3 371.7h1.7v1.7h-1.7zM126.4 376.8h1.7v1.7h-1.7zM87.1 352.9h1.7v1.7h-1.7zM98.7 369.1h1.7v1.7h-1.7zM108.4 373.1h1.7v1.7h-1.7zM90.0 359.9h1.7v1.7h-1.7zM96.8 371.8h1.7v1.7h-1.7zM152.8 376.4h1.7v1.7h-1.7zM117.7 372.5h1.7v1.7h-1.7zM88.9 355.4h1.7v1.7h-1.7zM155.6 375.5h1.7v1.7h-1.7zM100.6 376.4h1.7v1.7h-1.7zM92.2 361.3h1.7v1.7h-1.7zM92.0 361.7h1.7v1.7h-1.7zM95.7 365.3h1.7v1.7h-1.7zM87.2 352.5h1.7v1.7h-1.7zM93.9 366.7h1.7v1.7h-1.7zM93.8 362.1h1.7v1.7h-1.7zM90.5 359.0h1.7v1.7h-1.7zM95.1 369.5h1.7v1.7h-1.7zM118.4 380.8h1.7v1.7h-1.7zM109.5 373.2h1.7v1.7h-1.7zM115.1 375.0h1.7v1.7h-1.7zM97.6 373.5h1.7v1.7h-1.7zM94.0 366.1h1.7v1.7h-1.7zM117.9 382.2h1.7v1.7h-1.7zM94.5 366.1h1.7v1.7h-1.7zM87.2 350.7h1.7v1.7h-1.7zM92.8 362.5h1.7v1.7h-1.7zM96.0 365.3h1.7v1.7h-1.7zM89.2 355.9h1.7v1.7h-1.7zM140.3 381.7h1.7v1.7h-1.7zM115.7 380.4h1.7v1.7h-1.7zM90.4 356.9h1.7v1.7h-1.7zM92.6 364.1h1.7v1.7h-1.7zM88.9 355.6h1.7v1.7h-1.7zM95.2 368.5h1.7v1.7h-1.7zM88.8 354.5h1.7v1.7h-1.7zM108.9 381.4h1.7v1.7h-1.7zM139.0 379.4h1.7v1.7h-1.7zM88.1 351.2h1.7v1.7h-1.7zM95.1 370.3h1.7v1.7h-1.7zM97.2 370.8h1.7v1.7h-1.7zM94.5 370.2h1.7v1.7h-1.7zM151.2 377.8h1.7v1.7h-1.7zM134.6 383.6h1.7v1.7h-1.7zM119.0 380.4h1.7v1.7h-1.7zM91.7 359.2h1.7v1.7h-1.7zM96.4 370.1h1.7v1.7h-1.7zM98.4 372.6h1.7v1.7h-1.7zM89.7 360.0h1.7v1.7h-1.7zM113.6 376.6h1.7v1.7h-1.7zM97.0 371.2h1.7v1.7h-1.7zM135.0 378.9h1.7v1.7h-1.7zM96.5 371.6h1.7v1.7h-1.7zM117.9 379.0h1.7v1.7h-1.7zM90.9 357.7h1.7v1.7h-1.7zM95.7 366.6h1.7v1.7h-1.7zM96.3 370.7h1.7v1.7h-1.7zM95.2 366.0h1.7v1.7h-1.7zM120.0 377.2h1.7v1.7h-1.7zM124.6 380.5h1.7v1.7h-1.7zM113.0 379.2h1.7v1.7h-1.7zM98.8 370.1h1.7v1.7h-1.7zM94.6 367.6h1.7v1.7h-1.7zM103.6 377.6h1.7v1.7h-1.7zM143.1 378.2h1.7v1.7h-1.7zM144.3 376.5h1.7v1.7h-1.7zM90.7 360.5h1.7v1.7h-1.7zM95.9 372.2h1.7v1.7h-1.7zM148.0 375.2h1.7v1.7h-1.7z" fill="#20c090"/><path d="M69.2 330.4h1.8v1.8h-1.8zM67.0 328.0h1.8v1.8h-1.8zM85.6 369.1h1.8v1.8h-1.8zM131.9 377.1h1.8v1.8h-1.8zM84.6 366.4h1.8v1.8h-1.8zM69.9 321.7h1.8v1.8h-1.8zM124.8 383.6h1.8v1.8h-1.8zM84.4 362.6h1.8v1.8h-1.8zM102.7 375.2h1.8v1.8h-1.8zM80.0 353.4h1.8v1.8h-1.8zM74.9 355.9h1.8v1.8h-1.8zM95.2 370.2h1.8v1.8h-1.8zM80.1 365.9h1.8v1.8h-1.8zM103.1 380.7h1.8v1.8h-1.8zM90.2 371.9h1.8v1.8h-1.8zM215.3 371.2h1.8v1.8h-1.8zM80.9 352.8h1.8v1.8h-1.8zM129.2 383.0h1.8v1.8h-1.8zM124.6 372.5h1.8v1.8h-1.8zM66.8 318.1h1.8v1.8h-1.8zM76.6 350.4h1.8v1.8h-1.8zM70.4 338.7h1.8v1.8h-1.8zM66.0 327.7h1.8v1.8h-1.8zM235.2 370.5h1.8v1.8h-1.8zM99.1 373.1h1.8v1.8h-1.8zM113.5 382.5h1.8v1.8h-1.8zM150.6 375.5h1.8v1.8h-1.8zM79.4 364.8h1.8v1.8h-1.8zM91.2 372.4h1.8v1.8h-1.8zM68.3 316.2h1.8v1.8h-1.8zM71.0 350.9h1.8v1.8h-1.8zM122.2 379.3h1.8v1.8h-1.8zM218.0 372.4h1.8v1.8h-1.8zM67.6 329.7h1.8v1.8h-1.8zM116.2 377.7h1.8v1.8h-1.8zM73.0 350.7h1.8v1.8h-1.8zM98.2 375.5h1.8v1.8h-1.8zM122.6 379.4h1.8v1.8h-1.8zM79.5 354.1h1.8v1.8h-1.8zM113.8 374.9h1.8v1.8h-1.8zM132.9 375.6h1.8v1.8h-1.8zM111.2 380.3h1.8v1.8h-1.8zM120.2 381.9h1.8v1.8h-1.8zM83.6 363.0h1.8v1.8h-1.8zM110.8 378.5h1.8v1.8h-1.8zM139.2 380.1h1.8v1.8h-1.8zM65.7 309.0h1.8v1.8h-1.8zM230.3 371.7h1.8v1.8h-1.8zM83.2 363.8h1.8v1.8h-1.8zM132.5 375.7h1.8v1.8h-1.8zM66.5 308.1h1.8v1.8h-1.8zM108.5 374.1h1.8v1.8h-1.8zM86.9 367.2h1.8v1.8h-1.8zM193.3 371.2h1.8v1.8h-1.8zM76.5 347.9h1.8v1.8h-1.8zM133.9 378.6h1.8v1.8h-1.8zM89.1 368.0h1.8v1.8h-1.8zM103.3 375.0h1.8v1.8h-1.8zM87.8 361.6h1.8v1.8h-1.8zM86.3 365.3h1.8v1.8h-1.8zM130.2 379.3h1.8v1.8h-1.8zM130.9 372.2h1.8v1.8h-1.8zM135.3 378.3h1.8v1.8h-1.8zM149.2 377.2h1.8v1.8h-1.8zM75.1 338.9h1.8v1.8h-1.8zM169.4 372.0h1.8v1.8h-1.8zM79.1 358.6h1.8v1.8h-1.8zM205.6 371.5h1.8v1.8h-1.8zM136.1 380.0h1.8v1.8h-1.8zM106.0 378.2h1.8v1.8h-1.8zM163.6 373.1h1.8v1.8h-1.8zM81.7 368.9h1.8v1.8h-1.8zM99.2 380.2h1.8v1.8h-1.8zM90.6 366.3h1.8v1.8h-1.8zM80.0 357.7h1.8v1.8h-1.8zM72.5 334.0h1.8v1.8h-1.8zM76.0 355.5h1.8v1.8h-1.8zM81.3 358.8h1.8v1.8h-1.8zM171.3 371.1h1.8v1.8h-1.8zM66.6 307.6h1.8v1.8h-1.8zM83.5 361.4h1.8v1.8h-1.8zM120.0 384.1h1.8v1.8h-1.8zM155.1 375.5h1.8v1.8h-1.8zM201.6 372.3h1.8v1.8h-1.8zM90.3 372.0h1.8v1.8h-1.8zM73.1 348.0h1.8v1.8h-1.8zM130.6 374.3h1.8v1.8h-1.8zM120.4 376.9h1.8v1.8h-1.8zM72.3 340.8h1.8v1.8h-1.8zM135.6 383.1h1.8v1.8h-1.8zM67.6 334.7h1.8v1.8h-1.8zM119.5 379.5h1.8v1.8h-1.8zM98.0 381.1h1.8v1.8h-1.8zM117.4 381.5h1.8v1.8h-1.8zM119.8 381.2h1.8v1.8h-1.8zM124.8 384.6h1.8v1.8h-1.8zM81.7 365.3h1.8v1.8h-1.8zM131.7 379.2h1.8v1.8h-1.8zM86.6 367.1h1.8v1.8h-1.8zM104.3 381.6h1.8v1.8h-1.8zM134.0 373.9h1.8v1.8h-1.8zM126.8 380.2h1.8v1.8h-1.8zM70.4 324.5h1.8v1.8h-1.8zM65.7 307.7h1.8v1.8h-1.8zM105.0 376.1h1.8v1.8h-1.8zM76.1 350.1h1.8v1.8h-1.8zM118.0 379.2h1.8v1.8h-1.8zM91.4 365.7h1.8v1.8h-1.8zM78.7 364.5h1.8v1.8h-1.8zM241.9 370.4h1.8v1.8h-1.8zM82.2 365.5h1.8v1.8h-1.8zM88.9 366.7h1.8v1.8h-1.8zM82.7 366.4h1.8v1.8h-1.8zM136.1 372.9h1.8v1.8h-1.8zM69.4 323.6h1.8v1.8h-1.8zM112.4 383.5h1.8v1.8h-1.8zM184.4 372.2h1.8v1.8h-1.8zM120.6 381.6h1.8v1.8h-1.8zM97.6 373.1h1.8v1.8h-1.8zM235.6 371.1h1.8v1.8h-1.8zM166.1 371.1h1.8v1.8h-1.8zM119.7 381.5h1.8v1.8h-1.8zM92.6 375.6h1.8v1.8h-1.8zM139.2 379.5h1.8v1.8h-1.8zM81.4 365.5h1.8v1.8h-1.8zM141.8 382.5h1.8v1.8h-1.8zM70.4 331.3h1.8v1.8h-1.8zM68.6 342.2h1.8v1.8h-1.8zM130.9 381.1h1.8v1.8h-1.8zM92.5 370.0h1.8v1.8h-1.8zM98.3 377.5h1.8v1.8h-1.8zM120.6 377.6h1.8v1.8h-1.8zM66.3 312.7h1.8v1.8h-1.8zM88.3 365.6h1.8v1.8h-1.8zM77.9 364.2h1.8v1.8h-1.8zM137.2 380.8h1.8v1.8h-1.8zM84.6 364.6h1.8v1.8h-1.8zM75.0 348.3h1.8v1.8h-1.8zM106.5 376.2h1.8v1.8h-1.8zM74.4 359.5h1.8v1.8h-1.8zM111.4 378.8h1.8v1.8h-1.8zM94.3 369.4h1.8v1.8h-1.8zM77.4 350.2h1.8v1.8h-1.8zM194.6 371.8h1.8v1.8h-1.8zM95.4 370.7h1.8v1.8h-1.8zM73.8 336.0h1.8v1.8h-1.8zM74.6 341.3h1.8v1.8h-1.8zM68.2 315.5h1.8v1.8h-1.8zM82.3 366.7h1.8v1.8h-1.8zM123.7 380.8h1.8v1.8h-1.8zM187.9 370.5h1.8v1.8h-1.8zM79.2 365.7h1.8v1.8h-1.8zM82.0 365.7h1.8v1.8h-1.8zM105.4 381.9h1.8v1.8h-1.8zM162.4 373.1h1.8v1.8h-1.8zM239.1 371.7h1.8v1.8h-1.8zM93.0 371.4h1.8v1.8h-1.8zM125.9 383.4h1.8v1.8h-1.8zM216.7 371.9h1.8v1.8h-1.8zM63.4 308.7h1.8v1.8h-1.8zM107.6 382.3h1.8v1.8h-1.8zM67.3 315.8h1.8v1.8h-1.8zM94.0 373.6h1.8v1.8h-1.8zM143.5 372.5h1.8v1.8h-1.8zM113.0 378.6h1.8v1.8h-1.8zM75.2 356.5h1.8v1.8h-1.8zM73.7 348.2h1.8v1.8h-1.8zM87.3 362.5h1.8v1.8h-1.8zM155.3 374.6h1.8v1.8h-1.8zM67.8 332.3h1.8v1.8h-1.8zM95.7 376.5h1.8v1.8h-1.8zM78.1 351.9h1.8v1.8h-1.8zM87.7 364.6h1.8v1.8h-1.8zM93.8 372.3h1.8v1.8h-1.8zM89.2 367.1h1.8v1.8h-1.8zM73.1 343.3h1.8v1.8h-1.8zM106.7 380.0h1.8v1.8h-1.8zM96.0 374.6h1.8v1.8h-1.8zM131.4 382.0h1.8v1.8h-1.8zM90.3 369.6h1.8v1.8h-1.8zM77.8 348.8h1.8v1.8h-1.8zM72.8 338.6h1.8v1.8h-1.8zM204.6 369.8h1.8v1.8h-1.8zM111.8 381.9h1.8v1.8h-1.8zM148.6 380.4h1.8v1.8h-1.8zM68.9 324.3h1.8v1.8h-1.8zM83.9 366.8h1.8v1.8h-1.8zM127.0 382.7h1.8v1.8h-1.8zM134.5 380.1h1.8v1.8h-1.8zM135.7 378.8h1.8v1.8h-1.8zM122.0 381.9h1.8v1.8h-1.8zM233.0 370.8h1.8v1.8h-1.8zM107.7 379.0h1.8v1.8h-1.8zM100.2 376.7h1.8v1.8h-1.8zM125.9 380.3h1.8v1.8h-1.8zM111.3 382.2h1.8v1.8h-1.8zM71.1 335.6h1.8v1.8h-1.8zM119.1 376.5h1.8v1.8h-1.8zM113.9 383.8h1.8v1.8h-1.8zM146.6 375.9h1.8v1.8h-1.8zM130.1 381.0h1.8v1.8h-1.8zM86.8 361.8h1.8v1.8h-1.8zM132.9 380.0h1.8v1.8h-1.8zM167.1 372.1h1.8v1.8h-1.8zM107.7 380.7h1.8v1.8h-1.8zM110.5 383.0h1.8v1.8h-1.8zM80.7 356.8h1.8v1.8h-1.8zM66.5 309.5h1.8v1.8h-1.8zM96.4 373.6h1.8v1.8h-1.8zM73.7 334.9h1.8v1.8h-1.8zM159.4 372.3h1.8v1.8h-1.8zM174.8 371.0h1.8v1.8h-1.8zM160.3 373.7h1.8v1.8h-1.8zM74.5 338.8h1.8v1.8h-1.8zM78.4 348.7h1.8v1.8h-1.8zM203.7 371.0h1.8v1.8h-1.8zM85.2 364.6h1.8v1.8h-1.8zM68.9 338.6h1.8v1.8h-1.8zM75.9 346.6h1.8v1.8h-1.8zM132.3 375.3h1.8v1.8h-1.8zM65.3 307.7h1.8v1.8h-1.8zM111.9 376.3h1.8v1.8h-1.8zM91.5 373.7h1.8v1.8h-1.8zM86.4 368.6h1.8v1.8h-1.8zM88.2 366.7h1.8v1.8h-1.8zM129.7 384.6h1.8v1.8h-1.8zM76.0 351.1h1.8v1.8h-1.8zM77.4 364.0h1.8v1.8h-1.8zM144.3 373.6h1.8v1.8h-1.8zM78.2 357.0h1.8v1.8h-1.8zM192.8 370.1h1.8v1.8h-1.8zM64.0 308.4h1.8v1.8h-1.8zM142.0 383.5h1.8v1.8h-1.8zM79.1 362.9h1.8v1.8h-1.8zM94.5 372.6h1.8v1.8h-1.8zM182.1 371.7h1.8v1.8h-1.8zM166.4 371.4h1.8v1.8h-1.8zM85.0 367.2h1.8v1.8h-1.8zM110.3 371.8h1.8v1.8h-1.8zM152.6 374.5h1.8v1.8h-1.8zM86.4 365.9h1.8v1.8h-1.8zM74.4 339.6h1.8v1.8h-1.8zM91.6 371.5h1.8v1.8h-1.8zM89.2 370.5h1.8v1.8h-1.8zM105.2 378.0h1.8v1.8h-1.8zM104.5 381.7h1.8v1.8h-1.8zM98.7 375.0h1.8v1.8h-1.8zM81.6 359.3h1.8v1.8h-1.8zM129.7 383.0h1.8v1.8h-1.8zM99.8 374.6h1.8v1.8h-1.8zM85.0 368.6h1.8v1.8h-1.8zM136.3 381.6h1.8v1.8h-1.8zM86.0 359.6h1.8v1.8h-1.8zM79.5 365.2h1.8v1.8h-1.8zM147.6 376.3h1.8v1.8h-1.8zM82.9 360.2h1.8v1.8h-1.8zM67.9 337.4h1.8v1.8h-1.8zM67.0 328.0h1.8v1.8h-1.8zM174.6 370.9h1.8v1.8h-1.8zM225.2 370.9h1.8v1.8h-1.8zM88.5 365.3h1.8v1.8h-1.8zM86.7 365.6h1.8v1.8h-1.8zM67.3 333.8h1.8v1.8h-1.8zM107.5 381.2h1.8v1.8h-1.8zM103.0 376.4h1.8v1.8h-1.8zM102.7 382.4h1.8v1.8h-1.8zM85.4 365.4h1.8v1.8h-1.8zM157.9 374.4h1.8v1.8h-1.8zM143.0 378.6h1.8v1.8h-1.8zM133.6 380.5h1.8v1.8h-1.8zM110.7 382.2h1.8v1.8h-1.8zM198.3 371.4h1.8v1.8h-1.8zM147.0 373.6h1.8v1.8h-1.8zM130.4 378.7h1.8v1.8h-1.8zM133.1 384.4h1.8v1.8h-1.8zM86.5 362.8h1.8v1.8h-1.8zM94.4 370.1h1.8v1.8h-1.8zM221.5 371.7h1.8v1.8h-1.8zM207.3 370.9h1.8v1.8h-1.8zM72.7 342.2h1.8v1.8h-1.8zM96.6 374.4h1.8v1.8h-1.8zM69.0 343.6h1.8v1.8h-1.8zM82.3 355.7h1.8v1.8h-1.8zM73.2 344.0h1.8v1.8h-1.8zM118.8 379.0h1.8v1.8h-1.8zM185.2 371.9h1.8v1.8h-1.8zM134.4 378.0h1.8v1.8h-1.8zM91.9 369.7h1.8v1.8h-1.8zM95.8 374.1h1.8v1.8h-1.8zM126.6 378.7h1.8v1.8h-1.8zM124.8 377.0h1.8v1.8h-1.8zM67.0 309.7h1.8v1.8h-1.8zM77.0 351.1h1.8v1.8h-1.8zM221.4 370.8h1.8v1.8h-1.8zM119.1 381.0h1.8v1.8h-1.8zM111.4 380.1h1.8v1.8h-1.8zM103.9 381.3h1.8v1.8h-1.8zM94.7 374.2h1.8v1.8h-1.8zM122.4 383.9h1.8v1.8h-1.8zM135.3 378.7h1.8v1.8h-1.8zM90.2 364.8h1.8v1.8h-1.8zM75.3 362.0h1.8v1.8h-1.8zM193.1 371.4h1.8v1.8h-1.8zM68.4 334.2h1.8v1.8h-1.8zM98.0 379.8h1.8v1.8h-1.8zM168.7 372.0h1.8v1.8h-1.8zM69.0 341.3h1.8v1.8h-1.8zM65.0 305.9h1.8v1.8h-1.8zM78.5 350.6h1.8v1.8h-1.8zM82.6 363.0h1.8v1.8h-1.8zM101.9 380.8h1.8v1.8h-1.8zM88.9 365.9h1.8v1.8h-1.8zM202.5 370.9h1.8v1.8h-1.8zM84.0 362.8h1.8v1.8h-1.8zM241.2 371.3h1.8v1.8h-1.8zM69.0 319.5h1.8v1.8h-1.8zM184.4 371.7h1.8v1.8h-1.8zM68.4 325.7h1.8v1.8h-1.8zM102.7 378.3h1.8v1.8h-1.8zM81.2 360.8h1.8v1.8h-1.8zM64.3 309.1h1.8v1.8h-1.8zM127.2 380.5h1.8v1.8h-1.8zM139.7 378.3h1.8v1.8h-1.8zM117.0 374.9h1.8v1.8h-1.8zM81.2 360.8h1.8v1.8h-1.8zM69.0 322.8h1.8v1.8h-1.8zM131.9 379.1h1.8v1.8h-1.8zM79.2 362.5h1.8v1.8h-1.8zM195.4 371.5h1.8v1.8h-1.8zM81.8 365.6h1.8v1.8h-1.8zM78.8 354.5h1.8v1.8h-1.8zM77.4 356.4h1.8v1.8h-1.8zM90.8 368.9h1.8v1.8h-1.8zM85.7 364.6h1.8v1.8h-1.8zM76.5 342.9h1.8v1.8h-1.8zM80.3 360.2h1.8v1.8h-1.8zM77.4 352.8h1.8v1.8h-1.8zM92.8 373.7h1.8v1.8h-1.8zM116.9 379.2h1.8v1.8h-1.8zM231.3 371.5h1.8v1.8h-1.8zM121.2 384.2h1.8v1.8h-1.8zM66.5 320.0h1.8v1.8h-1.8zM81.3 355.3h1.8v1.8h-1.8zM78.2 366.3h1.8v1.8h-1.8zM63.9 308.5h1.8v1.8h-1.8zM84.4 366.4h1.8v1.8h-1.8zM126.5 374.6h1.8v1.8h-1.8zM76.5 357.3h1.8v1.8h-1.8zM86.0 361.5h1.8v1.8h-1.8zM104.9 381.4h1.8v1.8h-1.8zM206.5 370.9h1.8v1.8h-1.8zM66.9 324.3h1.8v1.8h-1.8zM64.8 319.4h1.8v1.8h-1.8zM121.9 383.7h1.8v1.8h-1.8zM128.5 379.1h1.8v1.8h-1.8zM80.2 354.3h1.8v1.8h-1.8zM89.2 368.7h1.8v1.8h-1.8zM84.8 367.4h1.8v1.8h-1.8zM83.9 362.9h1.8v1.8h-1.8zM182.9 371.6h1.8v1.8h-1.8zM169.4 371.5h1.8v1.8h-1.8zM70.3 336.1h1.8v1.8h-1.8zM139.4 379.3h1.8v1.8h-1.8zM74.3 352.2h1.8v1.8h-1.8zM90.5 373.4h1.8v1.8h-1.8zM71.5 327.7h1.8v1.8h-1.8zM88.3 369.9h1.8v1.8h-1.8zM237.9 372.5h1.8v1.8h-1.8zM106.8 378.2h1.8v1.8h-1.8zM108.5 379.6h1.8v1.8h-1.8zM65.3 312.4h1.8v1.8h-1.8zM177.1 372.3h1.8v1.8h-1.8zM88.7 365.0h1.8v1.8h-1.8zM89.1 365.0h1.8v1.8h-1.8zM113.2 377.5h1.8v1.8h-1.8zM73.6 337.6h1.8v1.8h-1.8zM79.6 366.4h1.8v1.8h-1.8zM72.6 341.4h1.8v1.8h-1.8zM101.6 372.5h1.8v1.8h-1.8zM67.2 323.2h1.8v1.8h-1.8zM71.8 352.1h1.8v1.8h-1.8zM237.1 371.0h1.8v1.8h-1.8zM124.1 373.0h1.8v1.8h-1.8zM89.1 365.3h1.8v1.8h-1.8zM68.8 340.5h1.8v1.8h-1.8zM218.0 370.9h1.8v1.8h-1.8zM95.6 376.0h1.8v1.8h-1.8zM105.3 375.6h1.8v1.8h-1.8zM105.2 383.5h1.8v1.8h-1.8zM98.1 377.8h1.8v1.8h-1.8zM223.8 371.3h1.8v1.8h-1.8zM101.6 373.1h1.8v1.8h-1.8zM71.4 353.4h1.8v1.8h-1.8zM70.9 344.5h1.8v1.8h-1.8zM139.3 380.1h1.8v1.8h-1.8zM104.0 379.7h1.8v1.8h-1.8zM109.4 379.7h1.8v1.8h-1.8zM120.5 382.6h1.8v1.8h-1.8zM73.3 338.5h1.8v1.8h-1.8zM88.2 363.6h1.8v1.8h-1.8zM85.2 366.7h1.8v1.8h-1.8zM70.3 343.8h1.8v1.8h-1.8zM80.6 355.0h1.8v1.8h-1.8zM145.8 380.3h1.8v1.8h-1.8zM76.8 364.1h1.8v1.8h-1.8zM70.5 345.0h1.8v1.8h-1.8zM115.7 374.3h1.8v1.8h-1.8zM71.1 330.8h1.8v1.8h-1.8zM83.4 359.6h1.8v1.8h-1.8zM200.2 372.2h1.8v1.8h-1.8zM239.0 371.2h1.8v1.8h-1.8zM86.7 367.4h1.8v1.8h-1.8zM79.1 355.5h1.8v1.8h-1.8zM101.2 376.5h1.8v1.8h-1.8zM110.1 373.3h1.8v1.8h-1.8zM75.6 354.6h1.8v1.8h-1.8zM124.3 383.9h1.8v1.8h-1.8zM136.6 373.6h1.8v1.8h-1.8zM139.1 374.6h1.8v1.8h-1.8zM77.8 362.3h1.8v1.8h-1.8zM113.7 382.8h1.8v1.8h-1.8zM75.5 356.8h1.8v1.8h-1.8zM72.6 334.6h1.8v1.8h-1.8zM78.7 355.7h1.8v1.8h-1.8zM73.9 345.6h1.8v1.8h-1.8zM110.5 383.1h1.8v1.8h-1.8zM63.7 310.4h1.8v1.8h-1.8zM92.7 373.4h1.8v1.8h-1.8zM124.8 371.6h1.8v1.8h-1.8zM73.4 348.6h1.8v1.8h-1.8zM67.9 331.6h1.8v1.8h-1.8zM81.1 366.6h1.8v1.8h-1.8zM138.8 375.5h1.8v1.8h-1.8zM87.8 367.3h1.8v1.8h-1.8zM84.9 363.8h1.8v1.8h-1.8zM64.6 308.5h1.8v1.8h-1.8zM139.2 376.4h1.8v1.8h-1.8zM132.0 380.7h1.8v1.8h-1.8zM72.1 332.1h1.8v1.8h-1.8zM126.9 381.6h1.8v1.8h-1.8zM90.2 368.3h1.8v1.8h-1.8zM98.0 370.5h1.8v1.8h-1.8zM104.4 379.3h1.8v1.8h-1.8zM99.6 375.7h1.8v1.8h-1.8zM228.9 371.0h1.8v1.8h-1.8zM151.1 376.0h1.8v1.8h-1.8zM68.8 319.7h1.8v1.8h-1.8zM68.0 317.4h1.8v1.8h-1.8zM84.0 364.6h1.8v1.8h-1.8zM70.7 328.2h1.8v1.8h-1.8zM146.6 377.2h1.8v1.8h-1.8zM91.1 371.0h1.8v1.8h-1.8zM117.9 377.6h1.8v1.8h-1.8zM65.2 321.8h1.8v1.8h-1.8zM105.3 379.4h1.8v1.8h-1.8zM104.3 378.3h1.8v1.8h-1.8zM79.6 355.7h1.8v1.8h-1.8zM106.3 371.6h1.8v1.8h-1.8zM72.4 342.9h1.8v1.8h-1.8zM85.0 365.4h1.8v1.8h-1.8zM113.1 376.9h1.8v1.8h-1.8zM63.0 306.6h1.8v1.8h-1.8zM70.0 336.0h1.8v1.8h-1.8zM119.6 380.4h1.8v1.8h-1.8zM112.8 374.6h1.8v1.8h-1.8zM99.6 372.3h1.8v1.8h-1.8zM65.7 318.7h1.8v1.8h-1.8zM72.6 343.2h1.8v1.8h-1.8zM119.1 375.7h1.8v1.8h-1.8zM76.8 351.2h1.8v1.8h-1.8zM71.3 332.7h1.8v1.8h-1.8zM65.8 324.2h1.8v1.8h-1.8zM69.8 339.8h1.8v1.8h-1.8zM228.1 372.0h1.8v1.8h-1.8zM66.4 315.9h1.8v1.8h-1.8zM89.7 369.1h1.8v1.8h-1.8zM151.2 376.5h1.8v1.8h-1.8zM115.2 376.7h1.8v1.8h-1.8zM63.9 307.8h1.8v1.8h-1.8zM101.9 377.2h1.8v1.8h-1.8zM68.2 339.7h1.8v1.8h-1.8zM111.6 378.0h1.8v1.8h-1.8zM72.1 348.3h1.8v1.8h-1.8zM231.1 371.6h1.8v1.8h-1.8zM178.7 370.7h1.8v1.8h-1.8zM90.7 372.7h1.8v1.8h-1.8zM80.8 362.8h1.8v1.8h-1.8zM103.4 376.7h1.8v1.8h-1.8zM152.9 375.6h1.8v1.8h-1.8zM66.6 307.7h1.8v1.8h-1.8zM137.0 379.6h1.8v1.8h-1.8zM82.0 359.6h1.8v1.8h-1.8zM79.8 357.5h1.8v1.8h-1.8zM99.9 378.8h1.8v1.8h-1.8zM88.4 365.2h1.8v1.8h-1.8zM95.7 373.8h1.8v1.8h-1.8zM75.2 360.7h1.8v1.8h-1.8zM129.1 377.5h1.8v1.8h-1.8zM121.3 375.4h1.8v1.8h-1.8zM156.3 374.7h1.8v1.8h-1.8zM92.0 371.0h1.8v1.8h-1.8zM67.6 310.9h1.8v1.8h-1.8zM68.5 335.9h1.8v1.8h-1.8zM129.8 381.0h1.8v1.8h-1.8zM128.1 378.4h1.8v1.8h-1.8zM66.0 328.8h1.8v1.8h-1.8zM67.8 336.4h1.8v1.8h-1.8zM70.3 346.3h1.8v1.8h-1.8zM82.9 365.6h1.8v1.8h-1.8zM134.9 380.4h1.8v1.8h-1.8zM147.7 376.2h1.8v1.8h-1.8zM235.9 371.5h1.8v1.8h-1.8zM77.2 345.4h1.8v1.8h-1.8zM71.5 334.3h1.8v1.8h-1.8zM186.8 371.4h1.8v1.8h-1.8zM94.0 371.6h1.8v1.8h-1.8zM84.6 361.8h1.8v1.8h-1.8zM126.9 381.2h1.8v1.8h-1.8zM161.2 373.0h1.8v1.8h-1.8zM63.3 309.3h1.8v1.8h-1.8zM123.6 382.6h1.8v1.8h-1.8zM83.5 367.4h1.8v1.8h-1.8zM69.9 321.9h1.8v1.8h-1.8zM145.3 378.3h1.8v1.8h-1.8zM79.0 355.6h1.8v1.8h-1.8zM101.6 382.2h1.8v1.8h-1.8zM86.4 363.3h1.8v1.8h-1.8zM83.1 361.7h1.8v1.8h-1.8zM115.7 382.4h1.8v1.8h-1.8zM82.5 356.1h1.8v1.8h-1.8zM68.0 331.5h1.8v1.8h-1.8zM205.5 370.7h1.8v1.8h-1.8zM69.9 329.3h1.8v1.8h-1.8zM77.0 344.2h1.8v1.8h-1.8zM135.2 374.9h1.8v1.8h-1.8zM89.4 364.7h1.8v1.8h-1.8zM123.9 378.7h1.8v1.8h-1.8zM89.0 367.1h1.8v1.8h-1.8zM76.6 362.7h1.8v1.8h-1.8zM202.4 371.1h1.8v1.8h-1.8zM122.5 372.4h1.8v1.8h-1.8zM163.3 372.3h1.8v1.8h-1.8zM145.4 373.1h1.8v1.8h-1.8zM106.1 373.2h1.8v1.8h-1.8zM77.6 362.9h1.8v1.8h-1.8zM141.7 378.7h1.8v1.8h-1.8zM69.2 330.6h1.8v1.8h-1.8zM83.3 366.3h1.8v1.8h-1.8zM224.0 372.4h1.8v1.8h-1.8zM65.6 325.2h1.8v1.8h-1.8zM119.7 375.9h1.8v1.8h-1.8zM110.3 381.9h1.8v1.8h-1.8zM125.6 378.3h1.8v1.8h-1.8zM104.5 371.4h1.8v1.8h-1.8zM178.0 372.2h1.8v1.8h-1.8zM126.4 381.5h1.8v1.8h-1.8zM180.8 370.2h1.8v1.8h-1.8zM126.8 378.9h1.8v1.8h-1.8zM128.2 378.6h1.8v1.8h-1.8zM93.4 371.2h1.8v1.8h-1.8zM77.4 355.8h1.8v1.8h-1.8zM117.0 377.9h1.8v1.8h-1.8zM89.7 367.0h1.8v1.8h-1.8zM91.1 367.7h1.8v1.8h-1.8zM86.9 369.2h1.8v1.8h-1.8zM78.1 362.2h1.8v1.8h-1.8zM83.3 357.9h1.8v1.8h-1.8zM72.7 352.7h1.8v1.8h-1.8zM98.1 375.5h1.8v1.8h-1.8zM233.4 371.2h1.8v1.8h-1.8zM211.6 371.9h1.8v1.8h-1.8zM122.9 379.9h1.8v1.8h-1.8zM148.5 372.8h1.8v1.8h-1.8zM68.8 319.9h1.8v1.8h-1.8zM188.9 372.4h1.8v1.8h-1.8zM81.9 367.9h1.8v1.8h-1.8zM105.9 379.0h1.8v1.8h-1.8zM81.2 366.6h1.8v1.8h-1.8zM105.4 379.9h1.8v1.8h-1.8zM90.1 364.6h1.8v1.8h-1.8zM234.9 371.5h1.8v1.8h-1.8zM122.0 376.5h1.8v1.8h-1.8zM132.4 377.6h1.8v1.8h-1.8zM106.4 381.9h1.8v1.8h-1.8zM66.9 315.3h1.8v1.8h-1.8zM103.2 380.9h1.8v1.8h-1.8zM65.0 317.1h1.8v1.8h-1.8zM64.5 317.7h1.8v1.8h-1.8zM67.0 311.5h1.8v1.8h-1.8zM66.1 314.0h1.8v1.8h-1.8zM68.3 319.4h1.8v1.8h-1.8zM77.7 355.0h1.8v1.8h-1.8zM70.2 339.2h1.8v1.8h-1.8zM82.3 366.6h1.8v1.8h-1.8zM213.5 371.9h1.8v1.8h-1.8zM134.8 375.2h1.8v1.8h-1.8zM75.3 362.0h1.8v1.8h-1.8zM84.0 365.8h1.8v1.8h-1.8zM87.4 368.3h1.8v1.8h-1.8zM76.0 345.4h1.8v1.8h-1.8zM95.3 370.6h1.8v1.8h-1.8zM92.8 372.7h1.8v1.8h-1.8zM137.9 375.2h1.8v1.8h-1.8zM160.6 372.8h1.8v1.8h-1.8zM146.6 378.9h1.8v1.8h-1.8zM216.3 372.0h1.8v1.8h-1.8zM87.3 364.0h1.8v1.8h-1.8zM87.9 369.0h1.8v1.8h-1.8zM93.7 368.0h1.8v1.8h-1.8zM88.6 369.8h1.8v1.8h-1.8zM79.5 363.7h1.8v1.8h-1.8zM94.7 373.3h1.8v1.8h-1.8zM88.1 367.5h1.8v1.8h-1.8zM86.3 369.1h1.8v1.8h-1.8zM68.0 326.0h1.8v1.8h-1.8zM76.1 349.8h1.8v1.8h-1.8zM69.1 326.5h1.8v1.8h-1.8zM64.7 319.1h1.8v1.8h-1.8zM115.5 376.9h1.8v1.8h-1.8zM66.8 312.6h1.8v1.8h-1.8zM128.1 382.1h1.8v1.8h-1.8zM83.4 362.4h1.8v1.8h-1.8zM73.6 352.5h1.8v1.8h-1.8zM76.5 356.0h1.8v1.8h-1.8zM107.7 378.1h1.8v1.8h-1.8zM77.6 350.3h1.8v1.8h-1.8zM119.7 380.9h1.8v1.8h-1.8zM144.5 379.9h1.8v1.8h-1.8zM78.1 353.5h1.8v1.8h-1.8zM86.7 366.6h1.8v1.8h-1.8zM71.4 346.6h1.8v1.8h-1.8zM117.6 381.8h1.8v1.8h-1.8zM127.5 380.5h1.8v1.8h-1.8zM97.0 376.4h1.8v1.8h-1.8zM85.4 364.5h1.8v1.8h-1.8zM80.9 364.3h1.8v1.8h-1.8zM69.7 319.8h1.8v1.8h-1.8zM118.9 375.7h1.8v1.8h-1.8zM109.2 372.9h1.8v1.8h-1.8zM66.3 327.3h1.8v1.8h-1.8zM164.3 371.0h1.8v1.8h-1.8zM68.0 323.2h1.8v1.8h-1.8zM87.4 367.7h1.8v1.8h-1.8zM85.4 364.3h1.8v1.8h-1.8zM122.5 379.6h1.8v1.8h-1.8zM165.5 371.7h1.8v1.8h-1.8zM127.8 383.5h1.8v1.8h-1.8zM73.2 335.7h1.8v1.8h-1.8zM123.0 379.7h1.8v1.8h-1.8zM66.6 307.7h1.8v1.8h-1.8zM144.8 381.7h1.8v1.8h-1.8zM73.3 343.2h1.8v1.8h-1.8zM81.3 360.1h1.8v1.8h-1.8zM66.2 319.8h1.8v1.8h-1.8zM98.2 373.0h1.8v1.8h-1.8zM217.1 372.2h1.8v1.8h-1.8zM81.5 360.8h1.8v1.8h-1.8zM212.4 371.2h1.8v1.8h-1.8zM185.2 371.5h1.8v1.8h-1.8zM73.7 358.5h1.8v1.8h-1.8zM84.5 365.8h1.8v1.8h-1.8zM88.5 364.3h1.8v1.8h-1.8zM79.7 364.1h1.8v1.8h-1.8zM77.4 348.9h1.8v1.8h-1.8zM71.6 349.7h1.8v1.8h-1.8zM79.8 365.6h1.8v1.8h-1.8zM167.6 371.8h1.8v1.8h-1.8zM75.6 353.7h1.8v1.8h-1.8zM170.0 371.4h1.8v1.8h-1.8zM71.5 349.4h1.8v1.8h-1.8zM105.6 382.3h1.8v1.8h-1.8zM139.3 381.1h1.8v1.8h-1.8zM227.9 371.0h1.8v1.8h-1.8zM71.1 344.2h1.8v1.8h-1.8zM83.8 363.5h1.8v1.8h-1.8zM126.9 378.9h1.8v1.8h-1.8zM135.9 380.0h1.8v1.8h-1.8zM84.7 362.2h1.8v1.8h-1.8zM70.9 331.9h1.8v1.8h-1.8zM78.1 358.5h1.8v1.8h-1.8zM106.7 371.9h1.8v1.8h-1.8zM188.7 371.3h1.8v1.8h-1.8zM144.4 381.9h1.8v1.8h-1.8zM64.4 307.6h1.8v1.8h-1.8zM229.3 369.6h1.8v1.8h-1.8zM196.4 371.6h1.8v1.8h-1.8zM72.6 352.0h1.8v1.8h-1.8zM79.2 358.0h1.8v1.8h-1.8zM143.5 377.3h1.8v1.8h-1.8zM208.9 371.6h1.8v1.8h-1.8zM120.2 381.4h1.8v1.8h-1.8zM155.0 377.0h1.8v1.8h-1.8zM132.1 380.2h1.8v1.8h-1.8zM114.2 379.4h1.8v1.8h-1.8zM72.8 353.0h1.8v1.8h-1.8zM74.0 340.3h1.8v1.8h-1.8zM142.5 382.8h1.8v1.8h-1.8zM70.3 330.3h1.8v1.8h-1.8zM68.6 329.3h1.8v1.8h-1.8zM81.6 362.8h1.8v1.8h-1.8zM117.1 373.9h1.8v1.8h-1.8zM139.8 381.2h1.8v1.8h-1.8zM96.2 378.4h1.8v1.8h-1.8zM215.8 371.0h1.8v1.8h-1.8zM129.4 381.7h1.8v1.8h-1.8zM121.2 374.8h1.8v1.8h-1.8zM135.3 381.2h1.8v1.8h-1.8zM101.6 378.1h1.8v1.8h-1.8zM88.0 361.9h1.8v1.8h-1.8zM71.9 335.9h1.8v1.8h-1.8zM112.8 378.4h1.8v1.8h-1.8zM78.8 359.7h1.8v1.8h-1.8zM70.4 332.4h1.8v1.8h-1.8zM141.4 379.2h1.8v1.8h-1.8zM100.2 373.8h1.8v1.8h-1.8zM91.5 366.2h1.8v1.8h-1.8zM85.7 366.4h1.8v1.8h-1.8zM81.9 364.1h1.8v1.8h-1.8zM110.6 379.9h1.8v1.8h-1.8zM128.4 383.1h1.8v1.8h-1.8zM79.6 357.7h1.8v1.8h-1.8zM84.3 367.0h1.8v1.8h-1.8zM75.1 360.0h1.8v1.8h-1.8zM90.4 373.7h1.8v1.8h-1.8zM77.3 354.8h1.8v1.8h-1.8zM148.9 376.0h1.8v1.8h-1.8zM78.4 354.3h1.8v1.8h-1.8zM101.1 376.3h1.8v1.8h-1.8zM117.6 382.8h1.8v1.8h-1.8zM225.0 371.4h1.8v1.8h-1.8zM90.0 371.1h1.8v1.8h-1.8zM180.8 371.3h1.8v1.8h-1.8zM90.7 371.8h1.8v1.8h-1.8zM69.3 340.0h1.8v1.8h-1.8zM77.2 344.3h1.8v1.8h-1.8zM87.5 369.2h1.8v1.8h-1.8zM73.6 340.2h1.8v1.8h-1.8zM132.5 379.3h1.8v1.8h-1.8zM73.0 350.7h1.8v1.8h-1.8zM91.2 374.3h1.8v1.8h-1.8zM71.4 347.0h1.8v1.8h-1.8zM148.1 374.4h1.8v1.8h-1.8zM66.4 323.1h1.8v1.8h-1.8zM72.2 348.2h1.8v1.8h-1.8zM90.8 371.2h1.8v1.8h-1.8zM78.5 355.1h1.8v1.8h-1.8zM89.3 371.0h1.8v1.8h-1.8zM79.2 363.0h1.8v1.8h-1.8zM86.3 364.3h1.8v1.8h-1.8zM90.7 366.6h1.8v1.8h-1.8zM219.9 371.0h1.8v1.8h-1.8zM113.0 381.4h1.8v1.8h-1.8zM85.8 365.2h1.8v1.8h-1.8zM86.6 370.5h1.8v1.8h-1.8zM89.1 368.6h1.8v1.8h-1.8zM114.6 382.4h1.8v1.8h-1.8zM82.3 366.9h1.8v1.8h-1.8zM70.9 350.1h1.8v1.8h-1.8zM198.1 371.2h1.8v1.8h-1.8zM71.1 335.6h1.8v1.8h-1.8zM123.2 383.6h1.8v1.8h-1.8zM138.3 375.2h1.8v1.8h-1.8zM209.1 371.1h1.8v1.8h-1.8zM64.0 310.6h1.8v1.8h-1.8zM187.0 371.0h1.8v1.8h-1.8zM180.3 371.7h1.8v1.8h-1.8zM66.5 320.1h1.8v1.8h-1.8zM91.9 372.9h1.8v1.8h-1.8zM85.7 362.2h1.8v1.8h-1.8zM144.9 381.1h1.8v1.8h-1.8zM72.8 337.3h1.8v1.8h-1.8zM127.2 383.8h1.8v1.8h-1.8zM127.0 373.0h1.8v1.8h-1.8zM68.6 336.0h1.8v1.8h-1.8zM145.2 377.9h1.8v1.8h-1.8zM79.3 366.7h1.8v1.8h-1.8zM76.1 360.4h1.8v1.8h-1.8zM127.3 383.9h1.8v1.8h-1.8zM76.5 360.1h1.8v1.8h-1.8zM129.0 376.6h1.8v1.8h-1.8zM66.6 314.8h1.8v1.8h-1.8zM100.4 373.0h1.8v1.8h-1.8zM138.0 376.5h1.8v1.8h-1.8zM168.0 371.4h1.8v1.8h-1.8zM78.6 358.0h1.8v1.8h-1.8zM87.1 361.5h1.8v1.8h-1.8zM119.6 379.3h1.8v1.8h-1.8zM97.7 376.3h1.8v1.8h-1.8zM207.5 371.3h1.8v1.8h-1.8zM110.6 379.2h1.8v1.8h-1.8zM69.9 339.2h1.8v1.8h-1.8zM76.1 350.4h1.8v1.8h-1.8zM119.6 381.5h1.8v1.8h-1.8zM92.8 372.3h1.8v1.8h-1.8zM76.5 346.0h1.8v1.8h-1.8zM68.3 329.3h1.8v1.8h-1.8zM80.4 352.6h1.8v1.8h-1.8zM105.3 382.0h1.8v1.8h-1.8zM71.5 348.4h1.8v1.8h-1.8zM77.0 349.4h1.8v1.8h-1.8zM103.4 379.5h1.8v1.8h-1.8zM96.1 372.1h1.8v1.8h-1.8zM79.8 355.8h1.8v1.8h-1.8zM209.6 370.9h1.8v1.8h-1.8zM89.7 367.4h1.8v1.8h-1.8zM74.6 357.6h1.8v1.8h-1.8zM112.2 376.2h1.8v1.8h-1.8zM148.7 377.3h1.8v1.8h-1.8zM134.1 380.1h1.8v1.8h-1.8zM193.8 371.4h1.8v1.8h-1.8zM113.4 382.8h1.8v1.8h-1.8zM148.1 372.0h1.8v1.8h-1.8zM108.4 379.0h1.8v1.8h-1.8zM140.9 378.3h1.8v1.8h-1.8zM98.6 376.0h1.8v1.8h-1.8zM167.6 372.1h1.8v1.8h-1.8zM68.0 338.6h1.8v1.8h-1.8zM80.0 352.4h1.8v1.8h-1.8zM114.0 378.9h1.8v1.8h-1.8zM98.0 373.9h1.8v1.8h-1.8zM68.7 318.0h1.8v1.8h-1.8zM87.4 369.6h1.8v1.8h-1.8zM80.5 366.3h1.8v1.8h-1.8zM86.4 363.6h1.8v1.8h-1.8zM76.9 362.9h1.8v1.8h-1.8zM120.0 376.0h1.8v1.8h-1.8zM127.4 376.3h1.8v1.8h-1.8zM116.3 380.9h1.8v1.8h-1.8zM84.4 360.6h1.8v1.8h-1.8zM73.5 348.8h1.8v1.8h-1.8zM134.7 383.8h1.8v1.8h-1.8zM72.7 333.3h1.8v1.8h-1.8zM116.8 379.4h1.8v1.8h-1.8zM127.1 375.2h1.8v1.8h-1.8zM118.4 382.9h1.8v1.8h-1.8zM127.7 384.2h1.8v1.8h-1.8zM226.4 372.3h1.8v1.8h-1.8zM74.4 344.9h1.8v1.8h-1.8zM75.4 348.9h1.8v1.8h-1.8zM65.0 312.3h1.8v1.8h-1.8zM71.2 345.3h1.8v1.8h-1.8zM86.8 366.8h1.8v1.8h-1.8zM145.2 380.5h1.8v1.8h-1.8zM89.1 368.0h1.8v1.8h-1.8zM134.3 379.1h1.8v1.8h-1.8zM222.1 370.9h1.8v1.8h-1.8zM91.1 370.2h1.8v1.8h-1.8zM89.3 367.8h1.8v1.8h-1.8zM93.5 372.5h1.8v1.8h-1.8zM73.0 340.8h1.8v1.8h-1.8zM68.8 323.1h1.8v1.8h-1.8zM92.1 374.4h1.8v1.8h-1.8zM68.1 336.2h1.8v1.8h-1.8zM72.9 335.3h1.8v1.8h-1.8zM148.4 379.8h1.8v1.8h-1.8zM163.6 372.2h1.8v1.8h-1.8zM107.3 382.0h1.8v1.8h-1.8zM88.4 364.2h1.8v1.8h-1.8zM65.3 307.9h1.8v1.8h-1.8zM83.9 365.3h1.8v1.8h-1.8zM78.3 364.9h1.8v1.8h-1.8zM121.2 373.6h1.8v1.8h-1.8zM77.1 345.2h1.8v1.8h-1.8zM68.0 332.5h1.8v1.8h-1.8zM72.2 337.6h1.8v1.8h-1.8zM69.1 334.6h1.8v1.8h-1.8zM101.7 371.8h1.8v1.8h-1.8zM193.7 371.4h1.8v1.8h-1.8zM64.7 314.3h1.8v1.8h-1.8zM163.9 372.1h1.8v1.8h-1.8zM179.9 371.2h1.8v1.8h-1.8zM63.4 308.7h1.8v1.8h-1.8zM226.6 371.1h1.8v1.8h-1.8zM221.1 372.5h1.8v1.8h-1.8zM105.9 383.0h1.8v1.8h-1.8zM87.3 363.6h1.8v1.8h-1.8zM92.3 372.1h1.8v1.8h-1.8zM130.3 384.5h1.8v1.8h-1.8zM103.2 378.8h1.8v1.8h-1.8zM78.6 357.8h1.8v1.8h-1.8zM127.1 378.5h1.8v1.8h-1.8zM89.3 366.4h1.8v1.8h-1.8zM71.6 346.7h1.8v1.8h-1.8zM68.3 335.8h1.8v1.8h-1.8zM76.8 346.3h1.8v1.8h-1.8zM64.4 310.8h1.8v1.8h-1.8zM88.3 365.7h1.8v1.8h-1.8zM208.3 372.2h1.8v1.8h-1.8zM79.3 354.4h1.8v1.8h-1.8zM81.7 355.1h1.8v1.8h-1.8zM90.5 369.0h1.8v1.8h-1.8zM94.7 370.0h1.8v1.8h-1.8zM88.0 367.6h1.8v1.8h-1.8zM181.4 370.8h1.8v1.8h-1.8zM78.7 352.2h1.8v1.8h-1.8zM193.7 370.9h1.8v1.8h-1.8zM73.9 340.9h1.8v1.8h-1.8zM177.0 370.6h1.8v1.8h-1.8zM76.7 355.6h1.8v1.8h-1.8zM71.9 339.9h1.8v1.8h-1.8zM170.1 371.5h1.8v1.8h-1.8zM64.7 306.6h1.8v1.8h-1.8zM112.1 380.8h1.8v1.8h-1.8zM194.6 370.9h1.8v1.8h-1.8zM65.7 312.3h1.8v1.8h-1.8zM63.8 311.8h1.8v1.8h-1.8zM142.1 382.3h1.8v1.8h-1.8zM151.6 375.0h1.8v1.8h-1.8zM147.8 376.9h1.8v1.8h-1.8zM114.6 372.8h1.8v1.8h-1.8zM126.7 381.0h1.8v1.8h-1.8zM120.8 382.9h1.8v1.8h-1.8zM76.8 354.7h1.8v1.8h-1.8zM192.2 371.7h1.8v1.8h-1.8zM179.9 371.6h1.8v1.8h-1.8zM66.8 310.7h1.8v1.8h-1.8zM128.7 377.0h1.8v1.8h-1.8zM141.0 382.2h1.8v1.8h-1.8zM137.3 379.6h1.8v1.8h-1.8zM73.8 337.0h1.8v1.8h-1.8zM73.8 350.0h1.8v1.8h-1.8zM67.3 334.6h1.8v1.8h-1.8zM80.5 361.0h1.8v1.8h-1.8zM125.4 384.4h1.8v1.8h-1.8zM91.0 370.5h1.8v1.8h-1.8zM97.1 378.4h1.8v1.8h-1.8zM241.6 372.0h1.8v1.8h-1.8zM123.1 373.4h1.8v1.8h-1.8zM68.7 326.9h1.8v1.8h-1.8zM70.8 343.6h1.8v1.8h-1.8zM182.7 371.2h1.8v1.8h-1.8zM133.0 374.7h1.8v1.8h-1.8zM219.3 371.7h1.8v1.8h-1.8zM219.7 372.0h1.8v1.8h-1.8zM68.0 320.5h1.8v1.8h-1.8zM100.6 377.0h1.8v1.8h-1.8zM116.0 376.4h1.8v1.8h-1.8zM120.1 380.8h1.8v1.8h-1.8zM68.1 317.3h1.8v1.8h-1.8zM115.8 382.8h1.8v1.8h-1.8zM137.4 383.3h1.8v1.8h-1.8zM84.5 362.4h1.8v1.8h-1.8zM84.4 364.6h1.8v1.8h-1.8zM125.2 384.4h1.8v1.8h-1.8zM74.6 350.4h1.8v1.8h-1.8zM80.0 357.6h1.8v1.8h-1.8zM80.5 361.5h1.8v1.8h-1.8zM68.1 333.9h1.8v1.8h-1.8zM84.2 361.9h1.8v1.8h-1.8zM105.7 381.8h1.8v1.8h-1.8zM134.8 380.4h1.8v1.8h-1.8zM101.3 381.5h1.8v1.8h-1.8zM81.7 363.3h1.8v1.8h-1.8zM129.5 375.2h1.8v1.8h-1.8zM130.3 374.6h1.8v1.8h-1.8zM115.9 377.4h1.8v1.8h-1.8zM134.8 382.1h1.8v1.8h-1.8zM143.7 380.9h1.8v1.8h-1.8zM100.7 375.3h1.8v1.8h-1.8zM236.1 370.6h1.8v1.8h-1.8zM115.8 374.9h1.8v1.8h-1.8zM74.8 343.0h1.8v1.8h-1.8zM107.0 382.4h1.8v1.8h-1.8zM96.7 378.1h1.8v1.8h-1.8zM65.1 307.1h1.8v1.8h-1.8zM207.8 371.5h1.8v1.8h-1.8zM63.8 309.0h1.8v1.8h-1.8zM134.8 380.8h1.8v1.8h-1.8zM141.6 378.5h1.8v1.8h-1.8zM93.6 376.3h1.8v1.8h-1.8zM118.3 376.9h1.8v1.8h-1.8zM84.7 369.7h1.8v1.8h-1.8zM92.2 372.8h1.8v1.8h-1.8zM135.5 376.9h1.8v1.8h-1.8zM86.1 366.5h1.8v1.8h-1.8zM205.3 371.3h1.8v1.8h-1.8zM81.3 361.2h1.8v1.8h-1.8zM68.7 322.2h1.8v1.8h-1.8zM64.9 310.1h1.8v1.8h-1.8zM70.0 333.8h1.8v1.8h-1.8zM201.5 370.6h1.8v1.8h-1.8zM134.3 383.3h1.8v1.8h-1.8zM196.6 371.3h1.8v1.8h-1.8zM107.6 377.5h1.8v1.8h-1.8zM64.3 315.3h1.8v1.8h-1.8zM158.3 373.4h1.8v1.8h-1.8zM180.4 372.0h1.8v1.8h-1.8zM67.7 336.8h1.8v1.8h-1.8zM117.7 383.8h1.8v1.8h-1.8zM120.6 374.4h1.8v1.8h-1.8zM69.1 336.1h1.8v1.8h-1.8zM85.1 366.1h1.8v1.8h-1.8zM111.3 379.7h1.8v1.8h-1.8zM81.5 367.8h1.8v1.8h-1.8zM116.5 376.7h1.8v1.8h-1.8zM121.8 380.1h1.8v1.8h-1.8zM134.9 378.3h1.8v1.8h-1.8zM69.4 345.5h1.8v1.8h-1.8zM131.6 372.9h1.8v1.8h-1.8zM129.9 381.9h1.8v1.8h-1.8zM99.1 374.4h1.8v1.8h-1.8zM101.3 374.4h1.8v1.8h-1.8zM75.8 344.8h1.8v1.8h-1.8zM94.2 373.6h1.8v1.8h-1.8zM69.9 337.7h1.8v1.8h-1.8zM164.4 372.7h1.8v1.8h-1.8zM130.6 379.2h1.8v1.8h-1.8zM92.4 367.4h1.8v1.8h-1.8zM96.4 372.2h1.8v1.8h-1.8zM77.2 359.5h1.8v1.8h-1.8zM208.0 371.1h1.8v1.8h-1.8zM67.7 337.0h1.8v1.8h-1.8zM225.5 372.2h1.8v1.8h-1.8zM70.5 346.4h1.8v1.8h-1.8zM66.8 314.9h1.8v1.8h-1.8zM65.6 311.0h1.8v1.8h-1.8zM120.3 384.2h1.8v1.8h-1.8zM138.4 374.5h1.8v1.8h-1.8zM74.0 355.8h1.8v1.8h-1.8zM88.0 367.0h1.8v1.8h-1.8zM157.2 373.8h1.8v1.8h-1.8zM67.2 330.6h1.8v1.8h-1.8zM127.8 376.0h1.8v1.8h-1.8zM75.7 341.8h1.8v1.8h-1.8zM132.3 380.2h1.8v1.8h-1.8zM121.7 381.1h1.8v1.8h-1.8zM71.7 347.0h1.8v1.8h-1.8zM81.9 361.0h1.8v1.8h-1.8zM78.0 360.1h1.8v1.8h-1.8zM84.3 367.6h1.8v1.8h-1.8zM84.8 366.0h1.8v1.8h-1.8zM86.2 361.2h1.8v1.8h-1.8zM107.2 375.5h1.8v1.8h-1.8zM84.3 357.3h1.8v1.8h-1.8zM170.4 372.6h1.8v1.8h-1.8zM231.0 371.2h1.8v1.8h-1.8zM131.5 378.3h1.8v1.8h-1.8zM98.0 380.0h1.8v1.8h-1.8zM88.5 365.7h1.8v1.8h-1.8zM138.3 378.7h1.8v1.8h-1.8zM81.7 366.1h1.8v1.8h-1.8zM90.4 368.4h1.8v1.8h-1.8zM76.9 352.0h1.8v1.8h-1.8zM65.3 323.0h1.8v1.8h-1.8zM98.4 378.8h1.8v1.8h-1.8zM65.9 309.1h1.8v1.8h-1.8zM66.8 324.9h1.8v1.8h-1.8zM127.1 373.6h1.8v1.8h-1.8zM143.4 380.5h1.8v1.8h-1.8zM105.7 381.9h1.8v1.8h-1.8zM85.0 359.4h1.8v1.8h-1.8zM66.4 328.1h1.8v1.8h-1.8zM119.5 380.9h1.8v1.8h-1.8zM126.2 381.1h1.8v1.8h-1.8zM200.9 370.6h1.8v1.8h-1.8zM95.3 371.0h1.8v1.8h-1.8zM75.5 358.2h1.8v1.8h-1.8zM67.7 318.2h1.8v1.8h-1.8zM63.9 310.8h1.8v1.8h-1.8zM87.9 366.5h1.8v1.8h-1.8zM135.7 378.2h1.8v1.8h-1.8zM92.0 369.8h1.8v1.8h-1.8zM99.5 378.4h1.8v1.8h-1.8zM68.1 339.6h1.8v1.8h-1.8zM94.4 371.0h1.8v1.8h-1.8zM108.0 379.2h1.8v1.8h-1.8zM92.8 371.8h1.8v1.8h-1.8zM72.2 354.7h1.8v1.8h-1.8zM138.1 374.8h1.8v1.8h-1.8zM79.2 363.7h1.8v1.8h-1.8zM187.0 370.3h1.8v1.8h-1.8zM112.0 373.4h1.8v1.8h-1.8zM175.5 371.1h1.8v1.8h-1.8zM84.6 359.2h1.8v1.8h-1.8zM123.0 382.3h1.8v1.8h-1.8zM108.5 381.2h1.8v1.8h-1.8zM126.1 380.1h1.8v1.8h-1.8zM95.1 375.7h1.8v1.8h-1.8zM155.4 374.9h1.8v1.8h-1.8zM81.5 364.0h1.8v1.8h-1.8zM97.0 373.1h1.8v1.8h-1.8zM91.0 366.7h1.8v1.8h-1.8zM236.4 372.2h1.8v1.8h-1.8zM171.8 371.9h1.8v1.8h-1.8zM73.4 337.1h1.8v1.8h-1.8zM72.8 355.4h1.8v1.8h-1.8zM180.2 371.2h1.8v1.8h-1.8zM143.2 382.6h1.8v1.8h-1.8zM109.9 376.6h1.8v1.8h-1.8zM160.3 371.4h1.8v1.8h-1.8zM200.7 371.5h1.8v1.8h-1.8zM106.2 370.2h1.8v1.8h-1.8zM81.6 358.0h1.8v1.8h-1.8zM82.3 363.7h1.8v1.8h-1.8zM67.3 322.4h1.8v1.8h-1.8zM87.9 366.6h1.8v1.8h-1.8zM125.8 375.2h1.8v1.8h-1.8zM124.2 378.0h1.8v1.8h-1.8zM217.3 370.6h1.8v1.8h-1.8zM105.1 382.2h1.8v1.8h-1.8zM66.2 314.7h1.8v1.8h-1.8zM85.0 361.0h1.8v1.8h-1.8zM109.4 379.4h1.8v1.8h-1.8zM136.2 373.9h1.8v1.8h-1.8zM158.7 374.0h1.8v1.8h-1.8zM136.2 383.7h1.8v1.8h-1.8zM77.0 361.1h1.8v1.8h-1.8zM80.5 361.4h1.8v1.8h-1.8zM114.5 381.6h1.8v1.8h-1.8zM71.2 336.9h1.8v1.8h-1.8zM135.2 375.1h1.8v1.8h-1.8zM174.9 371.1h1.8v1.8h-1.8zM179.2 371.6h1.8v1.8h-1.8zM128.6 382.3h1.8v1.8h-1.8zM137.3 383.0h1.8v1.8h-1.8zM78.9 349.5h1.8v1.8h-1.8zM82.0 368.3h1.8v1.8h-1.8zM115.3 381.1h1.8v1.8h-1.8zM132.3 376.7h1.8v1.8h-1.8zM102.9 375.2h1.8v1.8h-1.8zM89.4 365.4h1.8v1.8h-1.8zM87.8 363.5h1.8v1.8h-1.8zM139.1 382.2h1.8v1.8h-1.8zM224.2 371.4h1.8v1.8h-1.8zM129.3 372.8h1.8v1.8h-1.8zM184.2 370.6h1.8v1.8h-1.8zM74.5 347.3h1.8v1.8h-1.8zM85.8 360.2h1.8v1.8h-1.8zM175.6 371.5h1.8v1.8h-1.8zM205.6 371.2h1.8v1.8h-1.8zM64.3 316.5h1.8v1.8h-1.8zM104.8 378.0h1.8v1.8h-1.8zM96.8 370.1h1.8v1.8h-1.8zM98.0 375.4h1.8v1.8h-1.8zM84.8 370.4h1.8v1.8h-1.8zM86.2 368.9h1.8v1.8h-1.8zM157.3 371.9h1.8v1.8h-1.8zM68.0 324.1h1.8v1.8h-1.8zM141.4 382.4h1.8v1.8h-1.8zM202.2 372.1h1.8v1.8h-1.8zM66.5 310.9h1.8v1.8h-1.8zM69.1 327.2h1.8v1.8h-1.8zM89.8 365.7h1.8v1.8h-1.8zM123.1 384.5h1.8v1.8h-1.8zM101.8 378.7h1.8v1.8h-1.8zM145.3 379.3h1.8v1.8h-1.8zM70.6 344.8h1.8v1.8h-1.8zM72.4 341.6h1.8v1.8h-1.8zM74.5 337.7h1.8v1.8h-1.8zM80.8 367.0h1.8v1.8h-1.8zM125.9 378.1h1.8v1.8h-1.8zM79.3 362.6h1.8v1.8h-1.8zM202.6 371.6h1.8v1.8h-1.8zM129.8 383.2h1.8v1.8h-1.8zM77.9 365.5h1.8v1.8h-1.8zM113.9 377.4h1.8v1.8h-1.8zM74.7 347.4h1.8v1.8h-1.8zM99.9 375.4h1.8v1.8h-1.8zM81.5 354.8h1.8v1.8h-1.8zM69.9 330.5h1.8v1.8h-1.8zM106.7 380.5h1.8v1.8h-1.8zM224.5 371.5h1.8v1.8h-1.8zM66.0 321.7h1.8v1.8h-1.8zM73.3 338.8h1.8v1.8h-1.8zM140.3 381.3h1.8v1.8h-1.8zM218.4 370.8h1.8v1.8h-1.8zM79.0 357.4h1.8v1.8h-1.8zM155.1 376.2h1.8v1.8h-1.8zM87.2 369.3h1.8v1.8h-1.8zM98.4 371.0h1.8v1.8h-1.8zM96.7 374.1h1.8v1.8h-1.8zM70.4 326.6h1.8v1.8h-1.8zM98.0 376.2h1.8v1.8h-1.8zM67.6 316.4h1.8v1.8h-1.8zM147.0 376.7h1.8v1.8h-1.8zM82.2 359.6h1.8v1.8h-1.8zM82.9 361.5h1.8v1.8h-1.8zM102.8 378.1h1.8v1.8h-1.8zM190.8 371.8h1.8v1.8h-1.8zM115.2 378.9h1.8v1.8h-1.8zM203.5 372.0h1.8v1.8h-1.8zM70.4 332.9h1.8v1.8h-1.8zM171.1 372.0h1.8v1.8h-1.8zM69.0 322.3h1.8v1.8h-1.8zM120.0 381.9h1.8v1.8h-1.8zM82.7 366.7h1.8v1.8h-1.8zM214.9 369.8h1.8v1.8h-1.8zM69.6 323.3h1.8v1.8h-1.8zM68.2 333.2h1.8v1.8h-1.8zM213.4 370.4h1.8v1.8h-1.8zM112.8 375.4h1.8v1.8h-1.8zM112.5 383.6h1.8v1.8h-1.8zM63.6 308.2h1.8v1.8h-1.8zM148.3 378.1h1.8v1.8h-1.8z" fill="#f08030"/><path d="M76.6 341.5h1.7v1.7h-1.7zM76.4 340.9h1.7v1.7h-1.7zM71.5 325.6h1.7v1.7h-1.7zM82.0 359.3h1.7v1.7h-1.7zM72.9 333.2h1.7v1.7h-1.7zM75.4 334.5h1.7v1.7h-1.7zM80.9 357.3h1.7v1.7h-1.7zM80.5 350.5h1.7v1.7h-1.7zM76.7 340.8h1.7v1.7h-1.7zM74.6 331.7h1.7v1.7h-1.7zM78.2 343.4h1.7v1.7h-1.7zM79.0 348.2h1.7v1.7h-1.7zM73.5 327.5h1.7v1.7h-1.7zM84.4 358.9h1.7v1.7h-1.7zM72.4 324.2h1.7v1.7h-1.7zM71.4 322.3h1.7v1.7h-1.7zM81.9 356.2h1.7v1.7h-1.7zM72.8 326.2h1.7v1.7h-1.7zM73.5 325.6h1.7v1.7h-1.7zM84.1 356.9h1.7v1.7h-1.7zM76.6 345.2h1.7v1.7h-1.7zM70.9 322.8h1.7v1.7h-1.7zM74.3 330.8h1.7v1.7h-1.7zM75.9 342.9h1.7v1.7h-1.7zM86.9 362.3h1.7v1.7h-1.7zM82.9 359.5h1.7v1.7h-1.7zM72.7 330.1h1.7v1.7h-1.7zM81.7 354.1h1.7v1.7h-1.7zM73.8 335.7h1.7v1.7h-1.7zM71.7 324.7h1.7v1.7h-1.7zM75.7 344.0h1.7v1.7h-1.7zM74.2 335.3h1.7v1.7h-1.7zM82.1 354.9h1.7v1.7h-1.7zM71.2 324.9h1.7v1.7h-1.7zM77.2 343.1h1.7v1.7h-1.7zM71.4 325.3h1.7v1.7h-1.7zM80.3 348.4h1.7v1.7h-1.7zM72.9 325.5h1.7v1.7h-1.7zM78.6 349.7h1.7v1.7h-1.7zM74.2 338.3h1.7v1.7h-1.7zM78.6 348.4h1.7v1.7h-1.7zM86.5 362.4h1.7v1.7h-1.7zM85.2 362.2h1.7v1.7h-1.7zM85.1 358.0h1.7v1.7h-1.7zM81.6 355.2h1.7v1.7h-1.7zM84.6 358.3h1.7v1.7h-1.7zM82.4 355.2h1.7v1.7h-1.7zM72.3 324.6h1.7v1.7h-1.7zM75.8 336.2h1.7v1.7h-1.7zM75.1 333.6h1.7v1.7h-1.7zM78.1 346.2h1.7v1.7h-1.7zM74.3 339.9h1.7v1.7h-1.7zM84.0 361.8h1.7v1.7h-1.7zM84.1 361.1h1.7v1.7h-1.7zM71.4 325.4h1.7v1.7h-1.7zM74.9 341.0h1.7v1.7h-1.7zM72.6 323.8h1.7v1.7h-1.7zM77.4 343.8h1.7v1.7h-1.7zM86.5 363.8h1.7v1.7h-1.7zM76.5 345.1h1.7v1.7h-1.7zM72.8 325.9h1.7v1.7h-1.7zM83.5 358.0h1.7v1.7h-1.7zM72.9 326.9h1.7v1.7h-1.7zM76.0 338.1h1.7v1.7h-1.7zM76.6 345.0h1.7v1.7h-1.7zM78.5 347.2h1.7v1.7h-1.7zM71.8 325.7h1.7v1.7h-1.7zM77.4 346.4h1.7v1.7h-1.7zM78.2 346.6h1.7v1.7h-1.7zM79.3 354.4h1.7v1.7h-1.7zM84.7 360.4h1.7v1.7h-1.7zM86.9 366.5h1.7v1.7h-1.7zM83.1 359.7h1.7v1.7h-1.7zM82.5 358.0h1.7v1.7h-1.7zM73.1 327.8h1.7v1.7h-1.7zM80.7 350.3h1.7v1.7h-1.7zM84.9 360.4h1.7v1.7h-1.7zM81.5 354.5h1.7v1.7h-1.7zM72.6 324.0h1.7v1.7h-1.7zM83.8 358.1h1.7v1.7h-1.7zM86.2 364.5h1.7v1.7h-1.7zM86.8 362.8h1.7v1.7h-1.7zM78.9 351.1h1.7v1.7h-1.7zM86.4 364.9h1.7v1.7h-1.7zM72.9 322.9h1.7v1.7h-1.7zM79.6 355.0h1.7v1.7h-1.7zM71.4 324.7h1.7v1.7h-1.7zM80.1 348.5h1.7v1.7h-1.7zM76.5 343.2h1.7v1.7h-1.7zM80.8 353.9h1.7v1.7h-1.7zM76.5 340.2h1.7v1.7h-1.7zM84.4 362.5h1.7v1.7h-1.7zM77.4 342.7h1.7v1.7h-1.7zM75.3 343.8h1.7v1.7h-1.7zM87.0 363.4h1.7v1.7h-1.7zM72.5 323.7h1.7v1.7h-1.7zM82.6 353.2h1.7v1.7h-1.7zM79.6 349.8h1.7v1.7h-1.7zM86.2 365.5h1.7v1.7h-1.7zM71.1 326.0h1.7v1.7h-1.7zM74.9 339.9h1.7v1.7h-1.7zM73.0 328.7h1.7v1.7h-1.7zM76.9 344.2h1.7v1.7h-1.7zM85.7 361.3h1.7v1.7h-1.7zM83.9 360.5h1.7v1.7h-1.7zM78.6 345.7h1.7v1.7h-1.7zM72.7 324.8h1.7v1.7h-1.7zM75.9 340.6h1.7v1.7h-1.7zM77.1 346.7h1.7v1.7h-1.7zM84.2 361.6h1.7v1.7h-1.7zM73.2 325.3h1.7v1.7h-1.7zM80.0 347.9h1.7v1.7h-1.7zM70.8 323.7h1.7v1.7h-1.7zM74.3 331.1h1.7v1.7h-1.7zM70.8 324.4h1.7v1.7h-1.7zM80.8 355.3h1.7v1.7h-1.7zM72.2 322.3h1.7v1.7h-1.7zM76.1 345.2h1.7v1.7h-1.7zM73.3 336.1h1.7v1.7h-1.7zM81.7 352.9h1.7v1.7h-1.7zM80.4 352.4h1.7v1.7h-1.7zM75.6 340.9h1.7v1.7h-1.7zM77.2 346.1h1.7v1.7h-1.7zM73.8 332.7h1.7v1.7h-1.7z" fill="#9ad848"/><path d="M80.0 324.9h1.7v1.7h-1.7zM85.8 348.8h1.7v1.7h-1.7zM79.7 325.7h1.7v1.7h-1.7zM79.9 321.9h1.7v1.7h-1.7zM86.3 349.2h1.7v1.7h-1.7zM79.4 322.0h1.7v1.7h-1.7zM87.0 352.6h1.7v1.7h-1.7zM79.8 323.4h1.7v1.7h-1.7zM80.0 323.0h1.7v1.7h-1.7zM79.6 326.7h1.7v1.7h-1.7zM79.8 324.5h1.7v1.7h-1.7zM86.9 350.9h1.7v1.7h-1.7zM86.0 348.9h1.7v1.7h-1.7zM79.3 322.7h1.7v1.7h-1.7zM79.7 325.7h1.7v1.7h-1.7zM80.1 322.4h1.7v1.7h-1.7zM86.0 348.0h1.7v1.7h-1.7zM85.6 345.1h1.7v1.7h-1.7zM82.0 333.5h1.7v1.7h-1.7zM80.0 325.7h1.7v1.7h-1.7zM79.5 325.0h1.7v1.7h-1.7zM84.9 342.6h1.7v1.7h-1.7zM80.8 325.4h1.7v1.7h-1.7zM86.7 349.5h1.7v1.7h-1.7zM79.4 324.5h1.7v1.7h-1.7zM81.1 331.0h1.7v1.7h-1.7zM79.3 324.4h1.7v1.7h-1.7zM87.0 348.2h1.7v1.7h-1.7zM81.5 333.9h1.7v1.7h-1.7zM78.9 323.0h1.7v1.7h-1.7zM79.8 324.7h1.7v1.7h-1.7zM80.9 331.0h1.7v1.7h-1.7zM83.8 338.6h1.7v1.7h-1.7zM85.3 343.3h1.7v1.7h-1.7zM82.8 333.4h1.7v1.7h-1.7zM79.3 322.1h1.7v1.7h-1.7zM79.7 323.9h1.7v1.7h-1.7zM85.9 345.8h1.7v1.7h-1.7zM85.5 344.5h1.7v1.7h-1.7zM84.7 346.4h1.7v1.7h-1.7zM83.9 342.7h1.7v1.7h-1.7zM83.0 334.6h1.7v1.7h-1.7zM81.7 327.6h1.7v1.7h-1.7zM81.0 326.7h1.7v1.7h-1.7zM84.6 345.8h1.7v1.7h-1.7zM79.5 324.6h1.7v1.7h-1.7zM81.3 332.0h1.7v1.7h-1.7zM81.2 326.7h1.7v1.7h-1.7zM80.9 327.2h1.7v1.7h-1.7zM84.7 343.5h1.7v1.7h-1.7zM80.6 324.6h1.7v1.7h-1.7zM78.9 321.7h1.7v1.7h-1.7zM80.8 331.4h1.7v1.7h-1.7zM79.2 323.1h1.7v1.7h-1.7zM79.5 323.1h1.7v1.7h-1.7zM79.7 325.0h1.7v1.7h-1.7zM85.4 344.2h1.7v1.7h-1.7zM84.5 345.6h1.7v1.7h-1.7zM82.8 337.2h1.7v1.7h-1.7zM82.5 333.0h1.7v1.7h-1.7zM80.6 328.5h1.7v1.7h-1.7zM83.9 342.9h1.7v1.7h-1.7zM85.5 346.6h1.7v1.7h-1.7z" fill="#20c090"/><path d="M78.6 332.4h1.4v1.4h-1.4zM86.3 357.3h1.4v1.4h-1.4zM76.5 319.9h1.4v1.4h-1.4zM141.4 379.5h1.4v1.4h-1.4zM90.5 361.7h1.4v1.4h-1.4zM80.9 340.0h1.4v1.4h-1.4zM86.5 358.3h1.4v1.4h-1.4zM79.0 336.1h1.4v1.4h-1.4zM93.1 364.4h1.4v1.4h-1.4zM111.0 380.9h1.4v1.4h-1.4zM89.5 363.0h1.4v1.4h-1.4zM86.9 358.6h1.4v1.4h-1.4zM135.0 375.4h1.4v1.4h-1.4zM80.0 337.5h1.4v1.4h-1.4zM149.4 374.2h1.4v1.4h-1.4zM75.3 321.8h1.4v1.4h-1.4zM130.9 382.2h1.4v1.4h-1.4zM89.0 361.5h1.4v1.4h-1.4zM76.5 329.8h1.4v1.4h-1.4zM97.4 370.0h1.4v1.4h-1.4zM134.7 376.8h1.4v1.4h-1.4zM77.0 331.0h1.4v1.4h-1.4zM89.1 359.9h1.4v1.4h-1.4zM87.2 355.3h1.4v1.4h-1.4zM123.6 382.7h1.4v1.4h-1.4zM143.9 377.8h1.4v1.4h-1.4zM86.8 358.2h1.4v1.4h-1.4zM88.3 363.4h1.4v1.4h-1.4zM85.6 354.4h1.4v1.4h-1.4zM104.8 374.4h1.4v1.4h-1.4zM77.2 325.0h1.4v1.4h-1.4zM93.4 364.9h1.4v1.4h-1.4zM92.0 368.0h1.4v1.4h-1.4zM135.3 380.2h1.4v1.4h-1.4zM122.6 379.8h1.4v1.4h-1.4zM122.1 377.4h1.4v1.4h-1.4zM78.8 329.2h1.4v1.4h-1.4zM83.2 349.6h1.4v1.4h-1.4zM81.7 340.2h1.4v1.4h-1.4zM136.3 380.1h1.4v1.4h-1.4zM76.3 319.1h1.4v1.4h-1.4zM147.6 376.6h1.4v1.4h-1.4zM85.7 351.6h1.4v1.4h-1.4zM89.9 365.6h1.4v1.4h-1.4zM79.0 337.7h1.4v1.4h-1.4zM94.5 369.3h1.4v1.4h-1.4zM76.9 321.2h1.4v1.4h-1.4zM145.4 375.3h1.4v1.4h-1.4zM119.6 381.5h1.4v1.4h-1.4zM97.8 377.8h1.4v1.4h-1.4zM78.5 332.2h1.4v1.4h-1.4zM80.2 341.7h1.4v1.4h-1.4zM95.5 372.6h1.4v1.4h-1.4zM84.3 348.5h1.4v1.4h-1.4zM81.5 346.5h1.4v1.4h-1.4zM87.9 359.7h1.4v1.4h-1.4zM93.1 368.4h1.4v1.4h-1.4zM82.2 349.8h1.4v1.4h-1.4zM73.2 311.0h1.4v1.4h-1.4zM107.3 380.2h1.4v1.4h-1.4zM137.0 379.6h1.4v1.4h-1.4zM93.4 369.7h1.4v1.4h-1.4zM101.2 379.9h1.4v1.4h-1.4zM104.4 379.7h1.4v1.4h-1.4zM150.4 375.2h1.4v1.4h-1.4zM144.1 379.6h1.4v1.4h-1.4zM91.5 364.9h1.4v1.4h-1.4zM134.7 377.6h1.4v1.4h-1.4zM74.3 312.3h1.4v1.4h-1.4zM89.2 360.4h1.4v1.4h-1.4z" fill="#e0a040"/><path d="M63.0 300.0h1.2v1.2h-1.2zM63.0 302.3h1.2v1.2h-1.2zM63.7 298.8h1.2v1.2h-1.2zM136.7 385.2h1.2v1.2h-1.2zM127.5 394.0h1.2v1.2h-1.2zM111.4 387.5h1.2v1.2h-1.2zM95.8 391.5h1.2v1.2h-1.2zM102.2 388.7h1.2v1.2h-1.2zM109.2 388.3h1.2v1.2h-1.2zM131.5 384.1h1.2v1.2h-1.2zM120.3 389.1h1.2v1.2h-1.2zM99.8 387.4h1.2v1.2h-1.2zM110.2 393.5h1.2v1.2h-1.2zM97.4 395.7h1.2v1.2h-1.2zM134.4 386.8h1.2v1.2h-1.2zM124.8 395.7h1.2v1.2h-1.2zM136.6 389.1h1.2v1.2h-1.2zM113.7 392.0h1.2v1.2h-1.2zM101.1 391.0h1.2v1.2h-1.2zM122.8 393.4h1.2v1.2h-1.2zM130.8 392.6h1.2v1.2h-1.2z" fill="#f08030"/><line x1="50.6" y1="373.00" x2="247.0" y2="373.00" stroke="#111" stroke-width="1.5"/><text x="70.40" y="303.60" font-size="10.5" text-anchor="start" fill="#e8884a" color="#e8884a" >Ge-Se</text><text x="79.90" y="318.50" font-size="10.5" text-anchor="start" fill="#d8a850" color="#d8a850" >Ge-Te</text><text x="90.20" y="343.50" font-size="10.5" text-anchor="start" fill="#30c0a0" color="#30c0a0" >Sb-Te</text><text x="65.00" y="392.50" font-size="10.5" text-anchor="start" fill="#a8d860" color="#a8d860" >Sb-Se</text><path d="M50.6,230.9 L247.0,230.9 L247.0,409.0 L50.6,409.0 Z" fill="none" stroke="#1a1a1a" stroke-width="1.5"/><line x1="50.6" y1="290.1" x2="247.0" y2="290.1" stroke="#1a1a1a" stroke-width="1.5"/><line x1="50.60" y1="290.1" x2="50.60" y2="287.6" stroke="#1a1a1a" stroke-width="1.4"/><line x1="50.60" y1="409.0" x2="50.60" y2="406.5" stroke="#1a1a1a" stroke-width="1.4"/><line x1="70.24" y1="290.1" x2="70.24" y2="288.5" stroke="#1a1a1a" stroke-width="1.4"/><line x1="70.24" y1="409.0" x2="70.24" y2="407.4" stroke="#1a1a1a" stroke-width="1.4"/><line x1="89.88" y1="290.1" x2="89.88" y2="287.6" stroke="#1a1a1a" stroke-width="1.4"/><line x1="89.88" y1="409.0" x2="89.88" y2="406.5" stroke="#1a1a1a" stroke-width="1.4"/><line x1="109.52" y1="290.1" x2="109.52" y2="288.5" stroke="#1a1a1a" stroke-width="1.4"/><line x1="109.52" y1="409.0" x2="109.52" y2="407.4" stroke="#1a1a1a" stroke-width="1.4"/><line x1="129.16" y1="290.1" x2="129.16" y2="287.6" stroke="#1a1a1a" stroke-width="1.4"/><line x1="129.16" y1="409.0" x2="129.16" y2="406.5" stroke="#1a1a1a" stroke-width="1.4"/><line x1="148.80" y1="290.1" x2="148.80" y2="288.5" stroke="#1a1a1a" stroke-width="1.4"/><line x1="148.80" y1="409.0" x2="148.80" y2="407.4" stroke="#1a1a1a" stroke-width="1.4"/><line x1="168.44" y1="290.1" x2="168.44" y2="287.6" stroke="#1a1a1a" stroke-width="1.4"/><line x1="168.44" y1="409.0" x2="168.44" y2="406.5" stroke="#1a1a1a" stroke-width="1.4"/><line x1="188.08" y1="290.1" x2="188.08" y2="288.5" stroke="#1a1a1a" stroke-width="1.4"/><line x1="188.08" y1="409.0" x2="188.08" y2="407.4" stroke="#1a1a1a" stroke-width="1.4"/><line x1="207.72" y1="290.1" x2="207.72" y2="287.6" stroke="#1a1a1a" stroke-width="1.4"/><line x1="207.72" y1="409.0" x2="207.72" y2="406.5" stroke="#1a1a1a" stroke-width="1.4"/><line x1="227.36" y1="290.1" x2="227.36" y2="288.5" stroke="#1a1a1a" stroke-width="1.4"/><line x1="227.36" y1="409.0" x2="227.36" y2="407.4" stroke="#1a1a1a" stroke-width="1.4"/><line x1="247.00" y1="290.1" x2="247.00" y2="287.6" stroke="#1a1a1a" stroke-width="1.4"/><line x1="247.00" y1="409.0" x2="247.00" y2="406.5" stroke="#1a1a1a" stroke-width="1.4"/><line x1="50.6" y1="290.10" x2="53.1" y2="290.10" stroke="#1a1a1a" stroke-width="1.4"/><line x1="50.6" y1="280.23" x2="52.2" y2="280.23" stroke="#1a1a1a" stroke-width="1.4"/><line x1="50.6" y1="270.36" x2="53.1" y2="270.36" stroke="#1a1a1a" stroke-width="1.4"/><line x1="50.6" y1="260.49" x2="52.2" y2="260.49" stroke="#1a1a1a" stroke-width="1.4"/><line x1="50.6" y1="250.62" x2="53.1" y2="250.62" stroke="#1a1a1a" stroke-width="1.4"/><line x1="50.6" y1="240.75" x2="52.2" y2="240.75" stroke="#1a1a1a" stroke-width="1.4"/><line x1="50.6" y1="230.88" x2="53.1" y2="230.88" stroke="#1a1a1a" stroke-width="1.4"/><line x1="50.6" y1="408.02" x2="52.2" y2="408.02" stroke="#1a1a1a" stroke-width="1.4"/><line x1="50.6" y1="396.35" x2="53.1" y2="396.35" stroke="#1a1a1a" stroke-width="1.4"/><line x1="50.6" y1="384.68" x2="52.2" y2="384.68" stroke="#1a1a1a" stroke-width="1.4"/><line x1="50.6" y1="373.00" x2="53.1" y2="373.00" stroke="#1a1a1a" stroke-width="1.4"/><line x1="50.6" y1="361.32" x2="52.2" y2="361.32" stroke="#1a1a1a" stroke-width="1.4"/><line x1="50.6" y1="349.65" x2="53.1" y2="349.65" stroke="#1a1a1a" stroke-width="1.4"/><line x1="50.6" y1="337.98" x2="52.2" y2="337.98" stroke="#1a1a1a" stroke-width="1.4"/><line x1="50.6" y1="326.30" x2="53.1" y2="326.30" stroke="#1a1a1a" stroke-width="1.4"/><line x1="50.6" y1="314.62" x2="52.2" y2="314.62" stroke="#1a1a1a" stroke-width="1.4"/><line x1="50.6" y1="302.95" x2="53.1" y2="302.95" stroke="#1a1a1a" stroke-width="1.4"/><text x="46.60" y="293.00" font-size="11" text-anchor="end" fill="#111" color="#111" >0</text><text x="46.60" y="273.26" font-size="11" text-anchor="end" fill="#111" color="#111" >3</text><text x="46.60" y="253.52" font-size="11" text-anchor="end" fill="#111" color="#111" >6</text><text x="46.60" y="233.78" font-size="11" text-anchor="end" fill="#111" color="#111" >9</text><text x="46.60" y="305.85" font-size="11" text-anchor="end" fill="#111" color="#111" >0.3</text><text x="46.60" y="329.20" font-size="11" text-anchor="end" fill="#111" color="#111" >0.2</text><text x="46.60" y="352.55" font-size="11" text-anchor="end" fill="#111" color="#111" >0.1</text><text x="46.60" y="375.90" font-size="11" text-anchor="end" fill="#111" color="#111" >0.0</text><text x="46.60" y="399.25" font-size="11" text-anchor="end" fill="#111" color="#111" >-0.1</text><text x="50.60" y="421.50" font-size="11" text-anchor="middle" fill="#111" color="#111" >2</text><text x="89.88" y="421.50" font-size="11" text-anchor="middle" fill="#111" color="#111" >3</text><text x="129.16" y="421.50" font-size="11" text-anchor="middle" fill="#111" color="#111" >4</text><text x="168.44" y="421.50" font-size="11" text-anchor="middle" fill="#111" color="#111" >5</text><text x="207.72" y="421.50" font-size="11" text-anchor="middle" fill="#111" color="#111" >6</text><text x="247.00" y="421.50" font-size="11" text-anchor="middle" fill="#111" color="#111" >7</text><text x="149.20" y="435.60" font-size="11.4" text-anchor="middle" fill="#111" color="#111" >Distance (Å)</text><text x="0" y="0" font-size="11" text-anchor="middle" fill="#111" color="#111" transform="translate(23.60,256.00) rotate(-90)">RDF</text><text x="0" y="0" font-size="12.2" text-anchor="middle" fill="#111" color="#111" transform="translate(22.6,348.8) rotate(-90)">B<tspan font-size="9.8" dy="3.3">AB</tspan><tspan dy="-3.3"> (electrons)</tspan></text><text x="239.40" y="304.70" font-size="11.4" text-anchor="end" fill="#111" color="#111" >GSS4T1</text><line x1="136" y1="237.6" x2="157.6" y2="237.6" stroke="#f08030" stroke-width="1.4"/><text x="160.70" y="241.20" font-size="10" text-anchor="start" fill="#111" color="#111" >Ge-Se</text><line x1="192.8" y1="237.6" x2="214.4" y2="237.6" stroke="#9ad848" stroke-width="1.4"/><text x="216.80" y="241.20" font-size="10" text-anchor="start" fill="#111" color="#111" >Sb-Se</text><line x1="136" y1="249.9" x2="157.6" y2="249.9" stroke="#e8b040" stroke-width="1.4"/><text x="160.70" y="253.50" font-size="10" text-anchor="start" fill="#111" color="#111" >Ge-Te</text><line x1="192.8" y1="249.9" x2="214.4" y2="249.9" stroke="#20c090" stroke-width="1.4"/><text x="216.80" y="253.50" font-size="10" text-anchor="start" fill="#111" color="#111" >Sb-Te</text><line x1="297.8" y1="278.34" x2="494.6" y2="278.34" stroke="#111" stroke-width="1.2" stroke-dasharray="6,5.6"/><path d="M297.80,290.20 L298.29,290.20 L298.79,290.20 L299.28,290.20 L299.77,290.20 L300.27,290.20 L300.76,290.20 L301.25,290.20 L301.75,290.20 L302.24,290.20 L302.73,290.20 L303.23,290.20 L303.72,290.20 L304.21,290.20 L304.71,290.20 L305.20,290.20 L305.69,290.20 L306.18,290.20 L306.68,290.20 L307.17,290.20 L307.66,290.20 L308.16,290.20 L308.65,290.20 L309.14,290.20 L309.64,290.20 L310.13,290.20 L310.62,290.20 L311.12,290.20 L311.61,290.20 L312.10,290.20 L312.60,290.20 L313.09,290.20 L313.58,290.20 L314.08,290.20 L314.57,290.20 L315.06,290.20 L315.56,290.20 L316.05,290.20 L316.54,290.20 L317.04,290.20 L317.53,290.20 L318.02,290.20 L318.52,290.20 L319.01,290.20 L319.50,290.20 L320.00,290.20 L320.49,290.20 L320.98,290.20 L321.48,290.20 L321.97,290.20 L322.46,290.20 L322.95,290.20 L323.45,290.20 L323.94,290.20 L324.43,290.20 L324.93,290.20 L325.42,290.10 L325.91,289.25 L326.41,288.20 L326.90,287.00 L327.39,285.71 L327.89,284.37 L328.38,283.03 L328.87,281.73 L329.37,280.52 L329.86,279.18 L330.35,277.71 L330.85,276.31 L331.34,275.19 L331.83,274.52 L332.33,274.49 L332.82,275.00 L333.31,275.88 L333.81,276.96 L334.30,278.05 L334.79,278.99 L335.29,279.62 L335.78,280.12 L336.27,280.63 L336.77,281.14 L337.26,281.64 L337.75,282.13 L338.25,282.59 L338.74,283.01 L339.23,283.39 L339.72,283.72 L340.22,283.98 L340.71,284.18 L341.20,284.29 L341.70,284.37 L342.19,284.45 L342.68,284.53 L343.18,284.61 L343.67,284.68 L344.16,284.74 L344.66,284.80 L345.15,284.86 L345.64,284.91 L346.14,284.96 L346.63,285.00 L347.12,285.04 L347.62,285.07 L348.11,285.09 L348.60,285.11 L349.10,285.12 L349.59,285.13 L350.08,285.12 L350.58,285.12 L351.07,285.10 L351.56,285.07 L352.06,285.04 L352.55,285.00 L353.04,284.95 L353.54,284.89 L354.03,284.83 L354.52,284.75 L355.02,284.67 L355.51,284.57 L356.00,284.47 L356.49,284.36 L356.99,284.23 L357.48,284.10 L357.97,283.96 L358.47,283.82 L358.96,283.67 L359.45,283.52 L359.95,283.36 L360.44,283.20 L360.93,283.04 L361.43,282.87 L361.92,282.69 L362.41,282.51 L362.91,282.33 L363.40,282.15 L363.89,281.96 L364.39,281.77 L364.88,281.57 L365.37,281.38 L365.87,281.18 L366.36,280.98 L366.85,280.77 L367.35,280.57 L367.84,280.36 L368.33,280.15 L368.83,279.95 L369.32,279.74 L369.81,279.53 L370.31,279.31 L370.80,279.10 L371.29,278.89 L371.78,278.68 L372.28,278.47 L372.77,278.26 L373.26,278.03 L373.76,277.77 L374.25,277.50 L374.74,277.22 L375.24,276.92 L375.73,276.61 L376.22,276.29 L376.72,275.97 L377.21,275.64 L377.70,275.32 L378.20,275.00 L378.69,274.69 L379.18,274.38 L379.68,274.09 L380.17,273.81 L380.66,273.55 L381.16,273.31 L381.65,273.09 L382.14,272.90 L382.64,272.73 L383.13,272.59 L383.62,272.49 L384.12,272.43 L384.61,272.40 L385.10,272.39 L385.60,272.40 L386.09,272.42 L386.58,272.45 L387.08,272.49 L387.57,272.55 L388.06,272.62 L388.55,272.70 L389.05,272.78 L389.54,272.88 L390.03,272.99 L390.53,273.10 L391.02,273.22 L391.51,273.35 L392.01,273.48 L392.50,273.62 L392.99,273.77 L393.49,273.91 L393.98,274.06 L394.47,274.22 L394.97,274.37 L395.46,274.53 L395.95,274.69 L396.45,274.85 L396.94,275.00 L397.43,275.16 L397.93,275.31 L398.42,275.47 L398.91,275.62 L399.41,275.76 L399.90,275.90 L400.39,276.04 L400.89,276.18 L401.38,276.33 L401.87,276.48 L402.37,276.64 L402.86,276.80 L403.35,276.97 L403.85,277.14 L404.34,277.31 L404.83,277.48 L405.32,277.65 L405.82,277.83 L406.31,278.00 L406.80,278.18 L407.30,278.35 L407.79,278.53 L408.28,278.70 L408.78,278.87 L409.27,279.03 L409.76,279.20 L410.26,279.36 L410.75,279.51 L411.24,279.66 L411.74,279.80 L412.23,279.94 L412.72,280.07 L413.22,280.19 L413.71,280.31 L414.20,280.42 L414.70,280.51 L415.19,280.60 L415.68,280.68 L416.18,280.75 L416.67,280.82 L417.16,280.88 L417.66,280.94 L418.15,280.99 L418.64,281.04 L419.14,281.09 L419.63,281.13 L420.12,281.16 L420.62,281.20 L421.11,281.23 L421.60,281.26 L422.09,281.28 L422.59,281.30 L423.08,281.32 L423.57,281.33 L424.07,281.34 L424.56,281.34 L425.05,281.35 L425.55,281.35 L426.04,281.34 L426.53,281.34 L427.03,281.33 L427.52,281.31 L428.01,281.30 L428.51,281.28 L429.00,281.26 L429.49,281.23 L429.99,281.20 L430.48,281.17 L430.97,281.14 L431.47,281.10 L431.96,281.07 L432.45,281.02 L432.95,280.98 L433.44,280.94 L433.93,280.89 L434.43,280.84 L434.92,280.78 L435.41,280.73 L435.91,280.67 L436.40,280.61 L436.89,280.54 L437.38,280.46 L437.88,280.39 L438.37,280.30 L438.86,280.22 L439.36,280.12 L439.85,280.03 L440.34,279.93 L440.84,279.83 L441.33,279.72 L441.82,279.61 L442.32,279.50 L442.81,279.39 L443.30,279.28 L443.80,279.16 L444.29,279.04 L444.78,278.92 L445.28,278.80 L445.77,278.68 L446.26,278.56 L446.76,278.43 L447.25,278.31 L447.74,278.19 L448.24,278.07 L448.73,277.95 L449.22,277.83 L449.72,277.71 L450.21,277.59 L450.70,277.47 L451.20,277.36 L451.69,277.24 L452.18,277.13 L452.68,277.03 L453.17,276.92 L453.66,276.82 L454.15,276.72 L454.65,276.63 L455.14,276.54 L455.63,276.45 L456.13,276.37 L456.62,276.29 L457.11,276.22 L457.61,276.15 L458.10,276.09 L458.59,276.03 L459.09,275.98 L459.58,275.93 L460.07,275.89 L460.57,275.85 L461.06,275.81 L461.55,275.78 L462.05,275.75 L462.54,275.72 L463.03,275.70 L463.53,275.67 L464.02,275.66 L464.51,275.64 L465.01,275.63 L465.50,275.62 L465.99,275.61 L466.49,275.61 L466.98,275.60 L467.47,275.61 L467.97,275.61 L468.46,275.62 L468.95,275.62 L469.45,275.63 L469.94,275.65 L470.43,275.66 L470.92,275.68 L471.42,275.70 L471.91,275.72 L472.40,275.75 L472.90,275.77 L473.39,275.80 L473.88,275.83 L474.38,275.87 L474.87,275.90 L475.36,275.94 L475.86,275.98 L476.35,276.02 L476.84,276.06 L477.34,276.10 L477.83,276.15 L478.32,276.19 L478.82,276.24 L479.31,276.29 L479.80,276.34 L480.30,276.40 L480.79,276.45 L481.28,276.50 L481.78,276.56 L482.27,276.62 L482.76,276.68 L483.26,276.74 L483.75,276.80 L484.24,276.86 L484.74,276.93 L485.23,276.99 L485.72,277.06 L486.22,277.12 L486.71,277.19 L487.20,277.26 L487.69,277.33 L488.19,277.40 L488.68,277.47 L489.17,277.54 L489.67,277.61 L490.16,277.68 L490.65,277.75 L491.15,277.82 L491.64,277.90 L492.13,277.97 L492.63,278.04 L493.12,278.12 L493.61,278.19 L494.11,278.27 L494.60,278.34" fill="none" stroke="#e8d040" stroke-width="1.25" stroke-linejoin="round" /><path d="M297.80,290.20 L298.29,290.20 L298.79,290.20 L299.28,290.20 L299.77,290.20 L300.27,290.20 L300.76,290.20 L301.25,290.20 L301.75,290.20 L302.24,290.20 L302.73,290.20 L303.23,290.20 L303.72,290.20 L304.21,290.20 L304.71,290.20 L305.20,290.20 L305.69,290.20 L306.18,290.20 L306.68,290.20 L307.17,290.20 L307.66,290.20 L308.16,290.20 L308.65,290.20 L309.14,290.20 L309.64,290.20 L310.13,290.20 L310.62,290.20 L311.12,290.20 L311.61,290.20 L312.10,290.20 L312.60,290.20 L313.09,290.20 L313.58,290.20 L314.08,290.20 L314.57,290.20 L315.06,290.20 L315.56,290.20 L316.05,290.20 L316.54,290.20 L317.04,290.20 L317.53,290.20 L318.02,290.20 L318.52,290.20 L319.01,290.20 L319.50,290.13 L320.00,289.30 L320.49,288.26 L320.98,287.08 L321.48,285.82 L321.97,284.57 L322.46,283.39 L322.95,282.22 L323.45,280.89 L323.94,279.60 L324.43,278.60 L324.93,278.11 L325.42,278.36 L325.91,279.24 L326.41,280.46 L326.90,281.71 L327.39,282.71 L327.89,283.21 L328.38,283.58 L328.87,283.95 L329.37,284.32 L329.86,284.68 L330.35,285.03 L330.85,285.36 L331.34,285.67 L331.83,285.96 L332.33,286.20 L332.82,286.41 L333.31,286.56 L333.81,286.67 L334.30,286.72 L334.79,286.70 L335.29,286.62 L335.78,286.51 L336.27,286.38 L336.77,286.24 L337.26,286.10 L337.75,285.94 L338.25,285.78 L338.74,285.60 L339.23,285.42 L339.72,285.23 L340.22,285.03 L340.71,284.82 L341.20,284.61 L341.70,284.39 L342.19,284.16 L342.68,283.93 L343.18,283.70 L343.67,283.46 L344.16,283.21 L344.66,282.97 L345.15,282.72 L345.64,282.46 L346.14,282.21 L346.63,281.95 L347.12,281.69 L347.62,281.43 L348.11,281.17 L348.60,280.91 L349.10,280.64 L349.59,280.37 L350.08,280.07 L350.58,279.76 L351.07,279.43 L351.56,279.08 L352.06,278.72 L352.55,278.35 L353.04,277.96 L353.54,277.57 L354.03,277.17 L354.52,276.75 L355.02,276.34 L355.51,275.91 L356.00,275.48 L356.49,275.05 L356.99,274.62 L357.48,274.19 L357.97,273.76 L358.47,273.33 L358.96,272.91 L359.45,272.49 L359.95,272.07 L360.44,271.67 L360.93,271.27 L361.43,270.88 L361.92,270.51 L362.41,270.14 L362.91,269.80 L363.40,269.46 L363.89,269.14 L364.39,268.84 L364.88,268.56 L365.37,268.30 L365.87,268.06 L366.36,267.84 L366.85,267.65 L367.35,267.48 L367.84,267.34 L368.33,267.23 L368.83,267.15 L369.32,267.09 L369.81,267.07 L370.31,267.09 L370.80,267.14 L371.29,267.23 L371.78,267.36 L372.28,267.51 L372.77,267.68 L373.26,267.88 L373.76,268.10 L374.25,268.34 L374.74,268.58 L375.24,268.84 L375.73,269.10 L376.22,269.36 L376.72,269.62 L377.21,269.88 L377.70,270.13 L378.20,270.37 L378.69,270.59 L379.18,270.80 L379.68,270.98 L380.17,271.14 L380.66,271.28 L381.16,271.40 L381.65,271.53 L382.14,271.65 L382.64,271.77 L383.13,271.88 L383.62,271.99 L384.12,272.10 L384.61,272.21 L385.10,272.32 L385.60,272.43 L386.09,272.53 L386.58,272.63 L387.08,272.74 L387.57,272.84 L388.06,272.94 L388.55,273.04 L389.05,273.15 L389.54,273.25 L390.03,273.35 L390.53,273.46 L391.02,273.56 L391.51,273.67 L392.01,273.77 L392.50,273.88 L392.99,274.00 L393.49,274.11 L393.98,274.23 L394.47,274.34 L394.97,274.46 L395.46,274.59 L395.95,274.72 L396.45,274.85 L396.94,274.98 L397.43,275.12 L397.93,275.26 L398.42,275.41 L398.91,275.56 L399.41,275.71 L399.90,275.87 L400.39,276.02 L400.89,276.18 L401.38,276.34 L401.87,276.50 L402.37,276.67 L402.86,276.83 L403.35,277.00 L403.85,277.16 L404.34,277.33 L404.83,277.50 L405.32,277.66 L405.82,277.83 L406.31,278.00 L406.80,278.16 L407.30,278.32 L407.79,278.48 L408.28,278.64 L408.78,278.80 L409.27,278.96 L409.76,279.11 L410.26,279.26 L410.75,279.41 L411.24,279.55 L411.74,279.70 L412.23,279.83 L412.72,279.97 L413.22,280.10 L413.71,280.22 L414.20,280.34 L414.70,280.46 L415.19,280.57 L415.68,280.67 L416.18,280.77 L416.67,280.87 L417.16,280.96 L417.66,281.05 L418.15,281.14 L418.64,281.22 L419.14,281.30 L419.63,281.38 L420.12,281.46 L420.62,281.53 L421.11,281.60 L421.60,281.66 L422.09,281.72 L422.59,281.78 L423.08,281.84 L423.57,281.89 L424.07,281.94 L424.56,281.98 L425.05,282.02 L425.55,282.06 L426.04,282.09 L426.53,282.12 L427.03,282.14 L427.52,282.16 L428.01,282.18 L428.51,282.19 L429.00,282.20 L429.49,282.21 L429.99,282.21 L430.48,282.20 L430.97,282.19 L431.47,282.18 L431.96,282.16 L432.45,282.14 L432.95,282.11 L433.44,282.08 L433.93,282.05 L434.43,282.01 L434.92,281.96 L435.41,281.91 L435.91,281.86 L436.40,281.79 L436.89,281.71 L437.38,281.61 L437.88,281.51 L438.37,281.39 L438.86,281.27 L439.36,281.14 L439.85,280.99 L440.34,280.84 L440.84,280.69 L441.33,280.52 L441.82,280.35 L442.32,280.18 L442.81,280.00 L443.30,279.82 L443.80,279.63 L444.29,279.44 L444.78,279.25 L445.28,279.06 L445.77,278.87 L446.26,278.68 L446.76,278.48 L447.25,278.29 L447.74,278.11 L448.24,277.92 L448.73,277.74 L449.22,277.56 L449.72,277.39 L450.21,277.22 L450.70,277.06 L451.20,276.90 L451.69,276.76 L452.18,276.62 L452.68,276.49 L453.17,276.36 L453.66,276.25 L454.15,276.15 L454.65,276.06 L455.14,275.98 L455.63,275.91 L456.13,275.85 L456.62,275.79 L457.11,275.73 L457.61,275.67 L458.10,275.62 L458.59,275.57 L459.09,275.53 L459.58,275.49 L460.07,275.45 L460.57,275.41 L461.06,275.38 L461.55,275.35 L462.05,275.33 L462.54,275.30 L463.03,275.28 L463.53,275.26 L464.02,275.25 L464.51,275.24 L465.01,275.23 L465.50,275.22 L465.99,275.22 L466.49,275.22 L466.98,275.22 L467.47,275.22 L467.97,275.23 L468.46,275.24 L468.95,275.25 L469.45,275.26 L469.94,275.28 L470.43,275.30 L470.92,275.32 L471.42,275.34 L471.91,275.37 L472.40,275.40 L472.90,275.43 L473.39,275.46 L473.88,275.49 L474.38,275.53 L474.87,275.57 L475.36,275.61 L475.86,275.65 L476.35,275.70 L476.84,275.74 L477.34,275.79 L477.83,275.84 L478.32,275.89 L478.82,275.94 L479.31,276.00 L479.80,276.06 L480.30,276.11 L480.79,276.17 L481.28,276.24 L481.78,276.30 L482.27,276.36 L482.76,276.43 L483.26,276.50 L483.75,276.56 L484.24,276.63 L484.74,276.71 L485.23,276.78 L485.72,276.85 L486.22,276.93 L486.71,277.00 L487.20,277.08 L487.69,277.16 L488.19,277.24 L488.68,277.32 L489.17,277.40 L489.67,277.48 L490.16,277.56 L490.65,277.65 L491.15,277.73 L491.64,277.82 L492.13,277.90 L492.63,277.99 L493.12,278.07 L493.61,278.16 L494.11,278.25 L494.60,278.34" fill="none" stroke="#e84848" stroke-width="1.25" stroke-linejoin="round" /><path d="M297.80,290.20 L298.29,290.20 L298.79,290.20 L299.28,290.20 L299.77,290.20 L300.27,290.20 L300.76,290.20 L301.25,290.20 L301.75,290.20 L302.24,290.20 L302.73,290.20 L303.23,290.20 L303.72,290.20 L304.21,290.20 L304.71,290.20 L305.20,290.20 L305.69,290.20 L306.18,290.20 L306.68,290.20 L307.17,290.20 L307.66,290.20 L308.16,290.20 L308.65,290.20 L309.14,290.20 L309.64,290.20 L310.13,290.20 L310.62,290.20 L311.12,290.20 L311.61,290.20 L312.10,290.03 L312.60,289.25 L313.09,288.31 L313.58,287.24 L314.08,286.09 L314.57,284.91 L315.06,283.73 L315.56,282.62 L316.05,281.60 L316.54,280.50 L317.04,279.30 L317.53,278.09 L318.02,276.96 L318.52,275.97 L319.01,275.20 L319.50,274.75 L320.00,274.70 L320.49,275.18 L320.98,276.10 L321.48,277.27 L321.97,278.54 L322.46,279.72 L322.95,280.66 L323.45,281.41 L323.94,282.20 L324.43,283.00 L324.93,283.77 L325.42,284.48 L325.91,285.09 L326.41,285.58 L326.90,285.92 L327.39,286.06 L327.89,286.09 L328.38,286.09 L328.87,286.04 L329.37,285.95 L329.86,285.82 L330.35,285.66 L330.85,285.48 L331.34,285.27 L331.83,285.03 L332.33,284.78 L332.82,284.50 L333.31,284.22 L333.81,283.92 L334.30,283.61 L334.79,283.28 L335.29,282.95 L335.78,282.60 L336.27,282.25 L336.77,281.89 L337.26,281.53 L337.75,281.16 L338.25,280.79 L338.74,280.41 L339.23,280.04 L339.72,279.66 L340.22,279.29 L340.71,278.92 L341.20,278.55 L341.70,278.19 L342.19,277.83 L342.68,277.48 L343.18,277.14 L343.67,276.81 L344.16,276.50 L344.66,276.19 L345.15,275.90 L345.64,275.61 L346.14,275.31 L346.63,275.01 L347.12,274.70 L347.62,274.39 L348.11,274.08 L348.60,273.77 L349.10,273.46 L349.59,273.15 L350.08,272.85 L350.58,272.55 L351.07,272.25 L351.56,271.96 L352.06,271.67 L352.55,271.39 L353.04,271.13 L353.54,270.87 L354.03,270.62 L354.52,270.38 L355.02,270.16 L355.51,269.95 L356.00,269.76 L356.49,269.58 L356.99,269.42 L357.48,269.27 L357.97,269.15 L358.47,269.04 L358.96,268.96 L359.45,268.89 L359.95,268.85 L360.44,268.83 L360.93,268.82 L361.43,268.83 L361.92,268.84 L362.41,268.87 L362.91,268.90 L363.40,268.94 L363.89,269.00 L364.39,269.06 L364.88,269.13 L365.37,269.21 L365.87,269.30 L366.36,269.39 L366.85,269.50 L367.35,269.60 L367.84,269.72 L368.33,269.84 L368.83,269.96 L369.32,270.09 L369.81,270.23 L370.31,270.37 L370.80,270.51 L371.29,270.66 L371.78,270.81 L372.28,270.96 L372.77,271.11 L373.26,271.27 L373.76,271.42 L374.25,271.58 L374.74,271.74 L375.24,271.90 L375.73,272.05 L376.22,272.21 L376.72,272.38 L377.21,272.56 L377.70,272.74 L378.20,272.93 L378.69,273.13 L379.18,273.33 L379.68,273.54 L380.17,273.75 L380.66,273.96 L381.16,274.18 L381.65,274.40 L382.14,274.62 L382.64,274.85 L383.13,275.08 L383.62,275.31 L384.12,275.54 L384.61,275.77 L385.10,276.00 L385.60,276.23 L386.09,276.45 L386.58,276.68 L387.08,276.90 L387.57,277.12 L388.06,277.34 L388.55,277.56 L389.05,277.77 L389.54,277.97 L390.03,278.18 L390.53,278.37 L391.02,278.56 L391.51,278.74 L392.01,278.92 L392.50,279.09 L392.99,279.25 L393.49,279.41 L393.98,279.55 L394.47,279.69 L394.97,279.81 L395.46,279.93 L395.95,280.03 L396.45,280.13 L396.94,280.23 L397.43,280.33 L397.93,280.43 L398.42,280.52 L398.91,280.61 L399.41,280.71 L399.90,280.79 L400.39,280.88 L400.89,280.97 L401.38,281.05 L401.87,281.13 L402.37,281.20 L402.86,281.28 L403.35,281.35 L403.85,281.42 L404.34,281.48 L404.83,281.54 L405.32,281.60 L405.82,281.66 L406.31,281.71 L406.80,281.76 L407.30,281.80 L407.79,281.85 L408.28,281.88 L408.78,281.92 L409.27,281.95 L409.76,281.97 L410.26,281.99 L410.75,282.01 L411.24,282.02 L411.74,282.03 L412.23,282.03 L412.72,282.03 L413.22,282.02 L413.71,282.01 L414.20,281.99 L414.70,281.97 L415.19,281.95 L415.68,281.91 L416.18,281.87 L416.67,281.83 L417.16,281.79 L417.66,281.74 L418.15,281.69 L418.64,281.64 L419.14,281.58 L419.63,281.52 L420.12,281.46 L420.62,281.39 L421.11,281.32 L421.60,281.25 L422.09,281.18 L422.59,281.11 L423.08,281.03 L423.57,280.95 L424.07,280.87 L424.56,280.79 L425.05,280.70 L425.55,280.61 L426.04,280.52 L426.53,280.43 L427.03,280.34 L427.52,280.25 L428.01,280.15 L428.51,280.06 L429.00,279.96 L429.49,279.86 L429.99,279.76 L430.48,279.66 L430.97,279.56 L431.47,279.46 L431.96,279.36 L432.45,279.26 L432.95,279.15 L433.44,279.05 L433.93,278.94 L434.43,278.84 L434.92,278.73 L435.41,278.63 L435.91,278.52 L436.40,278.42 L436.89,278.32 L437.38,278.21 L437.88,278.11 L438.37,278.00 L438.86,277.90 L439.36,277.80 L439.85,277.70 L440.34,277.60 L440.84,277.50 L441.33,277.40 L441.82,277.30 L442.32,277.20 L442.81,277.11 L443.30,277.01 L443.80,276.92 L444.29,276.83 L444.78,276.74 L445.28,276.65 L445.77,276.57 L446.26,276.48 L446.76,276.40 L447.25,276.32 L447.74,276.24 L448.24,276.17 L448.73,276.09 L449.22,276.02 L449.72,275.95 L450.21,275.89 L450.70,275.82 L451.20,275.76 L451.69,275.70 L452.18,275.65 L452.68,275.60 L453.17,275.55 L453.66,275.50 L454.15,275.46 L454.65,275.42 L455.14,275.38 L455.63,275.35 L456.13,275.32 L456.62,275.29 L457.11,275.27 L457.61,275.24 L458.10,275.22 L458.59,275.21 L459.09,275.19 L459.58,275.18 L460.07,275.17 L460.57,275.16 L461.06,275.15 L461.55,275.15 L462.05,275.15 L462.54,275.15 L463.03,275.15 L463.53,275.16 L464.02,275.17 L464.51,275.18 L465.01,275.19 L465.50,275.20 L465.99,275.22 L466.49,275.23 L466.98,275.25 L467.47,275.27 L467.97,275.30 L468.46,275.32 L468.95,275.35 L469.45,275.38 L469.94,275.41 L470.43,275.44 L470.92,275.47 L471.42,275.51 L471.91,275.54 L472.40,275.58 L472.90,275.62 L473.39,275.66 L473.88,275.70 L474.38,275.75 L474.87,275.79 L475.36,275.84 L475.86,275.89 L476.35,275.94 L476.84,275.99 L477.34,276.04 L477.83,276.09 L478.32,276.15 L478.82,276.20 L479.31,276.26 L479.80,276.31 L480.30,276.37 L480.79,276.43 L481.28,276.49 L481.78,276.55 L482.27,276.61 L482.76,276.68 L483.26,276.74 L483.75,276.80 L484.24,276.87 L484.74,276.93 L485.23,277.00 L485.72,277.07 L486.22,277.13 L486.71,277.20 L487.20,277.27 L487.69,277.34 L488.19,277.41 L488.68,277.48 L489.17,277.55 L489.67,277.62 L490.16,277.69 L490.65,277.76 L491.15,277.83 L491.64,277.91 L492.13,277.98 L492.63,278.05 L493.12,278.12 L493.61,278.20 L494.11,278.27 L494.60,278.34" fill="none" stroke="#8b1a1a" stroke-width="1.25" stroke-linejoin="round" /><path d="M297.80,290.20 L298.29,290.20 L298.79,290.20 L299.28,290.20 L299.77,290.20 L300.27,290.20 L300.76,290.20 L301.25,290.20 L301.75,290.20 L302.24,290.20 L302.73,290.20 L303.23,290.20 L303.72,290.20 L304.21,290.20 L304.71,290.20 L305.20,290.20 L305.69,290.20 L306.18,290.20 L306.68,290.20 L307.17,290.20 L307.66,290.20 L308.16,290.20 L308.65,290.20 L309.14,290.20 L309.64,290.20 L310.13,290.20 L310.62,290.20 L311.12,290.20 L311.61,290.20 L312.10,290.20 L312.60,290.20 L313.09,290.20 L313.58,290.20 L314.08,290.20 L314.57,290.20 L315.06,290.20 L315.56,290.20 L316.05,290.20 L316.54,290.20 L317.04,290.20 L317.53,290.20 L318.02,290.20 L318.52,290.20 L319.01,290.20 L319.50,290.17 L320.00,289.84 L320.49,289.44 L320.98,288.99 L321.48,288.49 L321.97,287.96 L322.46,287.41 L322.95,286.84 L323.45,286.27 L323.94,285.72 L324.43,285.18 L324.93,284.67 L325.42,284.21 L325.91,283.73 L326.41,283.22 L326.90,282.70 L327.39,282.17 L327.89,281.65 L328.38,281.15 L328.87,280.70 L329.37,280.30 L329.86,279.97 L330.35,279.72 L330.85,279.57 L331.34,279.53 L331.83,279.63 L332.33,279.86 L332.82,280.20 L333.31,280.62 L333.81,281.11 L334.30,281.64 L334.79,282.18 L335.29,282.71 L335.78,283.22 L336.27,283.67 L336.77,284.04 L337.26,284.32 L337.75,284.56 L338.25,284.80 L338.74,285.03 L339.23,285.26 L339.72,285.49 L340.22,285.70 L340.71,285.91 L341.20,286.11 L341.70,286.29 L342.19,286.46 L342.68,286.62 L343.18,286.76 L343.67,286.88 L344.16,286.98 L344.66,287.06 L345.15,287.12 L345.64,287.15 L346.14,287.16 L346.63,287.14 L347.12,287.09 L347.62,287.02 L348.11,286.91 L348.60,286.77 L349.10,286.59 L349.59,286.38 L350.08,286.12 L350.58,285.83 L351.07,285.51 L351.56,285.15 L352.06,284.77 L352.55,284.36 L353.04,283.92 L353.54,283.47 L354.03,282.99 L354.52,282.50 L355.02,282.00 L355.51,281.48 L356.00,280.96 L356.49,280.43 L356.99,279.90 L357.48,279.36 L357.97,278.83 L358.47,278.30 L358.96,277.78 L359.45,277.27 L359.95,276.77 L360.44,276.29 L360.93,275.82 L361.43,275.33 L361.92,274.82 L362.41,274.28 L362.91,273.72 L363.40,273.14 L363.89,272.55 L364.39,271.94 L364.88,271.33 L365.37,270.70 L365.87,270.07 L366.36,269.44 L366.85,268.80 L367.35,268.17 L367.84,267.55 L368.33,266.93 L368.83,266.32 L369.32,265.72 L369.81,265.14 L370.31,264.58 L370.80,264.04 L371.29,263.52 L371.78,263.03 L372.28,262.56 L372.77,262.13 L373.26,261.73 L373.76,261.37 L374.25,261.04 L374.74,260.76 L375.24,260.52 L375.73,260.33 L376.22,260.19 L376.72,260.10 L377.21,260.06 L377.70,260.07 L378.20,260.13 L378.69,260.24 L379.18,260.38 L379.68,260.56 L380.17,260.78 L380.66,261.02 L381.16,261.30 L381.65,261.60 L382.14,261.92 L382.64,262.26 L383.13,262.61 L383.62,262.98 L384.12,263.35 L384.61,263.73 L385.10,264.12 L385.60,264.50 L386.09,264.88 L386.58,265.26 L387.08,265.62 L387.57,265.97 L388.06,266.31 L388.55,266.63 L389.05,266.95 L389.54,267.28 L390.03,267.62 L390.53,267.97 L391.02,268.32 L391.51,268.68 L392.01,269.05 L392.50,269.42 L392.99,269.79 L393.49,270.16 L393.98,270.53 L394.47,270.91 L394.97,271.28 L395.46,271.65 L395.95,272.03 L396.45,272.40 L396.94,272.76 L397.43,273.12 L397.93,273.48 L398.42,273.83 L398.91,274.17 L399.41,274.51 L399.90,274.83 L400.39,275.15 L400.89,275.46 L401.38,275.76 L401.87,276.04 L402.37,276.32 L402.86,276.58 L403.35,276.82 L403.85,277.05 L404.34,277.27 L404.83,277.49 L405.32,277.70 L405.82,277.92 L406.31,278.13 L406.80,278.35 L407.30,278.56 L407.79,278.77 L408.28,278.97 L408.78,279.18 L409.27,279.38 L409.76,279.58 L410.26,279.78 L410.75,279.97 L411.24,280.15 L411.74,280.34 L412.23,280.51 L412.72,280.69 L413.22,280.85 L413.71,281.01 L414.20,281.17 L414.70,281.32 L415.19,281.46 L415.68,281.59 L416.18,281.72 L416.67,281.84 L417.16,281.95 L417.66,282.05 L418.15,282.14 L418.64,282.23 L419.14,282.30 L419.63,282.37 L420.12,282.42 L420.62,282.47 L421.11,282.50 L421.60,282.53 L422.09,282.54 L422.59,282.54 L423.08,282.53 L423.57,282.50 L424.07,282.47 L424.56,282.43 L425.05,282.38 L425.55,282.32 L426.04,282.27 L426.53,282.20 L427.03,282.13 L427.52,282.06 L428.01,281.98 L428.51,281.89 L429.00,281.81 L429.49,281.71 L429.99,281.62 L430.48,281.52 L430.97,281.41 L431.47,281.31 L431.96,281.19 L432.45,281.08 L432.95,280.96 L433.44,280.84 L433.93,280.72 L434.43,280.59 L434.92,280.47 L435.41,280.34 L435.91,280.20 L436.40,280.07 L436.89,279.93 L437.38,279.79 L437.88,279.66 L438.37,279.52 L438.86,279.37 L439.36,279.23 L439.85,279.09 L440.34,278.95 L440.84,278.80 L441.33,278.66 L441.82,278.52 L442.32,278.37 L442.81,278.23 L443.30,278.09 L443.80,277.94 L444.29,277.80 L444.78,277.66 L445.28,277.52 L445.77,277.38 L446.26,277.25 L446.76,277.11 L447.25,276.98 L447.74,276.85 L448.24,276.72 L448.73,276.59 L449.22,276.47 L449.72,276.35 L450.21,276.23 L450.70,276.12 L451.20,276.00 L451.69,275.90 L452.18,275.79 L452.68,275.69 L453.17,275.59 L453.66,275.50 L454.15,275.41 L454.65,275.32 L455.14,275.24 L455.63,275.17 L456.13,275.10 L456.62,275.03 L457.11,274.97 L457.61,274.92 L458.10,274.87 L458.59,274.83 L459.09,274.79 L459.58,274.76 L460.07,274.73 L460.57,274.70 L461.06,274.68 L461.55,274.66 L462.05,274.64 L462.54,274.63 L463.03,274.62 L463.53,274.61 L464.02,274.61 L464.51,274.61 L465.01,274.61 L465.50,274.61 L465.99,274.62 L466.49,274.63 L466.98,274.64 L467.47,274.66 L467.97,274.68 L468.46,274.70 L468.95,274.72 L469.45,274.74 L469.94,274.77 L470.43,274.80 L470.92,274.83 L471.42,274.87 L471.91,274.91 L472.40,274.95 L472.90,274.99 L473.39,275.03 L473.88,275.08 L474.38,275.13 L474.87,275.18 L475.36,275.23 L475.86,275.28 L476.35,275.34 L476.84,275.39 L477.34,275.45 L477.83,275.52 L478.32,275.58 L478.82,275.64 L479.31,275.71 L479.80,275.78 L480.30,275.85 L480.79,275.92 L481.28,275.99 L481.78,276.06 L482.27,276.14 L482.76,276.21 L483.26,276.29 L483.75,276.37 L484.24,276.45 L484.74,276.53 L485.23,276.62 L485.72,276.70 L486.22,276.78 L486.71,276.87 L487.20,276.96 L487.69,277.04 L488.19,277.13 L488.68,277.22 L489.17,277.31 L489.67,277.40 L490.16,277.49 L490.65,277.58 L491.15,277.68 L491.64,277.77 L492.13,277.86 L492.63,277.96 L493.12,278.05 L493.61,278.15 L494.11,278.24 L494.60,278.34" fill="none" stroke="#3050d8" stroke-width="1.25" stroke-linejoin="round" /><path d="M297.80,290.20 L298.29,290.20 L298.79,290.20 L299.28,290.20 L299.77,290.20 L300.27,290.20 L300.76,290.20 L301.25,290.20 L301.75,290.20 L302.24,290.20 L302.73,290.20 L303.23,290.20 L303.72,290.20 L304.21,290.20 L304.71,290.20 L305.20,290.20 L305.69,290.20 L306.18,290.20 L306.68,290.20 L307.17,290.20 L307.66,290.20 L308.16,290.20 L308.65,290.20 L309.14,290.20 L309.64,290.20 L310.13,290.20 L310.62,290.20 L311.12,290.20 L311.61,290.20 L312.10,290.20 L312.60,290.20 L313.09,290.20 L313.58,290.20 L314.08,290.20 L314.57,290.20 L315.06,290.20 L315.56,290.20 L316.05,290.20 L316.54,290.20 L317.04,290.20 L317.53,290.20 L318.02,290.20 L318.52,290.20 L319.01,290.20 L319.50,290.20 L320.00,290.20 L320.49,290.20 L320.98,290.20 L321.48,290.20 L321.97,290.20 L322.46,290.20 L322.95,290.20 L323.45,290.20 L323.94,290.20 L324.43,290.20 L324.93,290.20 L325.42,290.20 L325.91,290.20 L326.41,290.20 L326.90,290.20 L327.39,290.20 L327.89,290.20 L328.38,290.20 L328.87,290.20 L329.37,290.20 L329.86,290.20 L330.35,290.20 L330.85,290.20 L331.34,290.20 L331.83,290.20 L332.33,290.20 L332.82,290.20 L333.31,290.20 L333.81,290.19 L334.30,290.17 L334.79,290.15 L335.29,290.12 L335.78,290.09 L336.27,290.05 L336.77,290.00 L337.26,289.95 L337.75,289.90 L338.25,289.84 L338.74,289.77 L339.23,289.71 L339.72,289.64 L340.22,289.55 L340.71,289.43 L341.20,289.27 L341.70,289.07 L342.19,288.83 L342.68,288.56 L343.18,288.25 L343.67,287.91 L344.16,287.54 L344.66,287.14 L345.15,286.72 L345.64,286.26 L346.14,285.79 L346.63,285.30 L347.12,284.78 L347.62,284.25 L348.11,283.70 L348.60,283.14 L349.10,282.56 L349.59,281.97 L350.08,281.38 L350.58,280.77 L351.07,280.16 L351.56,279.55 L352.06,278.93 L352.55,278.31 L353.04,277.70 L353.54,277.09 L354.03,276.48 L354.52,275.88 L355.02,275.28 L355.51,274.70 L356.00,274.13 L356.49,273.53 L356.99,272.86 L357.48,272.12 L357.97,271.32 L358.47,270.47 L358.96,269.58 L359.45,268.64 L359.95,267.68 L360.44,266.70 L360.93,265.70 L361.43,264.70 L361.92,263.69 L362.41,262.70 L362.91,261.73 L363.40,260.78 L363.89,259.86 L364.39,258.98 L364.88,258.15 L365.37,257.38 L365.87,256.67 L366.36,256.03 L366.85,255.47 L367.35,255.00 L367.84,254.63 L368.33,254.35 L368.83,254.19 L369.32,254.14 L369.81,254.20 L370.31,254.33 L370.80,254.53 L371.29,254.78 L371.78,255.09 L372.28,255.44 L372.77,255.84 L373.26,256.28 L373.76,256.75 L374.25,257.26 L374.74,257.78 L375.24,258.33 L375.73,258.89 L376.22,259.47 L376.72,260.05 L377.21,260.63 L377.70,261.20 L378.20,261.77 L378.69,262.32 L379.18,262.85 L379.68,263.36 L380.17,263.84 L380.66,264.30 L381.16,264.75 L381.65,265.23 L382.14,265.71 L382.64,266.20 L383.13,266.70 L383.62,267.20 L384.12,267.71 L384.61,268.23 L385.10,268.75 L385.60,269.27 L386.09,269.79 L386.58,270.31 L387.08,270.83 L387.57,271.34 L388.06,271.85 L388.55,272.35 L389.05,272.85 L389.54,273.33 L390.03,273.81 L390.53,274.27 L391.02,274.72 L391.51,275.16 L392.01,275.58 L392.50,275.99 L392.99,276.37 L393.49,276.74 L393.98,277.08 L394.47,277.41 L394.97,277.70 L395.46,277.98 L395.95,278.23 L396.45,278.45 L396.94,278.67 L397.43,278.88 L397.93,279.09 L398.42,279.29 L398.91,279.49 L399.41,279.68 L399.90,279.87 L400.39,280.06 L400.89,280.24 L401.38,280.41 L401.87,280.58 L402.37,280.75 L402.86,280.91 L403.35,281.06 L403.85,281.21 L404.34,281.36 L404.83,281.50 L405.32,281.63 L405.82,281.76 L406.31,281.88 L406.80,282.00 L407.30,282.11 L407.79,282.22 L408.28,282.32 L408.78,282.41 L409.27,282.50 L409.76,282.58 L410.26,282.66 L410.75,282.73 L411.24,282.80 L411.74,282.85 L412.23,282.91 L412.72,282.95 L413.22,282.99 L413.71,283.02 L414.20,283.05 L414.70,283.07 L415.19,283.08 L415.68,283.08 L416.18,283.08 L416.67,283.08 L417.16,283.08 L417.66,283.07 L418.15,283.06 L418.64,283.05 L419.14,283.04 L419.63,283.02 L420.12,283.01 L420.62,282.99 L421.11,282.97 L421.60,282.94 L422.09,282.92 L422.59,282.89 L423.08,282.86 L423.57,282.83 L424.07,282.79 L424.56,282.76 L425.05,282.72 L425.55,282.68 L426.04,282.63 L426.53,282.59 L427.03,282.54 L427.52,282.49 L428.01,282.44 L428.51,282.38 L429.00,282.32 L429.49,282.26 L429.99,282.20 L430.48,282.13 L430.97,282.07 L431.47,282.00 L431.96,281.92 L432.45,281.85 L432.95,281.77 L433.44,281.69 L433.93,281.60 L434.43,281.52 L434.92,281.43 L435.41,281.33 L435.91,281.23 L436.40,281.12 L436.89,281.00 L437.38,280.86 L437.88,280.71 L438.37,280.54 L438.86,280.37 L439.36,280.19 L439.85,280.00 L440.34,279.80 L440.84,279.60 L441.33,279.39 L441.82,279.17 L442.32,278.95 L442.81,278.73 L443.30,278.51 L443.80,278.28 L444.29,278.06 L444.78,277.83 L445.28,277.61 L445.77,277.39 L446.26,277.17 L446.76,276.95 L447.25,276.74 L447.74,276.54 L448.24,276.34 L448.73,276.15 L449.22,275.97 L449.72,275.80 L450.21,275.64 L450.70,275.49 L451.20,275.35 L451.69,275.22 L452.18,275.11 L452.68,275.02 L453.17,274.93 L453.66,274.87 L454.15,274.82 L454.65,274.79 L455.14,274.78 L455.63,274.79 L456.13,274.80 L456.62,274.82 L457.11,274.84 L457.61,274.87 L458.10,274.91 L458.59,274.95 L459.09,275.00 L459.58,275.05 L460.07,275.10 L460.57,275.16 L461.06,275.22 L461.55,275.29 L462.05,275.35 L462.54,275.42 L463.03,275.50 L463.53,275.57 L464.02,275.65 L464.51,275.73 L465.01,275.81 L465.50,275.89 L465.99,275.97 L466.49,276.05 L466.98,276.13 L467.47,276.21 L467.97,276.29 L468.46,276.37 L468.95,276.44 L469.45,276.52 L469.94,276.59 L470.43,276.66 L470.92,276.73 L471.42,276.80 L471.91,276.86 L472.40,276.92 L472.90,276.97 L473.39,277.02 L473.88,277.07 L474.38,277.11 L474.87,277.15 L475.36,277.18 L475.86,277.22 L476.35,277.25 L476.84,277.29 L477.34,277.33 L477.83,277.36 L478.32,277.40 L478.82,277.43 L479.31,277.47 L479.80,277.51 L480.30,277.54 L480.79,277.58 L481.28,277.61 L481.78,277.65 L482.27,277.69 L482.76,277.72 L483.26,277.76 L483.75,277.79 L484.24,277.83 L484.74,277.86 L485.23,277.89 L485.72,277.92 L486.22,277.96 L486.71,277.99 L487.20,278.02 L487.69,278.05 L488.19,278.08 L488.68,278.10 L489.17,278.13 L489.67,278.15 L490.16,278.18 L490.65,278.20 L491.15,278.22 L491.64,278.25 L492.13,278.26 L492.63,278.28 L493.12,278.30 L493.61,278.31 L494.11,278.33 L494.60,278.34" fill="none" stroke="#20a8e8" stroke-width="1.25" stroke-linejoin="round" /><path d="M297.80,290.20 L298.29,290.20 L298.79,290.20 L299.28,290.20 L299.77,290.20 L300.27,290.20 L300.76,290.20 L301.25,290.20 L301.75,290.20 L302.24,290.20 L302.73,290.20 L303.23,290.20 L303.72,290.20 L304.21,290.20 L304.71,290.20 L305.20,290.20 L305.69,290.20 L306.18,290.20 L306.68,290.20 L307.17,290.20 L307.66,290.20 L308.16,290.20 L308.65,290.20 L309.14,290.20 L309.64,290.20 L310.13,290.20 L310.62,290.20 L311.12,290.20 L311.61,290.20 L312.10,290.20 L312.60,290.20 L313.09,290.20 L313.58,290.20 L314.08,290.20 L314.57,290.20 L315.06,290.20 L315.56,290.20 L316.05,290.20 L316.54,290.20 L317.04,290.20 L317.53,290.20 L318.02,290.20 L318.52,290.20 L319.01,290.20 L319.50,290.20 L320.00,290.20 L320.49,290.20 L320.98,290.20 L321.48,290.15 L321.97,289.63 L322.46,289.00 L322.95,288.29 L323.45,287.50 L323.94,286.67 L324.43,285.83 L324.93,284.98 L325.42,284.17 L325.91,283.41 L326.41,282.69 L326.90,281.90 L327.39,281.06 L327.89,280.23 L328.38,279.45 L328.87,278.79 L329.37,278.30 L329.86,278.02 L330.35,278.00 L330.85,278.16 L331.34,278.46 L331.83,278.87 L332.33,279.35 L332.82,279.88 L333.31,280.41 L333.81,280.91 L334.30,281.35 L334.79,281.71 L335.29,281.93 L335.78,282.11 L336.27,282.30 L336.77,282.48 L337.26,282.66 L337.75,282.85 L338.25,283.03 L338.74,283.20 L339.23,283.38 L339.72,283.54 L340.22,283.71 L340.71,283.86 L341.20,284.00 L341.70,284.14 L342.19,284.26 L342.68,284.37 L343.18,284.47 L343.67,284.55 L344.16,284.62 L344.66,284.68 L345.15,284.71 L345.64,284.73 L346.14,284.72 L346.63,284.70 L347.12,284.65 L347.62,284.58 L348.11,284.49 L348.60,284.37 L349.10,284.23 L349.59,284.06 L350.08,283.88 L350.58,283.67 L351.07,283.44 L351.56,283.20 L352.06,282.94 L352.55,282.67 L353.04,282.38 L353.54,282.07 L354.03,281.76 L354.52,281.43 L355.02,281.09 L355.51,280.74 L356.00,280.38 L356.49,280.01 L356.99,279.64 L357.48,279.26 L357.97,278.87 L358.47,278.49 L358.96,278.09 L359.45,277.70 L359.95,277.30 L360.44,276.90 L360.93,276.51 L361.43,276.11 L361.92,275.72 L362.41,275.33 L362.91,274.95 L363.40,274.57 L363.89,274.20 L364.39,273.83 L364.88,273.47 L365.37,273.10 L365.87,272.70 L366.36,272.28 L366.85,271.85 L367.35,271.39 L367.84,270.93 L368.33,270.45 L368.83,269.96 L369.32,269.46 L369.81,268.95 L370.31,268.44 L370.80,267.92 L371.29,267.41 L371.78,266.89 L372.28,266.38 L372.77,265.87 L373.26,265.37 L373.76,264.87 L374.25,264.39 L374.74,263.91 L375.24,263.45 L375.73,263.01 L376.22,262.58 L376.72,262.18 L377.21,261.79 L377.70,261.43 L378.20,261.09 L378.69,260.78 L379.18,260.50 L379.68,260.25 L380.17,260.03 L380.66,259.84 L381.16,259.69 L381.65,259.58 L382.14,259.51 L382.64,259.48 L383.13,259.50 L383.62,259.56 L384.12,259.67 L384.61,259.83 L385.10,260.02 L385.60,260.25 L386.09,260.51 L386.58,260.80 L387.08,261.12 L387.57,261.47 L388.06,261.83 L388.55,262.21 L389.05,262.61 L389.54,263.02 L390.03,263.44 L390.53,263.86 L391.02,264.28 L391.51,264.71 L392.01,265.13 L392.50,265.54 L392.99,265.95 L393.49,266.34 L393.98,266.71 L394.47,267.06 L394.97,267.40 L395.46,267.71 L395.95,268.04 L396.45,268.37 L396.94,268.70 L397.43,269.03 L397.93,269.37 L398.42,269.72 L398.91,270.06 L399.41,270.41 L399.90,270.76 L400.39,271.11 L400.89,271.46 L401.38,271.82 L401.87,272.17 L402.37,272.52 L402.86,272.88 L403.35,273.23 L403.85,273.58 L404.34,273.93 L404.83,274.27 L405.32,274.62 L405.82,274.96 L406.31,275.30 L406.80,275.64 L407.30,275.97 L407.79,276.29 L408.28,276.62 L408.78,276.93 L409.27,277.25 L409.76,277.55 L410.26,277.85 L410.75,278.15 L411.24,278.43 L411.74,278.71 L412.23,278.98 L412.72,279.25 L413.22,279.50 L413.71,279.75 L414.20,279.98 L414.70,280.21 L415.19,280.43 L415.68,280.63 L416.18,280.83 L416.67,281.02 L417.16,281.21 L417.66,281.39 L418.15,281.56 L418.64,281.73 L419.14,281.90 L419.63,282.06 L420.12,282.21 L420.62,282.36 L421.11,282.50 L421.60,282.64 L422.09,282.77 L422.59,282.89 L423.08,283.01 L423.57,283.12 L424.07,283.23 L424.56,283.33 L425.05,283.42 L425.55,283.51 L426.04,283.58 L426.53,283.66 L427.03,283.72 L427.52,283.78 L428.01,283.83 L428.51,283.88 L429.00,283.91 L429.49,283.94 L429.99,283.97 L430.48,283.98 L430.97,283.99 L431.47,283.99 L431.96,283.98 L432.45,283.96 L432.95,283.94 L433.44,283.91 L433.93,283.87 L434.43,283.82 L434.92,283.76 L435.41,283.70 L435.91,283.62 L436.40,283.53 L436.89,283.42 L437.38,283.29 L437.88,283.15 L438.37,282.99 L438.86,282.82 L439.36,282.63 L439.85,282.43 L440.34,282.23 L440.84,282.01 L441.33,281.78 L441.82,281.54 L442.32,281.29 L442.81,281.03 L443.30,280.77 L443.80,280.50 L444.29,280.23 L444.78,279.95 L445.28,279.67 L445.77,279.39 L446.26,279.10 L446.76,278.82 L447.25,278.53 L447.74,278.24 L448.24,277.96 L448.73,277.68 L449.22,277.40 L449.72,277.12 L450.21,276.85 L450.70,276.58 L451.20,276.32 L451.69,276.07 L452.18,275.82 L452.68,275.58 L453.17,275.35 L453.66,275.14 L454.15,274.93 L454.65,274.73 L455.14,274.55 L455.63,274.38 L456.13,274.23 L456.62,274.09 L457.11,273.96 L457.61,273.86 L458.10,273.76 L458.59,273.69 L459.09,273.64 L459.58,273.61 L460.07,273.59 L460.57,273.60 L461.06,273.64 L461.55,273.70 L462.05,273.78 L462.54,273.88 L463.03,274.00 L463.53,274.14 L464.02,274.30 L464.51,274.47 L465.01,274.66 L465.50,274.85 L465.99,275.05 L466.49,275.26 L466.98,275.48 L467.47,275.70 L467.97,275.92 L468.46,276.15 L468.95,276.37 L469.45,276.59 L469.94,276.81 L470.43,277.01 L470.92,277.22 L471.42,277.41 L471.91,277.59 L472.40,277.75 L472.90,277.91 L473.39,278.04 L473.88,278.16 L474.38,278.26 L474.87,278.33 L475.36,278.39 L475.86,278.45 L476.35,278.51 L476.84,278.56 L477.34,278.61 L477.83,278.65 L478.32,278.69 L478.82,278.73 L479.31,278.77 L479.80,278.80 L480.30,278.83 L480.79,278.85 L481.28,278.88 L481.78,278.90 L482.27,278.91 L482.76,278.93 L483.26,278.94 L483.75,278.95 L484.24,278.95 L484.74,278.95 L485.23,278.95 L485.72,278.94 L486.22,278.94 L486.71,278.93 L487.20,278.91 L487.69,278.89 L488.19,278.87 L488.68,278.85 L489.17,278.82 L489.67,278.80 L490.16,278.76 L490.65,278.73 L491.15,278.69 L491.64,278.65 L492.13,278.60 L492.63,278.56 L493.12,278.51 L493.61,278.45 L494.11,278.40 L494.60,278.34" fill="none" stroke="#7030c0" stroke-width="1.25" stroke-linejoin="round" /><path d="M310.4 332.6h1.8v1.8h-1.8zM313.8 338.3h1.8v1.8h-1.8z" fill="#20a8e8"/><path d="M318.5 340.7h1.6v1.6h-1.6zM319.6 348.6h1.6v1.6h-1.6zM323.0 355.4h1.6v1.6h-1.6zM324.1 362.2h1.6v1.6h-1.6zM327.5 366.8h1.6v1.6h-1.6z" fill="#3050d8"/><path d="M328.7 337.3h1.6v1.6h-1.6zM330.9 346.4h1.6v1.6h-1.6zM333.2 362.2h1.6v1.6h-1.6z" fill="#7030c0"/><path d="M316.2 310.1h1.6v1.6h-1.6zM317.3 313.5h1.6v1.6h-1.6zM318.5 315.7h1.6v1.6h-1.6zM319.6 319.1h1.6v1.6h-1.6zM320.7 321.4h1.6v1.6h-1.6zM321.9 323.7h1.6v1.6h-1.6zM323.0 325.9h1.6v1.6h-1.6zM321.9 328.2h1.6v1.6h-1.6zM324.1 330.5h1.6v1.6h-1.6zM325.3 333.9h1.6v1.6h-1.6zM326.4 337.3h1.6v1.6h-1.6zM327.5 341.8h1.6v1.6h-1.6zM328.7 346.4h1.6v1.6h-1.6zM330.9 350.9h1.6v1.6h-1.6zM333.2 355.4h1.6v1.6h-1.6zM335.5 360.0h1.6v1.6h-1.6zM337.7 364.5h1.6v1.6h-1.6zM340.0 369.0h1.6v1.6h-1.6zM342.3 371.3h1.6v1.6h-1.6zM344.6 372.4h1.6v1.6h-1.6zM346.8 373.6h1.6v1.6h-1.6zM319.6 316.9h1.6v1.6h-1.6zM323.0 322.5h1.6v1.6h-1.6zM320.7 325.9h1.6v1.6h-1.6zM324.6 336.2h1.6v1.6h-1.6zM329.8 344.1h1.6v1.6h-1.6zM326.0 340.7h1.6v1.6h-1.6zM332.1 353.6h1.6v1.6h-1.6zM338.2 367.9h1.6v1.6h-1.6zM318.0 315.7h1.6v1.6h-1.6zM317.2 313.1h1.6v1.6h-1.6zM315.6 315.7h1.6v1.6h-1.6zM318.0 316.8h1.6v1.6h-1.6zM320.6 317.5h1.6v1.6h-1.6zM317.7 319.4h1.6v1.6h-1.6zM320.6 321.0h1.6v1.6h-1.6zM322.8 322.0h1.6v1.6h-1.6zM321.3 327.7h1.6v1.6h-1.6zM324.8 325.2h1.6v1.6h-1.6zM321.0 325.8h1.6v1.6h-1.6zM324.5 330.1h1.6v1.6h-1.6zM329.5 329.2h1.6v1.6h-1.6zM325.2 330.4h1.6v1.6h-1.6zM325.6 331.8h1.6v1.6h-1.6zM323.7 336.3h1.6v1.6h-1.6zM326.9 338.4h1.6v1.6h-1.6zM326.1 337.6h1.6v1.6h-1.6zM329.2 334.4h1.6v1.6h-1.6zM325.5 341.6h1.6v1.6h-1.6zM329.2 337.4h1.6v1.6h-1.6zM327.9 340.6h1.6v1.6h-1.6zM329.1 347.7h1.6v1.6h-1.6zM329.5 350.2h1.6v1.6h-1.6zM330.8 345.7h1.6v1.6h-1.6zM335.3 350.8h1.6v1.6h-1.6zM335.5 354.4h1.6v1.6h-1.6zM335.4 354.3h1.6v1.6h-1.6zM329.9 351.3h1.6v1.6h-1.6zM335.2 355.0h1.6v1.6h-1.6zM336.4 355.0h1.6v1.6h-1.6zM337.9 361.9h1.6v1.6h-1.6zM337.3 360.8h1.6v1.6h-1.6zM337.7 362.4h1.6v1.6h-1.6zM337.7 360.8h1.6v1.6h-1.6zM338.2 363.6h1.6v1.6h-1.6zM335.1 365.3h1.6v1.6h-1.6zM339.0 366.7h1.6v1.6h-1.6zM338.3 368.7h1.6v1.6h-1.6zM341.5 367.6h1.6v1.6h-1.6z" fill="#8b1a1a"/><path d="M324.6 324.8h1.6v1.6h-1.6zM326.0 325.9h1.6v1.6h-1.6zM327.5 328.2h1.6v1.6h-1.6zM326.4 330.5h1.6v1.6h-1.6zM328.2 331.6h1.6v1.6h-1.6zM325.3 328.2h1.6v1.6h-1.6zM326.9 333.2h1.6v1.6h-1.6zM328.7 330.0h1.6v1.6h-1.6zM329.8 339.6h1.6v1.6h-1.6zM332.1 348.6h1.6v1.6h-1.6zM335.5 357.7h1.6v1.6h-1.6zM338.9 366.8h1.6v1.6h-1.6zM344.6 371.3h1.6v1.6h-1.6zM328.2 336.2h1.6v1.6h-1.6z" fill="#d02020"/><path d="M332.0 331.5h1.8v1.8h-1.8zM333.1 333.8h1.8v1.8h-1.8zM333.6 336.1h1.8v1.8h-1.8zM334.2 338.3h1.8v1.8h-1.8zM332.7 340.6h1.8v1.8h-1.8zM334.9 341.7h1.8v1.8h-1.8zM335.4 344.0h1.8v1.8h-1.8zM332.4 334.9h1.8v1.8h-1.8zM333.8 339.5h1.8v1.8h-1.8zM339.9 349.7h1.8v1.8h-1.8zM337.6 357.6h1.8v1.8h-1.8zM339.9 362.1h1.8v1.8h-1.8z" fill="#e0d040"/><path d="M353.1 381.3h1.6v1.6h-1.6zM349.9 378.5h1.6v1.6h-1.6zM355.8 384.1h1.6v1.6h-1.6zM346.6 380.8h1.6v1.6h-1.6zM356.1 387.5h1.6v1.6h-1.6zM344.1 374.9h1.6v1.6h-1.6zM346.2 378.9h1.6v1.6h-1.6zM348.5 384.6h1.6v1.6h-1.6zM345.1 377.4h1.6v1.6h-1.6zM335.3 379.4h1.6v1.6h-1.6zM345.9 382.9h1.6v1.6h-1.6zM353.7 384.6h1.6v1.6h-1.6zM342.8 379.0h1.6v1.6h-1.6zM347.3 381.0h1.6v1.6h-1.6zM343.6 373.4h1.6v1.6h-1.6zM352.0 382.5h1.6v1.6h-1.6zM345.3 379.0h1.6v1.6h-1.6zM341.6 376.9h1.6v1.6h-1.6zM356.2 387.0h1.6v1.6h-1.6zM337.6 375.7h1.6v1.6h-1.6zM353.4 383.0h1.6v1.6h-1.6zM353.5 381.9h1.6v1.6h-1.6zM336.3 376.2h1.6v1.6h-1.6zM334.9 374.1h1.6v1.6h-1.6zM346.2 382.0h1.6v1.6h-1.6zM348.6 379.6h1.6v1.6h-1.6zM339.2 381.0h1.6v1.6h-1.6zM343.5 378.0h1.6v1.6h-1.6zM338.9 376.7h1.6v1.6h-1.6zM343.3 380.0h1.6v1.6h-1.6z" fill="#8b1a1a"/><path d="M347.3 381.9h1.7v1.7h-1.7zM377.7 378.1h1.7v1.7h-1.7zM387.8 374.5h1.7v1.7h-1.7zM341.9 378.1h1.7v1.7h-1.7zM348.6 384.1h1.7v1.7h-1.7zM423.2 373.6h1.7v1.7h-1.7zM343.9 375.0h1.7v1.7h-1.7zM347.4 376.6h1.7v1.7h-1.7zM425.5 373.4h1.7v1.7h-1.7zM389.9 379.9h1.7v1.7h-1.7zM365.8 375.1h1.7v1.7h-1.7zM378.9 374.8h1.7v1.7h-1.7zM394.1 377.6h1.7v1.7h-1.7zM358.0 382.2h1.7v1.7h-1.7zM347.9 383.7h1.7v1.7h-1.7zM407.5 374.1h1.7v1.7h-1.7zM394.9 376.5h1.7v1.7h-1.7zM379.0 381.7h1.7v1.7h-1.7zM410.6 374.3h1.7v1.7h-1.7zM382.6 377.6h1.7v1.7h-1.7zM429.3 373.3h1.7v1.7h-1.7zM352.5 383.9h1.7v1.7h-1.7zM383.0 377.9h1.7v1.7h-1.7zM376.2 378.4h1.7v1.7h-1.7zM364.4 383.0h1.7v1.7h-1.7zM386.8 379.9h1.7v1.7h-1.7zM354.8 384.8h1.7v1.7h-1.7zM409.0 374.4h1.7v1.7h-1.7zM416.3 374.0h1.7v1.7h-1.7zM347.3 378.9h1.7v1.7h-1.7zM374.7 383.3h1.7v1.7h-1.7zM358.1 384.2h1.7v1.7h-1.7zM344.6 380.7h1.7v1.7h-1.7zM419.5 373.9h1.7v1.7h-1.7zM371.2 380.7h1.7v1.7h-1.7zM348.6 381.2h1.7v1.7h-1.7zM395.2 374.6h1.7v1.7h-1.7zM352.4 382.9h1.7v1.7h-1.7zM420.1 373.5h1.7v1.7h-1.7zM353.5 381.4h1.7v1.7h-1.7zM342.1 373.4h1.7v1.7h-1.7zM352.3 379.4h1.7v1.7h-1.7zM363.8 382.5h1.7v1.7h-1.7zM374.9 381.2h1.7v1.7h-1.7zM420.7 373.7h1.7v1.7h-1.7zM397.7 375.0h1.7v1.7h-1.7zM363.2 382.9h1.7v1.7h-1.7zM341.5 379.4h1.7v1.7h-1.7zM349.4 381.5h1.7v1.7h-1.7zM431.1 373.1h1.7v1.7h-1.7zM374.0 375.9h1.7v1.7h-1.7zM397.0 376.5h1.7v1.7h-1.7zM343.1 374.2h1.7v1.7h-1.7zM342.2 381.6h1.7v1.7h-1.7zM413.9 373.9h1.7v1.7h-1.7zM386.4 376.1h1.7v1.7h-1.7zM360.7 380.3h1.7v1.7h-1.7zM361.4 375.5h1.7v1.7h-1.7zM344.9 382.8h1.7v1.7h-1.7zM350.3 385.6h1.7v1.7h-1.7zM341.8 380.7h1.7v1.7h-1.7zM413.1 374.3h1.7v1.7h-1.7zM374.6 384.3h1.7v1.7h-1.7zM347.2 378.2h1.7v1.7h-1.7zM402.2 375.5h1.7v1.7h-1.7zM351.9 376.4h1.7v1.7h-1.7zM343.5 378.2h1.7v1.7h-1.7zM387.5 380.1h1.7v1.7h-1.7zM419.5 373.8h1.7v1.7h-1.7zM341.9 378.7h1.7v1.7h-1.7zM409.3 374.8h1.7v1.7h-1.7zM351.5 382.1h1.7v1.7h-1.7zM345.2 380.5h1.7v1.7h-1.7zM341.5 377.8h1.7v1.7h-1.7zM359.4 381.0h1.7v1.7h-1.7zM400.9 374.0h1.7v1.7h-1.7zM377.1 378.9h1.7v1.7h-1.7zM414.6 374.2h1.7v1.7h-1.7zM353.5 377.2h1.7v1.7h-1.7zM361.2 378.1h1.7v1.7h-1.7zM356.6 384.2h1.7v1.7h-1.7zM429.0 373.3h1.7v1.7h-1.7zM424.7 373.4h1.7v1.7h-1.7zM363.4 384.8h1.7v1.7h-1.7zM371.8 375.6h1.7v1.7h-1.7zM361.1 378.4h1.7v1.7h-1.7zM402.9 376.9h1.7v1.7h-1.7zM342.4 377.7h1.7v1.7h-1.7zM343.8 381.6h1.7v1.7h-1.7zM368.9 384.1h1.7v1.7h-1.7zM355.6 373.9h1.7v1.7h-1.7zM413.8 373.7h1.7v1.7h-1.7zM402.4 377.0h1.7v1.7h-1.7zM382.2 376.9h1.7v1.7h-1.7zM393.9 376.1h1.7v1.7h-1.7zM397.2 378.2h1.7v1.7h-1.7zM406.7 373.8h1.7v1.7h-1.7zM423.1 373.6h1.7v1.7h-1.7zM348.7 382.1h1.7v1.7h-1.7zM390.3 377.9h1.7v1.7h-1.7zM348.3 373.4h1.7v1.7h-1.7zM372.5 381.8h1.7v1.7h-1.7zM407.3 375.8h1.7v1.7h-1.7zM419.4 373.7h1.7v1.7h-1.7zM404.3 373.8h1.7v1.7h-1.7zM342.2 375.1h1.7v1.7h-1.7zM365.0 375.1h1.7v1.7h-1.7zM349.6 379.5h1.7v1.7h-1.7zM431.4 372.8h1.7v1.7h-1.7zM348.3 374.6h1.7v1.7h-1.7zM355.5 379.6h1.7v1.7h-1.7zM364.8 379.8h1.7v1.7h-1.7zM343.4 377.9h1.7v1.7h-1.7zM416.6 373.9h1.7v1.7h-1.7zM391.3 377.2h1.7v1.7h-1.7zM349.4 376.8h1.7v1.7h-1.7zM377.6 382.1h1.7v1.7h-1.7zM344.4 379.3h1.7v1.7h-1.7zM388.7 376.3h1.7v1.7h-1.7zM354.6 385.8h1.7v1.7h-1.7zM342.4 380.1h1.7v1.7h-1.7zM346.5 376.0h1.7v1.7h-1.7zM383.2 381.8h1.7v1.7h-1.7zM391.4 377.4h1.7v1.7h-1.7zM362.0 379.0h1.7v1.7h-1.7zM392.1 375.3h1.7v1.7h-1.7zM364.3 374.9h1.7v1.7h-1.7zM347.5 377.2h1.7v1.7h-1.7zM361.2 378.2h1.7v1.7h-1.7zM368.1 379.1h1.7v1.7h-1.7zM421.4 373.8h1.7v1.7h-1.7zM346.5 380.8h1.7v1.7h-1.7zM344.8 376.1h1.7v1.7h-1.7zM383.8 377.1h1.7v1.7h-1.7zM427.3 373.3h1.7v1.7h-1.7zM420.8 373.4h1.7v1.7h-1.7zM398.0 376.0h1.7v1.7h-1.7zM343.7 379.0h1.7v1.7h-1.7zM409.5 375.5h1.7v1.7h-1.7zM396.2 376.0h1.7v1.7h-1.7zM348.3 382.5h1.7v1.7h-1.7zM374.5 381.8h1.7v1.7h-1.7zM342.8 375.6h1.7v1.7h-1.7zM409.0 374.9h1.7v1.7h-1.7zM400.0 375.7h1.7v1.7h-1.7zM409.3 373.9h1.7v1.7h-1.7zM404.4 373.5h1.7v1.7h-1.7zM357.3 386.3h1.7v1.7h-1.7zM407.6 373.7h1.7v1.7h-1.7zM355.9 385.1h1.7v1.7h-1.7zM347.9 378.8h1.7v1.7h-1.7zM367.7 375.2h1.7v1.7h-1.7zM377.6 383.5h1.7v1.7h-1.7zM358.8 382.7h1.7v1.7h-1.7zM388.2 376.7h1.7v1.7h-1.7zM387.9 379.5h1.7v1.7h-1.7zM355.2 383.1h1.7v1.7h-1.7zM389.9 376.6h1.7v1.7h-1.7zM364.8 383.7h1.7v1.7h-1.7zM401.7 376.5h1.7v1.7h-1.7zM359.2 376.5h1.7v1.7h-1.7zM408.6 375.3h1.7v1.7h-1.7zM369.9 385.5h1.7v1.7h-1.7zM383.0 379.8h1.7v1.7h-1.7zM395.2 378.0h1.7v1.7h-1.7zM379.6 383.1h1.7v1.7h-1.7zM356.6 384.1h1.7v1.7h-1.7zM429.1 373.1h1.7v1.7h-1.7zM345.3 380.1h1.7v1.7h-1.7zM362.0 384.1h1.7v1.7h-1.7zM382.6 379.5h1.7v1.7h-1.7zM341.9 374.4h1.7v1.7h-1.7zM349.0 374.6h1.7v1.7h-1.7zM408.7 374.2h1.7v1.7h-1.7zM407.0 375.8h1.7v1.7h-1.7zM391.4 375.2h1.7v1.7h-1.7zM420.2 373.6h1.7v1.7h-1.7zM403.9 376.4h1.7v1.7h-1.7zM359.9 375.9h1.7v1.7h-1.7zM392.2 375.6h1.7v1.7h-1.7zM363.3 377.8h1.7v1.7h-1.7zM403.3 373.6h1.7v1.7h-1.7zM367.2 384.1h1.7v1.7h-1.7zM348.9 378.3h1.7v1.7h-1.7zM417.3 373.8h1.7v1.7h-1.7zM397.0 375.5h1.7v1.7h-1.7zM402.7 373.8h1.7v1.7h-1.7zM383.6 380.8h1.7v1.7h-1.7zM406.9 373.9h1.7v1.7h-1.7zM372.9 377.8h1.7v1.7h-1.7zM384.2 379.7h1.7v1.7h-1.7zM343.5 377.5h1.7v1.7h-1.7zM383.1 378.4h1.7v1.7h-1.7zM410.4 374.2h1.7v1.7h-1.7zM398.6 376.3h1.7v1.7h-1.7zM409.1 374.3h1.7v1.7h-1.7zM377.4 379.0h1.7v1.7h-1.7zM417.9 373.3h1.7v1.7h-1.7zM346.1 373.7h1.7v1.7h-1.7zM417.2 373.9h1.7v1.7h-1.7zM366.0 384.9h1.7v1.7h-1.7zM345.0 383.9h1.7v1.7h-1.7zM389.6 379.0h1.7v1.7h-1.7zM373.5 380.4h1.7v1.7h-1.7zM371.1 382.2h1.7v1.7h-1.7zM414.5 374.2h1.7v1.7h-1.7zM347.9 382.8h1.7v1.7h-1.7zM389.3 380.1h1.7v1.7h-1.7zM369.8 378.9h1.7v1.7h-1.7zM380.5 378.3h1.7v1.7h-1.7zM377.7 381.9h1.7v1.7h-1.7zM347.7 376.9h1.7v1.7h-1.7zM379.0 374.9h1.7v1.7h-1.7zM415.7 374.3h1.7v1.7h-1.7zM350.2 373.8h1.7v1.7h-1.7zM341.3 380.9h1.7v1.7h-1.7zM343.8 382.4h1.7v1.7h-1.7zM374.0 376.1h1.7v1.7h-1.7zM428.6 373.1h1.7v1.7h-1.7zM342.6 376.7h1.7v1.7h-1.7zM430.5 373.2h1.7v1.7h-1.7zM381.3 382.5h1.7v1.7h-1.7zM346.8 383.8h1.7v1.7h-1.7zM370.2 383.8h1.7v1.7h-1.7zM352.7 379.9h1.7v1.7h-1.7zM399.5 377.9h1.7v1.7h-1.7zM381.8 379.1h1.7v1.7h-1.7zM359.0 386.3h1.7v1.7h-1.7zM356.4 383.3h1.7v1.7h-1.7zM416.2 373.4h1.7v1.7h-1.7zM405.1 376.1h1.7v1.7h-1.7zM371.8 384.1h1.7v1.7h-1.7zM369.0 385.4h1.7v1.7h-1.7zM402.0 376.1h1.7v1.7h-1.7zM428.1 373.3h1.7v1.7h-1.7zM344.4 382.4h1.7v1.7h-1.7zM349.3 379.6h1.7v1.7h-1.7zM365.2 377.0h1.7v1.7h-1.7zM378.5 376.2h1.7v1.7h-1.7zM344.0 376.1h1.7v1.7h-1.7zM343.0 381.3h1.7v1.7h-1.7zM353.6 374.9h1.7v1.7h-1.7zM367.3 386.2h1.7v1.7h-1.7zM402.2 373.5h1.7v1.7h-1.7zM388.6 378.7h1.7v1.7h-1.7zM341.9 376.0h1.7v1.7h-1.7zM342.6 378.7h1.7v1.7h-1.7zM373.3 376.3h1.7v1.7h-1.7zM417.1 374.2h1.7v1.7h-1.7zM421.7 373.4h1.7v1.7h-1.7zM365.5 380.7h1.7v1.7h-1.7zM418.5 373.9h1.7v1.7h-1.7zM423.3 373.5h1.7v1.7h-1.7zM369.1 377.2h1.7v1.7h-1.7zM402.9 374.7h1.7v1.7h-1.7zM365.5 386.2h1.7v1.7h-1.7zM349.0 375.7h1.7v1.7h-1.7zM385.1 373.6h1.7v1.7h-1.7zM344.8 382.9h1.7v1.7h-1.7zM394.1 378.6h1.7v1.7h-1.7zM409.8 375.0h1.7v1.7h-1.7zM421.7 373.6h1.7v1.7h-1.7zM372.9 384.9h1.7v1.7h-1.7zM346.6 379.0h1.7v1.7h-1.7zM420.3 373.3h1.7v1.7h-1.7zM416.6 373.8h1.7v1.7h-1.7zM427.8 373.2h1.7v1.7h-1.7zM387.0 377.9h1.7v1.7h-1.7zM395.2 378.4h1.7v1.7h-1.7zM366.2 374.9h1.7v1.7h-1.7zM351.0 384.4h1.7v1.7h-1.7zM359.3 381.2h1.7v1.7h-1.7zM400.2 376.8h1.7v1.7h-1.7zM362.0 379.9h1.7v1.7h-1.7zM397.1 375.3h1.7v1.7h-1.7zM378.0 377.7h1.7v1.7h-1.7zM373.0 377.6h1.7v1.7h-1.7zM427.8 373.2h1.7v1.7h-1.7zM349.8 381.6h1.7v1.7h-1.7zM376.6 382.7h1.7v1.7h-1.7zM349.4 376.4h1.7v1.7h-1.7zM424.3 373.4h1.7v1.7h-1.7zM376.7 379.8h1.7v1.7h-1.7zM362.6 384.7h1.7v1.7h-1.7zM350.0 382.8h1.7v1.7h-1.7zM387.0 378.4h1.7v1.7h-1.7zM368.4 383.2h1.7v1.7h-1.7zM347.2 379.6h1.7v1.7h-1.7zM342.1 380.7h1.7v1.7h-1.7zM367.8 385.3h1.7v1.7h-1.7zM385.9 378.2h1.7v1.7h-1.7zM379.6 375.1h1.7v1.7h-1.7zM420.0 373.6h1.7v1.7h-1.7zM421.3 373.5h1.7v1.7h-1.7zM424.1 373.4h1.7v1.7h-1.7zM408.7 374.3h1.7v1.7h-1.7zM375.7 382.8h1.7v1.7h-1.7zM380.1 377.5h1.7v1.7h-1.7zM368.3 380.2h1.7v1.7h-1.7zM368.5 379.6h1.7v1.7h-1.7zM342.5 375.7h1.7v1.7h-1.7zM408.6 375.0h1.7v1.7h-1.7zM355.7 379.7h1.7v1.7h-1.7zM342.0 381.6h1.7v1.7h-1.7zM374.6 381.2h1.7v1.7h-1.7zM399.9 377.7h1.7v1.7h-1.7zM371.8 384.3h1.7v1.7h-1.7zM365.4 381.0h1.7v1.7h-1.7zM393.6 373.5h1.7v1.7h-1.7zM349.6 376.9h1.7v1.7h-1.7zM341.3 374.8h1.7v1.7h-1.7zM386.9 379.2h1.7v1.7h-1.7zM380.7 375.3h1.7v1.7h-1.7zM416.1 374.1h1.7v1.7h-1.7zM370.0 378.6h1.7v1.7h-1.7zM407.2 374.9h1.7v1.7h-1.7zM341.5 380.1h1.7v1.7h-1.7zM341.9 376.6h1.7v1.7h-1.7zM387.5 375.1h1.7v1.7h-1.7zM354.1 378.0h1.7v1.7h-1.7zM343.7 382.7h1.7v1.7h-1.7zM347.3 380.7h1.7v1.7h-1.7zM366.3 378.4h1.7v1.7h-1.7zM363.1 376.2h1.7v1.7h-1.7zM384.0 374.3h1.7v1.7h-1.7zM418.6 373.6h1.7v1.7h-1.7zM365.5 382.5h1.7v1.7h-1.7zM351.1 380.0h1.7v1.7h-1.7zM385.4 380.0h1.7v1.7h-1.7zM341.1 381.5h1.7v1.7h-1.7zM367.2 382.1h1.7v1.7h-1.7zM361.4 379.0h1.7v1.7h-1.7zM367.4 384.8h1.7v1.7h-1.7zM342.9 374.7h1.7v1.7h-1.7zM383.1 380.3h1.7v1.7h-1.7zM390.1 379.3h1.7v1.7h-1.7zM403.3 376.4h1.7v1.7h-1.7zM426.6 373.3h1.7v1.7h-1.7zM364.6 382.1h1.7v1.7h-1.7zM393.4 378.3h1.7v1.7h-1.7zM372.4 379.3h1.7v1.7h-1.7zM353.3 384.4h1.7v1.7h-1.7zM418.8 373.5h1.7v1.7h-1.7zM402.9 375.6h1.7v1.7h-1.7zM424.9 373.4h1.7v1.7h-1.7zM411.1 375.0h1.7v1.7h-1.7zM422.0 373.5h1.7v1.7h-1.7zM347.3 377.3h1.7v1.7h-1.7zM341.4 379.7h1.7v1.7h-1.7zM352.1 375.5h1.7v1.7h-1.7zM369.6 379.2h1.7v1.7h-1.7zM396.7 376.2h1.7v1.7h-1.7zM372.0 383.5h1.7v1.7h-1.7zM379.1 378.4h1.7v1.7h-1.7zM404.5 375.5h1.7v1.7h-1.7zM343.9 380.6h1.7v1.7h-1.7zM395.7 377.3h1.7v1.7h-1.7zM342.8 382.3h1.7v1.7h-1.7zM355.9 380.3h1.7v1.7h-1.7zM400.3 376.1h1.7v1.7h-1.7zM396.2 373.5h1.7v1.7h-1.7zM369.0 376.9h1.7v1.7h-1.7zM359.5 377.7h1.7v1.7h-1.7zM411.9 373.9h1.7v1.7h-1.7zM357.9 381.1h1.7v1.7h-1.7zM342.0 375.7h1.7v1.7h-1.7zM355.8 381.6h1.7v1.7h-1.7zM341.6 380.6h1.7v1.7h-1.7zM409.9 373.6h1.7v1.7h-1.7zM346.9 377.1h1.7v1.7h-1.7zM428.5 373.2h1.7v1.7h-1.7zM353.2 374.4h1.7v1.7h-1.7zM360.5 376.1h1.7v1.7h-1.7zM386.1 378.3h1.7v1.7h-1.7zM360.6 379.7h1.7v1.7h-1.7zM366.7 386.0h1.7v1.7h-1.7zM345.8 380.3h1.7v1.7h-1.7zM367.6 384.3h1.7v1.7h-1.7zM341.8 377.0h1.7v1.7h-1.7zM354.0 379.2h1.7v1.7h-1.7zM421.1 373.8h1.7v1.7h-1.7zM358.4 382.2h1.7v1.7h-1.7zM357.6 385.5h1.7v1.7h-1.7zM395.8 375.1h1.7v1.7h-1.7zM418.0 373.5h1.7v1.7h-1.7zM359.6 383.0h1.7v1.7h-1.7zM366.4 375.9h1.7v1.7h-1.7zM399.5 373.9h1.7v1.7h-1.7zM407.9 374.6h1.7v1.7h-1.7zM389.0 378.4h1.7v1.7h-1.7zM350.7 378.9h1.7v1.7h-1.7zM350.8 383.3h1.7v1.7h-1.7zM404.2 375.2h1.7v1.7h-1.7zM398.7 375.1h1.7v1.7h-1.7zM419.5 373.7h1.7v1.7h-1.7zM406.6 375.3h1.7v1.7h-1.7zM370.5 376.1h1.7v1.7h-1.7zM347.6 381.3h1.7v1.7h-1.7zM418.9 373.5h1.7v1.7h-1.7zM397.5 378.2h1.7v1.7h-1.7zM385.3 378.1h1.7v1.7h-1.7zM396.1 374.8h1.7v1.7h-1.7zM367.2 374.4h1.7v1.7h-1.7zM363.6 377.3h1.7v1.7h-1.7zM385.2 376.5h1.7v1.7h-1.7zM376.2 380.4h1.7v1.7h-1.7zM398.9 376.7h1.7v1.7h-1.7zM424.1 373.5h1.7v1.7h-1.7zM414.0 374.0h1.7v1.7h-1.7zM367.4 382.8h1.7v1.7h-1.7zM366.1 381.8h1.7v1.7h-1.7zM423.0 373.4h1.7v1.7h-1.7zM368.1 377.4h1.7v1.7h-1.7zM408.8 374.5h1.7v1.7h-1.7zM345.1 381.2h1.7v1.7h-1.7zM373.2 375.7h1.7v1.7h-1.7zM379.4 380.2h1.7v1.7h-1.7zM409.7 373.4h1.7v1.7h-1.7zM417.4 373.6h1.7v1.7h-1.7zM348.9 382.3h1.7v1.7h-1.7zM389.4 379.1h1.7v1.7h-1.7zM390.6 378.6h1.7v1.7h-1.7zM348.8 382.5h1.7v1.7h-1.7zM412.5 373.9h1.7v1.7h-1.7zM383.0 382.0h1.7v1.7h-1.7zM427.1 373.2h1.7v1.7h-1.7zM351.2 385.0h1.7v1.7h-1.7zM380.2 382.5h1.7v1.7h-1.7zM361.9 377.6h1.7v1.7h-1.7zM392.0 379.4h1.7v1.7h-1.7zM388.4 374.3h1.7v1.7h-1.7zM379.0 380.3h1.7v1.7h-1.7zM362.0 377.8h1.7v1.7h-1.7zM378.2 374.9h1.7v1.7h-1.7zM366.1 382.0h1.7v1.7h-1.7zM418.9 373.5h1.7v1.7h-1.7zM374.2 382.9h1.7v1.7h-1.7zM375.4 379.4h1.7v1.7h-1.7zM356.6 377.9h1.7v1.7h-1.7zM356.3 373.7h1.7v1.7h-1.7zM426.2 373.3h1.7v1.7h-1.7zM361.1 382.6h1.7v1.7h-1.7zM416.4 374.2h1.7v1.7h-1.7zM387.1 376.7h1.7v1.7h-1.7zM429.3 373.0h1.7v1.7h-1.7zM349.7 373.9h1.7v1.7h-1.7zM424.7 373.5h1.7v1.7h-1.7zM405.8 375.9h1.7v1.7h-1.7zM384.4 374.7h1.7v1.7h-1.7zM398.9 378.0h1.7v1.7h-1.7zM400.4 374.0h1.7v1.7h-1.7zM372.9 382.9h1.7v1.7h-1.7zM391.1 375.4h1.7v1.7h-1.7zM354.3 382.9h1.7v1.7h-1.7zM341.6 380.7h1.7v1.7h-1.7zM395.5 374.3h1.7v1.7h-1.7zM375.4 377.9h1.7v1.7h-1.7zM420.6 373.8h1.7v1.7h-1.7zM357.1 380.5h1.7v1.7h-1.7zM410.7 373.8h1.7v1.7h-1.7zM430.0 373.3h1.7v1.7h-1.7zM419.8 373.4h1.7v1.7h-1.7zM427.4 373.3h1.7v1.7h-1.7zM349.3 378.8h1.7v1.7h-1.7zM349.7 383.5h1.7v1.7h-1.7zM354.3 380.1h1.7v1.7h-1.7zM365.1 375.4h1.7v1.7h-1.7zM346.5 378.3h1.7v1.7h-1.7zM348.8 380.3h1.7v1.7h-1.7zM341.5 377.8h1.7v1.7h-1.7zM423.8 373.5h1.7v1.7h-1.7zM365.1 383.3h1.7v1.7h-1.7zM390.3 378.6h1.7v1.7h-1.7zM373.5 380.5h1.7v1.7h-1.7zM402.6 373.6h1.7v1.7h-1.7zM409.4 375.3h1.7v1.7h-1.7zM367.0 384.6h1.7v1.7h-1.7zM381.2 380.6h1.7v1.7h-1.7zM345.4 378.9h1.7v1.7h-1.7zM358.8 385.2h1.7v1.7h-1.7zM353.9 375.3h1.7v1.7h-1.7zM360.7 383.7h1.7v1.7h-1.7zM362.0 382.2h1.7v1.7h-1.7zM385.1 379.3h1.7v1.7h-1.7zM362.7 374.9h1.7v1.7h-1.7zM362.2 386.4h1.7v1.7h-1.7zM412.2 373.4h1.7v1.7h-1.7zM341.3 375.4h1.7v1.7h-1.7zM341.1 378.2h1.7v1.7h-1.7zM343.2 379.4h1.7v1.7h-1.7zM416.1 373.6h1.7v1.7h-1.7zM391.1 375.7h1.7v1.7h-1.7zM400.9 377.3h1.7v1.7h-1.7zM426.6 373.3h1.7v1.7h-1.7zM353.5 380.0h1.7v1.7h-1.7zM422.3 373.4h1.7v1.7h-1.7zM355.4 381.5h1.7v1.7h-1.7zM379.6 380.7h1.7v1.7h-1.7zM396.0 377.5h1.7v1.7h-1.7zM408.5 374.1h1.7v1.7h-1.7zM355.8 379.1h1.7v1.7h-1.7zM375.6 381.3h1.7v1.7h-1.7zM342.7 382.3h1.7v1.7h-1.7zM359.0 384.0h1.7v1.7h-1.7zM429.3 373.2h1.7v1.7h-1.7zM420.6 373.4h1.7v1.7h-1.7zM385.8 376.5h1.7v1.7h-1.7zM407.3 375.0h1.7v1.7h-1.7zM420.2 373.5h1.7v1.7h-1.7zM362.6 384.4h1.7v1.7h-1.7zM429.3 373.2h1.7v1.7h-1.7zM373.0 375.6h1.7v1.7h-1.7zM349.3 381.6h1.7v1.7h-1.7zM380.7 380.9h1.7v1.7h-1.7zM387.0 375.4h1.7v1.7h-1.7zM397.2 375.4h1.7v1.7h-1.7zM394.9 375.2h1.7v1.7h-1.7zM342.5 373.8h1.7v1.7h-1.7zM391.6 378.0h1.7v1.7h-1.7zM422.4 373.4h1.7v1.7h-1.7zM394.8 377.1h1.7v1.7h-1.7zM428.7 373.1h1.7v1.7h-1.7zM378.9 379.4h1.7v1.7h-1.7zM409.9 373.5h1.7v1.7h-1.7zM348.1 374.2h1.7v1.7h-1.7zM419.5 373.7h1.7v1.7h-1.7zM371.8 380.4h1.7v1.7h-1.7zM417.3 373.4h1.7v1.7h-1.7zM361.7 373.7h1.7v1.7h-1.7zM390.1 378.7h1.7v1.7h-1.7zM413.9 373.9h1.7v1.7h-1.7zM399.2 376.9h1.7v1.7h-1.7zM389.7 375.2h1.7v1.7h-1.7zM428.1 373.2h1.7v1.7h-1.7zM344.9 382.9h1.7v1.7h-1.7zM345.7 376.3h1.7v1.7h-1.7zM382.8 377.6h1.7v1.7h-1.7zM426.3 373.3h1.7v1.7h-1.7zM396.5 377.3h1.7v1.7h-1.7zM360.8 378.7h1.7v1.7h-1.7zM346.0 381.2h1.7v1.7h-1.7zM372.9 376.9h1.7v1.7h-1.7zM375.9 381.5h1.7v1.7h-1.7zM374.8 373.8h1.7v1.7h-1.7zM389.6 375.1h1.7v1.7h-1.7zM357.8 374.7h1.7v1.7h-1.7zM417.7 373.5h1.7v1.7h-1.7zM359.0 383.7h1.7v1.7h-1.7zM346.0 379.3h1.7v1.7h-1.7zM364.1 384.4h1.7v1.7h-1.7zM424.1 373.5h1.7v1.7h-1.7zM349.4 376.6h1.7v1.7h-1.7zM358.1 383.9h1.7v1.7h-1.7zM423.0 373.6h1.7v1.7h-1.7zM364.0 378.6h1.7v1.7h-1.7zM413.5 373.5h1.7v1.7h-1.7zM342.7 378.2h1.7v1.7h-1.7zM418.7 373.8h1.7v1.7h-1.7zM355.0 382.9h1.7v1.7h-1.7zM350.8 381.3h1.7v1.7h-1.7zM402.5 374.8h1.7v1.7h-1.7zM430.3 373.2h1.7v1.7h-1.7zM426.8 373.3h1.7v1.7h-1.7zM403.6 375.3h1.7v1.7h-1.7zM421.6 373.4h1.7v1.7h-1.7zM430.0 373.2h1.7v1.7h-1.7zM382.9 381.2h1.7v1.7h-1.7zM348.4 379.5h1.7v1.7h-1.7zM414.3 373.6h1.7v1.7h-1.7zM368.2 383.2h1.7v1.7h-1.7zM361.0 379.1h1.7v1.7h-1.7zM377.9 379.4h1.7v1.7h-1.7zM342.2 377.5h1.7v1.7h-1.7zM341.5 374.8h1.7v1.7h-1.7zM357.1 383.5h1.7v1.7h-1.7zM387.2 378.0h1.7v1.7h-1.7zM403.3 377.0h1.7v1.7h-1.7zM426.6 373.3h1.7v1.7h-1.7zM410.8 374.7h1.7v1.7h-1.7zM424.7 373.4h1.7v1.7h-1.7zM391.3 376.6h1.7v1.7h-1.7zM401.6 376.5h1.7v1.7h-1.7zM386.4 375.8h1.7v1.7h-1.7zM344.5 378.2h1.7v1.7h-1.7zM343.5 375.2h1.7v1.7h-1.7zM404.4 375.5h1.7v1.7h-1.7zM352.4 379.9h1.7v1.7h-1.7zM407.6 373.5h1.7v1.7h-1.7zM374.4 376.9h1.7v1.7h-1.7zM341.2 377.2h1.7v1.7h-1.7zM383.8 378.4h1.7v1.7h-1.7zM372.4 375.1h1.7v1.7h-1.7zM344.1 380.1h1.7v1.7h-1.7zM356.8 384.4h1.7v1.7h-1.7zM360.5 378.8h1.7v1.7h-1.7zM363.8 374.9h1.7v1.7h-1.7zM398.7 374.3h1.7v1.7h-1.7zM349.9 383.4h1.7v1.7h-1.7zM372.5 380.7h1.7v1.7h-1.7zM388.3 374.7h1.7v1.7h-1.7zM425.3 373.3h1.7v1.7h-1.7zM346.5 383.2h1.7v1.7h-1.7zM344.4 380.8h1.7v1.7h-1.7zM351.6 382.8h1.7v1.7h-1.7zM353.7 376.0h1.7v1.7h-1.7zM349.6 385.7h1.7v1.7h-1.7zM344.2 376.7h1.7v1.7h-1.7zM352.9 378.9h1.7v1.7h-1.7zM353.9 377.3h1.7v1.7h-1.7zM375.9 383.9h1.7v1.7h-1.7zM392.5 377.6h1.7v1.7h-1.7zM365.4 381.8h1.7v1.7h-1.7zM350.0 379.5h1.7v1.7h-1.7zM345.3 381.5h1.7v1.7h-1.7zM357.0 380.4h1.7v1.7h-1.7zM350.1 380.1h1.7v1.7h-1.7zM376.0 375.8h1.7v1.7h-1.7zM416.7 374.2h1.7v1.7h-1.7zM399.7 373.8h1.7v1.7h-1.7zM352.4 385.1h1.7v1.7h-1.7zM342.2 381.6h1.7v1.7h-1.7zM343.8 379.2h1.7v1.7h-1.7zM371.8 376.2h1.7v1.7h-1.7zM365.3 377.3h1.7v1.7h-1.7zM396.1 374.4h1.7v1.7h-1.7zM344.6 381.1h1.7v1.7h-1.7zM356.3 379.1h1.7v1.7h-1.7zM396.5 378.5h1.7v1.7h-1.7zM384.4 376.8h1.7v1.7h-1.7zM379.4 377.4h1.7v1.7h-1.7zM420.2 373.8h1.7v1.7h-1.7zM346.4 383.5h1.7v1.7h-1.7zM351.9 380.9h1.7v1.7h-1.7zM384.2 374.9h1.7v1.7h-1.7zM384.2 375.3h1.7v1.7h-1.7zM429.2 373.1h1.7v1.7h-1.7zM428.9 373.1h1.7v1.7h-1.7zM386.4 380.9h1.7v1.7h-1.7zM404.3 375.6h1.7v1.7h-1.7zM397.7 377.4h1.7v1.7h-1.7zM347.6 382.1h1.7v1.7h-1.7zM387.9 377.8h1.7v1.7h-1.7zM360.4 384.5h1.7v1.7h-1.7zM364.9 377.1h1.7v1.7h-1.7zM349.1 376.1h1.7v1.7h-1.7zM341.2 376.6h1.7v1.7h-1.7zM414.7 373.9h1.7v1.7h-1.7zM399.8 377.7h1.7v1.7h-1.7zM403.6 376.5h1.7v1.7h-1.7zM359.0 383.7h1.7v1.7h-1.7zM370.1 385.2h1.7v1.7h-1.7zM350.5 379.1h1.7v1.7h-1.7zM387.9 380.4h1.7v1.7h-1.7zM413.1 374.8h1.7v1.7h-1.7zM406.4 374.1h1.7v1.7h-1.7zM423.8 373.4h1.7v1.7h-1.7zM356.8 378.4h1.7v1.7h-1.7zM398.1 374.6h1.7v1.7h-1.7zM347.2 384.6h1.7v1.7h-1.7zM381.3 377.7h1.7v1.7h-1.7zM346.2 383.4h1.7v1.7h-1.7zM381.7 379.4h1.7v1.7h-1.7zM381.9 374.3h1.7v1.7h-1.7zM363.9 380.2h1.7v1.7h-1.7zM364.1 384.4h1.7v1.7h-1.7zM399.2 375.2h1.7v1.7h-1.7zM376.0 377.5h1.7v1.7h-1.7zM369.2 375.3h1.7v1.7h-1.7zM346.3 379.5h1.7v1.7h-1.7zM358.5 385.8h1.7v1.7h-1.7zM414.0 373.4h1.7v1.7h-1.7zM428.3 373.1h1.7v1.7h-1.7zM366.2 382.4h1.7v1.7h-1.7zM416.7 373.7h1.7v1.7h-1.7zM417.0 374.2h1.7v1.7h-1.7zM353.5 385.3h1.7v1.7h-1.7zM357.8 386.1h1.7v1.7h-1.7zM397.6 376.0h1.7v1.7h-1.7zM360.5 379.9h1.7v1.7h-1.7zM426.3 373.3h1.7v1.7h-1.7zM365.5 385.7h1.7v1.7h-1.7zM401.2 375.1h1.7v1.7h-1.7zM398.7 375.3h1.7v1.7h-1.7zM353.2 379.5h1.7v1.7h-1.7zM416.1 373.4h1.7v1.7h-1.7zM362.3 385.0h1.7v1.7h-1.7zM346.2 379.3h1.7v1.7h-1.7zM342.9 378.4h1.7v1.7h-1.7zM373.3 381.6h1.7v1.7h-1.7zM391.0 378.8h1.7v1.7h-1.7zM357.6 383.2h1.7v1.7h-1.7zM413.4 374.0h1.7v1.7h-1.7zM357.3 378.2h1.7v1.7h-1.7zM414.0 373.9h1.7v1.7h-1.7zM342.1 378.6h1.7v1.7h-1.7zM357.0 384.3h1.7v1.7h-1.7zM349.4 373.6h1.7v1.7h-1.7zM372.9 381.4h1.7v1.7h-1.7zM364.2 385.1h1.7v1.7h-1.7zM368.1 381.9h1.7v1.7h-1.7zM414.5 373.9h1.7v1.7h-1.7zM385.6 377.6h1.7v1.7h-1.7zM388.2 377.5h1.7v1.7h-1.7zM367.7 382.8h1.7v1.7h-1.7zM409.7 373.6h1.7v1.7h-1.7zM378.0 381.9h1.7v1.7h-1.7zM402.9 375.7h1.7v1.7h-1.7zM421.6 373.5h1.7v1.7h-1.7zM388.8 379.8h1.7v1.7h-1.7zM371.7 379.3h1.7v1.7h-1.7zM357.0 383.9h1.7v1.7h-1.7zM421.3 373.5h1.7v1.7h-1.7zM404.9 375.4h1.7v1.7h-1.7zM408.7 374.0h1.7v1.7h-1.7zM353.8 377.8h1.7v1.7h-1.7zM371.9 378.4h1.7v1.7h-1.7zM418.1 373.5h1.7v1.7h-1.7zM355.7 383.7h1.7v1.7h-1.7zM410.3 374.5h1.7v1.7h-1.7zM381.5 377.3h1.7v1.7h-1.7zM353.6 381.6h1.7v1.7h-1.7zM366.4 377.5h1.7v1.7h-1.7zM344.2 378.5h1.7v1.7h-1.7zM395.1 376.8h1.7v1.7h-1.7zM400.8 376.2h1.7v1.7h-1.7zM341.9 377.7h1.7v1.7h-1.7zM360.1 383.7h1.7v1.7h-1.7zM405.3 376.3h1.7v1.7h-1.7zM352.2 385.6h1.7v1.7h-1.7zM381.4 379.1h1.7v1.7h-1.7zM409.4 375.7h1.7v1.7h-1.7zM384.6 381.1h1.7v1.7h-1.7zM346.9 381.6h1.7v1.7h-1.7zM421.0 373.4h1.7v1.7h-1.7zM403.0 376.0h1.7v1.7h-1.7zM384.1 378.4h1.7v1.7h-1.7zM362.7 383.4h1.7v1.7h-1.7zM385.9 376.1h1.7v1.7h-1.7zM367.8 387.0h1.7v1.7h-1.7zM346.7 378.3h1.7v1.7h-1.7zM346.9 385.0h1.7v1.7h-1.7zM342.7 376.6h1.7v1.7h-1.7zM350.1 380.2h1.7v1.7h-1.7zM355.6 382.8h1.7v1.7h-1.7zM391.2 375.5h1.7v1.7h-1.7zM385.6 377.1h1.7v1.7h-1.7zM386.7 378.7h1.7v1.7h-1.7zM411.2 374.9h1.7v1.7h-1.7zM345.3 383.3h1.7v1.7h-1.7zM367.6 381.9h1.7v1.7h-1.7zM344.4 383.2h1.7v1.7h-1.7zM370.2 378.0h1.7v1.7h-1.7zM344.4 380.1h1.7v1.7h-1.7zM343.7 381.1h1.7v1.7h-1.7zM345.8 374.8h1.7v1.7h-1.7zM367.6 384.7h1.7v1.7h-1.7zM404.7 376.2h1.7v1.7h-1.7zM358.5 381.6h1.7v1.7h-1.7zM402.4 377.0h1.7v1.7h-1.7zM354.7 383.0h1.7v1.7h-1.7zM358.9 379.2h1.7v1.7h-1.7zM375.1 382.9h1.7v1.7h-1.7zM344.2 379.2h1.7v1.7h-1.7zM373.0 382.2h1.7v1.7h-1.7zM386.0 381.0h1.7v1.7h-1.7zM411.5 374.8h1.7v1.7h-1.7zM343.2 381.0h1.7v1.7h-1.7zM408.8 375.5h1.7v1.7h-1.7zM384.6 375.6h1.7v1.7h-1.7zM385.5 373.9h1.7v1.7h-1.7zM342.9 374.5h1.7v1.7h-1.7zM417.7 373.8h1.7v1.7h-1.7zM358.1 386.0h1.7v1.7h-1.7zM382.3 378.0h1.7v1.7h-1.7zM381.5 382.0h1.7v1.7h-1.7zM421.1 373.5h1.7v1.7h-1.7zM387.8 374.8h1.7v1.7h-1.7zM430.5 373.1h1.7v1.7h-1.7zM354.6 384.5h1.7v1.7h-1.7zM394.0 379.0h1.7v1.7h-1.7zM385.3 378.2h1.7v1.7h-1.7zM379.1 377.9h1.7v1.7h-1.7zM390.4 378.8h1.7v1.7h-1.7zM382.7 377.8h1.7v1.7h-1.7zM363.0 378.5h1.7v1.7h-1.7zM391.9 378.3h1.7v1.7h-1.7zM344.6 374.7h1.7v1.7h-1.7zM375.8 382.4h1.7v1.7h-1.7zM373.4 384.8h1.7v1.7h-1.7zM353.2 375.4h1.7v1.7h-1.7zM384.4 380.1h1.7v1.7h-1.7zM394.8 373.6h1.7v1.7h-1.7zM347.1 375.5h1.7v1.7h-1.7zM359.7 378.3h1.7v1.7h-1.7zM343.5 382.9h1.7v1.7h-1.7zM387.3 374.0h1.7v1.7h-1.7zM344.5 378.8h1.7v1.7h-1.7zM354.4 380.0h1.7v1.7h-1.7zM372.9 376.3h1.7v1.7h-1.7zM373.3 385.1h1.7v1.7h-1.7zM342.1 376.1h1.7v1.7h-1.7zM425.4 373.4h1.7v1.7h-1.7zM354.4 381.2h1.7v1.7h-1.7zM388.6 378.6h1.7v1.7h-1.7zM353.8 383.4h1.7v1.7h-1.7zM387.2 378.7h1.7v1.7h-1.7zM364.4 384.7h1.7v1.7h-1.7zM361.5 385.4h1.7v1.7h-1.7zM375.4 375.7h1.7v1.7h-1.7zM386.3 374.4h1.7v1.7h-1.7zM387.4 377.2h1.7v1.7h-1.7zM396.8 374.2h1.7v1.7h-1.7zM357.4 381.9h1.7v1.7h-1.7zM345.1 383.4h1.7v1.7h-1.7zM356.2 380.9h1.7v1.7h-1.7zM362.2 376.5h1.7v1.7h-1.7zM388.4 374.6h1.7v1.7h-1.7zM369.8 381.2h1.7v1.7h-1.7zM360.9 383.8h1.7v1.7h-1.7zM345.5 382.4h1.7v1.7h-1.7zM387.3 379.2h1.7v1.7h-1.7zM346.2 379.4h1.7v1.7h-1.7zM379.4 382.2h1.7v1.7h-1.7zM396.7 376.5h1.7v1.7h-1.7zM390.0 378.2h1.7v1.7h-1.7zM349.4 373.4h1.7v1.7h-1.7zM364.7 381.0h1.7v1.7h-1.7zM424.7 373.3h1.7v1.7h-1.7zM345.0 376.4h1.7v1.7h-1.7zM395.7 375.4h1.7v1.7h-1.7zM371.8 381.3h1.7v1.7h-1.7zM389.0 374.2h1.7v1.7h-1.7zM368.0 383.8h1.7v1.7h-1.7zM347.0 378.9h1.7v1.7h-1.7zM383.9 375.8h1.7v1.7h-1.7zM341.2 381.3h1.7v1.7h-1.7zM415.9 374.1h1.7v1.7h-1.7zM408.6 374.4h1.7v1.7h-1.7zM366.2 375.9h1.7v1.7h-1.7zM381.4 378.5h1.7v1.7h-1.7zM380.4 381.1h1.7v1.7h-1.7zM429.2 373.1h1.7v1.7h-1.7zM342.6 376.9h1.7v1.7h-1.7zM359.8 375.6h1.7v1.7h-1.7zM369.2 377.3h1.7v1.7h-1.7zM407.4 375.7h1.7v1.7h-1.7zM401.2 374.3h1.7v1.7h-1.7zM370.6 386.0h1.7v1.7h-1.7zM341.3 379.8h1.7v1.7h-1.7zM392.5 376.3h1.7v1.7h-1.7zM369.1 376.8h1.7v1.7h-1.7zM346.6 379.5h1.7v1.7h-1.7zM390.8 379.6h1.7v1.7h-1.7zM372.6 375.5h1.7v1.7h-1.7zM360.5 377.6h1.7v1.7h-1.7zM357.5 375.0h1.7v1.7h-1.7zM379.8 380.9h1.7v1.7h-1.7zM355.8 385.7h1.7v1.7h-1.7zM367.9 381.9h1.7v1.7h-1.7zM424.8 373.4h1.7v1.7h-1.7zM375.7 384.1h1.7v1.7h-1.7zM356.2 381.8h1.7v1.7h-1.7zM379.8 382.8h1.7v1.7h-1.7zM422.0 373.5h1.7v1.7h-1.7zM416.1 373.5h1.7v1.7h-1.7zM395.6 374.0h1.7v1.7h-1.7zM419.9 373.5h1.7v1.7h-1.7zM404.0 375.2h1.7v1.7h-1.7zM395.9 377.7h1.7v1.7h-1.7zM371.1 380.2h1.7v1.7h-1.7zM348.7 377.7h1.7v1.7h-1.7zM401.4 377.2h1.7v1.7h-1.7zM391.1 377.5h1.7v1.7h-1.7zM427.8 373.2h1.7v1.7h-1.7zM361.7 384.7h1.7v1.7h-1.7zM417.3 374.0h1.7v1.7h-1.7zM353.6 377.4h1.7v1.7h-1.7zM425.3 373.4h1.7v1.7h-1.7zM431.1 373.2h1.7v1.7h-1.7zM342.7 375.4h1.7v1.7h-1.7zM362.0 382.8h1.7v1.7h-1.7zM431.4 373.0h1.7v1.7h-1.7zM427.8 373.3h1.7v1.7h-1.7zM394.9 377.5h1.7v1.7h-1.7zM347.7 375.2h1.7v1.7h-1.7zM341.2 377.9h1.7v1.7h-1.7zM355.9 385.7h1.7v1.7h-1.7zM425.1 373.4h1.7v1.7h-1.7zM409.3 374.9h1.7v1.7h-1.7zM371.1 383.8h1.7v1.7h-1.7zM404.5 375.8h1.7v1.7h-1.7zM420.2 373.5h1.7v1.7h-1.7zM360.0 385.0h1.7v1.7h-1.7zM417.1 374.0h1.7v1.7h-1.7zM357.5 381.9h1.7v1.7h-1.7zM362.3 386.2h1.7v1.7h-1.7zM342.6 379.0h1.7v1.7h-1.7zM349.4 378.4h1.7v1.7h-1.7zM382.7 377.7h1.7v1.7h-1.7zM341.7 378.7h1.7v1.7h-1.7zM382.2 381.4h1.7v1.7h-1.7zM350.1 384.2h1.7v1.7h-1.7zM403.2 375.1h1.7v1.7h-1.7zM347.3 380.0h1.7v1.7h-1.7zM352.7 374.5h1.7v1.7h-1.7zM357.4 382.4h1.7v1.7h-1.7zM385.9 379.8h1.7v1.7h-1.7zM409.7 374.0h1.7v1.7h-1.7zM403.7 375.9h1.7v1.7h-1.7zM402.4 374.1h1.7v1.7h-1.7zM396.0 378.0h1.7v1.7h-1.7zM382.0 380.4h1.7v1.7h-1.7zM363.5 386.1h1.7v1.7h-1.7zM350.8 377.9h1.7v1.7h-1.7zM415.9 373.6h1.7v1.7h-1.7zM369.4 381.8h1.7v1.7h-1.7zM392.8 373.9h1.7v1.7h-1.7zM343.8 381.7h1.7v1.7h-1.7zM365.1 377.1h1.7v1.7h-1.7zM345.6 375.5h1.7v1.7h-1.7zM364.5 376.3h1.7v1.7h-1.7zM401.5 376.4h1.7v1.7h-1.7zM363.4 374.5h1.7v1.7h-1.7zM396.1 376.0h1.7v1.7h-1.7zM347.0 376.3h1.7v1.7h-1.7zM367.2 384.6h1.7v1.7h-1.7zM369.4 374.6h1.7v1.7h-1.7zM378.7 376.1h1.7v1.7h-1.7zM354.3 383.7h1.7v1.7h-1.7zM397.8 376.2h1.7v1.7h-1.7zM418.0 373.5h1.7v1.7h-1.7zM410.2 375.5h1.7v1.7h-1.7zM342.0 377.3h1.7v1.7h-1.7zM376.7 378.7h1.7v1.7h-1.7zM363.6 383.9h1.7v1.7h-1.7zM384.9 377.9h1.7v1.7h-1.7zM344.6 382.2h1.7v1.7h-1.7zM401.1 375.9h1.7v1.7h-1.7zM370.1 377.6h1.7v1.7h-1.7zM425.0 373.4h1.7v1.7h-1.7zM341.6 380.7h1.7v1.7h-1.7zM370.1 378.0h1.7v1.7h-1.7zM376.5 380.9h1.7v1.7h-1.7zM412.2 374.5h1.7v1.7h-1.7zM404.0 376.0h1.7v1.7h-1.7zM350.9 378.9h1.7v1.7h-1.7zM360.6 377.4h1.7v1.7h-1.7zM401.8 376.3h1.7v1.7h-1.7zM370.3 384.7h1.7v1.7h-1.7zM357.0 380.4h1.7v1.7h-1.7zM423.5 373.4h1.7v1.7h-1.7zM413.6 374.6h1.7v1.7h-1.7zM364.6 381.4h1.7v1.7h-1.7zM382.6 379.8h1.7v1.7h-1.7zM423.3 373.4h1.7v1.7h-1.7zM353.4 383.8h1.7v1.7h-1.7zM421.0 373.6h1.7v1.7h-1.7zM418.2 374.1h1.7v1.7h-1.7zM400.8 374.7h1.7v1.7h-1.7zM396.5 373.4h1.7v1.7h-1.7zM396.4 375.4h1.7v1.7h-1.7zM382.1 380.3h1.7v1.7h-1.7zM385.9 379.3h1.7v1.7h-1.7zM352.0 384.4h1.7v1.7h-1.7zM383.9 375.7h1.7v1.7h-1.7zM395.1 377.0h1.7v1.7h-1.7zM376.4 374.7h1.7v1.7h-1.7zM395.8 375.0h1.7v1.7h-1.7zM373.9 374.3h1.7v1.7h-1.7zM409.1 375.0h1.7v1.7h-1.7zM400.2 377.4h1.7v1.7h-1.7zM344.9 380.3h1.7v1.7h-1.7zM405.4 375.5h1.7v1.7h-1.7zM358.7 385.4h1.7v1.7h-1.7zM344.5 377.5h1.7v1.7h-1.7zM346.9 380.6h1.7v1.7h-1.7zM361.9 384.6h1.7v1.7h-1.7zM380.2 375.9h1.7v1.7h-1.7zM362.5 383.4h1.7v1.7h-1.7zM352.5 374.9h1.7v1.7h-1.7zM405.4 374.8h1.7v1.7h-1.7zM366.2 376.9h1.7v1.7h-1.7zM417.0 373.8h1.7v1.7h-1.7zM355.5 376.9h1.7v1.7h-1.7zM396.9 373.9h1.7v1.7h-1.7zM364.8 380.4h1.7v1.7h-1.7zM414.3 373.9h1.7v1.7h-1.7zM392.4 378.1h1.7v1.7h-1.7zM395.7 373.5h1.7v1.7h-1.7zM345.2 380.7h1.7v1.7h-1.7zM403.5 373.6h1.7v1.7h-1.7zM364.5 380.9h1.7v1.7h-1.7zM402.3 373.5h1.7v1.7h-1.7zM413.8 374.7h1.7v1.7h-1.7zM346.9 379.9h1.7v1.7h-1.7zM341.4 378.0h1.7v1.7h-1.7zM404.2 373.7h1.7v1.7h-1.7zM427.9 373.2h1.7v1.7h-1.7zM420.0 373.5h1.7v1.7h-1.7zM371.8 380.1h1.7v1.7h-1.7zM412.5 374.6h1.7v1.7h-1.7zM341.7 380.4h1.7v1.7h-1.7zM343.3 377.8h1.7v1.7h-1.7zM385.8 374.1h1.7v1.7h-1.7zM380.5 382.8h1.7v1.7h-1.7zM411.5 374.0h1.7v1.7h-1.7zM354.7 374.3h1.7v1.7h-1.7zM374.3 381.2h1.7v1.7h-1.7zM430.3 372.9h1.7v1.7h-1.7zM360.2 375.2h1.7v1.7h-1.7zM368.9 374.5h1.7v1.7h-1.7zM388.4 378.5h1.7v1.7h-1.7zM431.0 373.0h1.7v1.7h-1.7zM351.0 377.6h1.7v1.7h-1.7zM397.0 375.1h1.7v1.7h-1.7zM369.8 383.9h1.7v1.7h-1.7zM368.6 373.9h1.7v1.7h-1.7zM356.5 377.5h1.7v1.7h-1.7zM374.5 378.4h1.7v1.7h-1.7zM385.1 379.9h1.7v1.7h-1.7zM367.9 378.8h1.7v1.7h-1.7zM378.3 374.3h1.7v1.7h-1.7zM391.3 378.4h1.7v1.7h-1.7zM414.5 374.3h1.7v1.7h-1.7zM383.7 374.9h1.7v1.7h-1.7zM367.0 384.0h1.7v1.7h-1.7zM427.1 373.2h1.7v1.7h-1.7zM350.3 378.9h1.7v1.7h-1.7zM342.7 379.2h1.7v1.7h-1.7zM420.9 373.6h1.7v1.7h-1.7zM357.2 384.1h1.7v1.7h-1.7zM348.8 385.3h1.7v1.7h-1.7zM367.2 379.1h1.7v1.7h-1.7zM363.5 375.3h1.7v1.7h-1.7zM364.6 379.4h1.7v1.7h-1.7zM414.4 374.2h1.7v1.7h-1.7zM359.2 377.7h1.7v1.7h-1.7zM347.6 376.0h1.7v1.7h-1.7zM353.4 377.0h1.7v1.7h-1.7zM425.7 373.4h1.7v1.7h-1.7zM371.1 383.0h1.7v1.7h-1.7zM365.1 375.9h1.7v1.7h-1.7zM406.3 374.5h1.7v1.7h-1.7zM424.1 373.4h1.7v1.7h-1.7zM378.8 375.1h1.7v1.7h-1.7zM410.4 375.2h1.7v1.7h-1.7zM357.1 378.1h1.7v1.7h-1.7zM364.2 381.9h1.7v1.7h-1.7zM385.3 377.0h1.7v1.7h-1.7zM354.9 374.9h1.7v1.7h-1.7zM358.0 374.2h1.7v1.7h-1.7zM351.3 382.7h1.7v1.7h-1.7zM356.9 382.3h1.7v1.7h-1.7zM413.1 374.2h1.7v1.7h-1.7zM408.2 374.0h1.7v1.7h-1.7zM346.4 378.1h1.7v1.7h-1.7zM364.1 381.2h1.7v1.7h-1.7zM400.3 374.6h1.7v1.7h-1.7zM415.4 374.0h1.7v1.7h-1.7zM383.7 380.7h1.7v1.7h-1.7zM400.8 374.4h1.7v1.7h-1.7zM355.0 385.5h1.7v1.7h-1.7zM406.8 375.1h1.7v1.7h-1.7zM411.1 375.3h1.7v1.7h-1.7zM369.2 386.3h1.7v1.7h-1.7zM354.9 374.7h1.7v1.7h-1.7zM342.1 379.8h1.7v1.7h-1.7zM390.6 375.4h1.7v1.7h-1.7zM390.9 377.7h1.7v1.7h-1.7zM341.0 380.8h1.7v1.7h-1.7zM379.7 378.6h1.7v1.7h-1.7zM424.4 373.4h1.7v1.7h-1.7zM341.9 379.6h1.7v1.7h-1.7zM347.9 376.5h1.7v1.7h-1.7zM343.3 378.1h1.7v1.7h-1.7zM371.9 377.9h1.7v1.7h-1.7zM367.2 381.0h1.7v1.7h-1.7zM416.6 374.1h1.7v1.7h-1.7zM343.7 375.4h1.7v1.7h-1.7zM352.2 381.2h1.7v1.7h-1.7zM424.3 373.4h1.7v1.7h-1.7zM341.6 377.3h1.7v1.7h-1.7zM356.7 384.6h1.7v1.7h-1.7zM368.0 379.2h1.7v1.7h-1.7zM341.0 380.2h1.7v1.7h-1.7zM358.9 374.9h1.7v1.7h-1.7zM387.9 377.0h1.7v1.7h-1.7zM389.2 374.5h1.7v1.7h-1.7zM388.5 379.5h1.7v1.7h-1.7zM392.8 377.7h1.7v1.7h-1.7zM389.1 375.3h1.7v1.7h-1.7zM342.2 377.3h1.7v1.7h-1.7zM393.2 374.5h1.7v1.7h-1.7zM386.0 380.3h1.7v1.7h-1.7zM353.5 385.0h1.7v1.7h-1.7zM370.3 385.1h1.7v1.7h-1.7zM355.0 381.9h1.7v1.7h-1.7zM416.3 373.7h1.7v1.7h-1.7zM358.2 380.3h1.7v1.7h-1.7zM349.6 382.3h1.7v1.7h-1.7zM408.4 374.6h1.7v1.7h-1.7zM404.5 373.7h1.7v1.7h-1.7zM414.6 374.1h1.7v1.7h-1.7zM395.6 374.1h1.7v1.7h-1.7zM370.1 377.4h1.7v1.7h-1.7zM375.5 382.9h1.7v1.7h-1.7zM383.2 379.2h1.7v1.7h-1.7zM387.2 379.4h1.7v1.7h-1.7zM425.2 373.4h1.7v1.7h-1.7zM357.2 382.6h1.7v1.7h-1.7zM405.3 374.4h1.7v1.7h-1.7zM341.5 379.7h1.7v1.7h-1.7zM351.5 375.7h1.7v1.7h-1.7zM425.1 373.3h1.7v1.7h-1.7zM356.0 378.8h1.7v1.7h-1.7zM378.9 375.6h1.7v1.7h-1.7zM421.9 373.7h1.7v1.7h-1.7zM393.2 375.5h1.7v1.7h-1.7zM376.7 374.1h1.7v1.7h-1.7zM398.2 377.3h1.7v1.7h-1.7zM429.0 373.0h1.7v1.7h-1.7zM424.7 373.4h1.7v1.7h-1.7zM350.9 385.4h1.7v1.7h-1.7zM348.1 383.5h1.7v1.7h-1.7zM359.0 385.7h1.7v1.7h-1.7zM348.4 382.3h1.7v1.7h-1.7zM404.8 376.1h1.7v1.7h-1.7zM412.5 374.8h1.7v1.7h-1.7zM348.1 375.5h1.7v1.7h-1.7zM344.1 377.3h1.7v1.7h-1.7zM361.9 382.4h1.7v1.7h-1.7zM396.6 375.4h1.7v1.7h-1.7zM405.5 376.2h1.7v1.7h-1.7zM374.1 374.5h1.7v1.7h-1.7zM391.6 374.5h1.7v1.7h-1.7zM422.0 373.5h1.7v1.7h-1.7zM417.7 373.7h1.7v1.7h-1.7zM346.6 383.3h1.7v1.7h-1.7zM399.4 373.5h1.7v1.7h-1.7zM406.2 376.0h1.7v1.7h-1.7zM420.8 373.9h1.7v1.7h-1.7zM370.2 374.5h1.7v1.7h-1.7zM349.1 385.3h1.7v1.7h-1.7zM375.3 381.4h1.7v1.7h-1.7zM365.9 376.0h1.7v1.7h-1.7zM368.0 385.1h1.7v1.7h-1.7zM409.1 373.8h1.7v1.7h-1.7zM392.9 376.1h1.7v1.7h-1.7zM395.9 375.0h1.7v1.7h-1.7zM393.0 376.1h1.7v1.7h-1.7zM348.2 376.0h1.7v1.7h-1.7zM343.3 377.7h1.7v1.7h-1.7zM368.1 382.0h1.7v1.7h-1.7zM414.3 374.0h1.7v1.7h-1.7zM392.6 376.9h1.7v1.7h-1.7zM407.8 375.8h1.7v1.7h-1.7zM389.9 379.2h1.7v1.7h-1.7zM407.0 373.8h1.7v1.7h-1.7zM431.1 372.9h1.7v1.7h-1.7zM399.4 377.2h1.7v1.7h-1.7zM415.6 374.3h1.7v1.7h-1.7zM428.4 373.2h1.7v1.7h-1.7zM402.3 377.0h1.7v1.7h-1.7zM410.2 374.7h1.7v1.7h-1.7zM344.3 378.8h1.7v1.7h-1.7zM342.3 378.5h1.7v1.7h-1.7zM422.7 373.5h1.7v1.7h-1.7zM355.0 382.9h1.7v1.7h-1.7zM360.4 381.3h1.7v1.7h-1.7zM347.7 384.3h1.7v1.7h-1.7zM391.1 376.8h1.7v1.7h-1.7zM342.0 374.1h1.7v1.7h-1.7zM408.7 373.9h1.7v1.7h-1.7zM359.8 379.8h1.7v1.7h-1.7zM402.7 375.5h1.7v1.7h-1.7zM421.2 373.8h1.7v1.7h-1.7zM396.9 376.7h1.7v1.7h-1.7zM370.8 376.4h1.7v1.7h-1.7zM390.2 375.9h1.7v1.7h-1.7zM414.9 374.0h1.7v1.7h-1.7zM399.2 377.2h1.7v1.7h-1.7zM356.1 383.1h1.7v1.7h-1.7zM341.2 379.1h1.7v1.7h-1.7zM417.7 373.6h1.7v1.7h-1.7zM390.0 377.6h1.7v1.7h-1.7zM343.5 376.5h1.7v1.7h-1.7zM382.7 374.3h1.7v1.7h-1.7zM386.5 379.4h1.7v1.7h-1.7zM359.4 382.7h1.7v1.7h-1.7zM418.4 374.1h1.7v1.7h-1.7zM355.2 383.5h1.7v1.7h-1.7zM348.3 377.4h1.7v1.7h-1.7zM360.7 374.1h1.7v1.7h-1.7zM363.2 380.2h1.7v1.7h-1.7zM418.2 373.7h1.7v1.7h-1.7zM393.5 376.8h1.7v1.7h-1.7zM346.9 378.6h1.7v1.7h-1.7zM368.0 374.5h1.7v1.7h-1.7zM345.7 374.6h1.7v1.7h-1.7zM398.6 375.4h1.7v1.7h-1.7zM414.9 374.1h1.7v1.7h-1.7zM345.2 376.0h1.7v1.7h-1.7zM377.8 376.0h1.7v1.7h-1.7zM355.5 377.3h1.7v1.7h-1.7zM358.7 383.7h1.7v1.7h-1.7zM403.0 376.4h1.7v1.7h-1.7zM428.9 373.2h1.7v1.7h-1.7zM358.2 374.6h1.7v1.7h-1.7zM381.9 382.0h1.7v1.7h-1.7zM360.8 385.2h1.7v1.7h-1.7zM343.5 377.0h1.7v1.7h-1.7zM387.9 373.5h1.7v1.7h-1.7zM349.1 380.4h1.7v1.7h-1.7zM396.7 374.6h1.7v1.7h-1.7zM403.0 375.1h1.7v1.7h-1.7zM348.2 379.3h1.7v1.7h-1.7zM387.3 376.2h1.7v1.7h-1.7zM352.8 385.1h1.7v1.7h-1.7zM404.7 374.9h1.7v1.7h-1.7zM358.8 375.6h1.7v1.7h-1.7zM396.9 376.6h1.7v1.7h-1.7zM392.5 378.9h1.7v1.7h-1.7zM385.1 375.8h1.7v1.7h-1.7zM353.5 380.7h1.7v1.7h-1.7zM412.6 374.1h1.7v1.7h-1.7zM364.6 383.2h1.7v1.7h-1.7zM405.5 374.6h1.7v1.7h-1.7zM375.4 377.1h1.7v1.7h-1.7zM372.9 385.0h1.7v1.7h-1.7zM399.3 377.3h1.7v1.7h-1.7zM363.4 383.5h1.7v1.7h-1.7zM404.8 375.8h1.7v1.7h-1.7zM372.6 384.8h1.7v1.7h-1.7zM402.3 373.7h1.7v1.7h-1.7zM397.7 375.9h1.7v1.7h-1.7zM425.2 373.4h1.7v1.7h-1.7zM369.3 375.9h1.7v1.7h-1.7zM364.1 386.8h1.7v1.7h-1.7zM431.0 372.9h1.7v1.7h-1.7zM379.4 381.3h1.7v1.7h-1.7zM370.2 385.9h1.7v1.7h-1.7zM398.0 376.5h1.7v1.7h-1.7zM356.0 385.3h1.7v1.7h-1.7zM426.6 373.3h1.7v1.7h-1.7zM403.7 376.7h1.7v1.7h-1.7zM392.6 376.9h1.7v1.7h-1.7zM359.3 384.1h1.7v1.7h-1.7zM409.8 374.1h1.7v1.7h-1.7zM422.2 373.5h1.7v1.7h-1.7zM407.8 375.0h1.7v1.7h-1.7zM421.4 373.6h1.7v1.7h-1.7zM345.1 383.3h1.7v1.7h-1.7zM402.4 375.4h1.7v1.7h-1.7zM416.2 374.3h1.7v1.7h-1.7zM375.5 375.2h1.7v1.7h-1.7zM344.4 376.2h1.7v1.7h-1.7zM381.9 375.6h1.7v1.7h-1.7zM355.4 376.6h1.7v1.7h-1.7zM342.1 379.1h1.7v1.7h-1.7zM424.1 373.4h1.7v1.7h-1.7zM412.3 374.6h1.7v1.7h-1.7zM391.1 379.1h1.7v1.7h-1.7zM403.2 376.9h1.7v1.7h-1.7zM395.0 373.9h1.7v1.7h-1.7zM374.3 377.1h1.7v1.7h-1.7zM346.9 379.4h1.7v1.7h-1.7zM359.0 373.8h1.7v1.7h-1.7zM378.4 380.8h1.7v1.7h-1.7zM385.8 377.5h1.7v1.7h-1.7zM360.1 380.0h1.7v1.7h-1.7zM347.2 376.0h1.7v1.7h-1.7zM363.5 374.9h1.7v1.7h-1.7zM351.2 384.7h1.7v1.7h-1.7zM423.5 373.5h1.7v1.7h-1.7zM353.8 378.8h1.7v1.7h-1.7zM368.0 385.7h1.7v1.7h-1.7zM381.8 375.0h1.7v1.7h-1.7zM356.1 379.5h1.7v1.7h-1.7zM377.3 374.6h1.7v1.7h-1.7zM382.9 380.6h1.7v1.7h-1.7zM342.8 381.7h1.7v1.7h-1.7zM425.4 373.3h1.7v1.7h-1.7zM381.5 381.2h1.7v1.7h-1.7zM348.5 385.2h1.7v1.7h-1.7zM429.5 373.2h1.7v1.7h-1.7zM350.0 385.5h1.7v1.7h-1.7zM400.9 375.1h1.7v1.7h-1.7zM376.1 381.7h1.7v1.7h-1.7zM356.6 381.2h1.7v1.7h-1.7zM366.7 379.2h1.7v1.7h-1.7zM376.0 380.7h1.7v1.7h-1.7zM366.0 373.3h1.7v1.7h-1.7zM355.7 380.8h1.7v1.7h-1.7zM370.0 380.8h1.7v1.7h-1.7zM371.8 382.0h1.7v1.7h-1.7zM396.7 377.5h1.7v1.7h-1.7zM352.0 384.7h1.7v1.7h-1.7zM342.7 381.0h1.7v1.7h-1.7zM412.5 374.9h1.7v1.7h-1.7zM343.8 377.8h1.7v1.7h-1.7zM390.8 374.4h1.7v1.7h-1.7zM382.5 379.6h1.7v1.7h-1.7zM428.6 373.3h1.7v1.7h-1.7zM351.5 385.5h1.7v1.7h-1.7zM418.6 373.8h1.7v1.7h-1.7zM347.4 377.3h1.7v1.7h-1.7zM350.2 374.1h1.7v1.7h-1.7zM393.1 378.5h1.7v1.7h-1.7zM349.8 384.1h1.7v1.7h-1.7zM386.3 374.8h1.7v1.7h-1.7zM395.3 377.8h1.7v1.7h-1.7zM347.1 375.0h1.7v1.7h-1.7zM407.7 375.4h1.7v1.7h-1.7zM370.6 381.1h1.7v1.7h-1.7zM427.7 373.2h1.7v1.7h-1.7zM341.3 375.0h1.7v1.7h-1.7zM344.4 381.7h1.7v1.7h-1.7zM389.7 378.9h1.7v1.7h-1.7zM356.5 384.6h1.7v1.7h-1.7zM368.8 379.8h1.7v1.7h-1.7zM421.0 373.5h1.7v1.7h-1.7zM363.6 381.7h1.7v1.7h-1.7zM342.9 380.3h1.7v1.7h-1.7zM348.3 383.3h1.7v1.7h-1.7zM383.2 377.9h1.7v1.7h-1.7zM406.0 375.4h1.7v1.7h-1.7zM404.2 375.8h1.7v1.7h-1.7zM375.1 380.8h1.7v1.7h-1.7zM355.2 383.2h1.7v1.7h-1.7zM347.3 378.0h1.7v1.7h-1.7zM353.9 377.3h1.7v1.7h-1.7zM352.2 378.0h1.7v1.7h-1.7zM420.8 373.8h1.7v1.7h-1.7zM369.2 386.3h1.7v1.7h-1.7zM346.6 377.9h1.7v1.7h-1.7zM391.5 377.8h1.7v1.7h-1.7zM373.8 381.0h1.7v1.7h-1.7zM341.9 381.2h1.7v1.7h-1.7zM429.2 373.3h1.7v1.7h-1.7zM425.3 373.4h1.7v1.7h-1.7zM356.9 384.9h1.7v1.7h-1.7zM412.4 375.0h1.7v1.7h-1.7zM373.6 379.2h1.7v1.7h-1.7zM395.2 376.4h1.7v1.7h-1.7zM393.1 378.5h1.7v1.7h-1.7zM401.4 377.3h1.7v1.7h-1.7zM372.2 377.2h1.7v1.7h-1.7zM348.5 384.6h1.7v1.7h-1.7zM409.2 373.8h1.7v1.7h-1.7zM372.2 374.5h1.7v1.7h-1.7zM372.4 374.1h1.7v1.7h-1.7zM404.3 373.8h1.7v1.7h-1.7zM396.4 374.1h1.7v1.7h-1.7zM430.3 373.2h1.7v1.7h-1.7zM367.5 378.4h1.7v1.7h-1.7zM391.2 379.6h1.7v1.7h-1.7zM344.6 382.0h1.7v1.7h-1.7zM346.3 375.2h1.7v1.7h-1.7zM356.3 376.8h1.7v1.7h-1.7zM358.3 383.1h1.7v1.7h-1.7zM372.7 381.4h1.7v1.7h-1.7zM354.3 380.0h1.7v1.7h-1.7zM424.1 373.4h1.7v1.7h-1.7zM371.1 383.4h1.7v1.7h-1.7zM367.0 381.1h1.7v1.7h-1.7zM420.2 373.8h1.7v1.7h-1.7zM408.3 373.4h1.7v1.7h-1.7zM405.5 373.8h1.7v1.7h-1.7zM421.6 373.4h1.7v1.7h-1.7zM401.9 376.0h1.7v1.7h-1.7zM360.4 381.9h1.7v1.7h-1.7zM427.0 373.2h1.7v1.7h-1.7zM341.9 381.2h1.7v1.7h-1.7zM419.6 373.9h1.7v1.7h-1.7zM370.3 378.7h1.7v1.7h-1.7zM363.1 374.7h1.7v1.7h-1.7zM375.4 383.5h1.7v1.7h-1.7zM368.5 386.1h1.7v1.7h-1.7zM415.5 373.4h1.7v1.7h-1.7zM409.4 373.3h1.7v1.7h-1.7zM403.0 374.3h1.7v1.7h-1.7zM354.6 379.0h1.7v1.7h-1.7zM372.2 382.6h1.7v1.7h-1.7zM344.2 378.7h1.7v1.7h-1.7zM402.5 376.1h1.7v1.7h-1.7zM342.5 381.0h1.7v1.7h-1.7zM368.2 376.7h1.7v1.7h-1.7zM348.8 378.2h1.7v1.7h-1.7zM414.6 374.6h1.7v1.7h-1.7zM422.1 373.6h1.7v1.7h-1.7zM359.1 380.8h1.7v1.7h-1.7zM416.8 373.9h1.7v1.7h-1.7zM350.6 381.1h1.7v1.7h-1.7zM399.2 376.9h1.7v1.7h-1.7zM356.0 384.9h1.7v1.7h-1.7zM372.7 381.7h1.7v1.7h-1.7zM388.7 378.1h1.7v1.7h-1.7zM364.3 382.0h1.7v1.7h-1.7zM352.0 377.3h1.7v1.7h-1.7zM386.4 379.4h1.7v1.7h-1.7zM408.1 374.1h1.7v1.7h-1.7zM431.1 373.1h1.7v1.7h-1.7zM361.8 378.9h1.7v1.7h-1.7zM356.6 381.1h1.7v1.7h-1.7zM344.2 381.9h1.7v1.7h-1.7zM352.5 378.9h1.7v1.7h-1.7zM341.8 379.1h1.7v1.7h-1.7zM355.9 380.0h1.7v1.7h-1.7zM400.7 375.6h1.7v1.7h-1.7zM346.5 384.4h1.7v1.7h-1.7zM392.4 377.7h1.7v1.7h-1.7zM359.5 373.8h1.7v1.7h-1.7zM354.3 384.7h1.7v1.7h-1.7zM376.2 379.6h1.7v1.7h-1.7zM371.8 385.4h1.7v1.7h-1.7zM372.8 375.6h1.7v1.7h-1.7zM346.6 384.4h1.7v1.7h-1.7zM384.1 379.3h1.7v1.7h-1.7zM420.2 373.7h1.7v1.7h-1.7zM341.2 378.1h1.7v1.7h-1.7zM344.5 383.3h1.7v1.7h-1.7zM386.2 380.0h1.7v1.7h-1.7zM361.5 381.3h1.7v1.7h-1.7zM356.1 379.2h1.7v1.7h-1.7zM430.1 373.1h1.7v1.7h-1.7zM360.6 380.7h1.7v1.7h-1.7zM422.4 373.4h1.7v1.7h-1.7zM389.3 375.5h1.7v1.7h-1.7zM342.0 379.6h1.7v1.7h-1.7zM357.2 383.9h1.7v1.7h-1.7zM344.2 382.6h1.7v1.7h-1.7zM381.5 375.4h1.7v1.7h-1.7zM420.9 373.5h1.7v1.7h-1.7zM343.0 375.7h1.7v1.7h-1.7zM341.9 379.3h1.7v1.7h-1.7zM342.0 376.7h1.7v1.7h-1.7zM357.8 378.6h1.7v1.7h-1.7zM349.8 374.8h1.7v1.7h-1.7zM427.8 373.2h1.7v1.7h-1.7zM406.0 376.3h1.7v1.7h-1.7zM424.5 373.4h1.7v1.7h-1.7zM385.6 377.8h1.7v1.7h-1.7zM411.1 375.0h1.7v1.7h-1.7zM398.9 377.5h1.7v1.7h-1.7zM359.3 379.0h1.7v1.7h-1.7zM393.0 373.9h1.7v1.7h-1.7zM359.1 383.9h1.7v1.7h-1.7zM374.4 382.1h1.7v1.7h-1.7zM411.3 374.3h1.7v1.7h-1.7zM353.7 385.9h1.7v1.7h-1.7zM350.4 382.9h1.7v1.7h-1.7zM414.5 374.1h1.7v1.7h-1.7zM374.3 380.9h1.7v1.7h-1.7zM350.3 375.0h1.7v1.7h-1.7zM361.4 386.2h1.7v1.7h-1.7zM358.4 386.3h1.7v1.7h-1.7zM419.5 373.5h1.7v1.7h-1.7zM375.2 382.5h1.7v1.7h-1.7zM422.3 373.6h1.7v1.7h-1.7zM375.0 378.7h1.7v1.7h-1.7zM424.5 373.4h1.7v1.7h-1.7zM421.9 373.4h1.7v1.7h-1.7zM384.4 376.9h1.7v1.7h-1.7zM407.3 374.5h1.7v1.7h-1.7zM358.9 383.0h1.7v1.7h-1.7zM346.5 380.2h1.7v1.7h-1.7zM388.1 373.7h1.7v1.7h-1.7zM343.1 376.8h1.7v1.7h-1.7zM374.7 378.7h1.7v1.7h-1.7zM389.7 376.3h1.7v1.7h-1.7zM405.2 376.1h1.7v1.7h-1.7zM419.6 373.9h1.7v1.7h-1.7zM352.5 385.5h1.7v1.7h-1.7zM416.1 374.3h1.7v1.7h-1.7zM377.4 379.3h1.7v1.7h-1.7zM389.9 377.5h1.7v1.7h-1.7zM374.2 381.1h1.7v1.7h-1.7zM414.1 374.1h1.7v1.7h-1.7zM360.0 374.3h1.7v1.7h-1.7zM341.2 374.7h1.7v1.7h-1.7zM412.0 374.8h1.7v1.7h-1.7zM394.0 377.9h1.7v1.7h-1.7zM399.7 375.1h1.7v1.7h-1.7zM347.0 376.5h1.7v1.7h-1.7zM352.7 381.4h1.7v1.7h-1.7zM390.2 379.1h1.7v1.7h-1.7zM403.0 373.7h1.7v1.7h-1.7zM393.9 377.5h1.7v1.7h-1.7zM387.2 375.5h1.7v1.7h-1.7zM393.2 375.3h1.7v1.7h-1.7zM348.6 379.8h1.7v1.7h-1.7zM373.2 376.1h1.7v1.7h-1.7zM362.4 383.9h1.7v1.7h-1.7zM401.8 373.9h1.7v1.7h-1.7zM379.5 379.0h1.7v1.7h-1.7zM400.1 376.5h1.7v1.7h-1.7zM397.4 377.7h1.7v1.7h-1.7zM420.6 373.7h1.7v1.7h-1.7zM415.0 373.5h1.7v1.7h-1.7zM343.0 381.2h1.7v1.7h-1.7z" fill="#2aa8f0"/><path d="M347.8 390.4h1.6v1.6h-1.6zM348.2 389.6h1.6v1.6h-1.6zM350.0 391.4h1.6v1.6h-1.6zM353.5 392.3h1.6v1.6h-1.6zM352.2 392.4h1.6v1.6h-1.6zM341.6 387.7h1.6v1.6h-1.6zM346.0 389.4h1.6v1.6h-1.6zM346.0 388.9h1.6v1.6h-1.6zM355.8 392.9h1.6v1.6h-1.6zM349.6 387.5h1.6v1.6h-1.6zM341.8 391.3h1.6v1.6h-1.6zM335.2 386.1h1.6v1.6h-1.6zM344.5 387.5h1.6v1.6h-1.6zM350.2 393.4h1.6v1.6h-1.6zM338.9 388.5h1.6v1.6h-1.6zM342.1 386.3h1.6v1.6h-1.6zM350.4 389.2h1.6v1.6h-1.6zM358.7 395.0h1.6v1.6h-1.6zM351.2 398.1h1.6v1.6h-1.6zM361.3 392.2h1.6v1.6h-1.6zM351.2 389.6h1.6v1.6h-1.6zM349.1 388.2h1.6v1.6h-1.6zM358.1 388.3h1.6v1.6h-1.6zM348.2 389.1h1.6v1.6h-1.6zM352.7 389.8h1.6v1.6h-1.6zM339.0 388.0h1.6v1.6h-1.6zM341.1 387.5h1.6v1.6h-1.6zM345.3 388.3h1.6v1.6h-1.6zM336.5 386.2h1.6v1.6h-1.6zM347.1 388.0h1.6v1.6h-1.6z" fill="#8b1a1a"/><path d="M373.4 384.6h1.6v1.6h-1.6zM379.6 384.6h1.6v1.6h-1.6zM368.6 385.0h1.6v1.6h-1.6zM394.1 381.6h1.6v1.6h-1.6zM391.5 382.8h1.6v1.6h-1.6zM365.0 387.7h1.6v1.6h-1.6zM385.3 383.5h1.6v1.6h-1.6zM374.9 384.9h1.6v1.6h-1.6zM388.5 381.6h1.6v1.6h-1.6zM392.2 382.0h1.6v1.6h-1.6zM375.9 384.8h1.6v1.6h-1.6zM383.5 381.9h1.6v1.6h-1.6zM372.7 385.2h1.6v1.6h-1.6zM384.4 383.6h1.6v1.6h-1.6zM396.0 381.1h1.6v1.6h-1.6zM371.2 386.3h1.6v1.6h-1.6zM360.7 387.0h1.6v1.6h-1.6zM394.0 380.6h1.6v1.6h-1.6zM362.1 387.8h1.6v1.6h-1.6zM384.5 382.4h1.6v1.6h-1.6zM380.7 384.0h1.6v1.6h-1.6zM375.1 384.8h1.6v1.6h-1.6zM392.8 382.1h1.6v1.6h-1.6zM366.6 387.4h1.6v1.6h-1.6zM367.3 387.1h1.6v1.6h-1.6zM390.8 382.0h1.6v1.6h-1.6zM361.9 387.8h1.6v1.6h-1.6zM367.9 386.1h1.6v1.6h-1.6zM367.0 387.3h1.6v1.6h-1.6zM375.2 385.7h1.6v1.6h-1.6zM387.1 383.2h1.6v1.6h-1.6zM392.3 381.1h1.6v1.6h-1.6zM368.9 385.8h1.6v1.6h-1.6zM359.3 388.0h1.6v1.6h-1.6zM385.9 382.6h1.6v1.6h-1.6zM393.9 380.4h1.6v1.6h-1.6zM360.3 387.4h1.6v1.6h-1.6zM379.1 382.2h1.6v1.6h-1.6zM379.4 383.4h1.6v1.6h-1.6zM378.3 383.0h1.6v1.6h-1.6zM383.4 383.9h1.6v1.6h-1.6zM369.0 385.0h1.6v1.6h-1.6zM389.8 382.6h1.6v1.6h-1.6zM369.1 386.0h1.6v1.6h-1.6zM393.8 381.7h1.6v1.6h-1.6z" fill="#3050d8"/><path d="M402.7 381.3h1.6v1.6h-1.6zM397.0 378.3h1.6v1.6h-1.6zM404.1 379.5h1.6v1.6h-1.6zM396.5 380.7h1.6v1.6h-1.6zM403.2 379.9h1.6v1.6h-1.6zM394.3 379.1h1.6v1.6h-1.6zM401.7 376.4h1.6v1.6h-1.6zM400.0 378.6h1.6v1.6h-1.6zM398.0 378.5h1.6v1.6h-1.6zM403.2 380.1h1.6v1.6h-1.6zM400.5 378.8h1.6v1.6h-1.6zM396.9 379.2h1.6v1.6h-1.6z" fill="#7030c0"/><path d="M435.7 372.0h1.4v1.4h-1.4zM422.7 370.9h1.4v1.4h-1.4zM436.3 371.2h1.4v1.4h-1.4zM422.4 370.5h1.4v1.4h-1.4zM426.9 369.9h1.4v1.4h-1.4zM432.6 371.7h1.4v1.4h-1.4zM437.0 370.6h1.4v1.4h-1.4zM417.4 371.7h1.4v1.4h-1.4zM413.7 371.1h1.4v1.4h-1.4zM441.6 371.5h1.4v1.4h-1.4zM435.8 371.0h1.4v1.4h-1.4zM434.5 371.3h1.4v1.4h-1.4zM430.3 371.2h1.4v1.4h-1.4zM425.4 370.8h1.4v1.4h-1.4zM452.5 371.5h1.4v1.4h-1.4zM454.3 372.6h1.4v1.4h-1.4zM434.5 372.0h1.4v1.4h-1.4zM416.6 370.8h1.4v1.4h-1.4zM443.4 370.7h1.4v1.4h-1.4zM448.1 370.5h1.4v1.4h-1.4zM430.5 368.8h1.4v1.4h-1.4zM421.0 370.5h1.4v1.4h-1.4zM442.9 371.7h1.4v1.4h-1.4zM442.0 370.9h1.4v1.4h-1.4zM433.9 370.3h1.4v1.4h-1.4z" fill="#d02020"/><path d="M453.8 372.7h1.4v1.4h-1.4zM407.1 371.8h1.4v1.4h-1.4zM460.6 372.2h1.4v1.4h-1.4zM444.4 372.6h1.4v1.4h-1.4zM469.9 371.7h1.4v1.4h-1.4zM414.7 371.4h1.4v1.4h-1.4zM430.9 371.8h1.4v1.4h-1.4zM442.8 371.7h1.4v1.4h-1.4zM442.5 371.3h1.4v1.4h-1.4zM413.6 372.0h1.4v1.4h-1.4zM468.5 372.8h1.4v1.4h-1.4zM412.2 372.3h1.4v1.4h-1.4zM442.9 371.7h1.4v1.4h-1.4zM443.6 372.0h1.4v1.4h-1.4zM437.0 372.7h1.4v1.4h-1.4zM430.8 371.4h1.4v1.4h-1.4zM461.7 372.1h1.4v1.4h-1.4zM443.3 371.3h1.4v1.4h-1.4zM456.9 371.6h1.4v1.4h-1.4zM461.4 372.4h1.4v1.4h-1.4zM476.9 372.2h1.4v1.4h-1.4zM442.2 372.4h1.4v1.4h-1.4zM434.5 372.4h1.4v1.4h-1.4zM479.0 372.4h1.4v1.4h-1.4zM482.7 372.0h1.4v1.4h-1.4zM475.6 371.6h1.4v1.4h-1.4zM413.8 372.3h1.4v1.4h-1.4zM477.5 371.9h1.4v1.4h-1.4zM454.8 372.1h1.4v1.4h-1.4zM444.1 372.2h1.4v1.4h-1.4zM409.1 371.4h1.4v1.4h-1.4zM409.2 372.1h1.4v1.4h-1.4zM475.7 371.6h1.4v1.4h-1.4zM426.0 372.1h1.4v1.4h-1.4zM445.1 372.5h1.4v1.4h-1.4zM437.9 371.7h1.4v1.4h-1.4zM436.0 372.7h1.4v1.4h-1.4zM437.4 372.6h1.4v1.4h-1.4zM423.0 372.0h1.4v1.4h-1.4zM478.3 372.2h1.4v1.4h-1.4z" fill="#3050d8"/><line x1="297.8" y1="373.00" x2="494.6" y2="373.00" stroke="#111" stroke-width="1.5"/><text x="320.00" y="309.60" font-size="10.5" text-anchor="start" fill="#8a2a2a" color="#8a2a2a" >Ge-Ge</text><text x="333.00" y="325.40" font-size="10.5" text-anchor="start" fill="#d83030" color="#d83030" >Ge-Sb</text><text x="341.80" y="343.60" font-size="10.5" text-anchor="start" fill="#e0d050" color="#e0d050" >Sb-Sb</text><text x="361.70" y="369.50" font-size="10.5" text-anchor="start" fill="#30a8e0" color="#30a8e0" >Se-Se</text><text x="369.00" y="400.00" font-size="10.5" text-anchor="start" fill="#3848d0" color="#3848d0" >Se-Te</text><text x="399.70" y="388.50" font-size="10.5" text-anchor="start" fill="#7838c0" color="#7838c0" >Te-Te</text><path d="M297.8,230.9 L494.6,230.9 L494.6,409.0 L297.8,409.0 Z" fill="none" stroke="#1a1a1a" stroke-width="1.5"/><line x1="297.8" y1="290.2" x2="494.6" y2="290.2" stroke="#1a1a1a" stroke-width="1.5"/><line x1="297.80" y1="290.2" x2="297.80" y2="287.7" stroke="#1a1a1a" stroke-width="1.4"/><line x1="297.80" y1="409.0" x2="297.80" y2="406.5" stroke="#1a1a1a" stroke-width="1.4"/><line x1="317.48" y1="290.2" x2="317.48" y2="288.59999999999997" stroke="#1a1a1a" stroke-width="1.4"/><line x1="317.48" y1="409.0" x2="317.48" y2="407.4" stroke="#1a1a1a" stroke-width="1.4"/><line x1="337.16" y1="290.2" x2="337.16" y2="287.7" stroke="#1a1a1a" stroke-width="1.4"/><line x1="337.16" y1="409.0" x2="337.16" y2="406.5" stroke="#1a1a1a" stroke-width="1.4"/><line x1="356.84" y1="290.2" x2="356.84" y2="288.59999999999997" stroke="#1a1a1a" stroke-width="1.4"/><line x1="356.84" y1="409.0" x2="356.84" y2="407.4" stroke="#1a1a1a" stroke-width="1.4"/><line x1="376.52" y1="290.2" x2="376.52" y2="287.7" stroke="#1a1a1a" stroke-width="1.4"/><line x1="376.52" y1="409.0" x2="376.52" y2="406.5" stroke="#1a1a1a" stroke-width="1.4"/><line x1="396.20" y1="290.2" x2="396.20" y2="288.59999999999997" stroke="#1a1a1a" stroke-width="1.4"/><line x1="396.20" y1="409.0" x2="396.20" y2="407.4" stroke="#1a1a1a" stroke-width="1.4"/><line x1="415.88" y1="290.2" x2="415.88" y2="287.7" stroke="#1a1a1a" stroke-width="1.4"/><line x1="415.88" y1="409.0" x2="415.88" y2="406.5" stroke="#1a1a1a" stroke-width="1.4"/><line x1="435.56" y1="290.2" x2="435.56" y2="288.59999999999997" stroke="#1a1a1a" stroke-width="1.4"/><line x1="435.56" y1="409.0" x2="435.56" y2="407.4" stroke="#1a1a1a" stroke-width="1.4"/><line x1="455.24" y1="290.2" x2="455.24" y2="287.7" stroke="#1a1a1a" stroke-width="1.4"/><line x1="455.24" y1="409.0" x2="455.24" y2="406.5" stroke="#1a1a1a" stroke-width="1.4"/><line x1="474.92" y1="290.2" x2="474.92" y2="288.59999999999997" stroke="#1a1a1a" stroke-width="1.4"/><line x1="474.92" y1="409.0" x2="474.92" y2="407.4" stroke="#1a1a1a" stroke-width="1.4"/><line x1="494.60" y1="290.2" x2="494.60" y2="287.7" stroke="#1a1a1a" stroke-width="1.4"/><line x1="494.60" y1="409.0" x2="494.60" y2="406.5" stroke="#1a1a1a" stroke-width="1.4"/><line x1="297.8" y1="290.20" x2="300.3" y2="290.20" stroke="#1a1a1a" stroke-width="1.4"/><line x1="297.8" y1="278.34" x2="299.40000000000003" y2="278.34" stroke="#1a1a1a" stroke-width="1.4"/><line x1="297.8" y1="266.48" x2="300.3" y2="266.48" stroke="#1a1a1a" stroke-width="1.4"/><line x1="297.8" y1="254.62" x2="299.40000000000003" y2="254.62" stroke="#1a1a1a" stroke-width="1.4"/><line x1="297.8" y1="242.76" x2="300.3" y2="242.76" stroke="#1a1a1a" stroke-width="1.4"/><line x1="297.8" y1="230.90" x2="299.40000000000003" y2="230.90" stroke="#1a1a1a" stroke-width="1.4"/><line x1="297.8" y1="408.02" x2="299.40000000000003" y2="408.02" stroke="#1a1a1a" stroke-width="1.4"/><line x1="297.8" y1="396.35" x2="300.3" y2="396.35" stroke="#1a1a1a" stroke-width="1.4"/><line x1="297.8" y1="384.68" x2="299.40000000000003" y2="384.68" stroke="#1a1a1a" stroke-width="1.4"/><line x1="297.8" y1="373.00" x2="300.3" y2="373.00" stroke="#1a1a1a" stroke-width="1.4"/><line x1="297.8" y1="361.32" x2="299.40000000000003" y2="361.32" stroke="#1a1a1a" stroke-width="1.4"/><line x1="297.8" y1="349.65" x2="300.3" y2="349.65" stroke="#1a1a1a" stroke-width="1.4"/><line x1="297.8" y1="337.98" x2="299.40000000000003" y2="337.98" stroke="#1a1a1a" stroke-width="1.4"/><line x1="297.8" y1="326.30" x2="300.3" y2="326.30" stroke="#1a1a1a" stroke-width="1.4"/><line x1="297.8" y1="314.62" x2="299.40000000000003" y2="314.62" stroke="#1a1a1a" stroke-width="1.4"/><line x1="297.8" y1="302.95" x2="300.3" y2="302.95" stroke="#1a1a1a" stroke-width="1.4"/><text x="293.80" y="293.10" font-size="11" text-anchor="end" fill="#111" color="#111" >0</text><text x="293.80" y="269.38" font-size="11" text-anchor="end" fill="#111" color="#111" >2</text><text x="293.80" y="245.66" font-size="11" text-anchor="end" fill="#111" color="#111" >4</text><text x="293.80" y="305.85" font-size="11" text-anchor="end" fill="#111" color="#111" >0.3</text><text x="293.80" y="329.20" font-size="11" text-anchor="end" fill="#111" color="#111" >0.2</text><text x="293.80" y="352.55" font-size="11" text-anchor="end" fill="#111" color="#111" >0.1</text><text x="293.80" y="375.90" font-size="11" text-anchor="end" fill="#111" color="#111" >0.0</text><text x="293.80" y="399.25" font-size="11" text-anchor="end" fill="#111" color="#111" >-0.1</text><text x="297.80" y="421.50" font-size="11" text-anchor="middle" fill="#111" color="#111" >2</text><text x="337.16" y="421.50" font-size="11" text-anchor="middle" fill="#111" color="#111" >3</text><text x="376.52" y="421.50" font-size="11" text-anchor="middle" fill="#111" color="#111" >4</text><text x="415.88" y="421.50" font-size="11" text-anchor="middle" fill="#111" color="#111" >5</text><text x="455.24" y="421.50" font-size="11" text-anchor="middle" fill="#111" color="#111" >6</text><text x="494.60" y="421.50" font-size="11" text-anchor="middle" fill="#111" color="#111" >7</text><text x="396.60" y="435.60" font-size="11.4" text-anchor="middle" fill="#111" color="#111" >Distance (Å)</text><text x="0" y="0" font-size="11" text-anchor="middle" fill="#111" color="#111" transform="translate(270.80,256.00) rotate(-90)">RDF</text><text x="0" y="0" font-size="12.2" text-anchor="middle" fill="#111" color="#111" transform="translate(269.8,348.8) rotate(-90)">B<tspan font-size="9.8" dy="3.3">AB</tspan><tspan dy="-3.3"> (electrons)</tspan></text><text x="487.00" y="304.70" font-size="11.4" text-anchor="end" fill="#111" color="#111" >GSS4T1</text><line x1="329" y1="238.3" x2="350.6" y2="238.3" stroke="#8b1a1a" stroke-width="1.4"/><text x="354.20" y="240.90" font-size="9.6" text-anchor="start" fill="#111" color="#111" >Ge-Ge</text><line x1="384.7" y1="238.3" x2="406.3" y2="238.3" stroke="#e84848" stroke-width="1.4"/><text x="410.00" y="240.90" font-size="9.6" text-anchor="start" fill="#111" color="#111" >Ge-Sb</text><line x1="439.8" y1="238.3" x2="461.40000000000003" y2="238.3" stroke="#20a8e8" stroke-width="1.4"/><text x="463.90" y="240.90" font-size="9.6" text-anchor="start" fill="#111" color="#111" >Se-Se</text><line x1="329" y1="249.1" x2="350.6" y2="249.1" stroke="#e8d040" stroke-width="1.4"/><text x="354.20" y="251.70" font-size="9.6" text-anchor="start" fill="#111" color="#111" >Sb-Sb</text><line x1="384.7" y1="249.1" x2="406.3" y2="249.1" stroke="#3050d8" stroke-width="1.4"/><text x="410.00" y="251.70" font-size="9.6" text-anchor="start" fill="#111" color="#111" >Se-Te</text><line x1="439.8" y1="249.1" x2="461.40000000000003" y2="249.1" stroke="#7030c0" stroke-width="1.4"/><text x="463.90" y="251.70" font-size="9.6" text-anchor="start" fill="#111" color="#111" >Te-Te</text></svg></body></html>
